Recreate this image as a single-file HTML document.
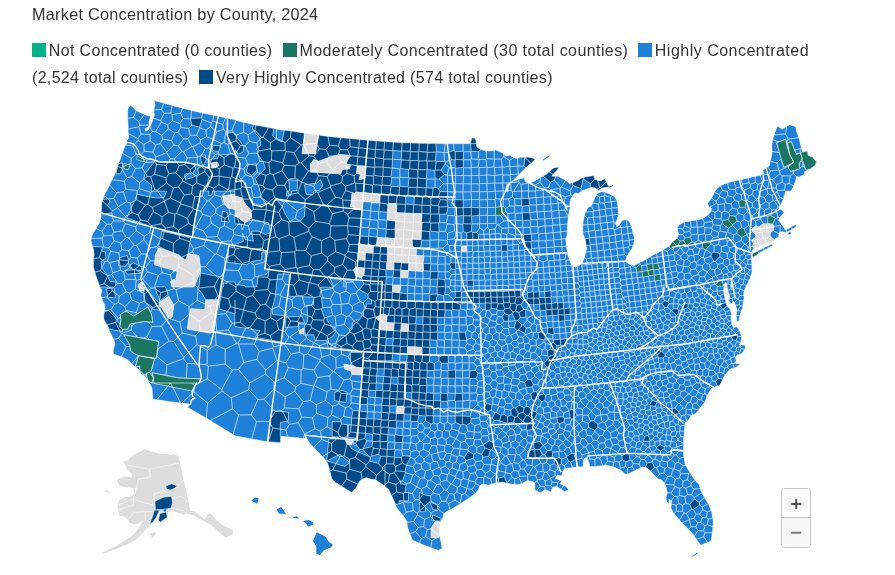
<!DOCTYPE html>
<html lang="en"><head><meta charset="utf-8"><title>Market Concentration by County, 2024</title>
<style>
html,body{margin:0;padding:0;background:#fff;}
body{width:895px;height:575px;position:relative;overflow:hidden;font-family:"Liberation Sans",sans-serif;color:#333;}
.t{position:absolute;white-space:nowrap;line-height:1;}
.title{left:32px;top:6.4px;font-size:16.2px;letter-spacing:0.29px;}
.lg{font-size:16px;}
.sw{position:absolute;width:14px;height:14px;}
.zc{position:absolute;left:781px;top:488px;width:28px;height:58px;border:1px solid #c8c8c8;border-radius:4px;background:#fff;overflow:hidden;}
.zc div{position:absolute;left:0;width:28px;height:27.6px;}
.zc .p{top:0;background:#fff;border-bottom:1px solid #c8c8c8;}
.zc .m{top:28.6px;height:30px;background:#f7f7f7;}
</style></head><body>
<svg width="895" height="575" viewBox="0 0 895 575" style="position:absolute;left:0;top:0">
<g stroke="#fff" stroke-width="0.36" stroke-linejoin="round">
<path fill="#1e80d6" d="M391.8,177.6 390.6,185.8 391,186.4 399.5,186.7 399.9,186.4 399.6,177.7ZM399.9,177.5 399.9,168.9 392,168 392,168 390.9,176.7 391.8,177.6 399.6,177.7ZM401.5,159.9 401.5,159.8 392.5,159.3 392,168 399.9,168.9 400.6,168.4ZM401.6,151 392.8,150.6 392.8,150.7 392.5,159.2 392.5,159.3 401.5,159.8ZM408.6,177.6 399.9,177.5 399.6,177.7 399.9,186.4 408.1,186.9 409,178.1ZM400.6,168.4 399.9,168.9 399.9,177.5 408.6,177.6 408.9,169.5ZM426.6,179.1 426,187.8 426,187.9 433,188.2 435.1,187.3 434.9,179.1ZM435.2,178.8 435,170.2 427.3,169.5 427,169.8 426.3,178.8 426.6,179.1 434.9,179.1ZM435.1,187.3 438.4,188.8 443.4,183.7 439,178.9 435.2,178.8 434.9,179.1ZM436.2,151.8 435.9,152.1 435.6,161.1 436,161.4 444.4,161.5 444.1,152.6ZM436.2,151.8 444.1,152.6 444.2,152.5 445,143.7 435.8,143.6ZM444.4,161.5 444.9,162 451.6,159.7 448.5,152.4 444.2,152.5 444.1,152.6ZM448.5,152.4 453.9,150.5 453.6,143.8 447.3,143.8 445,143.7 444.2,152.5ZM361.9,210.1 353.7,209.1 361.6,210 361.4,215.3ZM360.8,227.3 359.9,235.7 360.3,236.2 368.5,236.7 368.7,236.6 369.4,228.2 369,227.7ZM369.9,219.3 361.3,218.6 360.6,227.1 360.8,227.3 369,227.7 370.1,219.6ZM370.6,211 370.4,210.8 362,210 361.9,210.1 361,218.2 361.3,218.6 369.9,219.3ZM362.7,201.6 362,210 370.4,210.8 371.5,202.9 370.8,202ZM368.7,236.6 377.2,237.2 377.7,228.8 369.4,228.2ZM369,227.7 369.4,228.2 377.7,228.8 378.2,228.4 378.1,220.2 370.1,219.6ZM378.1,220.2 378.6,219.7 378.8,211.7 370.6,211 369.9,219.3 370.1,219.6ZM371.5,202.9 370.4,210.8 370.6,211 378.8,211.7 379,211.5 379.7,203ZM377.7,228.8 377.2,237.2 377.4,237.5 385.6,237.9 385.8,237.7 386.5,229.3 386.3,229 378.2,228.4ZM378.2,228.4 386.3,229 387,220.3 378.6,219.7 378.1,220.2ZM378.8,211.7 378.6,219.7 387,220.3 387.1,220.1 387.7,212.2 387.6,212.1 379,211.5ZM405.6,204.2 413.8,204.7 414.1,204.5 414.3,197 408,194.7 405.6,196.6ZM429.9,240.2 429.7,240 421.6,240.1 420.8,246.9 423.7,249 430,247.4ZM431,248.4 438.1,248.3 438.4,248 438.5,239.9 438.5,239.8 429.9,240.2 430,247.4ZM438.5,239.8 438.6,231.9 430.2,231 429.6,231.6 429.7,240 429.9,240.2ZM438.4,248 442.8,248.4 447.6,243.8 447,240.4 438.5,239.9ZM438.5,239.9 447,240.4 447.5,239.7 447.4,233.2 445.4,231.3 439,231.4 438.6,231.9 438.5,239.8ZM445.4,231.3 447.3,223.8 446.4,222.9 439.4,222.3 438.7,222.9 439,231.4ZM446.4,222.9 448,215.5 446.5,213.9 439,214.1 439.4,222.3ZM447.5,239.7 454.6,238.9 456.1,232.6 454.4,231 447.4,233.2ZM392.6,284.9 393.3,277.4 393,277 386.1,276.9 385.6,284.4 392.5,284.9ZM385.9,276.7 386.1,276.9 393,277 393.6,269.9 386.6,269.2 385.9,269.8ZM400.4,277.8 393.3,277.4 392.6,284.9 400.4,285.1ZM399.8,292.7 400,293.1 407.2,293.8 407.5,293.5 407.8,285.6 400.7,285.5ZM407.8,285.6 407.8,285.6 408.4,278.2 408,277.8 400.5,277.7 400.4,277.8 400.4,285.1 400.7,285.5ZM414.7,293.7 414.6,293.6 407.5,293.5 407.2,293.8 407.2,300.8 414.5,301.1ZM407.8,285.6 407.8,285.6 407.5,293.5 414.6,293.6 414.9,286.3ZM415.3,278.2 408.4,278.2 407.8,285.6 414.9,286.3 415.3,286 415.8,278.7ZM415.8,271 408.5,270.5 408.3,270.6 408,277.8 408.4,278.2 415.3,278.2ZM415.5,302.1 422.1,300.5 422.4,293.9 414.7,293.7 414.5,301.1ZM422.4,293.9 422.4,293.9 422.2,286.7 415.3,286 414.9,286.3 414.6,293.6 414.7,293.7ZM415.3,286 422.2,286.7 422.7,286.1 422.8,278.7 415.8,278.7ZM422.8,278.7 423,278.5 422.8,271.5 415.9,270.9 415.8,271 415.3,278.2 415.8,278.7ZM423.7,249 420.8,246.9 416.5,248.4 416.1,255.6 416.2,255.7 423.5,255.6ZM422.1,300.5 424,302.1 429.8,301.3 429.9,294.3 429.4,293.8 422.4,293.9 422.4,293.9ZM429.4,293.8 430.1,286.3 422.7,286.1 422.2,286.7 422.4,293.9ZM423,278.5 422.8,278.7 422.7,286.1 430.1,286.3 430.2,286.2 430.2,278.9 430.1,278.8ZM430.7,271.8 430.1,271.1 423.5,270.8 422.8,271.5 423,278.5 430.1,278.8ZM423,263.4 423.2,263.7 430.7,263.7 430.6,256.4 423.9,256ZM430.6,256.4 430.8,256.2 431,248.4 430,247.4 423.7,249 423.5,255.6 423.9,256ZM437.2,286.9 430.2,286.2 430.1,286.3 429.4,293.8 429.9,294.3 437.3,294.2ZM430.2,286.2 437.2,286.9 437.2,286.8 437.9,279.1 437.8,279 430.2,278.9ZM430.8,263.8 430.1,271.1 430.7,271.8 437.8,271.5 437.8,264.4 437.6,264.2ZM430.7,263.7 430.8,263.8 437.6,264.2 438,256.3 430.8,256.2 430.6,256.4ZM438,256.3 438.3,256.1 438.1,248.3 431,248.4 430.8,256.2ZM437.8,279 437.9,279.1 444.8,279.6 445.4,279 445.2,271.8 445.2,271.8 438,271.7ZM437.8,264.4 437.8,271.5 438,271.7 445.2,271.8 445.2,264ZM438.3,256.1 438,256.3 437.6,264.2 437.8,264.4 445.2,264 445.2,263.9 445.1,256.6ZM446.8,255 446.9,254.4 442.8,248.4 438.4,248 438.1,248.3 438.3,256.1 445.1,256.6ZM448.5,294.7 451.5,291.8 448.5,286.7 445.3,286.7 444.7,294.5ZM445.3,286.7 448.5,286.7 450.3,285.9 450.8,279.9 449.2,279 445.4,279 444.8,279.6 445.2,286.6ZM449.2,279 451.6,274.5 448.5,271.7 445.2,271.8 445.4,279ZM445.2,263.9 445.2,264 445.2,271.8 445.2,271.8 448.5,271.7 451.5,268.9 449.4,264.1ZM445.2,263.9 449.4,264.1 451,263.1 450.7,257.2 446.8,255 445.1,256.6ZM392.9,345.8 393.4,338.6 393,338.1 386,338 385.7,345.5 392.9,345.9ZM392.4,361.1 399.6,361.1 400.1,353.9 392.8,353.2 392.6,353.4 391.9,360.7ZM406.8,361.9 407.4,354.3 407.3,354.1 400.1,353.8 400.1,353.9 399.6,361.1 400.1,361.7ZM416,324.3 423,324.6 423.1,316.7 416.3,316.7 416.2,316.8 415.5,323.8ZM436.9,355.1 429.6,355.4 429.4,361.7 434.1,363.5 439.1,360.5 439.2,357.2ZM436.9,355.1 436.5,347.6 429.7,347.4 429.6,347.5 429.1,354.9 429.6,355.4ZM430,339.6 429.7,339.8 429.7,347.4 436.5,347.6 437.1,347 437,340.2ZM444.4,347.5 437.1,347 436.5,347.6 436.9,355.1 439.2,357.2 444.1,354.4 444.4,347.6ZM437.6,339.7 437,340.2 437.1,347 444.4,347.5 444.5,340ZM444.7,332.5 444.4,332.3 437.6,332.2 437.6,339.7 444.5,340 445,339.6ZM437.5,324.8 437.4,332.1 437.6,332.2 444.4,332.3 444.9,325 444.5,324.5ZM444.8,317.5 444.6,317.3 437.5,317.1 437.4,324.7 437.5,324.8 444.5,324.5ZM451.6,347.5 444.4,347.6 444.1,354.4 448.2,356.1 451.6,354.6ZM451.7,347.4 451.8,340.1 451.6,339.9 445,339.6 444.5,340 444.4,347.5 444.4,347.6 451.6,347.5ZM452.3,332.5 452,332.2 444.7,332.5 445,339.6 451.6,339.9ZM444.4,332.3 444.7,332.5 452,332.2 451.7,325.1 444.9,325ZM444.9,325 451.7,325.1 452.1,324.7 451.9,317.6 444.8,317.5 444.5,324.5ZM445,309.7 445,309.8 444.6,317.3 444.8,317.5 451.9,317.6 452.1,317.4 451.6,310ZM453.3,299.7 448.5,294.7 444.7,294.5 443.4,295.6 444,301.5 445,302.5 452.3,302 453,301.4ZM451.7,347.4 451.6,347.5 451.6,354.6 455.1,356.1 459.1,354.4 458.8,347.7ZM459.4,340.2 451.8,340.1 451.7,347.4 458.8,347.7 458.9,347.6ZM458.9,332.5 452.3,332.5 451.6,339.9 451.8,340.1 459.4,340.2 459.4,340.1ZM451.7,325.1 452,332.2 452.3,332.5 458.9,332.5 459.1,332.4 459.2,325 459.2,324.9 452.1,324.7ZM451.9,317.6 452.1,324.7 459.2,324.9 459.3,317.3 459,317.1 452.1,317.4ZM452.1,317.4 459,317.1 459.2,309.9 452.3,309.5 451.6,310ZM458.8,347.7 459.1,354.4 462.1,356 466.4,354.4 467.1,351.5 464.8,347.7 458.9,347.6ZM466.4,340.1 459.4,340.1 459.4,340.2 458.9,347.6 464.8,347.7 467.2,343.5ZM466.3,324.9 459.2,325 459.1,332.4 465.1,332.3 467.4,330.2 467.3,325.7ZM459.3,317.3 459.2,324.9 459.2,325 466.3,324.9 465.9,317.4ZM467.2,316.2 466.1,310.2 460.2,308.9 459.2,309.9 459,317.1 459.3,317.3 465.9,317.4ZM404.6,392.4 404.2,399.1 404.5,399.5 411.8,400 411.9,399.9 411.9,392.4ZM417.5,421.6 419,423.5 422.2,423.6 425.5,420.8 425.8,415.9 418.7,415.3ZM433.6,393.4 433.7,393.3 433.7,385.4 433.6,385.3 426.7,385.4 426.6,392.8ZM426.7,385.4 433.6,385.3 434.1,378.1 426.8,377.5 426.3,378 426.7,385.4ZM427.1,370.3 427,370.4 426.8,377.5 434.1,378.1 434.4,377.9 433.9,370.3ZM437,424.2 440.1,422.3 440.2,416.1 440.2,416.1 433.1,415.9 433,422.9ZM432.9,415.7 433.1,415.9 440.2,416.1 440.3,408.6 433.4,408.4ZM433.7,393.3 433.6,393.4 433.4,400.5 433.5,400.6 440.5,401 440.8,393.3 440.7,393.1ZM440.9,385.9 433.7,385.4 433.7,393.3 440.7,393.1ZM441.2,378.3 440.7,377.8 434.4,377.9 434.1,378.1 433.6,385.3 433.7,385.4 440.9,385.9 441.2,385.6ZM434,370.1 433.9,370.3 434.4,377.9 440.7,377.8 441.3,370.4 440.9,370ZM434.1,363.5 434,370.1 440.9,370 441.5,363.1 439.1,360.5ZM440.2,416.1 440.1,422.3 444.2,424.1 447.6,422.1 447.8,416.1ZM447.5,408.8 440.3,408.5 440.3,408.6 440.2,416.1 440.2,416.1 447.8,416.1 448,415.9ZM440.6,401.1 440.3,408.5 447.5,408.8 448.2,408.1 447.6,401.1ZM440.8,393.3 447.5,393.6 448,393.1 448,385.9 441.2,385.6 440.9,385.9 440.7,393.1ZM448,385.9 448.4,385.6 448.3,378 448.2,378 441.2,378.3 441.2,385.6ZM448.1,370.9 441.3,370.4 440.7,377.8 441.2,378.3 448.2,378ZM447.9,363.1 441.5,363.1 440.9,370 441.3,370.4 448.1,370.9 448.5,370.5ZM455.2,416 448,415.9 447.8,416.1 447.6,422.1 451.9,424.6 455.3,422.3 455.3,416.1ZM448.2,408.1 447.5,408.8 448,415.9 455.2,416 455.4,408.2 455.4,408.2ZM455,400.4 447.9,400.8 447.6,401.1 448.2,408.1 455.4,408.2 455.5,400.9ZM447.5,393.6 447.9,400.8 455,400.4 455.4,393.4 448,393.1ZM455.4,393.4 455.4,393.4 455.2,385.9 455.2,385.9 448.4,385.6 448,385.9 448,393.1ZM448.4,385.6 455.2,385.9 455.5,378 448.3,378ZM455.3,363.2 455,362.9 448.3,362.8 447.9,363.1 448.5,370.5 455.2,370.1ZM448.2,356.1 448.3,362.8 455,362.9 455.1,356.1 451.6,354.6ZM462.4,416.1 462.5,416 462.8,408.4 462.7,408.4 455.4,408.2 455.2,416 455.3,416.1ZM455.4,408.2 455.4,408.2 462.7,408.4 462.7,400.9 462.6,400.8 455.5,400.9ZM462.1,393.4 462.4,393.1 462.2,385.6 455.2,385.9 455.4,393.4ZM455.2,385.9 455.2,385.9 462.2,385.6 462.5,385.3 462.3,378.2 455.6,377.9 455.5,378ZM455.6,377.9 462.3,378.2 462.5,378 462.5,370.5 462.3,370.3 455.4,370.3ZM455.3,363.2 455.2,370.1 455.4,370.3 462.3,370.3 462.4,362.9 462.3,362.7ZM459.1,354.4 455.1,356.1 455,362.9 455.3,363.2 462.3,362.7 462.1,356ZM462.8,408.4 462.5,416 469.9,416.5 471.8,410.5 471.7,410.3 469.6,408.4ZM462.8,408.4 469.6,408.4 470,400.6 469.7,400.3 462.7,400.9 462.7,408.4ZM462.7,400.9 469.7,400.3 469.6,393.2 469.4,393 462.4,393.1 462.1,393.4 462.6,400.8ZM469.3,385.8 462.5,385.3 462.2,385.6 462.4,393.1 469.4,393ZM469.9,378.2 469.5,377.8 462.5,378 462.3,378.2 462.5,385.3 469.3,385.8 469.5,385.6ZM469.1,370.2 462.5,370.5 462.5,378 469.5,377.8 469.9,370.9ZM462.4,362.9 462.3,370.3 462.5,370.5 469.1,370.2 469.2,362.9ZM462.1,356 462.3,362.7 462.4,362.9 469.2,362.9 469.2,362.9 469.1,356.8 466.4,354.4ZM469.6,408.4 471.7,410.3 477.9,404.4 477.8,402.5 476.3,400.8 470,400.6ZM469.6,393.2 469.7,400.3 470,400.6 476.3,400.8 477.7,394.6 476.1,392.8ZM469.5,385.6 469.3,385.8 469.4,393 469.6,393.2 476.1,392.8 477.4,386.4 477.1,385.7ZM478.1,381.4 476,378.4 469.9,378.2 469.5,385.6 477.1,385.7ZM469.2,362.9 469.1,370.2 469.9,370.9 475.4,370.4 476.8,366.5 473.6,362.9 469.2,362.9ZM469.1,356.8 469.2,362.9 473.6,362.9 476.7,358.3 474.6,355.3ZM350.5,432.1 348.3,434.2 349,425 351.1,425.2 347.3,424.8 347.6,435 345.2,437.3 341.9,437.2 339.5,436.3 344.4,438.1ZM351.6,418.1 343.7,416.3 340.6,418.9 341.3,424.1 351.1,425.2 351.4,425 351.6,418.1ZM355,439.1 355,438.4 357.6,438.4 358,432.8 357.9,432.6 350.5,432.1 356.7,432.5 356.5,438 348.1,437.5 348.3,434.2 347.5,435 347.6,435 347.6,437.5 345.2,437.3 344.4,438.1 347.4,441.9 345.2,439.2 353.1,439.6 352.2,442.7 354,443.1 354,439.1ZM360.4,404.5 359.9,403.9 351.2,403 349,406.5 353.1,410.6 359.4,411.1ZM360.5,396.9 351,396 351.2,403 359.9,403.9ZM361.4,389.6 361.3,389.6 352.8,388.8 349.8,394.1 351,396 360.5,396.9 360.9,396.7ZM361.7,382 351.7,381.2 352.8,388.8 361.3,389.6 361.9,382.3ZM351.8,374.5 350,378.9 351.7,381.2 361.7,382 362.5,374.8ZM361.2,367.8 362.7,368 362.8,367.9 362.9,367.5ZM363.2,357.2 363.2,364.1 363.8,357.7ZM350.7,365.4 350.8,365.5 352.3,365.8 355.4,367.1 356.3,367.2 352.3,364.9 351.4,362.6 351.1,362.7ZM367.2,411.8 367.3,411.8 367.4,404.4 360.4,404.5 359.4,411.1 359.5,411.2ZM366.6,440.7 363,448.9 372.1,446.5 372.6,441.6 372.3,441.2ZM365.5,433.5 364.8,438.4 366.6,440.7 372.3,441.2 372.7,434.1ZM366.6,418.8 366.7,418.9 373.9,419.1 374,419 374.1,412.1 374.1,412 367.3,411.8 367.2,411.8ZM374.1,412 374.8,404.9 374.6,404.7 367.5,404.2 367.4,404.4 367.3,411.8ZM374.6,404.7 375.1,397.6 368.5,396.8 367.5,397.7 367.5,404.2ZM368.5,396.8 375.1,397.6 375.5,397.3 375.9,390.5 375.9,390.5 368.6,390.1ZM381.3,419.6 381.6,412.5 374.1,412.1 374,419ZM374.8,404.9 374.1,412 374.1,412.1 381.6,412.5 381.8,412.3 382,405.3 381.9,405.2ZM382.6,398 375.5,397.3 375.1,397.6 374.6,404.7 374.8,404.9 381.9,405.2 382.7,398.2ZM375.9,390.5 375.9,390.5 382.8,390.6 383,383.7 376.4,382.8 376,383.2ZM376.4,376.1 376.4,382.8 383,383.7 383.1,383.6 383.9,376.5 376.6,375.9ZM377.4,368.8 377.2,369 376.6,375.9 383.9,376.5 384,376.4 384.4,368.7ZM387.1,449.5 394.4,449.3 394.8,442.3 394.8,442.3 387.7,442ZM387.7,442 394.8,442.3 395,435.3 387.9,434.6 387.9,434.6 387.3,441.5ZM395.9,428.1 388.7,427.6 387.9,434.6 395,435.3 395.5,434.9ZM389.2,412.7 396.3,413.3 396.9,406.2 396.5,405.8 389.5,405.7 389.4,405.8ZM390.5,383.8 397.5,384.6 398.2,384 398.1,377 391.2,376.9 390.9,377.1ZM394.6,457.6 401.2,457.5 402.5,455.7 401.8,450 394.8,449.7 394.2,457.1ZM402.3,442.6 394.8,442.3 394.4,449.3 394.8,449.7 401.8,450 402.3,449.4 402.4,442.7ZM396,427.9 395.9,428.1 395.5,434.9 402.6,435.7 403,428.4ZM396.2,420.7 396,427.9 403,428.4 403.6,428 403.6,421.1ZM410.5,443 402.4,442.7 402.3,449.4 409.1,449.4ZM410.8,442.7 411,436.3 410.4,435.7 402.9,436 402.3,442.6 402.4,442.7 410.5,443ZM410.4,435.7 410.3,428.8 403.6,428 403,428.4 402.6,435.7 402.9,436ZM403.6,421.1 403.6,421.1 403.6,428 410.3,428.8 410.5,428.6 411,421.2 410.8,421.1ZM411,414.6 410.8,414.3 404,413.8 403.6,421.1 410.8,421.1ZM417.2,435.6 419.2,432.3 416.8,428.5 410.5,428.6 410.3,428.8 410.4,435.7 411,436.3ZM410.5,428.6 416.8,428.5 419,423.5 417.5,421.6 411,421.2ZM438.4,188.8 440,191.7 447.4,191.8 447.5,191.7 447.5,183.8 443.4,183.7ZM443.4,183.7 447.5,183.8 447.7,183.6 447.5,175.3 447.1,175 444.4,174.6 439,178.9ZM454.8,215.7 448,215.5 446.4,222.9 447.3,223.8 454.1,224.7 455.1,223.7 455.3,216.1ZM455.2,207.8 455,207.6 447.9,207.5 446.5,213.9 448,215.5 454.8,215.7ZM455,199.7 447.3,199.7 446.9,200 447.2,206.7 447.9,207.5 455,207.6ZM455.1,199.7 455.4,192 447.5,191.7 447.4,191.8 447.3,199.7 455,199.7ZM455.4,192 455.3,183.6 447.7,183.6 447.5,183.8 447.5,191.7 455.4,192ZM455.6,175.5 447.5,175.3 447.7,183.6 455.3,183.6 455.3,183.6 455.6,175.5ZM455.6,168 455.2,167.6 449.2,167.8 447.1,175 447.5,175.3 455.6,175.5ZM455.2,159.7 451.6,159.7 444.9,162 445.2,163.5 449.2,167.8 455.2,167.6ZM461.2,232.8 463.3,231.5 462.9,224.3 455.1,223.7 454.1,224.7 454.4,231 456.1,232.6ZM455.3,216.1 455.1,223.7 462.9,224.3 463.4,223.7 463.7,215.8 463.4,215.6ZM463.2,200 463,191.9 455.4,192 455.4,192 455.1,199.7 463.1,200.1ZM455.3,183.6 455.4,192 463,191.9 463.1,191.9 463.2,183.8 455.3,183.6ZM463.4,175.6 463.4,175.6 455.6,175.5 455.3,183.6 463.2,183.8 463.2,183.7ZM463.4,175.6 463.5,167.8 463.1,167.4 455.6,168 455.6,175.5 455.6,175.5ZM453.9,150.5 455.3,151.8 463,151.3 463.1,143.8 453.6,143.8ZM471.4,199.6 463.2,200 463.1,200.1 463.1,207.7 463.2,207.8 471.3,207.4 471.4,207.4 471.5,199.7ZM471,191.9 463.1,191.9 463,191.9 463.2,200 471.4,199.6ZM463.2,183.7 463.2,183.8 463.1,191.9 471,191.9 471.2,191.6 471.2,184ZM471.3,175.7 463.4,175.6 463.2,183.7 471.2,184 471.3,183.9ZM471.3,175.7 471.3,175.6 471.2,167.8 463.5,167.8 463.4,175.6 463.4,175.6ZM470.7,159.8 463.2,159.8 463.2,159.8 463.1,167.4 463.5,167.8 471.2,167.8 471.4,167.5ZM470.9,151.7 463.5,151.8 463.2,159.8 470.7,159.8 471.4,159.1ZM463,151.3 463.5,151.8 470.9,151.7 471.2,151.3 470.9,143.7 470.6,143.4 470.5,143.8 463.1,143.8ZM472.8,232.6 476.5,232.7 479.6,227.8 479.5,223.9 471.9,223.8 471.8,224 471.3,231.6ZM471.9,223.8 479.5,223.9 479.8,223.7 479.4,215.4 479.3,215.2 471.5,216ZM471.5,199.7 471.4,207.4 479.1,207.9 479.6,207.4 479.6,199.8 479.2,199.5ZM479.5,191.9 479.3,191.7 471.2,191.6 471,191.9 471.4,199.6 471.5,199.7 479.2,199.5ZM479.2,183.8 471.3,183.9 471.2,184 471.2,191.6 479.3,191.7ZM479.5,183.5 479,175.5 471.3,175.6 471.3,175.7 471.3,183.9 479.2,183.8ZM471.4,167.5 471.2,167.8 471.3,175.6 479,175.5 479.1,175.4 479,167.7 478.4,167.2ZM478.6,159.3 471.4,159.1 470.7,159.8 471.4,167.5 478.4,167.2 478.9,159.6ZM471.2,151.3 470.9,151.7 471.4,159.1 478.6,159.3 478.7,151.4ZM479.8,223.7 479.5,223.9 479.6,227.8 483.8,230.8 487.5,227 487.4,223.7ZM487.5,215.5 487.3,215.3 479.4,215.4 479.8,223.7 487.4,223.7 487.5,223.5ZM479.4,215.4 487.3,215.3 487.6,207.6 479.6,207.4 479.1,207.9 479.3,215.2ZM479.6,207.4 487.6,207.6 487.7,207.4 487.3,199.7 479.6,199.8ZM479.6,199.8 487.3,199.7 487.6,199.4 487.4,191.9 487.1,191.6 479.5,191.9 479.2,199.5ZM487.1,191.6 486.9,183.6 479.5,183.5 479.2,183.8 479.3,191.7 479.5,191.9ZM487,183.4 486.8,175.1 479.1,175.4 479,175.5 479.5,183.5 486.9,183.6ZM486.8,175 487,167.5 486.8,167.3 479,167.7 479.1,175.4 486.8,175.1ZM478.9,159.6 478.4,167.2 479,167.7 486.8,167.3 486,159.4ZM478.7,151.4 478.6,159.3 478.9,159.6 486,159.4 486.6,158.8 486.2,150.9 480.7,149.5ZM497.2,224.6 496.1,223.5 487.5,223.5 487.4,223.7 487.5,227 489.4,229.7 495.1,229ZM487.5,215.5 487.5,223.5 496.1,223.5 495.9,215.4ZM487.6,207.6 487.3,215.3 487.5,215.5 495.9,215.4 495.9,215.3 495.6,207.4 495.6,207.4 487.7,207.4ZM487.3,199.7 487.7,207.4 495.6,207.4 495.1,199.5 487.6,199.4ZM495.1,199.5 495.7,198.8 495.3,191.3 495.2,191.2 487.4,191.9 487.6,199.4ZM495.2,191.2 494.7,183.1 487,183.4 486.9,183.6 487.1,191.6 487.4,191.9ZM494.7,183.1 494.7,175.5 486.8,175 486.8,175.1 487,183.4 494.7,183.1ZM494.9,175.3 494.4,167.4 493.9,167 487,167.5 486.8,175 494.7,175.5ZM486.8,167.3 487,167.5 493.9,167 494.4,159.1 494.3,159 486.6,158.8 486,159.4ZM494.3,159 494.2,150.5 492.3,151.1 487.2,151.1 486.2,150.9 486.6,158.8ZM498.5,224.9 503.9,220.9 500.5,215.1 495.9,215.3 495.9,215.4 496.1,223.5 497.2,224.6ZM495.6,207.4 495.6,207.4 503.2,206.6 503.3,199.1 495.7,198.8 495.1,199.5ZM503.3,199.1 503.4,199.1 503.1,190.9 503.1,190.9 495.3,191.3 495.7,198.8ZM495.3,191.3 503.1,190.9 502.7,183 494.7,183.1 494.7,183.1 495.2,191.2ZM502.7,183 502.8,182.9 502.7,175 502.5,174.7 494.9,175.3 494.7,175.5 494.7,183.1ZM502.3,167.1 494.4,167.4 494.9,175.3 502.5,174.7ZM502.3,167.1 501.3,159.1 494.4,159.1 493.9,167 494.4,167.4 502.3,167.1ZM494.3,159 494.4,159.1 501.3,159.1 503.7,156.7 503.9,154.4 502.3,152.8 495.6,150 494.2,150.5ZM509.7,206 508.7,198.9 503.4,199.1 503.3,199.1 503.2,206.6 505.4,208.6ZM508.7,198.9 512.5,196.8 512.5,191.9 511.1,190.6 503.1,190.9 503.4,199.1ZM502.7,183 503.1,190.9 503.1,190.9 511.1,190.6 510.7,182.8 502.8,182.9ZM502.8,182.9 510.7,182.8 510.8,182.7 510.8,182.5 510.6,182.6 510.8,182.5 510.1,174.9 502.7,175ZM502.7,175 510.1,174.9 510.4,174.6 509.9,166.5 509.8,166.3 502.3,167.1 502.3,167.1 502.5,174.7ZM509.8,166.3 509.5,160.3 503.7,156.7 501.3,159.1 502.3,167.1ZM510.7,182.8 511.1,190.6 512.5,191.9 513.7,191.5 519.1,182.6 518.5,181.8 510.8,182.7ZM510.8,182.5 513.3,180.2 517.2,176.3 518.9,174.7 518.3,174.1 510.4,174.6 510.1,174.9ZM510.8,182.7 518.5,181.8 519.1,179.1 515.7,180.4 510.8,182.5ZM510.4,174.6 518.3,174.1 517.7,166.3 517.7,166.3 509.9,166.5ZM509.5,160.3 509.8,166.3 509.9,166.5 517.7,166.3 517.7,158.6 517.4,158.7 514,157.8 513.8,157.7ZM524,165.9 517.7,166.3 518.3,174.1 518.9,174.7 521.9,171.6 526.1,167.4ZM517.7,166.3 517.7,166.3 524,165.9 525,157.5 525,157.3 520.7,157.3 517.7,158.6ZM455.4,297.4 455.2,291.7 455.2,291.6 451.5,291.8 448.5,294.7 453.3,299.7ZM450.3,285.9 448.5,286.7 451.5,291.8 455.2,291.6 454.9,286ZM450.3,285.9 454.9,286 455,285.8 455.5,280.5 455.1,280 450.8,279.9ZM455.1,280 455.3,274.5 451.6,274.5 449.2,279 450.8,279.9ZM455.4,274.3 455,269.2 451.5,268.9 448.5,271.7 451.6,274.5 455.3,274.5ZM451,263.1 455.3,263.1 455.6,262.8 455.4,257.1 455.3,257 450.7,257.2ZM450.7,257.2 455.3,257 455.3,251.4 449.9,251.2 446.9,254.4 446.8,255ZM455.3,251.4 455.4,251.3 455.6,245.6 455.6,245.6 449.3,245.5 449.9,251.2ZM455.6,245.6 455.7,240 454.6,238.9 447.5,239.7 447,240.4 447.6,243.8 449.3,245.5ZM461.2,291.4 461.2,286.2 455,285.8 454.9,286 455.2,291.6 455.2,291.7ZM461.2,286.2 461.3,286.1 461.3,280.4 461.1,280.2 455.5,280.5 455,285.8ZM455.1,280 455.5,280.5 461.1,280.2 461,274.6 460.9,274.4 455.4,274.3 455.3,274.5ZM455,269.2 455.4,274.3 460.9,274.4 461.3,269 461,268.7 455.5,268.7ZM455.3,263.1 455.5,268.7 461,268.7 461.2,263.3 461,263 455.6,262.8ZM455.6,262.8 461,263 461.4,257.4 461,257 455.4,257.1ZM461,257 461.4,251.7 461.3,251.6 455.4,251.3 455.3,251.4 455.3,257 455.4,257.1ZM455.6,245.6 455.4,251.3 461.3,251.6 461.5,246 461.3,245.8ZM455.7,240 455.6,245.6 455.6,245.6 461.3,245.8 461.4,240.1 461.2,239.9ZM461.2,232.8 456.1,232.6 454.6,238.9 455.7,240 461.2,239.9ZM461.4,303.1 460.1,304.4 460.2,308.9 466.1,310.2 467,309.4 467.5,303.4 467.1,302.9ZM467.3,297.4 461.3,297.4 461.4,303.1 467.1,302.9ZM467.3,297.4 467.3,291.7 461.4,291.7 461.2,297.3 461.3,297.4 467.3,297.4ZM467.2,286 461.3,286.1 461.2,286.2 461.2,291.4 461.4,291.7 467.3,291.7 467.4,291.6 467.3,286.1ZM466.9,280.2 461.3,280.4 461.3,286.1 467.2,286 467.2,280.5ZM466.9,274.6 461,274.6 461.1,280.2 461.3,280.4 466.9,280.2ZM461.3,269 460.9,274.4 461,274.6 466.9,274.6 467.1,274.4 466.7,269ZM466.9,263.3 461.2,263.3 461,268.7 461.3,269 466.7,269 466.9,268.8ZM461,263 461.2,263.3 466.9,263.3 467.2,262.9 467.1,257.6 461.4,257.4ZM467.1,257.6 467.2,257.4 467,251.8 461.4,251.7 461,257 461.4,257.4ZM461.3,245.8 461.5,246 466.9,245.8 467,245.7 466.9,239.9 461.4,240.1ZM461.4,240.1 466.9,239.9 466.9,239.8 466.9,232.8 463.3,231.5 461.2,232.8 461.2,239.9ZM474.4,310.1 473.3,309.1 467,309.4 466.1,310.2 467.2,316.2 472.1,316.6 475,312.6ZM473.3,309.1 472.9,303.4 467.5,303.4 467,309.4ZM467.4,291.6 473.2,291.6 473.4,285.9 467.3,286.1ZM466.9,274.6 466.9,280.2 467.2,280.5 472.9,280.2 473,274.6 472.7,274.3 467.1,274.4ZM466.7,269 467.1,274.4 472.7,274.3 472.9,268.7 466.9,268.8ZM472.9,268.7 472.9,268.6 472.7,263.4 467.2,262.9 466.9,263.3 466.9,268.8ZM473,263.1 473.1,257.5 472.7,257.1 467.2,257.4 467.1,257.6 467.2,262.9 472.7,263.4ZM472.9,251.8 472.5,251.4 467.1,251.7 467,251.8 467.2,257.4 472.7,257.1ZM472.5,251.4 472.5,245.9 472.5,245.8 467,245.7 466.9,245.8 467.1,251.7ZM466.9,239.9 467,245.7 472.5,245.8 472.5,240 466.9,239.8ZM472.9,303.4 473.3,309.1 474.4,310.1 479.3,306.9 479.3,303.4 473.2,303.1ZM473.2,291.6 473.3,291.7 479.1,291.7 479.2,291.6 479.2,285.8 479.2,285.8 473.4,285.8 473.4,285.9ZM473.4,285.8 479.2,285.8 479.1,280.4 478.8,280 472.9,280.2ZM472.9,280.2 478.8,280 478.9,274.4 478.8,274.3 473,274.6 472.9,280.2ZM473,274.6 478.8,274.3 479,268.8 478.9,268.8 472.9,268.6 472.9,268.7 472.7,274.3ZM472.9,268.6 478.9,268.8 478.8,263.3 478.6,263.1 473,263.1 472.7,263.4ZM478.6,263.1 478.7,257.3 473.1,257.5 473,263.1ZM478.7,257.3 478.7,257.2 478.4,251.7 478.2,251.5 472.9,251.8 472.7,257.1 473.1,257.5ZM478.2,251.5 478.3,245.7 472.5,245.9 472.5,251.4 472.9,251.8ZM478.3,245.7 478.1,240.2 472.7,239.9 472.5,240 472.5,245.8 472.5,245.9 478.3,245.7ZM485.3,303 479.4,303.2 479.3,303.4 479.3,306.9 482.8,309.8 485.4,309.6ZM484.9,285.7 479.2,285.8 479.2,291.6 484.9,291.7 485.2,291.4 485,285.9ZM479.1,280.4 479.2,285.8 479.2,285.8 484.9,285.7 485.1,280.2 484.8,279.9ZM478.9,274.4 478.8,280 479.1,280.4 484.8,279.9 484.4,274.8ZM485,274.1 484.5,268.7 479,268.8 478.8,274.3 478.9,274.4 484.4,274.8ZM478.9,268.8 479,268.8 484.5,268.7 484.6,268.6 484.5,262.8 478.8,263.3ZM484.1,257.3 478.7,257.2 478.7,257.3 478.6,263.1 478.8,263.3 484.5,262.8 484.7,262.6ZM484.4,257 484.2,251.4 478.4,251.7 478.7,257.2 484.1,257.3ZM484.2,251.4 484.2,251.3 483.7,245.7 478.3,245.7 478.3,245.7 478.2,251.5 478.4,251.7ZM484,245.5 484,240 478.4,239.8 478.1,240.2 478.3,245.7 483.7,245.7ZM484,234.2 483.9,234.2 478.4,234.4 478.4,239.8 484,240 484.1,239.9ZM483.8,230.8 479.6,227.8 476.5,232.7 478.4,234.4 483.9,234.2ZM485,285.9 485.2,291.4 490.8,291.7 491,291.5 490.8,285.7ZM490.9,280.1 490.6,279.8 485.1,280.2 484.9,285.7 485,285.9 490.8,285.7 490.9,285.6ZM484.8,279.9 485.1,280.2 490.6,279.8 490.8,274.6 490.3,274.1 485,274.1 484.4,274.8ZM485,274.1 490.3,274.1 490.5,268.5 490.3,268.3 484.6,268.6 484.5,268.7ZM484.7,262.6 484.5,262.8 484.6,268.6 490.3,268.3 490.1,262.8ZM484.4,257 484.1,257.3 484.7,262.6 490.1,262.8 490.2,262.7 490.6,257.1 490.1,256.7ZM490.1,251.3 489.8,251 484.2,251.3 484.2,251.4 484.4,257 490.1,256.7ZM489.8,245.5 484,245.5 483.7,245.7 484.2,251.3 489.8,251ZM484.1,239.9 484,240 484,245.5 489.8,245.5 489.9,245.4 489.6,239.8ZM489.6,234.3 489.3,234.1 484,234.2 484.1,239.9 489.6,239.8 489.9,239.6ZM489.4,229.7 487.5,227 483.8,230.8 483.9,234.2 484,234.2 489.3,234.1ZM490.9,285.6 490.8,285.7 491,291.5 496.9,291.2 496.9,285.8ZM497.1,285.5 496.7,280.1 490.9,280.1 490.9,285.6 496.9,285.8ZM496.8,279.9 496.4,274 490.8,274.6 490.6,279.8 490.9,280.1 496.7,280.1ZM490.3,274.1 490.8,274.6 496.4,274 496.6,273.8 496.2,268.4 490.5,268.5ZM490.1,262.8 490.3,268.3 490.5,268.5 496.2,268.4 496.3,268.3 496.2,262.8 490.2,262.7ZM496.1,256.8 490.6,257.1 490.2,262.7 496.2,262.8 496.3,262.7 496.1,256.8ZM495.9,251.2 495.8,251 490.1,251.3 490.1,256.7 490.6,257.1 496.1,256.8ZM495.6,245.3 489.9,245.4 489.8,245.5 489.8,251 490.1,251.3 495.8,251 495.6,245.4ZM489.6,239.8 489.9,245.4 495.6,245.3 495.6,239.6 489.9,239.6ZM495.6,239.6 495.7,239.6 495.2,233.8 489.6,234.3 489.9,239.6ZM495.1,229 489.4,229.7 489.3,234.1 489.6,234.3 495.2,233.8 495.3,233.6ZM496.9,291.2 496.9,291.3 502.8,291.3 502.8,285.4 502.8,285.4 497.1,285.5 496.9,285.8ZM502.8,285.4 502.9,279.9 502.4,279.4 496.8,279.9 496.7,280.1 497.1,285.5ZM502.4,279.4 502.2,274 496.6,273.8 496.4,274 496.8,279.9ZM496.3,268.3 496.2,268.4 496.6,273.8 502.2,274 502.3,273.9 502.4,268.1 502.3,268ZM496.3,262.7 496.2,262.8 496.3,268.3 502.3,268 502,262.4ZM496.1,256.8 496.3,262.7 502,262.4 502.1,262.4 501.9,257.1 501.6,256.8ZM501.8,251.1 501.5,250.9 495.9,251.2 496.1,256.8 496.1,256.8 501.6,256.8ZM495.6,245.4 495.8,251 495.9,251.2 501.5,250.9 501.4,245.3ZM501,239.2 495.7,239.6 495.6,239.6 495.6,245.3 495.6,245.4 501.4,245.3 501.4,245.2 501,239.2ZM500.9,233.7 495.3,233.6 495.2,233.8 495.7,239.6 501,239.2ZM501.4,233.2 501.8,228.2 498.5,224.9 497.2,224.6 495.1,229 495.3,233.6 500.9,233.7ZM508.8,291 508.5,285.7 502.8,285.4 502.8,291.3 502.9,291.5 508.7,291.1ZM508.5,285.7 509,285.1 508.5,279.5 508.4,279.4 502.9,279.9 502.8,285.4 502.8,285.4ZM508.3,273.8 508.3,273.8 502.3,273.9 502.2,274 502.4,279.4 502.9,279.9 508.4,279.4ZM502.4,268.1 502.3,273.9 508.3,273.8 508,268ZM507.8,262.4 502.1,262.4 502,262.4 502.3,268 502.4,268.1 508,268 508.1,267.9ZM502.1,262.4 507.8,262.4 508.1,262.1 507.4,256.5 501.9,257.1ZM501.9,257.1 507.4,256.5 507.5,256.3 507.1,250.9 501.8,251.1 501.6,256.8ZM501.4,245.2 507,244.9 507,239.4 506.8,239.2 501,239.2ZM506.8,239.2 506.9,234.4 501.4,233.2 500.9,233.7 501,239.2 501,239.2ZM514.6,290.8 515.1,290.2 514.5,285 509,285.1 508.5,285.7 508.8,291ZM514.7,284.7 514.7,279.4 514.4,279.2 508.5,279.5 509,285.1 514.5,285ZM514.4,279.2 514,273.5 508.3,273.8 508.4,279.4 508.5,279.5ZM508.1,267.9 508,268 508.3,273.8 508.3,273.8 514,273.5 514.1,273.4 513.9,267.7 513.8,267.7ZM507.8,262.4 508.1,267.9 513.8,267.7 513.8,262 513.5,261.7 508.1,262.1ZM507.4,256.5 508.1,262.1 513.5,261.7 513.6,256.4 513.3,256.1 507.5,256.3ZM513.3,256.1 512.9,250.7 507.3,250.7 507.1,250.9 507.5,256.3ZM507.3,250.7 512.9,250.7 513.2,250.3 512.7,245 507.1,245.1ZM507,239.4 507,244.9 507.1,245.1 512.7,245 512.9,244.7 512.6,239.2ZM507,239.4 512.6,239.2 514.9,236.8 515.1,235.6 508.3,233 506.9,234.4 506.8,239.2ZM514.7,284.7 514.5,285 515.1,290.2 520.7,290.4 520.8,290.3 520.8,284.8 520.7,284.6ZM520.3,278.9 520.1,278.7 514.7,279.4 514.7,284.7 520.7,284.6ZM514.7,279.4 520.1,278.7 519.7,273.3 514.1,273.4 514,273.5 514.4,279.2ZM514.1,273.4 519.7,273.3 520,273 519.5,267.6 513.9,267.7ZM513.8,267.7 513.9,267.7 519.5,267.6 519.9,267.2 519.4,261.9 513.8,262ZM513.8,262 519.4,261.9 519.7,261.6 519.1,256.1 518.8,255.8 513.6,256.4 513.5,261.7ZM512.9,250.7 513.3,256.1 513.6,256.4 518.8,255.8 518.9,250.4 518.6,250.1 513.2,250.3ZM512.9,244.7 512.7,245 513.2,250.3 518.6,250.1 518.6,244.5ZM519.9,243 514.9,236.8 512.6,239.2 512.9,244.7 518.6,244.5ZM520.7,290.4 520.7,295.3 527.3,293.8 527.7,292.5 526.5,290.4 520.8,290.3ZM520.8,290.3 526.5,290.4 527.6,286.5 526,284.3 520.8,284.8ZM520.8,284.8 526,284.3 527.3,279.6 526.1,278.5 520.3,278.9 520.7,284.6ZM526.1,278.5 525.7,272.9 525.6,272.8 520,273 519.7,273.3 520.1,278.7 520.3,278.9ZM519.5,267.6 520,273 525.6,272.8 525.3,267 519.9,267.2ZM519.9,267.2 525.3,267 525.4,267 525.3,261.5 525.1,261.3 519.7,261.6 519.4,261.9ZM519.7,261.6 525.1,261.3 524.9,255.7 519.1,256.1ZM518.8,255.8 519.1,256.1 524.9,255.7 524.9,255.6 524.6,250.1 518.9,250.4ZM518.6,250.1 518.9,250.4 524.6,250.1 525.5,249.1 523.1,242.3 519.9,243 518.6,244.5ZM531.5,279.1 532.6,273.9 531.4,272.4 531.3,272.3 525.7,272.9 526.1,278.5 527.3,279.6ZM525.3,267 525.6,272.8 525.7,272.9 531.3,272.3 531.2,267 531.2,267 525.4,267ZM525.3,261.5 525.4,267 531.2,267 531,261.1ZM524.9,255.7 525.1,261.3 525.3,261.5 531,261.1 531,261.1 530.8,255.6 524.9,255.6ZM524.6,250.1 524.9,255.6 530.8,255.6 532,254.1 531.5,248.9 525.5,249.1ZM531.2,267 531.3,272.3 531.4,272.4 537.8,267.9 537.8,267.7 537,266.6ZM531.2,267 531.2,267 537,266.6 537.4,261.1 531,261.1 531,261.1ZM532,254.1 530.8,255.6 531,261.1 537.4,261.1 538.7,259.9 538.9,256.4ZM506.9,234.4 508.3,233 508.4,227.9 501.8,228.2 501.4,233.2ZM508,220.8 507.9,220.6 503.9,220.9 498.5,224.9 501.8,228.2 508.4,227.9 508.6,227.7ZM500.5,215.1 503.9,220.9 507.9,220.6 507.8,213.3 505.7,211.4ZM515.8,234.8 515.2,228 508.6,227.7 508.4,227.9 508.3,233 515.1,235.6ZM515.1,220.3 508,220.8 508.6,227.7 515.2,228 515.6,227.6 515.3,220.5ZM515.3,213.3 514.9,213 507.8,213.3 507.9,220.6 508,220.8 515.1,220.3ZM505.7,211.4 507.8,213.3 514.9,213 514.6,205.9 509.7,206 505.4,208.6ZM514.6,205.9 514.8,205.7 514.7,198.8 512.5,196.8 508.7,198.9 509.7,206ZM523.1,242.3 523.8,241.6 523.6,234.9 523.1,234.4 515.8,234.8 515.1,235.6 514.9,236.8 519.9,243ZM515.6,227.6 515.2,228 515.8,234.8 523.1,234.4 523.1,227.5 522.9,227.2ZM515.3,220.5 515.6,227.6 522.9,227.2 522.7,220.5ZM522.8,220.4 522.3,213 522.1,212.9 515.3,213.3 515.1,220.3 515.3,220.5 522.7,220.5ZM522.2,206.1 522,205.8 514.8,205.7 514.6,205.9 514.9,213 515.3,213.3 522.1,212.9ZM521.9,198.6 521.8,198.4 514.7,198.8 514.8,205.7 522,205.8ZM521.8,198.4 521.6,191.2 521.5,191.1 513.7,191.5 512.5,191.9 512.5,196.8 514.7,198.8ZM521.5,191.1 521.1,184.3 519.1,182.6 513.7,191.5ZM530.2,227.2 523.1,227.5 523.1,234.4 523.6,234.9 530.9,234.2 531,234.1ZM522.9,227.2 523.1,227.5 530.2,227.2 530.6,226.7 530.2,219.9 522.8,220.4 522.7,220.5ZM529.7,212.8 529.9,212.6 529.1,205.5 522.2,206.1 522.1,212.9 522.3,213ZM528.6,198.4 528.5,191 528.4,190.8 521.6,191.2 521.8,198.4 521.9,198.6ZM521.1,184.3 521.5,191.1 521.6,191.2 528.4,190.8 528.5,183.3ZM518.5,181.8 519.1,182.6 521.1,184.3 528.5,183.3 528.7,183 525.1,181.8 524.3,177.9 520.4,178.7 519.1,179.1ZM538.8,247.8 531.6,248.7 531.5,248.9 532,254.1 538.9,256.4 539.9,255.2 539.1,248ZM538.6,240.9 531.7,240.8 530.9,241.8 531.6,248.7 538.8,247.8ZM538.8,240.8 538.7,233.8 538.1,233.2 531,234.1 530.9,234.2 531.7,240.8 538.6,240.9ZM530.6,226.7 530.2,227.2 531,234.1 538.1,233.2 538,226.9 537.8,226.6ZM530.4,219.7 530.2,219.9 530.6,226.7 537.8,226.6 537.3,219.5ZM537.7,219.1 537.1,211.8 536.8,211.6 529.9,212.6 529.7,212.8 530.4,219.7 537.3,219.5ZM529.1,205.5 529.9,212.6 536.8,211.6 536.4,204.9 529.5,205ZM536.4,204.9 536.6,204.7 536.1,197.5 528.7,198.4 529.5,205ZM536.1,197.5 536.1,197.5 535.4,191.1 528.5,191 528.6,198.4 528.7,198.4ZM535.3,185.2 530.7,182.9 529.8,183.4 528.7,183 528.5,183.3 528.4,190.8 528.5,191 535.4,191.1 535.7,190.7ZM539.9,255.2 538.9,256.4 538.7,259.9 543,262.1 547.5,260.1 546.9,254.6ZM539.9,255.2 546.9,254.6 547,254.5 546.7,247.6 546.6,247.5 539.1,248ZM546.6,247.5 546.1,240.7 538.8,240.8 538.6,240.9 538.8,247.8 539.1,248ZM546.1,240.7 546.3,240.4 545.8,233.4 545.7,233.3 538.7,233.8 538.8,240.8ZM538.7,233.8 545.7,233.3 545.2,225.9 538,226.9 538.1,233.2ZM537.8,226.6 538,226.9 545.2,225.9 545.2,225.9 544.7,219 537.7,219.1 537.3,219.5ZM544.7,219 544.8,218.9 544.3,211.5 544.1,211.4 537.1,211.8 537.7,219.1ZM537.1,211.8 544.1,211.4 544,204.2 543.9,204.2 536.6,204.7 536.4,204.9 536.8,211.6ZM536.6,204.7 543.9,204.2 543.5,197.2 543.4,197.1 536.1,197.5 536.1,197.5ZM535.4,191.1 536.1,197.5 543.4,197.1 543.1,190 535.7,190.7ZM543.1,190 544.6,188.2 540,182.1 535.3,185.2 535.7,190.7ZM547,254.5 553.7,254.1 554.6,253.3 554,247.1 546.7,247.6ZM546.7,247.6 554,247.1 554.3,246.6 553.7,240 546.3,240.4 546.1,240.7 546.6,247.5ZM553.8,239.9 553.3,232.6 553.2,232.6 545.8,233.4 546.3,240.4 553.7,240ZM545.7,233.3 545.8,233.4 553.2,232.6 552.4,225.9 545.2,225.9 545.2,225.9ZM545.2,225.9 552.4,225.9 553,225.1 552.2,218.4 551.9,218.2 544.8,218.9 544.7,219ZM551.9,218.2 551.8,211.2 551.6,211 544.3,211.5 544.8,218.9ZM544.3,211.5 551.6,211 550.7,204 544,204.2 544.1,211.4ZM550.7,204 550.8,203.9 550.7,196.7 543.5,197.2 543.9,204.2 544,204.2ZM543.4,197.1 543.5,197.2 550.7,196.7 551.5,195.8 551,190 548.4,187.5 544.6,188.2 543.1,190ZM554.6,253.3 559.3,254 562.3,252 561.9,246.7 561.8,246.5 554.3,246.6 554,247.1ZM561.8,246.5 561.5,239.2 553.8,239.9 553.7,240 554.3,246.6ZM553.8,239.9 561.5,239.2 561.5,239.1 560.3,232 553.3,232.6ZM560.3,232 560.6,231.7 560,224.8 560,224.8 553,225.1 552.4,225.9 553.2,232.6 553.3,232.6ZM559.4,217.7 552.2,218.4 553,225.1 560,224.8ZM559.4,217.7 558.8,210.6 558.5,210.3 551.8,211.2 551.9,218.2 552.2,218.4 559.4,217.7ZM558.2,203.3 558.1,203.3 550.8,203.9 550.7,204 551.6,211 551.8,211.2 558.5,210.3ZM550.7,196.7 550.8,203.9 558.1,203.3 557.4,197 551.5,195.8ZM565.9,254 567.5,253.5 566.5,248 566.3,246.1 561.9,246.7 562.3,252ZM561.5,239.1 561.5,239.2 561.8,246.5 561.9,246.7 566.3,246.1 565.7,239.6 565.9,238.7ZM565.9,238.7 567,235 567.2,231.2 560.6,231.7 560.3,232 561.5,239.1ZM560,224.8 560.6,231.7 567.2,231.2 567.3,226.4 567.6,223.9ZM560,224.8 567.6,223.9 568.1,218.6 568.3,217 559.4,217.7 559.4,217.7 560,224.8ZM559.4,217.7 568.3,217 568.4,216.5 564.8,210.1 558.8,210.6ZM564.8,210.1 567.1,205.7 564.1,202.7 558.2,203.3 558.5,210.3 558.8,210.6ZM526.2,300.4 527.9,298.4 527.3,293.8 520.7,295.3 520,296.9 523.5,300.6ZM528.8,304.6 526.3,309.6 533,311.9 534.1,310.6 533.8,304.8 533.6,304.7ZM532.9,286.2 532.9,286.1 527.6,286.5 526.5,290.4 527.7,292.5 533,292.1ZM527.6,286.5 532.9,286.1 532.8,280.2 531.5,279.1 527.3,279.6 526,284.3ZM540.2,310.4 534.1,310.6 533,311.9 533.1,315.4 535.2,317.4 540,317.1 540.4,316.6ZM539.8,304.2 533.8,304.8 534.1,310.6 540.2,310.4 540.2,310.4ZM538.4,286.3 532.9,286.2 533,292.1 533.5,292.5 539.1,291.7 539.2,291.7ZM538.8,285.8 538.4,279.8 538.4,279.8 532.8,280.2 532.9,286.1 532.9,286.2 538.4,286.3ZM538.4,279.8 538,273.7 537.9,273.6 532.6,273.9 531.5,279.1 532.8,280.2ZM537.8,267.9 531.4,272.4 532.6,273.9 537.9,273.6ZM547.4,327.8 546.6,322.4 541.4,322.4 540,324.5 542.5,328.5ZM540.4,316.6 540,317.1 541.4,322.4 546.6,322.4 547.1,321.8 546.4,316.1ZM546.5,315.9 545.9,310.1 540.2,310.4 540.2,310.4 540.4,316.6 546.4,316.1ZM539.1,291.7 539.3,297.9 545.2,297.5 544.5,291.5 539.2,291.7ZM544.5,291.5 544.6,291.5 544.7,285.6 544.4,285.4 538.8,285.8 538.4,286.3 539.2,291.7ZM538.4,279.8 538.8,285.8 544.4,285.4 543.9,279.5ZM538,273.7 538.4,279.8 538.4,279.8 543.9,279.5 544.1,279.2 543.8,273.3ZM537.8,267.7 537.8,267.9 537.9,273.6 538,273.7 543.8,273.3 543.9,273.2 543.3,267.5ZM538.7,259.9 537.4,261.1 537,266.6 537.8,267.7 543.3,267.5 543.5,267.3 543,262.1ZM553,327.6 553,321.4 553,321.4 547.1,321.8 546.6,322.4 547.4,327.8 547.6,328ZM547.1,321.8 553,321.4 552.5,315.4 552.3,315.3 546.5,315.9 546.4,316.1ZM544.6,291.5 550.7,291.1 550.1,285.2 550,285.1 544.7,285.6ZM543.9,279.5 544.4,285.4 544.7,285.6 550,285.1 549.7,279.2 544.1,279.2ZM544.1,279.2 549.7,279.2 550.1,278.8 549.4,272.9 543.9,273.2 543.8,273.3ZM549,266.9 548.9,266.8 543.5,267.3 543.3,267.5 543.9,273.2 549.4,272.9 549.4,272.9ZM547.5,260.1 543,262.1 543.5,267.3 548.9,266.8 548.7,261.1ZM559.7,333.5 553.9,333.6 552.9,334.7 552.8,338.9 553.4,339.9 560.2,339.2ZM559.7,333.5 559.5,327.4 559.2,327.2 553.5,328 553.9,333.6 559.7,333.5ZM558.8,321.3 553,321.4 553,327.6 553.5,328 559.2,327.2ZM552.5,315.4 553,321.4 553,321.4 558.8,321.3 558.9,321.2 558.4,314.8 558.3,314.8ZM557.2,302.6 557,297 551,297 550.8,297.2 551.4,303.5ZM557.1,296.9 556.8,291 556.4,290.6 550.8,291.2 551,297 557,297ZM550.8,291.2 556.4,290.6 556.2,284.8 556,284.6 550.1,285.2 550.7,291.1ZM550.1,285.2 556,284.6 555.6,278.7 550.1,278.8 549.7,279.2 550,285.1ZM549.4,272.9 549.4,272.9 550.1,278.8 555.6,278.7 555.6,278.6 555.3,272.6 554.7,272.2ZM554.6,266.7 549,266.9 549.4,272.9 554.7,272.2ZM548.7,261.1 548.9,266.8 549,266.9 554.6,266.7 554.8,266.4 553.9,260.5ZM546.9,254.6 547.5,260.1 548.7,261.1 553.9,260.5 554.2,260.2 553.7,254.1 547,254.5ZM561.5,345.4 561.6,350.9 564.9,351.5 567.6,349.5 565.4,345.1ZM560.5,339.4 566.3,338.7 565.7,332.9 559.7,333.5 559.7,333.5 560.2,339.2ZM565.8,332.9 565.3,327.1 559.5,327.4 559.7,333.5 565.7,332.9ZM558.9,321.2 558.8,321.3 559.2,327.2 559.5,327.4 565.3,327.1 565.4,326.9 564.5,320.7ZM557.6,303 563.3,302.7 563.4,302.5 562.7,296.7 557.1,296.9 557,297 557.2,302.6ZM562.1,290.4 556.8,291 557.1,296.9 562.7,296.7 563.1,296.3ZM556.2,284.8 556.4,290.6 556.8,291 562.1,290.4 562.4,290.1 561.6,284.5ZM561.1,278.1 555.6,278.6 555.6,278.7 556,284.6 556.2,284.8 561.6,284.5 562.1,283.9 561.1,278.2ZM555.6,278.6 561.1,278.1 561.1,272.1 560.9,271.9 555.3,272.6ZM555.3,272.6 560.9,271.9 560.3,266 554.8,266.4 554.6,266.7 554.7,272.2ZM554.8,266.4 560.3,266 560.3,266 560,260.1 554.2,260.2 553.9,260.5ZM560,260.1 560.1,259.9 559.3,254 554.6,253.3 553.7,254.1 554.2,260.2ZM566.8,343.3 572.2,344.3 572.5,343.9 572.5,338.4 572.3,338.2 566.4,338.7ZM566.3,338.7 566.4,338.7 572.3,338.2 571.8,332.4 565.8,332.9 565.7,332.9ZM571.8,332.4 572.1,331.9 571.2,326.3 565.4,326.9 565.3,327.1 565.8,332.9ZM570.7,320.3 564.7,320.5 564.5,320.7 565.4,326.9 571.2,326.3 571.4,326.1 570.7,320.4ZM564.7,320.5 570.7,320.3 570.4,314.4 570.2,314.2 564.5,314.7 564.4,314.8ZM564,308.8 569.6,308.1 569.1,302.2 569,302.1 563.4,302.5 563.3,302.7 563.6,308.5ZM562.7,296.7 563.4,302.5 569,302.1 568.8,295.9 568.5,295.7 563.1,296.3ZM562.4,290.1 562.1,290.4 563.1,296.3 568.5,295.7 568,289.7 567.9,289.6ZM567.5,283.6 562.1,283.9 561.6,284.5 562.4,290.1 567.9,289.6 567.5,283.7ZM561.1,278.2 562.1,283.9 567.5,283.6 567.5,277.8 567.3,277.6ZM566.5,271.9 561.1,272.1 561.1,278.1 561.1,278.2 567.3,277.6ZM560.9,271.9 561.1,272.1 566.5,271.9 566.8,271.6 565.9,265.6 560.3,266 560.3,266ZM560.3,266 565.9,265.6 566.1,265.3 566,260.4 565,259.3 560.1,259.9 560,260.1ZM560.1,259.9 565,259.3 565.9,254 562.3,252 559.3,254ZM572.5,338.4 572.5,343.9 577.8,344.1 578.2,339.3 576.8,338.1ZM572.3,338.2 572.5,338.4 576.8,338.1 578.3,332.2 577.8,331.8 572.1,331.9 571.8,332.4ZM577.2,325.5 571.4,326.1 571.2,326.3 572.1,331.9 577.8,331.8 577.5,325.7ZM571.4,326.1 577.2,325.5 577.1,319.7 577,319.6 570.7,320.4ZM577,319.6 576.1,313.8 570.4,314.4 570.7,320.3 570.7,320.4ZM576.1,313.8 576.4,313.4 575.4,307.7 569.8,308.3 570.2,314.2 570.4,314.4ZM575.7,307.4 574.9,301.8 569.1,302.2 569.6,308.1 569.8,308.3 575.4,307.7ZM569,302.1 569.1,302.2 574.9,301.8 575.1,301.6 574.4,295.4 568.8,295.9ZM568,289.7 568.5,295.7 568.8,295.9 574.4,295.4 574.4,295.3 573.9,289.2 573.9,289.2ZM567.5,283.7 567.9,289.6 568,289.7 573.9,289.2 573.5,283.6ZM573.8,283.2 573,277.3 567.5,277.8 567.5,283.6 567.5,283.7 573.5,283.6ZM567.5,277.8 573,277.3 573.2,277.1 572.6,271.2 572.1,270.8 566.8,271.6 566.5,271.9 567.3,277.6ZM565.9,265.6 566.8,271.6 572.1,270.8 571.9,265.3 566.1,265.3ZM566,260.4 566.1,265.3 571.9,265.3 572,265.2 571,263.9 569.4,259.9ZM577.5,325.7 577.8,331.8 578.3,332.2 581,332.4 583.3,329.7 582.3,325.4ZM582,319.3 577.1,319.7 577.2,325.5 577.5,325.7 582.3,325.4 582.9,324.8 582.2,319.4ZM577.1,319.7 582,319.3 581.8,313.6 581,313 576.4,313.4 576.1,313.8 577,319.6ZM581.7,308.3 580.2,306.9 575.7,307.4 575.4,307.7 576.4,313.4 581,313ZM575.1,301.6 574.9,301.8 575.7,307.4 580.2,306.9 581.4,303 579.6,301ZM580.8,297.6 579,295 574.4,295.3 574.4,295.4 575.1,301.6 579.6,301ZM580.4,292.3 578.6,288.9 573.9,289.2 574.4,295.3 579,295ZM573.9,289.2 573.9,289.2 578.6,288.9 579.9,286.9 577.9,282.9 573.8,283.2 573.5,283.6ZM577.9,282.9 579.1,281.5 578.1,276.7 573.2,277.1 573,277.3 573.8,283.2ZM577.4,270.6 572.6,271.2 573.2,277.1 578.1,276.7 578.4,276.3 577.7,270.8ZM571.9,265.3 572.1,270.8 572.6,271.2 577.4,270.6 577.5,266.6 576.1,267.3 573.2,266.7 572,265.2ZM582.9,324.8 582.3,325.4 583.3,329.7 588.4,330.1 587.8,324.5ZM582.2,319.4 582.9,324.8 587.8,324.5 588,324.2 587.1,318.9 586.8,318.7ZM586.6,313.3 586.5,313.2 581.8,313.6 582,319.3 582.2,319.4 586.8,318.7ZM586.2,307.9 581.7,308.3 581,313 581.8,313.6 586.5,313.2 586.3,307.9ZM581.4,303 580.2,306.9 581.7,308.3 586.2,307.9 585.5,302.7ZM584.9,297.4 580.8,297.6 579.6,301 581.4,303 585.5,302.7 585.6,302.6ZM584.5,291.9 580.4,292.3 579,295 580.8,297.6 584.9,297.4 585.1,297.3 584.8,292ZM584.2,286.7 583.8,286.3 579.9,286.9 578.6,288.9 580.4,292.3 584.5,291.9ZM583.8,286.3 583.7,281.3 579.1,281.5 577.9,282.9 579.9,286.9ZM583,275.8 578.4,276.3 578.1,276.7 579.1,281.5 583.7,281.3 583.7,281.3 583.1,275.8ZM582.8,270.5 582.5,270.3 577.7,270.8 578.4,276.3 583,275.8ZM577.4,270.6 577.7,270.8 582.5,270.3 581.9,265 580.9,264.3 579.4,265.6 577.5,266.6ZM588.4,330.1 588.7,330.4 590,330.5 593.4,328.1 592.9,323.6 592.8,323.6 588,324.2 587.8,324.5ZM588,324.2 592.8,323.6 592.6,318.3 592.4,318.1 587.1,318.9ZM587.1,318.9 592.4,318.1 591.8,313.1 586.6,313.3 586.8,318.7ZM586.5,313.2 586.6,313.3 591.8,313.1 591.9,313 591.1,307.4 586.3,307.9ZM585.5,302.7 586.2,307.9 586.3,307.9 591.1,307.4 591.3,307.3 590.7,302 590.6,301.9 585.6,302.6ZM590.6,301.9 590.2,296.9 585.1,297.3 584.9,297.4 585.6,302.6ZM584.8,292 585.1,297.3 590.2,296.9 590.3,296.6 589.5,291.7ZM589.8,291.3 589,286.2 584.2,286.7 584.5,291.9 584.8,292 589.5,291.7ZM589.1,286.1 588.5,280.8 583.7,281.3 583.7,281.3 583.8,286.3 584.2,286.7 589,286.2ZM583.1,275.8 583.7,281.3 588.5,280.8 588.5,280.8 587.9,275.6ZM587.3,269.9 582.8,270.5 583,275.8 583.1,275.8 587.9,275.6 588.3,275.2 587.5,270ZM587.3,269.9 587,264.7 581.9,265 582.5,270.3 582.8,270.5ZM581.9,265 587,264.7 587.3,264.4 586.4,258.9 584.3,257.8 583.6,259.7 581.9,263.4 580.9,264.3ZM597.5,317.9 592.6,318.3 592.8,323.6 592.9,323.6 597.5,323.4 598.2,322.6ZM596.8,312.2 591.9,313 591.8,313.1 592.4,318.1 592.6,318.3 597.5,317.9 597.9,317.5 597.3,312.5ZM591.3,307.3 591.1,307.4 591.9,313 596.8,312.2 596.7,307.1 596.4,306.8ZM591.3,307.3 596.4,306.8 596,301.5 590.7,302ZM595.4,296.2 595.3,296.2 590.3,296.6 590.2,296.9 590.6,301.9 590.7,302 596,301.5 596.1,301.4ZM594.6,290.8 589.8,291.3 589.5,291.7 590.3,296.6 595.3,296.2ZM594,285.5 589.1,286.1 589,286.2 589.8,291.3 594.6,290.8 594.7,290.7ZM594.3,285.2 593.5,280.2 588.5,280.8 588.5,280.8 589.1,286.1 594,285.5ZM588.3,275.2 587.9,275.6 588.5,280.8 593.5,280.2 593.8,279.8 593,274.9 593,274.8ZM587.5,270 588.3,275.2 593,274.8 592.4,269.4ZM592.4,269.4 591.7,264.3 587.3,264.4 587,264.7 587.3,269.9 587.5,270 592.4,269.4ZM592.3,263.7 591.9,258.1 591.5,257.8 586.4,258.9 587.3,264.4 591.7,264.3ZM602.8,322.5 603.4,321.9 602.9,317.3 597.9,317.5 597.5,317.9 598.2,322.6ZM603,317.2 602.3,311.8 597.3,312.5 597.9,317.5 602.9,317.3ZM602.6,311.5 601.6,306.5 601.5,306.5 596.7,307.1 596.8,312.2 597.3,312.5 602.3,311.8ZM596,301.5 596.4,306.8 596.7,307.1 601.5,306.5 601.3,301.2 601,301 596.1,301.4ZM595.4,296.2 596.1,301.4 601,301 600.6,295.6 600.2,295.3ZM599.8,290.2 599.7,290.1 594.7,290.7 594.6,290.8 595.3,296.2 595.4,296.2 600.2,295.3ZM599.7,290.1 599.1,284.9 594.3,285.2 594,285.5 594.7,290.7ZM593.8,279.8 593.5,280.2 594.3,285.2 599.1,284.9 599.1,284.9 598.7,279.5ZM593.8,279.8 598.7,279.5 598.9,279.3 598.1,274 598,273.9 593,274.9ZM593,274.8 593,274.9 598,273.9 597.5,268.8 592.4,269.4 592.4,269.4ZM597.5,268.8 597.5,268.8 597.1,263.9 592.3,263.7 591.7,264.3 592.4,269.4ZM608.7,319.9 608.3,316.6 608,316.4 603,317.2 602.9,317.3 603.4,321.9 606.7,322.3ZM608,316.4 607.3,311.2 602.6,311.5 602.3,311.8 603,317.2ZM607.5,311 607.2,305.8 607.1,305.8 601.6,306.5 602.6,311.5 607.3,311.2ZM607.1,305.8 606.2,300.5 601.3,301.2 601.5,306.5 601.6,306.5ZM601,301 601.3,301.2 606.2,300.5 606.3,300.4 605.5,295.1 600.6,295.6ZM600.6,295.6 605.5,295.1 605.6,294.9 605,289.6 599.8,290.2 600.2,295.3ZM605,289.6 605,289.6 604.6,284.7 604,284.2 599.1,284.9 599.1,284.9 599.7,290.1 599.8,290.2ZM598.7,279.5 599.1,284.9 604,284.2 603.8,279 603.7,278.9 598.9,279.3ZM598.9,279.3 603.7,278.9 603.3,273.5 598.1,274ZM598.1,274 603.3,273.5 603.4,273.5 602.6,268.4 597.5,268.8 597.5,268.8 598,273.9ZM602.6,268.4 602.6,268.4 602.1,263.7 598.5,262.4 597.1,263.9 597.5,268.8ZM612.4,321.6 614.4,320.4 613.7,315.9 613.3,315.6 608.3,316.6 608.7,319.9ZM613.3,315.6 612.7,310.7 607.5,311 607.3,311.2 608,316.4 608.3,316.6ZM612,305.2 607.2,305.8 607.5,311 612.7,310.7 612.8,310.7 612.2,305.4ZM611.5,299.8 611.4,299.7 606.3,300.4 606.2,300.5 607.1,305.8 607.2,305.8 612,305.2ZM606.3,300.4 611.4,299.7 610.8,294.4 605.6,294.9 605.5,295.1ZM610.8,294.4 610.8,294.4 610.3,289.2 610.2,289.2 605,289.6 605,289.6 605.6,294.9ZM605,289.6 610.2,289.2 609.8,283.9 609.5,283.7 604.6,284.7ZM604.6,284.7 609.5,283.7 608.7,278.7 603.8,279 604,284.2ZM608.7,278.7 608.8,278.6 608.3,273 603.4,273.5 603.3,273.5 603.7,278.9 603.8,279ZM606.6,267.7 602.6,268.4 602.6,268.4 603.4,273.5 608.3,273 608.3,273 607.9,268.7ZM607.1,263.3 605.1,262 602.1,263.7 602.6,268.4 606.6,267.7ZM613.7,315.9 618.6,314.8 618.1,310.1 617.9,309.9 612.8,310.7 612.7,310.7 613.3,315.6ZM612.2,305.4 612.8,310.7 617.9,309.9 617.3,304.8 617.1,304.7ZM616.4,299.3 616.4,299.3 611.5,299.8 612,305.2 612.2,305.4 617.1,304.7ZM616.2,294.1 615.8,293.8 610.8,294.4 610.8,294.4 611.4,299.7 611.5,299.8 616.4,299.3ZM610.3,289.2 610.8,294.4 615.8,293.8 615.4,288.6 615.3,288.6ZM614.7,283.3 614.6,283.2 609.8,283.9 610.2,289.2 610.3,289.2 615.3,288.6ZM609.8,283.9 614.6,283.2 614.1,277.9 613.9,277.8 608.8,278.6 608.7,278.7 609.5,283.7ZM608.3,273 608.8,278.6 613.9,277.8 613.1,272.6 608.3,273ZM608.3,273 613.1,272.6 613.3,272.3 612.9,267.6 612.4,267 607.9,268.7ZM623.3,309.6 622.9,309.3 618.1,310.1 618.6,314.8 619.5,315.5 623.6,314.2ZM617.9,309.9 618.1,310.1 622.9,309.3 622.3,304.1 617.3,304.8ZM617.3,304.8 622.3,304.1 622.5,303.9 621.7,298.9 616.4,299.3 617.1,304.7ZM621.7,298.9 622.9,297.2 622.9,297.2 621.2,293.4 616.2,294.1 616.4,299.3 616.4,299.3ZM615.8,293.8 616.2,294.1 621.2,293.4 622.1,291 620.7,288.1 615.4,288.6ZM615.4,288.6 620.7,288.1 621.5,285.6 620,282.8 614.7,283.3 615.3,288.6ZM620.8,280 619.1,277.1 614.1,277.9 614.6,283.2 614.7,283.3 620,282.8ZM613.1,272.6 613.9,277.8 614.1,277.9 619.1,277.1 620,274 618.7,271.9 613.3,272.3ZM618.7,271.9 619.4,268.5 618.7,267.4 612.9,267.6 613.3,272.3ZM628.1,313.4 625.4,309.2 623.3,309.6 623.6,314.2 624.7,314.9ZM627.4,308.1 624.5,303.7 622.5,303.9 622.3,304.1 622.9,309.3 623.3,309.6 625.4,309.2ZM624.5,303.7 627.2,302.5 622.9,297.2 621.7,298.9 622.5,303.9ZM630.5,313.2 630.6,313.2 630.2,308 630,307.8 627.4,308.1 625.4,309.2 628.1,313.4ZM629.3,302.2 627.2,302.5 624.5,303.7 627.4,308.1 630,307.8ZM629.4,302.1 628.4,296.3 622.9,297.2 622.9,297.2 627.2,302.5 629.3,302.2ZM628.4,296.3 628.4,296.2 627.7,290.6 622.1,291 621.2,293.4 622.9,297.2ZM627.2,284.8 627,284.7 621.5,285.6 620.7,288.1 622.1,291 627.7,290.6 627.8,290.5ZM626.2,279.2 620.8,280 620,282.8 621.5,285.6 627,284.7ZM625.5,273.6 620,274 619.1,277.1 620.8,280 626.2,279.2 626.2,279.1ZM624.7,267.8 619.4,268.5 618.7,271.9 620,274 625.5,273.6 625.7,273.3 624.9,267.9ZM624.7,267.8 623.9,261.6 618.7,262 618.7,262.1 618.7,267.4 619.4,268.5ZM635.8,313.9 636.6,312.8 635.9,307.3 635.8,307.3 630.2,308 630.6,313.2ZM630.2,308 635.8,307.3 635,301.4 635,301.4 629.4,302.1 629.3,302.2 630,307.8ZM635,301.4 634.4,295.8 634.1,295.5 628.4,296.2 628.4,296.3 629.4,302.1ZM627.8,290.5 627.7,290.6 628.4,296.2 634.1,295.5 633.8,289.9 633.5,289.7ZM632.9,284.2 632.6,284 627.2,284.8 627.8,290.5 633.5,289.7ZM626.2,279.1 626.2,279.2 627,284.7 627.2,284.8 632.6,284 631.8,278.4ZM632,278.1 631.1,272.9 630.9,272.7 625.7,273.3 625.5,273.6 626.2,279.1 631.8,278.4ZM624.9,267.9 625.7,273.3 630.9,272.7 630.5,266.7ZM631.4,265.6 631.4,264.8 628.8,263.9 625.5,261.4 625.9,259.9 623.9,261.6 624.7,267.8 624.9,267.9 630.5,266.7ZM635.8,313.9 635.9,314.7 639.8,318.6 642.7,316.2 642.3,312.1 636.6,312.8ZM642.3,312.1 642.4,312.1 641.3,306.5 635.9,307.3 636.6,312.8ZM641.3,306.5 641.6,306.1 640.9,300.8 640.9,300.8 635,301.4 635.8,307.3 635.9,307.3ZM635,301.4 640.9,300.8 640,295 634.4,295.8 635,301.4ZM634.1,295.5 634.4,295.8 640,295 640.1,294.8 639.1,289.2 633.8,289.9ZM633.8,289.9 639.1,289.2 639.1,289.2 638.6,283.3 638.2,283.1 632.9,284.2 633.5,289.7ZM637.6,278 637.2,277.7 632,278.1 631.8,278.4 632.6,284 632.9,284.2 638.2,283.1ZM636.8,271.9 631.1,272.9 632,278.1 637.2,277.7ZM636.8,271.9 636.8,271.9 636.1,268.2 631.4,265.6 630.5,266.7 630.9,272.7 631.1,272.9ZM648.4,315.5 646.6,311.5 642.4,312.1 642.3,312.1 642.7,316.2 645.9,317.7ZM642.4,312.1 646.6,311.5 647.7,309.9 647,305.9 641.6,306.1 641.3,306.5ZM647.4,305.4 646.3,299.8 640.9,300.8 641.6,306.1 647,305.9ZM640.1,294.8 640,295 640.9,300.8 640.9,300.8 646.3,299.8 646.5,299.6 645.4,294.1ZM639.1,289.2 640.1,294.8 645.4,294.1 645.4,294 644.7,288.4 639.1,289.2ZM644.7,288.4 645,288 643.9,282.7 638.6,283.3 639.1,289.2ZM638.6,283.3 643.9,282.7 643.9,282.7 643.1,276.9 642.9,276.7 637.6,278 638.2,283.1ZM642.9,276.7 642.1,271.6 642,271.5 636.8,271.9 636.8,271.9 637.2,277.7 637.6,278ZM653.6,308.5 652.9,304.5 647.4,305.4 647,305.9 647.7,309.9 651.9,310.4ZM653,304.3 652.1,299.1 651.8,298.9 646.5,299.6 646.3,299.8 647.4,305.4 652.9,304.5ZM651.3,293.3 651.1,293.1 645.4,294 645.4,294.1 646.5,299.6 651.8,298.9ZM651.1,293.1 650.4,287.8 650.3,287.7 645,288 644.7,288.4 645.4,294ZM643.9,282.7 645,288 650.3,287.7 649.8,281.7 649.4,281.5 643.9,282.7ZM649.4,281.5 648.5,276.2 643.1,276.9 643.9,282.7ZM647.8,270.5 647.9,270.4 646.8,264.9 641.6,265.6 642,271.5 642.1,271.6ZM640,264.4 641.6,265.6 646.8,264.9 647.1,264.5 646.1,259.4 645.6,259.7 639.4,262.8ZM658.1,298.2 657.7,297.9 652.1,299.1 653,304.3 658.9,303.5ZM657.7,297.9 656.8,292.7 651.3,293.3 651.8,298.9 652.1,299.1ZM656.8,292.7 657.2,292.2 656,286.8 650.4,287.8 651.1,293.1 651.3,293.3ZM655,281 654.9,280.9 649.8,281.7 650.3,287.7 650.4,287.8 656,286.8 656.1,286.7ZM649.4,281.5 649.8,281.7 654.9,280.9 654.4,275.4 654.1,275.2 648.8,275.7 648.5,276.2ZM651.8,258.1 650.1,256.9 646.1,259.4 647.1,264.5 652.3,263.7ZM662,303.7 664.6,300.9 663.2,297 658.1,298.2 658.9,303.5 659.1,303.7ZM663.4,296.5 662.5,291.7 657.2,292.2 656.8,292.7 657.7,297.9 658.1,298.2 663.2,297ZM662.6,291.5 661.7,285.7 661.6,285.7 656.1,286.7 656,286.8 657.2,292.2 662.5,291.7ZM661.6,285.7 660.6,280.1 655,281 656.1,286.7ZM658.8,269 653.6,269.7 654.1,275.2 654.4,275.4 659.9,274.4ZM658.1,262.9 656.9,257.4 651.8,258.1 652.3,263.7 652.7,264 657.9,263.2ZM651.8,258.1 656.9,257.4 657.1,257.1 656.5,253.4 652.3,255.5 650.1,256.9ZM668.3,290.4 662.6,291.5 662.5,291.7 663.4,296.5 669.2,295.6 669.5,291.4ZM667.5,285 667.1,284.7 661.7,285.7 662.6,291.5 668.3,290.4ZM661.7,285.7 667.1,284.7 666.3,279.4 660.8,279.8 660.6,280.1 661.6,285.7ZM660.8,279.8 666.3,279.4 666.7,279 665.9,273.8 665.3,273.4 660.1,274.5ZM665.3,273.4 664.6,267.7 659.1,268.4 658.8,269 659.9,274.4 660.1,274.5ZM664.6,267.7 664.6,267.7 663.7,261.9 663.5,261.8 658.1,262.9 657.9,263.2 659.1,268.4ZM663.5,261.8 662.7,256.4 662.5,256.2 657.1,257.1 656.9,257.4 658.1,262.9ZM657.1,257.1 662.5,256.2 661.7,250.4 659,252.2 656.5,253.4ZM672.8,283.8 667.5,285 668.3,290.4 669.5,291.4 672.6,290.6 674.3,284.8ZM666.7,279 666.3,279.4 667.1,284.7 667.5,285 672.8,283.8 672,278.6ZM665.9,273.8 666.7,279 672,278.6 672.4,278 671,272.6ZM665.9,273.8 671,272.6 671.2,272.2 669.9,266.9 664.6,267.7 664.6,267.7 665.3,273.4ZM669,261.1 663.7,261.9 664.6,267.7 669.9,266.9 669.9,266.8 669.2,261.2ZM668.3,255.4 668.1,255.3 662.7,256.4 663.5,261.8 663.7,261.9 669,261.1ZM663.1,249.6 662.4,250 661.7,250.4 662.5,256.2 662.7,256.4 668.1,255.3 667.4,251.5ZM677,277.3 672.4,278 672,278.6 672.8,283.8 674.3,284.8 675.5,284.7 679.2,280.2ZM671,272.6 672.4,278 677,277.3 678.3,272.6 676.6,271.3 671.2,272.2ZM669.9,266.9 671.2,272.2 676.6,271.3 675.9,265.6 669.9,266.8ZM669.9,266.8 675.9,265.6 676.7,264.5 676.4,261.7 674.6,260.4 669.2,261.2ZM674.6,260.4 673.7,254.6 668.3,255.4 669,261.1 669.2,261.2ZM675,253 672.9,249.3 670.3,248.5 667.4,251.5 668.1,255.3 668.3,255.4 673.7,254.6ZM590.9,251.6 590.9,251.5 585.8,252.2 585.3,254.7 584.3,257.8 586.4,258.9 591.5,257.8ZM590.1,244.9 586.2,245.3 586.6,248.8 585.8,252.2 590.9,251.5ZM582.8,232.2 582.8,232.9 584.9,238.7 589.3,238.2 589.6,237.8 588.4,231.5ZM587.7,224.7 582.9,225 582.8,226.2 582.8,232.2 588.4,231.5 588.5,231.4ZM587.7,224.7 587.8,224.6 587.5,218.1 584.5,215.8 583.6,219.5 582.9,225ZM597.1,263.9 598.5,262.4 598.1,257.8 598,257.7 591.9,258.1 592.3,263.7ZM591.9,258.1 598,257.7 597.5,251.1 590.9,251.6 591.5,257.8ZM590.9,251.6 597.5,251.1 597.6,251 596.4,244 590.2,244.8 590.1,244.9 590.9,251.5ZM595.9,237.2 589.6,237.8 589.3,238.2 590.2,244.8 596.4,244 596.5,244 595.9,237.2ZM594.7,230.4 588.5,231.4 588.4,231.5 589.6,237.8 595.9,237.2 595.2,230.8ZM594.7,230.4 594.3,224.2 587.8,224.6 587.7,224.7 588.5,231.4ZM587.5,218.1 587.8,224.6 594.3,224.2 594.5,224 593.3,217.3ZM587.5,218.1 593.3,217.3 593.4,217.1 593.2,211.7 585.7,211.9 585.3,212.8 584.5,215.8ZM605.1,262 604.7,257 598.1,257.8 598.5,262.4 602.1,263.7ZM603.5,250.2 597.6,251 597.5,251.1 598,257.7 598.1,257.8 604.7,257 604.8,256.9 604,250.4ZM596.5,244 596.4,244 597.6,251 603.5,250.2 603,243.3ZM595.9,237.2 596.5,244 603,243.3 603.1,243.1 602.2,236.6 602.2,236.6ZM601.6,230 601.5,229.8 595.2,230.8 595.9,237.2 595.9,237.2 602.2,236.6ZM600.3,223.4 594.5,224 594.3,224.2 594.7,230.4 595.2,230.8 601.5,229.8ZM600.3,223.3 599.9,216.9 593.4,217.1 593.3,217.3 594.5,224 600.3,223.4ZM599,210 593.7,211 593.2,211.7 593.4,217.1 599.9,216.9 600.1,216.7ZM593.7,211 599,210 599.2,209.8 598.3,204 592.7,203 591.5,205.4ZM611.1,256.5 604.8,256.9 604.7,257 605.1,262 607.1,263.3 611.9,262.5ZM609.9,249.3 604,250.4 604.8,256.9 611.1,256.5 611.3,256.4 610.3,249.6ZM603,243.3 603.5,250.2 604,250.4 609.9,249.3 609.4,242.8 603.1,243.1ZM603.1,243.1 609.4,242.8 609.6,242.6 609,236.1 608.6,235.9 602.2,236.6ZM602.2,236.6 608.6,235.9 607.8,229 607.8,229 601.6,230 602.2,236.6ZM607.1,222.7 606.9,222.5 600.3,223.3 600.3,223.4 601.5,229.8 601.6,230 607.8,229ZM606,215.9 600.1,216.7 599.9,216.9 600.3,223.3 606.9,222.5 606.3,216.1ZM605.2,209.4 599.2,209.8 599,210 600.1,216.7 606,215.9ZM605.2,209.4 605.6,208.9 604.6,203.1 599.4,203 598.3,204 599.2,209.8ZM612.9,267.6 618.7,267.4 618.7,262.1 612.1,262.7 612.4,267ZM611.3,256.4 611.1,256.5 611.9,262.5 612.1,262.7 618.7,262.1 618.7,262 617.5,255.3ZM611.3,256.4 617.5,255.3 617.6,255.2 617,248.7 610.3,249.6ZM617,248.7 617.1,248.5 615.8,242.2 609.6,242.6 609.4,242.8 609.9,249.3 610.3,249.6ZM615.1,235 609,236.1 609.6,242.6 615.8,242.2 616.1,241.8ZM609,236.1 615.1,235 615.1,234.9 614.2,229.6 613,228.6 607.8,229 608.6,235.9ZM607.8,229 613,228.6 614,222.1 613.4,221.7 607.1,222.7 607.8,229ZM606.3,216.1 606.9,222.5 607.1,222.7 613.4,221.7 612.5,215.1 612.5,215.1ZM611.4,208.4 605.6,208.9 605.2,209.4 606,215.9 606.3,216.1 612.5,215.1ZM611.4,208.4 611.8,208 611.1,201.7 611,201.7 605,202.6 604.6,203.1 605.6,208.9ZM604.5,195.5 604.2,195.9 605,202.6 611,201.7 610.4,197.4ZM624.5,254.7 617.6,255.2 617.5,255.3 618.7,262 623.9,261.6 625.9,259.9 626.3,258 627,256.6ZM617.6,255.2 624.5,254.7 623.4,247.9 623.2,247.8 617.1,248.5 617,248.7ZM615.8,242.2 617.1,248.5 623.2,247.8 622.7,240.9 622.3,240.6 616.1,241.8ZM622.3,240.6 622,234.5 621.5,234.1 615.1,234.9 615.1,235 616.1,241.8ZM614.2,229.6 615.1,234.9 621.5,234.1 621,227.6 620.7,227.4ZM612.5,215.1 613.4,221.7 614,222.1 616.1,222.1 617.1,219.5 618.5,214.5 618.4,214.2ZM611.8,208 611.4,208.4 612.5,215.1 612.5,215.1 618.4,214.2 618,207.8 617.9,207.7ZM611.1,201.7 611.8,208 617.9,207.7 617.1,201.1 617.1,201ZM610.4,197.4 611,201.7 611.1,201.7 617.1,201 614.6,196.9 612,195.3ZM623.4,247.9 624.5,254.7 627,256.6 628.8,253 630.3,250.8 628.3,247.1ZM623.2,247.8 623.4,247.9 628.3,247.1 629.7,245 628.9,240.6 622.7,240.9ZM622.7,240.9 628.9,240.6 629.2,240.2 628.2,233.7 622,234.5 622.3,240.6ZM622,234.5 628.2,233.7 628.2,233.6 627.4,226.9 627.1,226.7 621,227.6 621.5,234.1ZM620.7,227.4 621,227.6 627.1,226.7 626.2,219.5 622.1,220.8 619.7,224.4ZM629.2,240.2 628.9,240.6 629.7,245 633,245.5 633.9,243 634.1,239.3ZM628.2,233.6 628.2,233.7 629.2,240.2 634.1,239.3 634.2,237.9 633.1,233ZM627.4,226.9 628.2,233.6 633.1,233 633,232.9 631.4,227 631.1,226.3ZM627.1,226.7 627.4,226.9 631.1,226.3 629.7,222 626.3,219.5 626.2,219.5ZM299.4,352.3 291.1,354.2 285.9,362.8 288.3,367.6 301.1,370 303.1,368.5 303.8,355ZM215.6,320.7 214,331.4 211.7,332.3 215.5,332.9 216.9,331.3ZM289.2,194.8 290.9,194.4 292,191 297,191 297.8,180.5 288.6,179.6 289.5,191 287.3,191ZM184.9,164.6 185.6,162.9 193.9,164.2 194.6,166 197.4,163.6 197.1,157.4 187.3,158ZM492.6,339 497.5,341.3 499.3,339.6 499.2,333.2 496.6,332.3 492.3,335ZM540.1,406.2 538.2,406.7 535.8,411.5 536.9,413.5 542.4,414.7 542.8,414.6 543.7,413.2 543.2,408.4ZM189.3,314.2 180,322.2 182.2,333 195.4,336 199.9,330.7 199.5,331.2 187.2,328.9 189.6,314.4ZM174,159.2 179.1,165.5 176.8,162.6 185.6,162.9 185.6,162.9 187.3,158 183.6,152 181.8,151.5ZM607.5,461.2 613.9,462.1 614.7,461.3 614.2,457.3 609.1,455 606.9,456.2ZM196.1,228.1 189.5,241.7 193.5,248.7 203.8,245.5 207,237.1 203.4,230.8ZM263.9,222.2 264.6,223.4 269,224.7 268.5,222.8 264,221.8 266.3,209.9ZM675.3,479.2 679.4,477.8 680.7,473.8 679.6,471.1 673.9,468.9 673.1,469.3 670.9,475.9ZM193.9,226.3 193.6,227.9 192.5,235.5 196.1,228.1 195.6,227.3 188.7,223.5ZM191.8,237 179,234.1 179.1,235.2 190.6,237.9 190.2,240.1 189.5,241.7ZM649.1,447.1 649.7,446.4 649.5,441 643.9,441.2 642.7,442.4 643,443.9 647.6,447.4ZM793.2,173.6 790.1,175.9 789.1,183.4 793.5,185.9 793.9,184.7 795.6,180.5 796.4,176.5ZM352.9,310.5 349.3,315.8 355.9,322.5 354.3,320.9 355.1,320.1 359,320.1 362.4,315.8 361.9,313.4ZM533.4,332.8 536.4,332.1 536.5,325.1 533.9,323.7 532.1,324.2 530.1,327.6 532.1,332.1ZM395.1,504.1 395.4,504.7 403.2,502.5 403.8,501.8 403.4,493.5 403.8,500.8 399.2,500.8 398.8,503.7 395.9,504.6 391.7,495.8ZM216,344.9 225.2,349.3 236.8,343.3 228.3,330 216.9,331.3 215.5,332.9ZM245.2,145.8 242.9,145.7 243.7,146.8 242.8,152.2 238.4,154 236.8,151.9 235,154.9 236.5,157 245.5,158.2 248.7,153.5ZM332.8,406.3 325.5,400.6 316.2,404.7 316.6,413.5 327.9,417.4 331.4,415ZM522.7,459.7 519.5,454.8 516.3,454.1 515.6,454.6 513.7,462.6 518.9,463.5ZM412.5,502.4 413.2,510.5 417.2,513.1 419.4,511.1 419.4,502.5 421.2,502.5 424.3,506.2 419.1,499.8 415.1,499.7ZM200.2,143 205.4,148.3 208.5,148 213.7,139.8 213.6,139.7 206.6,136.5 200.6,139.9ZM504.4,376 511.7,379.2 512.9,378.2 513,372.3 509.3,370.9 504.4,375.8ZM126.2,346.8 129.9,346.2 129.4,344 123.9,334.8 137.6,337.4 138.9,339 131.3,330 121.4,333.7 118.5,338.3ZM740.1,267.5 738.9,269.7 741.3,273.6 744.4,273.5 744.6,268ZM364.9,308.3 361.9,313.4 362.4,315.8 367.8,319 363.6,316.5 363.6,311 365.4,309.1 365.4,308.4ZM282.2,279.1 269.8,279.8 277,279.4 276.1,287 276.1,287 275.5,294.1 270.4,293 280.3,295 285.5,284ZM770.3,161.1 769.6,165.4 767.7,166.9 770.4,170.9 778.8,170 777.1,163.1ZM661.1,407.7 656.4,408.2 655.7,410.3 657.2,413.2 660.4,413.1 662.1,410.8 661.8,408.4ZM426.3,435.7 427,435.8 430.9,430.4 429.7,427.9 424.8,428.1 422.5,432.1ZM776.7,184.8 782.2,182.1 782,175.8 780.1,173.8 772.3,179.7ZM193,282.5 194.9,284.7 193.9,287 182.5,287 176.1,289.8 178.7,300.8 189,306.5 197.2,300.3 198,288.1ZM173.9,144.9 166.8,152.1 166.7,152.8 170.6,158.7 174,159.2 181.8,151.5 178.3,146ZM245.4,174.9 243.8,169.1 234.3,167.3 239.9,168.4 240,168.7 238.4,173.8 240,178.8 241.1,179.5 240.5,180.2ZM600.6,414.7 596.2,415.9 594,420.8 597.9,424.4 602.3,421.8ZM236.7,135.1 231.9,130.8 225.9,131.2 224.1,142.7 227.7,144.3 236,140.7 230,143.3 228.5,141.5 227.6,133.4 229,133.2 228.8,132.7 230,133 233,132.5 234.2,134.2 235,134.4 235,135.2 236.5,137.1ZM149.8,232.6 160.8,239.2 160.4,239 162.1,231.2 164.3,231.7 165.4,228 164.7,230.4 152,227 150.8,226.6ZM499.2,333.2 501.1,332.5 503.2,328.6 500.9,324.6 497.1,324.1 494.9,327.3 496.6,332.3ZM626.6,420.5 621.8,424.8 621.8,425.1 626.7,429.4 629.9,425.2ZM315.2,183.2 307.6,184.3 301.5,182 313.7,186.5 318.7,175.6ZM222.7,124.3 223.4,129.4 225.9,131.2 231.9,130.8 236,120.1 235,119.8 225.9,117.9ZM303.8,355 303.1,368.5 313.9,370 319.9,361.1 319.9,359.8 307.5,354ZM458.2,470.4 452.2,468.1 449.6,469.9 448.8,473.7 455.2,476.5ZM250.3,234.1 247.5,237.4 247.3,246.1 247.4,240.1 253.4,241.3 252.3,234.3 259.7,234.9ZM285.1,331.7 288.8,337 289.6,337 298.6,330.9 298.9,323.6 298.5,323.1 297.8,326.4 287.6,327.1 290.9,320.9ZM657.2,430.7 653.7,430.1 652.1,433.8 654.4,436.3 656.8,436 658.3,432.5ZM758.8,253.5 760.4,252.2 764.5,250.1 763.2,248.3 758.7,250.5 757.4,251.2ZM710.1,328 706.5,331.3 707.1,332.8 710.5,334 712.2,333.1 713,329.6ZM644.4,459.5 647.1,463.2 651.8,462.2 653,459.9 648.8,455.2 647.6,455.3ZM180.9,127.3 179.9,123.5 172.3,120.8 167.6,124.9 168.4,128.8 174.7,133 177.9,132.2ZM223.4,204.1 228.2,205.5 225.4,204.7 224.1,202.7 222.4,196 231.3,194.8 233.3,201.3 230.1,191 226.6,191 227.9,189.8 221,196.7ZM154.2,287.9 158.4,275.2 147.3,271.9 142.7,279.1 151.2,288.2ZM327.1,426.8 338,432.2 332.2,429.3 332.2,421.5 341.1,422 340.6,418.9 331.4,415 327.9,417.4ZM576.6,459.7 575.6,459.2 570.6,461.9 572.4,467.5 576.9,466.8 578,466.8ZM597.5,377.9 602.4,378.7 604.4,376.2 600.5,372.5 597.4,374 596.5,376.5ZM626.2,392.1 627.3,392.6 631.1,391.1 631.7,388.3 629.5,385.5 625.6,387.7ZM611.6,324.8 612.7,326.5 615.2,327.1 617.5,325 616.7,321.3 614.4,320.4 612.4,321.6ZM314,343 306.4,338.2 299.5,344.1 299.4,352.3 303.8,355 307.5,354ZM303.1,368.5 301.1,370 300.9,383.3 313.6,386.1 314.1,385.8 317.4,377.4 313.9,370ZM119.5,258 126.9,255.5 128.5,260.1 131,257.3 128.9,250.9 121.9,249.6 118.9,252.9ZM424.7,519.3 430.6,516.5 431.1,513.1 425.2,507.6 425.2,511.7 419.4,511.7 419.4,511.1 424.3,506.6 417.2,513.1 417.5,514.9ZM728.4,342.7 730.4,342.6 732.7,339.7 731.5,336.8 730.1,336.2 726.8,337.7 726.2,340.2ZM513.8,421.7 507.8,423.3 510.4,428.8 513.6,429.4 517.3,425.6ZM147.9,204.5 149.6,196.9 155.4,198 162.8,198 164.6,200.6 157.7,191 152.8,191 154.9,189.8 150.6,192.3ZM207.3,350.2 207.1,364.8 208.3,366.2 225.1,364.1 225.2,349.3 216,344.9ZM708.9,370 713.6,370.5 715.8,365.3 711.1,363.8 708.1,369.1ZM436.5,445.8 437.9,452.5 444.5,451.2 444.9,445.5 437.7,444.7ZM594.7,459.6 597,457.8 594.2,451 588.8,452.8 589.7,459ZM586.4,394.5 585.6,397.5 589.4,401.2 591,401 594.1,396.8 594.1,396.8 589.8,392.7ZM659.9,440.3 654.9,441.9 654.7,445.6 656.5,447.2 660.1,444.7 659.9,440.3ZM543.6,374.5 548.6,374.8 551.1,371 548.3,367.2 546.4,366.8 542.3,372ZM563.1,441.8 563,442.8 566.7,447.6 569.4,447.5 572.6,443.9 566.2,439 566.1,439ZM675.5,340.1 675.3,335.4 671.9,334.3 671.2,334.6 669.6,338.8 671.4,342ZM137.6,337.4 141.9,338.2 138.9,339 146.9,336.9 152,326.6 147,319.9 148.5,321.8 143.7,321.4 135,323 131.9,325.9 131.3,330ZM180.5,402.8 181.9,403 193.9,391.9 194.4,385.5 194.2,387.6 192.6,391 172.6,387.1ZM238.6,270.6 242.1,279.3 251.7,280.1 254.9,276.7 254.2,265 249.2,261.5 250.4,262.3 246.7,264.7 242.1,264.1 242.5,263.3ZM535.7,475.7 537.5,479.8 542.3,478.9 544.3,472.2 543.2,471.3 537.6,471.8ZM704.3,258.6 705.3,262.5 709.6,264.4 713.8,261 711.1,256.1ZM692.6,249.6 694.1,254.5 698.1,254.1 700.2,248.9 695.5,246.8ZM495.4,380.1 492.7,380.1 489.5,384.1 492.6,388.7 496.1,389.1 498.1,383.6ZM177.9,132.2 174.7,133 171.5,140.5 173.9,144.9 178.3,146 183.7,138.9ZM350.6,294.3 345.9,291.2 339.8,293.6 341.4,304.3 348.6,303.4ZM781.4,158.4 779.3,152.6 772.1,151.4 772.1,153.7 770.5,160.4 770.3,161.1 777.1,163.1ZM132.7,146 136.3,154.2 141.1,154.5 144.1,151.2 143.9,144.5 138.1,140.5ZM430.6,516.5 432.3,518.3 432.8,515 441.1,518.4 440.3,520.9 434.5,520.7 435.3,521.5 440.6,521.9 442.8,517.5 443.6,513.5 437.6,508.6 431.1,513.1ZM438.2,509.1 437,510.8 435.3,510.2 437.6,508.6ZM141.9,338.2 149.6,339.7 151.1,341.3 146.9,336.9ZM158.2,348.8 157.7,348.3 156.7,355.3ZM224.1,142.7 225.9,131.2 223.4,129.4 216.4,131.8 213.6,139.7 213.7,139.8 221.3,143.5ZM129.7,293 131.5,299.7 139.6,303.3 144,301.4 144.8,293.8 144.4,297.9 143.7,295.4 143.9,293.4 135.3,289ZM802.4,162.2 800.9,160.9 799,163.7 799.7,168.1 803.1,166.1ZM789.4,165.7 789.4,165.9 793.9,162 789.5,164.4 789.8,160.7ZM793.3,171.8 799.2,168.4 797.4,169.4 792.6,170.7ZM667.4,307 664.9,307.7 663.9,309.5 666,313.9 669.2,313.4 671.2,310.7ZM591.2,354.3 595,355.6 596.8,353.8 596.8,351.2 592.9,349.5 590.9,351.6ZM483.7,477.7 484.9,476.6 485.3,473.2 481.9,469.3 476.9,469.9 475.3,472.8 477.5,477.3ZM679.4,519.8 681.6,522.6 682,522.9 689.2,519.7 689.5,519.3 686.3,513.3 684,512.8ZM263.9,222.2 264,221.8 253.4,219.5 252.2,219.8 252.4,220.5ZM94.6,272.3 94.7,273.1 96.7,278.1 95,272.2ZM582.8,415.2 588,415.3 591.3,411.6 591.3,410.5 585.9,406.5 585.5,406.5 582.5,409.3 582.5,414.9ZM227.7,144.3 224.1,142.7 221.3,143.5 217.8,154 219.9,155.2 229.6,154.2 230.6,153.7ZM551.4,410.9 556.6,412.7 559.8,409.7 559.9,407.6 555.3,405.3 551.1,408.6ZM741.9,186.5 744.6,190.1 750.1,187.7 750.4,184.1 749,182.7 742.6,184.1ZM624,447.4 626.4,443.1 624,439.5 618.9,441.3 618.1,443.9 620.6,447.6ZM109.6,262.5 119.3,260.5 119.7,259.9 118.9,252.9 110.5,251.1 107.3,261.2ZM728.2,280.2 729.3,279.1 727,274 723.5,274.4 723.1,279.2ZM100.2,270.9 107.7,275.8 111.9,274.5 112.9,272.8 109.6,262.5 107.3,261.2 104.9,261.6ZM101.7,267.9 101.8,268.1 106.8,274.8 107.1,275.4 100.2,270.9ZM270.4,423.8 271,418.3 269.1,421.5ZM285.8,430 289.3,424.5 284,414.2 287.5,420.9 280.2,422.4 280.2,429.1ZM282,410.4 275.1,411.6 277.8,411.2 282.7,411.7ZM221.7,389.7 207.3,378.8 194.4,385.5 193.9,391.9 207.6,403 222,390.9ZM689.1,248.9 687.2,245.2 686.3,244.9 681.2,248.2 683.9,252.8 686.3,253ZM231.2,397.8 248.8,389.7 249.6,383 238.5,369.5 232.4,370 221.7,389.7 222,390.9ZM678.7,412.9 681.5,415.7 684.9,415.1 685.9,414 686.1,409.5 685,408.4 683,408.1 678.7,411.6ZM256.6,142.9 258.9,151 258,147.7 261,145.3 260.2,139 261.7,137.4ZM526.4,400.9 526.7,406.4 529.6,407.4 534,403.6 533.7,400.2 531.8,399ZM276.5,138.3 270.5,142.8 275.9,138.7 277.7,140.2 281.9,141.9 282.1,141.1 285.1,142.5ZM720.9,365.9 724.2,360.7 723.5,359.3 720.9,358 717.2,359.7 716.8,364.9 719.8,366.2ZM721.9,212.5 718,210.7 714.9,212 714.8,218.3 721.1,219ZM278.6,329.7 282.8,331 281.3,342 271.6,340.2 273.5,346.8 284.5,344.4 288.8,337 285.1,331.7ZM663.2,323.1 666.6,319.5 664.8,315.6 661.7,316.1 660.1,318.1 662,322.6ZM723,328.3 724.5,323.7 724.3,323.6 720.5,323.3 718.9,326.3 721,329ZM121.4,333.7 120,331 116.8,330.6 109.3,328.9 107.1,324.9 115.5,322.3 106.5,325.1 106.8,325.5 109.3,330.2 111.8,335.6 113.8,339.5 118.5,338.3ZM786.3,142.8 787.2,147 787.5,147.7 788.7,148.6 787.6,142.8 791.4,141.9 793.9,148.6 794.6,150.3 800.2,148.7 801.2,147.6 800.6,145.3 799,138.6 798.6,137.6 788.2,139.1 785.2,144.9ZM413.1,466.5 415.3,472.1 421.8,468.6 421.3,464.1 415.8,462.8ZM705.6,346.4 705.5,342.8 702.8,341.6 700.8,342.3 700.1,347.8 700.9,348.9ZM510,352.4 512.6,351.4 514.2,347.7 510.8,343.6 507.3,344.2 508.3,351.8ZM570,205.3 569.7,202.9 570.8,199 572.4,196.1 570.8,194.9 565.3,197 564.1,202.7 567.1,205.7ZM257.8,335.3 257.3,334.7 260.1,330.6 251.8,329.2ZM406.3,465.3 404.9,471.7 405.4,472.6 413,474.8 414.7,473.9 415.3,472.1 413.1,466.5ZM669.9,426.7 669.7,421.9 668.1,421 664.2,422.1 665,427.7 667.2,428.5 668.8,428.1ZM595.1,449.6 594.2,451 597,457.8 599.6,458 603.3,455 602.3,450.8 597.7,448.6ZM698.1,254.1 701.6,257.6 703.2,257.7 705.5,249.8 702.4,248.1 700.2,248.9ZM548.2,439.4 541.7,435.9 541.5,436 540.1,441.7 543,445.3 543.2,445.3 547.6,442.6ZM304.7,434.1 315,428.8 312.5,417.8 301.7,417.1 298.1,422.7ZM720.9,299 719.6,300.8 720.6,303.8 726.2,302.9 725.4,300 725.2,299.1ZM612.2,357.7 618,356.2 617.5,352.8 614,351.4 612.1,352.8 611.9,357.4ZM687.8,494.6 685.7,488.2 682.6,486.9 679.8,488.3 679.6,495.5 685,496.8ZM510.5,473.6 505.7,472.7 504.1,476.7 506.9,482.9 512.1,477.4ZM325.5,400.6 327,391.7 314.1,385.8 313.6,386.1 310.3,400.5 316.2,404.7ZM707.9,289.1 710.2,288.1 711,285.9 706.7,281.2 703.8,283.7 703.7,287.2ZM336.4,439.1 343.9,439.1 346,441.7 347,443.6 344.8,439.1 345.2,439.2 344.4,438.1 339.5,436.3ZM344.1,456 342.1,456.2 339.7,454.2 338,455.1 331.8,450.9 340,456.5ZM653,459.9 655,459.1 656.4,455.2 653.8,452 651.8,451.9 648.8,455.2ZM417.2,435.6 420.1,441.2 421.5,441.5 426.3,435.7 422.5,432.1 419.2,432.3ZM150.6,247.7 143.8,239.9 136.5,245.4 141.3,253.9 146.5,254ZM579.2,384.6 576.3,380 575.4,380 571.4,384.4 575.8,387.5ZM125,223.5 124,221.2 113.6,220.9 111,224.2 114,232.1 122.2,231ZM201.2,155.7 210.6,161.1 209.8,160.6 209.9,159.5 211.9,159.3 215.2,154.6 208.5,148 205.4,148.3ZM201.5,155.3 205,155 205.7,158.3 201.2,155.7ZM224.6,258.4 225.8,270 238.6,270.6 242.1,264.1 235,263.1 235,260.6 235,260.6 235,263.1 227.5,262.2 228,259.6 228.2,256.7 233.8,254.3ZM616.8,340.9 618.5,338.7 618.1,336.1 614.6,335 612.2,337.9 616.1,341.1ZM168.3,318.1 161.6,307.4 166.8,310.8 159.4,306 160.4,310.5 152.9,308.8 152.3,308.4 147,319.9 150.5,312.4 151.2,313.8 152.9,322.2 148.5,321.8 152,326.6 161.5,326.2ZM598.3,346.4 596.2,344.5 595.1,344.6 592.7,347.5 592.9,349.5 596.8,351.2 598.5,349.6ZM716.5,203.2 716.1,201.2 711.3,198.2 710.1,200.2 707.6,203.6 709.3,206.9 709.7,207.2ZM739.3,304.8 739.9,300.7 737.9,299.1 737.8,299.1 734.4,302.8 735.5,305.1ZM212.8,121.1 222.7,124.3 225.9,117.9 218.2,116.3 213.8,115.4ZM780.3,225.7 774,226.1 773.1,230.7 779,233.8 779.2,232.4 780.1,232.1ZM578.4,435.3 581.7,438.5 584.6,438.2 587.3,435.5 585.8,429.8 583,429.5 578.7,433.1ZM688.4,366.5 683.5,368.8 683.4,369.1 685.9,373.5 689.9,373.6 691.6,370.6ZM284.5,201.9 285.7,201.4 285.8,201.3 282.2,200.8ZM289.2,194.8 284.4,185.4 287.3,191 287,191 286.1,196 288.6,196 287.3,198.4ZM713.1,342.3 711.3,343.9 711.1,347 713.1,348.2 716.6,347.4 717.3,343.9 716.7,343ZM169,341.1 158.2,348.8 156.5,356.1 167,364.8 183.5,358.6 183.6,357.3 173.7,341.5ZM352.4,350 341.1,348.2 341.5,354.3 348.2,356.7ZM465.2,493.5 461.8,494.6 460.2,503.2 460.4,503.5 462.1,502.5 468.8,498.3 469.2,497.9ZM481.4,408.3 484.3,407.9 486.5,403.7 484.9,400.1 477.8,402.5 477.9,404.4ZM316.2,404.7 310.3,400.5 303,401.7 298.9,408.9 301.7,417.1 312.5,417.8 316.6,413.5ZM655.3,406.3 656.4,408.2 661.1,407.7 660.8,403.4 657.2,401.7 656.9,401.8ZM640.5,380.4 641.2,379.2 639.9,375.8 635.6,375.4 634.1,380 634.6,381.3ZM226,313.7 232,323.5 240.4,322.2 235,323 235,307.8 243.5,309.9 235,307.8 235,313.8 227.5,311.4 230.6,306.7ZM313.9,370 317.4,377.4 329.7,375.8 333.2,371.7 319.9,361.1ZM160.7,120.6 161.4,122 167.6,124.9 172.3,120.8 172.1,114.6 170.7,113 164.1,113.3ZM166.7,152.8 166.8,152.1 160.1,143.6 155.7,144.9 153.1,152.1 155.8,157ZM721.2,251.9 721.5,246.9 718.6,244.5 714.1,245.7 714,252.1 719.6,253.5ZM574.5,410.2 576.7,415 582.5,414.9 582.5,409.3 577.5,407.7ZM156.8,246.7 150.6,247.7 146.5,254 150.3,260.8 159.6,261.1 154.9,260.9 155.4,254.7 158.2,249 162.7,256.6ZM183.6,152 187.3,158 197.1,157.4 197.5,157 192.8,146.7 191.8,146.5ZM173.4,252.6 165.4,249.7 158.7,246.3 159.9,240.9 160.8,239.2 156.8,246.7 158.2,249 158.7,248 165.4,250 173.4,253.3 173.4,254.7 173.4,243.3ZM528.7,343.2 530.9,345.8 536.5,345.8 536,340.3 532.6,338.7 530.1,339.7ZM256.4,421.5 251.1,414.9 238.6,415 233.1,434.6 235,435.8 251.9,438.9ZM254.4,344 238.6,344 243.7,362.4 256.8,359.4 259.2,351.5ZM483.9,464.4 490.5,464.7 491,464.2 491.8,459.6 488.4,456.5 483.1,456.9 481.7,460.8ZM466.5,438.5 465.1,434 459.2,432.8 455.9,438.6 455.9,438.6 461,442.4 465.1,441.2ZM650,409.8 645.8,410.5 645.4,413.8 648.7,415.8 651.1,415.1 651.3,411.3ZM255,290.7 253.9,287 256.8,287 258.3,276.8 267.9,277.3 254.9,276.7 251.7,280.1ZM611.9,367.9 608.5,365.1 605,367.6 604.8,368.7 607,371.5 610.5,371.5ZM509.1,392.2 503.9,390 501.8,391.2 501.8,398 504,398.7 508.5,395.9ZM130.9,163.2 135.5,168.4 142,167.8 144.9,162.7 143.9,160.5 144.3,161.5 140.3,160.7 137,159.5 137,155.7 141.1,158.3 143.2,159 141.1,154.5 136.3,154.2 131.2,158.3ZM607.5,461.2 606.9,456.2 603.3,455 599.6,458 602.8,465.5 604.7,465.2ZM475.7,461.8 474.6,465.1 476.9,469.9 481.9,469.3 483.9,464.4 481.7,460.8ZM100.9,295.4 101.7,297.8 106.5,297 112.1,290.9 107.5,295.9 106.8,288.7 110.9,288.2 104.2,283.8 109.1,287 99.8,287 99.7,287 101.8,290.4ZM119.2,296.3 126.2,291.9 122.2,283.3 117.5,283.3 112,288.9 112.9,288 114.3,287.8 114.8,292.9ZM328.6,442.2 328.8,439.1 336.4,439.1 331.6,443.5 338.7,437 332.2,436.6 332.2,429.3 327.1,426.8 320.3,431.1 321.7,439.5ZM497.8,356 502.2,358.7 503.4,358.3 505.1,352.7 501.6,350.3 497.6,352.2ZM243.7,362.4 238.5,369.5 249.6,383 265.5,374 265.6,370 256.8,359.4ZM254.4,344 259.2,351.5 272.8,348.1 273.5,346.8 270.3,335.7 271.6,340.2 256.9,337.5ZM149.8,232.6 151,225.8 150.8,226.6 139,222.2 140.5,220.1 135.7,226.9 136.3,230.8 144.2,236.3ZM647.8,343.2 645.5,341.4 641.5,344.7 642.6,346.8 645.9,347.7 647.8,346ZM676.2,454.9 674.3,455 671,459.6 675.4,463.4 678.2,462.3 679.4,458.3ZM498,466.4 498.2,470.7 505.6,472.4 506.2,465.8 501.1,463.3ZM341.2,304.5 332.6,304.6 330.8,307 332.6,315.2 335.1,316.5 341.4,313.7ZM572.6,443.9 573.4,443.7 574.5,436.9 570.8,435 566.2,439ZM181.9,403 190.6,403.9 187.6,407.3 206.2,418.1 207.6,403 193.9,391.9ZM154.5,358.7 151.2,370.8 147.8,372.9 149.5,372.5 153.7,378.3 153.4,378.9 165.8,377.5 153.9,378.9 154,378.3 152,372.8 165.9,375.5 167,364.8 156.5,356.1 156.2,358.2 152.9,357.7 156.5,356.1 152.8,357.8 149.1,366.8 152.6,358.4ZM151.2,379.2 147.7,379.6 146.3,373.9 146.2,373.9 145.1,376.6 147.6,379.6ZM734.8,283.8 735,283.5 732.2,278.7 729.3,279.1 728.2,280.2 728,283.8 731,285.2ZM622.9,350.9 619.5,350.6 617.5,352.8 618,356.2 618.4,356.5 623.5,355.3 624.4,352.7ZM467.3,325.7 467.4,330.2 472.1,332.7 475,331.4 476.1,327.2 472.5,324.1ZM703.8,536.8 696.4,539.3 697.6,541 700.9,545.2 704.3,543.5 707.5,542.3ZM653,358.8 652.8,359.2 654.6,363.1 658.2,362.5 658.9,357.7 658.2,357ZM419.2,451.7 423.2,449.4 423.7,443.9 421.5,441.5 420.1,441.2 415.8,444.1 416.9,450.3ZM788.2,139.1 785.5,133.9 774.2,134.9 773,138.6 772.8,139.6 778.6,142.1 785.6,139.4 786.3,142.8ZM170.6,158.7 166.7,152.8 155.8,157 154.8,161.7 154.8,161.8 155.4,161.2 158.7,162 167.9,162.3 165.7,165.4ZM149.5,383 152,388 152.9,398.9 157,399.6 167.9,386.1 154.5,383.5 153.8,383 152.9,383 153.9,378.9 148.3,379.6 153.4,378.9 151.2,383 147.8,380ZM182.2,333 173.7,341.5 183.6,357.3 197,344.6 195.4,336ZM541.5,354.9 547.8,356 548,350.6 544.8,348.8 542.1,349.9ZM139.3,318.8 137,314.2 147.8,307.1 150.5,312.4 152.7,307.4 152.3,308.4 146.2,303.8 145.8,302.6 144,301.4 139.6,303.3 136.2,312.7ZM716.6,347.4 718.2,349 722.7,348.2 723.4,346.6 721.9,343.9 717.3,343.9ZM669.8,459.8 671,459.6 674.3,455 671,451.2 667.3,452.5 666.3,454.9ZM116.7,192.8 123.4,191.8 125.5,189.1 124.4,181.3 112.2,179.6 110.1,183.8 109.6,185ZM135.5,279.6 125.4,279.4 122.2,283.3 126.2,291.9 129.7,293 135.3,289 136.2,280.2ZM254.2,265 264.9,261.9 265.9,252.4 265.7,252.2 261.8,252.2 261.8,259.7 251.8,261.4 250.4,262.3ZM344.8,466.5 349.6,462.8 349.7,469.4 349.5,462.4 342.1,456.2 340,456.5 336,463.8ZM523.2,325 527.1,320.3 526.9,318.1 525.8,317.2 520.2,317.2 517.5,320.6 522.2,325ZM309,228.3 299.4,221.2 300.4,221.2 304.5,216.1 305.2,206.8 304.7,206.5 297.3,210.9 295.3,218.2ZM445.8,501.3 441.8,501.2 437.7,505.3 437.6,508.6 437.6,506 439.5,507.5 438.2,509.1 443.6,513.5 443.7,513.4 447.8,510.8 450,509.8 448.5,503.5ZM761.2,216.7 764.4,215 764.5,210.2 760.4,207.2 756.9,209.4 756.5,212.6ZM266.8,441.7 268.2,441.8 272.9,428 269.1,421.5 256.4,421.5 251.9,438.9ZM268.6,440.7 270.4,423.8 272.9,428ZM108.6,248.1 103.2,246.8 102.6,247.1 101.4,250.8 105.1,252.2 105.9,258 102.7,260.2 99.2,257.9 104.9,261.6 107.3,261.2 110.5,251.1ZM661.6,380.9 660.2,380.1 657,381.3 656.1,384.9 659.6,388.4 662.9,385.5ZM152,326.6 146.9,336.9 149.6,339.7 158.7,341.5 157.7,348.3 151.1,341.3 158.2,348.8 169,341.1 161.5,326.2ZM743.8,279.5 739.4,278.6 737.9,282.4 741.2,284.9 743.4,284.1ZM617.5,369.1 614.2,367.1 611.9,367.9 610.5,371.5 612.3,374.4 613.7,374.8 617.4,371.9ZM232.5,408.8 231.2,397.8 222,390.9 207.6,403 206.2,418.1 210.3,420.5ZM332.9,288.4 333.1,287 333.1,287 320.5,287 321.1,290.6ZM465.4,462.1 465.8,460.5 464.3,457.2 459.6,455.4 457.1,456.9 456.5,461.8 459.8,464.4ZM496.6,389.7 495.3,396.8 500.1,398.7 501.8,398 501.8,391.2ZM577.5,451 579.8,451.3 583.6,447.1 579.9,443 575.2,444.4ZM294.8,391.2 295.8,387 284.1,377.8 274.1,382 273.9,389.2 285.2,396.8ZM735.6,270.8 738.9,269.7 740.1,267.5 739.4,265.5 735.2,264 733,265.4 733.9,270.3ZM520.7,469 518.4,471.3 519.4,476.3 527.5,476.1 528.2,474.9 523.9,469ZM680.4,419.5 681.5,415.7 678.7,412.9 674,416.1 674.3,417.6 679.1,420.2ZM659.8,330.1 659.4,331.8 661.2,335.5 664,336.2 666.4,332.8 666.1,331.1 662.9,329ZM149,125 139.7,125.3 138.9,126.7 141,134 150,134.4 152.3,131.5 150,127.1 149.5,128.2 147,131 145,130.5 145.3,128.5 147.3,127.7 149.1,125.3ZM517.3,425.6 513.6,429.4 515.5,434.6 515.9,434.8 519.6,434.3 521.9,430.1 518.4,425.5ZM504.1,376.3 497.8,376.5 495.4,380.1 498.1,383.6 503.2,383.1ZM344.3,366.6 343.9,364.1 350.6,365.4 346.6,366.1 350.7,365.4 351.1,362.7 348.2,356.7 341.5,354.3 335.8,357.8 336.2,368ZM606.5,327.7 607.9,324.8 606.7,322.3 603.4,321.9 602.8,322.5 602.9,327.1ZM637.3,345.8 641.1,344.5 639.5,340.5 637.6,340 635,341.6 634.6,342.9ZM230.8,240.9 234.8,248 235,248.1 235,244.6 243.4,241.3 242.9,236.4 234,234.6ZM247.5,237.4 243.9,236.6 245.1,239.6 247.4,240.1ZM455.5,477.6 461.1,479.9 463.3,478.7 463,471.7 459.1,470.1 458.2,470.4 455.2,476.5ZM728.1,219.4 729.9,215.6 728.5,212.4 724.8,211.2 721.9,212.5 721.1,219 722.6,221ZM597.1,440.5 593.3,440.5 590.9,443.6 595.1,449.6 597.7,448.6 599.3,443.3ZM439.9,459.2 437.7,452.8 431.1,454.6 433.2,461.3 437.3,461.9ZM328.5,342.5 319.6,345.7 321.9,357.1 330.2,354.7 331,346.8 331,347.1 328,347 327.5,342.9 328.4,342.5 328.8,344 331.2,345.2 331.3,344.3ZM766.9,189.1 767.5,188.5 769.9,179.9 762.5,180.6 761.2,183.2 766.3,188.9ZM554.2,180.2 560.6,187.5 561.3,187.1 565.4,180.5 562.6,178.7 557.9,176.3 555.7,176.3ZM130.5,203.2 126.6,201.8 118.1,206.6 117.7,207.7 125.4,216.6 128.3,214.9 131.3,208.2ZM190.7,118.6 190.9,118.4 191.5,110.5 182.6,108.2 180.7,113.2 183,118.7ZM420.1,441.2 417.2,435.6 411,436.3 410.8,442.7 415.8,444.1ZM305.8,324.3 307.9,320.5 307.6,315.6 301.7,313.3 300.1,316.4 302,316.3 304.5,323 298.7,322.2 298.5,323.1 297.5,321.6 298.9,323.6 310.7,324.7ZM786.1,232.2 789.2,230.9 792.4,229.1 790.8,227.1 788.1,228.9 786.5,229.4ZM450.1,436.1 449.2,431.3 444.3,430.1 442.3,431.3 441.9,437.2 445.9,439.6ZM690.3,237.3 692,241.6 694.9,242.7 698.3,240.3 698.3,234.7 697.7,234.2 691.6,234.6ZM672.2,414.9 672.4,408.4 672.3,408.4 668.6,408.8 666.5,412.8 667.1,414.9 668,415.5ZM162.3,272.8 170.2,274.8 179,266.8 174.7,270.7 160.9,266.6ZM450.9,483.9 446.6,490.2 449.2,493.6 453.9,494.2 456.8,492 457.3,487.5 451.5,483.8ZM508.3,436.2 506.7,434.9 500.8,439.9 502.7,443.6 509.3,441.3ZM459.1,470.1 459.8,464.4 456.5,461.8 452.6,463.3 452.2,468.1 458.2,470.4ZM284.5,407.9 298.9,408.9 303,401.7 294.8,391.2 285.2,396.8ZM233.2,230.4 224.4,225.7 219.7,228.3 217.4,236.5 221.3,241.7 230.8,240.9 234,234.6ZM215.2,154.6 210.6,161.1 211.9,159.3 217.4,158.7 219.1,155.3 219.9,155.2 223.9,157.6 217.8,154ZM439.2,494.7 433.1,493 430.5,496.1 430.8,500.9 437.7,505.3 441.8,501.2ZM664,336.2 661.2,335.5 657.5,338.8 657.8,339.9 662.7,342.5 663.4,342.1 664.8,338.2ZM707.1,271.7 710.3,268.7 709.6,264.4 705.3,262.5 702.3,265.8 703.1,269.5ZM707.5,542.3 711,541 711.8,536 712.2,532.8 704.8,532.7 703.8,536.8ZM714.9,316.9 720.2,315.3 720.4,315 719.4,311.9 716.3,310.5 713.8,314.5 714.8,316.8ZM313.7,186.5 316.2,191.9 315.8,191 318.8,191 323,185.5 320.5,179.6 317.1,183 315.2,183.2ZM582.2,455 579.8,451.3 577.5,451 573.7,453.7 575.6,459.2 576.6,459.7 581.7,458.3ZM676,328.6 674.3,328.3 672.6,329.1 671.9,334.3 675.3,335.4 678.2,333.9 678.4,331.9ZM595.1,344.6 592.4,341.8 588.5,343.2 588.2,343.7 589,345.9 592.7,347.5ZM313.8,447.5 320.5,454.2 322.6,456.6 327.5,453.6 328.6,442.2 331.6,443.5 321.7,439.5 313.7,447.4ZM619.6,469.7 620.5,470.1 625.5,474.3 627.7,473.8 627.6,468 625.5,466.5 620.5,468.2ZM636.5,406.4 639.2,406.7 641.7,404.1 641.4,401.8 637.8,400.8 635.9,402.9ZM248,134.8 249.3,141.3 256.6,142.9 260.2,139 260.1,138.6 255.9,133.5 254.1,130.8 255,130.3ZM685.9,373.5 683.4,369.1 678.5,372.2 680,377.1 683.4,377.6ZM648,363.6 644.4,364.6 643.7,366.3 645.8,370 649.6,369.6 649.5,364.9ZM566.5,373 565,371.8 560.6,372.5 559.8,373.5 561.6,378.3 562.6,378.6 566.4,376.2ZM637.1,422.2 634.3,422.5 632.5,425 635.1,429.2 637,429.2 639,427.7 639,423.8ZM513,372.3 512.9,378.2 518.8,378.9 520.6,374.8 517.2,369.9 517,369.9ZM126.4,237.6 120.7,242.9 121.9,249.6 128.9,250.9 133.9,245.2 128.7,238ZM129.7,293 126.2,291.9 119.2,296.3 118.4,302.5 125,306.6 131.5,299.7ZM333.8,371.5 333.2,371.7 329.7,375.8 331,389.2 338.6,390.4 343.9,379.9ZM725.4,202.9 725,198.8 719.7,196.5 716.1,201.2 716.5,203.2 718,204.5 724.5,203.8ZM131.2,158.3 122.3,153.3 120.2,159.5 117.7,165.4 117.4,166.4 121,167.6 130.9,163.2ZM117.8,166.5 118.5,163.7 122.2,162.9 122.5,166.9 121,167.6ZM123.9,166.3 123.9,163.7 127.9,164.6ZM628.7,332.7 625,332.6 623.6,335 624.7,338.1 629.8,335.9ZM125.4,279.4 135.5,279.6 134.7,273.5 126.9,274 125.2,270.6 134.3,269.9 134.2,269.5 129.6,267.8 123.4,271.6ZM116.7,192.8 109.6,185 106.8,191 106.5,191 103.4,196.9 102.8,199.3 102.9,199.3 105.1,196 107.9,198.8 104.9,199.1 113.8,198.3ZM581,332.4 583.2,335.2 587.4,334.3 588.7,330.4 588.4,330.1 583.3,329.7ZM259.8,161.2 256.3,165.5 257.4,172.3 266.1,175.4 260.5,173.4 265.2,168.7 263.5,162 263.2,161.7ZM470.6,473.4 475.3,472.8 476.9,469.9 474.6,465.1 468,466.4 467.1,470.1ZM340.9,393.2 338.7,403.8 345.3,407.6 349,406.5 351.2,403 351,396 349.8,394.1ZM346.8,393.8 345.9,402.3 339.2,401.3 340.9,393.2ZM537.6,471.8 543.2,471.3 542.6,463.9 540.8,463.2 534.4,466.9ZM205.7,299.6 202.3,293.7 198,288.7 198,288.1 197.2,300.3 210.2,306.5 215.1,299.6ZM205.3,304.2 205.7,300.4 214.7,300.2 210.2,306.5ZM131,257.3 128.1,260.6 129.6,267.8 131.8,268.6 130.2,264.7 133.6,263.1 139.4,266 139.5,265.9 137.2,258.1ZM199.9,264.7 200.3,268 201.2,267ZM192.5,251.7 187.7,254.2 186.8,256.9 185.3,260.3 181.8,257.2 181.3,257.5 185.2,260.5 188,254 188.3,253.9 194.3,254.8ZM483.8,388.3 484.7,391.2 489.2,392.2 492.6,388.7 489.5,384.1 486.6,384.2ZM273.9,389.2 274.1,382 265.5,374 249.6,383 248.8,389.7 257.9,399.5 264.1,399.2ZM348.3,444.4 352.3,449.2 357.3,451.7 358.2,452.1 355.2,457.4 359.8,449.3 356.8,445.1 355,445.1 355,445 354,445 354,443.1 355.4,443.3 347.4,441.9 352.2,442.7 351.5,445 347.3,444.2ZM536.9,481 537.5,479.8 535.7,475.7 528.4,474.8 528.2,474.9 527.5,476.1 527.8,480.4 532.5,481.5 534.2,482.7ZM596.8,351.2 596.8,353.8 601.2,355.7 603.1,352.6 602.5,350.6 598.5,349.6ZM473.2,458.3 475.7,461.8 481.7,460.8 483.1,456.9 481.7,454.4 476.6,452.5 473.6,454.3ZM470.6,422.5 466.5,425.2 467.7,431 474.2,431.9 474.8,425.7ZM498,466.4 501.1,463.3 500.9,461.3 495.5,457.8 491.8,459.6 491,464.2ZM451.9,445.5 455.9,438.6 455.9,438.6 450.1,436.1 445.9,439.6 446.4,444.1ZM779.4,152.5 776.8,142.8 778.6,142.1 785.2,144.9 772.8,139.6 771.8,145.3 772.1,151.4 779.3,152.6ZM235,191 235,191 235,189.6 229.9,190.4 233.3,201.3 240,201.9 235,201.5 235,196ZM235,189.6 235,191 230.1,191 229.9,190.4ZM231.3,194.8 235,194.4 235,201.5 233.3,201.3ZM165.8,377.5 165.9,375.5 178.8,378 186,378.3 170.6,382.9 186.3,378.2 187,363.3 183.5,358.6 167,364.8ZM688.5,280.6 684,279 681.8,280.6 683.1,286.6 683.7,286.9 688.9,285.3ZM172.1,114.6 180.7,113.2 182.6,108.2 175.5,106.4 172.1,105.5 170.7,113ZM260.2,196.9 266.6,204 274.6,197.4 268.3,202.6 261.8,197.7 261.2,195.1ZM409.9,456.4 410.5,457.5 414.5,459.1 419.4,455 419.2,451.7 416.9,450.3 411,451.7ZM636.5,387.5 631.7,388.3 631.1,391.1 633.4,393.4 637.8,391.7ZM649.8,321.6 646.3,321.5 645.9,325.4 648.9,327.7 650.9,327.1 651.6,325.3ZM700.7,376.3 699.6,383 700.9,384.1 705.6,381.9 705.9,377 702.6,375.6ZM746.6,234.7 752.5,231.8 752.6,228.1 748.6,225.6 744.1,228.7 746.5,234.7ZM133.9,245.2 136.5,245.4 143.8,239.9 144.2,236.3 136.3,230.8 128.7,238ZM586.4,369.8 584,366.8 581.9,366.7 580.6,371.7 584.3,373.6 585.1,373.4ZM162.8,198 163.8,198 167.1,191 157.7,191 157.1,190.2ZM477.8,373.4 476,378.4 478.1,381.4 483.7,380.2 485,376.5 482.7,373ZM636.7,442.5 632.4,440 629.7,443.2 631.5,446.9 635.7,447.5ZM217.4,236.5 207,237.1 203.8,245.5 214.8,254.2 216.5,253.9 221.3,241.7ZM651.6,319.7 655.3,320.4 657,318.1 655.2,314.8 652.7,314.4 650.8,315.9ZM689.8,504.4 685.7,503.1 682.7,505 682.7,511.3 684,512.8 686.3,513.3 691.9,509ZM664,348.2 661.9,344.8 658.1,346.6 657.8,348.3 660.7,351.6 661.9,351.5ZM225,218.4 228,215.9 229.1,222 224.7,221.5 224.4,225.7 233.2,230.4 238.6,224.1 235,223.7 235,216.1 235,215.3 237.3,215.9 230.4,214ZM523,337.2 523.4,342.6 524.9,343.8 528.7,343.2 530.1,339.7 525.2,335ZM744.4,273.5 745.3,274.2 746.7,274 749.9,270 745.7,267.3 744.6,268ZM557.5,392.2 556.6,394 558.7,399.1 560.6,399.6 563.6,398.5 564.8,395.3 563,391.8ZM501.8,346.8 506.6,343.9 504.9,340.1 499.3,339.6 497.5,341.3 497.5,343.8ZM502.3,446.3 502.7,443.6 500.8,439.9 497.7,438.4 493,442.5 493.7,446.2 501.2,447.2ZM518.9,463.5 513.7,462.6 511.8,463.6 513.8,470.6 518.4,471.3 520.7,469ZM600.7,363.6 598.6,367.8 601,370.5 604.8,368.7 605,367.6 601.5,363.6ZM133.4,117.4 136.4,110.7 135.3,110.1 132.8,107.1 130.6,105.4 128.2,108.1 127.7,112.6 127.7,118.4ZM315.7,340.6 315.4,340.6 313.8,334.8 306.6,334.8 311.6,327.7 305.9,335.8 306.4,338.2 314,343 314.5,342.9ZM704.1,330.2 704.1,330.2 706.5,331.3 710.1,328 709.2,325 707.6,324.5 704.6,326.4ZM660.2,380.1 660.1,375 656.1,374.1 653.3,376.1 653.5,379 657,381.3ZM661.9,432.8 663.3,428.4 659.3,427 657.2,430.7 658.3,432.5ZM635,341.6 631.6,337.6 628.7,342 632.1,344.3 634.6,342.9ZM627.6,468 632.2,466.7 633.2,463.4 632,461 630,460.1 625.9,461.7 625.5,466.5ZM426.6,486.2 432.9,491.7 436.7,484.7 430.6,480.2 428,480.9ZM424.3,506.2 424.3,506.6 431.1,513.1 435.3,510.2 432.8,509.2 430.2,502.5 435.3,504.1 437.6,506 437.7,505.3 430.8,500.9ZM631.7,368.3 627.6,365.1 627.3,365.2 624.8,370.8 628.9,372.2ZM532.1,465.5 532.8,458.4 528.5,456.8 524.2,460 527.2,465.1ZM665.1,441.2 666.3,440.2 666.1,435.2 663.4,434.7 659.8,439.1 659.9,440.3 659.9,440.3ZM335.1,329.8 334.3,330.5 335.6,332.2 331.4,337.3 327.8,338.7 327.3,335.9 328.5,342.5 331.3,344.3 335.7,343.5 339.1,335ZM739.7,315.9 739.8,315 741.1,311.7 738.2,310.2 737.1,310.3 737.2,310.4 736.3,315.5ZM686.3,513.3 689.5,519.3 693.8,518.3 696.1,514 693.1,509.4 691.9,509ZM758,184.3 755.3,182.6 750.4,184.1 750.1,187.7 753.2,190.8 757.1,189.7ZM744.1,252.1 741.2,248.5 737.9,248.6 736.5,252.7 740.1,255.6 744,253.8ZM667.5,388.8 666.1,386.2 662.9,385.5 659.6,388.4 659.5,389.1 660.6,391.2 663.3,392.6 666.9,391.1ZM543.6,374.5 542.3,372 539.6,371 534.6,374.1 534.6,376.5 539.8,380 541.8,379.3ZM220.9,296.7 222.4,287 223.3,287 223.5,283.1 227.1,283.6 227.4,282.1 222.1,279.1 220.8,287 221.6,287 219.7,296.3ZM688.5,280.6 688.9,285.3 689.9,286 695.9,284.7 696.5,282.9 691.7,278.1ZM729,189.5 735.2,189.5 736.1,187.9 733.8,181.3 733.6,181.3 727.5,183.1ZM282.2,279.1 283.7,274 277.7,274 277,279.4ZM732.4,208 731.1,204.1 725.4,202.9 724.5,203.8 724.8,211.2 728.5,212.4ZM460.3,485.6 466.8,488.3 469,480.6 468.4,479.8 463.3,478.7 461.1,479.9ZM654.4,436.3 652.6,439.9 654.9,441.9 659.9,440.3 659.8,439.1 656.8,436ZM685.1,324.1 684.6,321.7 681.8,320 681.3,320.1 678.7,323 679.4,325.5 682.6,327ZM698.3,234.7 704.5,234 704.8,227.9 703.6,226.4 697.7,227.3 697.7,234.2ZM461,442.4 455.9,438.6 451.9,445.5 453.4,448.2 459.6,448.7ZM474.6,355.3 476.7,358.3 478.9,358.6 482.8,355.8 483,355 480.4,350.8 475.3,351.6ZM145.8,302.6 144.4,297.9 144,301.4 152.7,307.4ZM154.2,287.9 151.2,288.2 147.7,291.3 148.7,292 158.7,302.9 159.2,304.9 159.1,305.8 159.8,299.2 157.1,293.7 155.9,289.2 160.6,292.7ZM205.5,266.7 214.8,254.2 203.8,245.5 193.5,248.7 192.5,251.7 201.2,267ZM194.3,254.8 199,255.5 199.9,264.7ZM521.9,430.1 526.4,429.7 527,424.2 522.8,421.1 522.5,421.2 518.4,425.5ZM523.2,356.3 524,358.1 530.3,358.6 531.1,353 529,351.2 526.8,351.2ZM687.2,335.9 687.5,338.4 692.2,340.1 694.1,336.3 692.7,333.8 690.8,333.3ZM248.8,389.7 231.2,397.8 232.5,408.8 238.6,415 251.1,414.9 257.9,399.5ZM675.4,359.8 674.6,362.2 677,365.3 681.2,365.1 682.3,362 679.3,358.7ZM691,526.8 695.9,526.6 697.9,522.9 693.8,518.3 689.5,519.3 689.2,519.7ZM413.5,521.5 418.1,527.5 423.6,526.5 424.7,519.3 417.5,514.9ZM302.3,296.7 295.3,296.4 291.9,299.6 292.6,306.8 301.1,310.3 304.6,306ZM563.3,360.6 567.2,362.8 570.2,360.9 570.8,359.2 568.7,356.5 566,356.1 563.4,358ZM123.4,191.8 126.6,201.8 130.5,203.2 134.7,200.8 135.3,199.4 136.9,194.5 137.2,190.6 125.5,189.1ZM443.5,459.2 439.9,459.2 437.3,461.9 439.2,467.3 440.7,468.1 444.9,466.2 446.2,462ZM561.1,489.2 564.8,491.6 568.5,489.4 566,486.5 563.7,485.6ZM691.4,385.7 685.9,386.8 685.1,390.7 688.3,393.9 689.3,394 693.1,388.6 692.2,386.1ZM734.1,293.5 734.2,293.3 733.5,290.2 730.9,289.1 728,290.4 728,290.9 729,294.2ZM208.7,200.8 214.7,195 213.6,188.4 214,191 212.4,191 211.5,195.2 208.2,195.2 209,191 205.7,191 208.1,185.9 206.8,185.3 205.7,187.2 203.6,190.4 204.6,186.2 202.2,196.1 207.3,200.8ZM694.3,499.1 694,497.5 691.6,494.9 687.8,494.6 685,496.8 685.7,503.1 689.8,504.4ZM444.9,445.5 446.4,444.1 445.9,439.6 441.9,437.2 437.8,439 437.7,444.7ZM616.4,437.7 618.9,441.3 624,439.5 624.4,438.1 621.6,433.6 618.8,432.9ZM689.8,231.4 690.4,228.2 684.8,225.9 682.7,229.1 684.1,232.3ZM541.5,436 541.7,435.9 542.4,433.9 541.3,429.9 536,427.7 535.3,428 534.2,429.5 534.7,434.9ZM174.2,288.7 176.1,289.8 193,282.5 182.5,287 173.8,287 171.9,280.7 176.3,278.1 177.2,271.4 174.7,270.7 170.2,274.8ZM614,398.4 611.1,402.9 611.2,403.4 615,405.7 618,404.7 617.9,398.6 617.5,398.3ZM618.8,432.9 621.6,433.6 626.7,429.6 626.7,429.4 621.8,425.1 616.9,429.6 616.9,429.7ZM440.9,481.8 439.8,483.9 444.2,490 446.6,490.2 450.9,483.9 446.6,480.2ZM191.8,146.5 192.8,146.7 200.2,143 200.6,139.9 196.5,135.2 190.4,135.3 187.8,138.8ZM284.1,377.8 288.3,367.6 285.9,362.8 277,360.6 265.6,370 265.5,374 274.1,382ZM778.6,207.2 775.9,209.6 778.2,217.6 779.2,217.9 779.2,217.8 781.4,215.8 783.9,212.8 782.2,210.3 778.5,207.8 778.9,207.2ZM207.3,200.8 200.6,211 202.6,214.2 210.5,216.9 215.4,213.1 216.1,208.7 208.7,200.8ZM502.2,358.7 500.4,362.9 503.5,366.8 507.7,366.2 508.4,365.2 508,360.4 503.4,358.3ZM211.3,223.3 219.7,228.3 224.4,225.7 225,218.4 215.4,213.1 210.5,216.9ZM224.7,221.5 221.6,221.2 222,216.8 225,218.4ZM671.1,441.3 670,445.9 671.8,448.4 676.7,447 676.9,446.7 675.9,442.4ZM282.1,141.1 284.4,130.2 276.4,129 276.5,138.3ZM727.8,195.6 727.3,191.7 722.5,190.5 719.2,194.6 719.7,196.5 725,198.8ZM691,322 692.3,321.6 693.5,317.1 690.5,315.8 688,317.5 687.9,319.4ZM532.1,465.5 527.2,465.1 523.9,469 528.2,474.9 528.4,474.8 533,466.6ZM505.1,352.7 503.4,358.3 508,360.4 510.7,358.3 510,352.4 508.3,351.8ZM599.3,196.9 604.2,195.9 604.5,195.5 605,192.3 601.2,191.8 597.8,193.5 596.5,195.2ZM142,167.8 145.6,173.4 151.2,165.4 154.8,161.8 156.5,164.4 154.8,161.7 144.9,162.7ZM299.5,344.1 289.6,337 288.8,337 284.5,344.4 291.1,354.2 299.4,352.3ZM471.8,410.5 469.9,416.5 471.1,418.8 479.2,418 480,415.5 479.1,413ZM445.8,501.3 448.5,503.5 455.2,500.3 453.9,494.2 449.2,493.6ZM597.5,323.4 592.9,323.6 593.4,328.1 596.2,329.1 598.4,327.1ZM549.9,469.6 546.8,472.2 550.7,478.2 555.2,475.7 555,471.7ZM704.8,532.7 712.2,532.8 712.7,529.3 712.8,526.6 707.3,524.7 704.9,525.7 703.6,531ZM201.2,267 193.1,275.1 200.3,268 200.6,271.4 194.9,284.7 198,288.1 197,287 199,287 200.6,273.1 216.2,276.1 205.5,266.7ZM628.7,453.5 630,460.1 632,461 636.9,456.6 634.8,453.3ZM324.5,318.2 326.7,317.4 327.2,320.5 331.2,326.2 324.6,323.9 335.2,327.5 336.2,326.1 335.1,316.5 332.6,315.2ZM102,231.3 106.9,224.3 100.6,218.9 99.2,223.7 96,228.5ZM106.9,224.3 102,231.3 103.7,235.6 112.1,235.5 114,232.1 111,224.2ZM689.8,272.9 690.9,269.7 689,266.8 683.6,266.4 682.1,272 684.2,273.9ZM383.8,485.6 385,486.5 385,484.7ZM722.7,348.2 723.8,351.7 727.5,353.2 729.9,350.4 729.9,349.9 726.6,346.1 723.4,346.6ZM728.5,228.2 727.6,231.9 733.7,235 736.8,233.3 737.5,230.3 732.3,225.3ZM743.9,215.2 744.2,219.5 748.3,221.6 752.4,219 752.3,215.6 747.3,212ZM438.9,476.2 433.9,475.3 430.6,480.2 436.7,484.7 439.8,483.9 440.9,481.8ZM406.2,483.5 402.5,480.8 400.6,481 400.1,484 406.1,484.6ZM715.9,326.3 714.6,323.6 712,322.9 709.2,325 710.1,328 713,329.6 714.3,329.1ZM643.5,399.5 645.9,400 648.9,397.6 647.4,393.6 644.6,393.7 642.5,396.8ZM183.6,357.3 183.5,358.6 187,363.3 207.1,364.8 207.3,350.2 197,344.6ZM743.9,215.2 747.3,212 747.4,210.1 744.8,207.2 739.5,207.2 737.5,209.4 738.2,213.2ZM650.8,354.5 646.7,356.6 646.3,357.7 648.5,360.5 652.8,359.2 653,358.8 651.7,354.9ZM176.1,289.8 174.2,288.7 166.7,290.9 168,294.5 160.4,300.4 159.8,299.2 160.6,292.7 159.3,303.6 159.4,302.4 168.8,296.2 173.6,305 166.8,310.8 178.7,300.8ZM159.1,305.8 166.8,310.8 161.6,307.4 159.3,303.8ZM190.5,171.9 188.4,173.8 185.6,173.8 183.9,175.4 184.6,177.3 182.4,179.3ZM718.4,378.3 722.6,379.4 722.7,379.2 724.4,375.8 725,375 723.5,373.2 719.1,372.3 716.6,373.7ZM335.1,329.8 335.2,327.5 331.2,326.2 334.3,330.5 327.3,335.9ZM707.4,512 706.2,517.3 708.3,518.9 712.7,518.3 711.5,511.7 711,510.5ZM739.8,346.9 741.1,348.6 744.7,349.3 745.7,345.7 742,344.8 740.7,344.9ZM621,417 626.3,418.9 627.4,414.6 624.8,411.8 620.5,412.6ZM512.8,399.9 515.6,398.8 516.1,393.1 510.3,391.5 509.1,392.2 508.5,395.9ZM230.4,214 235,215.3 235,201.5 233.3,201.3 235,201.5 235,209.4 228.8,208.1ZM237.9,343.5 246.2,327.5 245.8,328.2 235,326.4 235,323 232,323.5 228.3,330 236.8,343.3ZM683.4,377.6 680,377.1 676.7,379.9 676.5,381.4 679.8,384.9 683.7,384.3 685.1,380ZM674.6,260.4 676.4,261.7 680.9,258.4 680.7,256 675.6,253 675,253 673.7,254.6ZM729.6,248 735.5,245.6 735.9,242.8 732.9,239.6 727.4,241.1 726.8,245.1ZM700.4,369 696.3,370.8 697.2,375.2 700.7,376.3 702.6,375.6 702.9,370ZM314.5,342.9 319.6,345.7 327.5,342.9 327.2,340.6 315.7,340.6 320,332ZM328.5,342.5 327.8,338.7 327.2,339 328.4,342.5ZM485,376.5 489.8,376 491.8,371.7 488.9,368.5 484.3,369.4 482.7,373ZM628.5,402.4 624.9,405.8 626.5,408.6 629.6,408.7 631.3,406.8 630.5,402.9ZM737.7,336.7 735.9,340.3 736.8,341.7 740.5,342.5 741.5,337.8 741.2,336.4ZM551.1,408.6 555.3,405.3 554.7,401.8 551.7,400.3 547.9,402.8 548,406ZM553.8,354.8 556.5,357.3 559.9,355.6 560.4,351.8 555.5,350.1 554.4,350.6ZM608.6,419.2 613.4,421 614.6,420.2 614.3,412.2 614.2,412.1 609.4,412 607.4,414.7ZM674.8,426.5 675.5,430.7 676.9,431.7 679.2,431.5 679.8,431 680.2,426 677.8,424.2 676.1,424.7ZM705.8,368.5 702.9,370 702.6,375.6 705.9,377 708.3,376 708.9,370 708.1,369.1ZM475.8,483.7 472,489.4 475.1,493.6 475.5,493.2 478.8,489.1 479.7,485.7ZM313.7,186.5 307.6,184.3 304.5,184.7 305.4,191 305.4,191 306.2,194.4 311.7,195 313.2,194 313.8,191 315.8,191ZM559.9,427.8 556.1,430.6 556.2,432.2 558.7,434.7 563,433.7 564.6,430.4 564.4,429.8ZM161.5,326.2 169,341.1 173.7,341.5 182.2,333 180,322.2 168.3,318ZM628.7,431.6 632.8,431.7 635.1,429.2 632.5,425 629.9,425.2 626.7,429.4 626.7,429.6ZM137.9,138.7 141,134 138.9,126.7 128.2,129.1 128.2,132.7 128.4,133.6ZM722.5,190.5 727.3,191.7 729,189.5 727.5,183.1 725.2,183.8 721,185.5 720.5,185.9ZM673.1,469.3 673.9,468.9 675.4,463.4 671,459.6 669.8,459.8 667.5,462.2 667.5,467ZM120.7,242.9 114.1,240.8 108.6,248.1 110.5,251.1 118.9,252.9 121.9,249.6ZM153.5,118.3 152.9,120.1 151.2,124.3 150,127.1 152.3,131.5 155.7,131.4 161.4,122 160.7,120.6ZM520.1,381.5 518.8,378.9 512.9,378.2 511.7,379.2 510.9,384 511.7,385.1 517.4,386.1ZM568.7,356.5 570.7,352.8 568.8,349.7 567.6,349.5 564.9,351.5 566,356.1ZM721.9,273.1 721.5,270.5 717.3,267.9 714.5,269.8 715.4,275.7 716.4,276ZM686.1,409.5 685.9,414 691,415.6 692.5,414.9 691.4,409.4ZM431.7,445.6 428.8,451.8 429.7,454 431.1,454.6 437.7,452.8 437.9,452.5 436.5,445.8ZM218.6,151.4 212.4,150.3 213.2,145.3 220.1,146.1 219.7,148.3 221.3,143.5 213.7,139.8 208.5,148 215.2,154.6 217.8,154ZM251.7,280.1 242.1,279.3 237.5,284.9 245,285.8 245,287 253.9,287ZM136.6,199.7 136.9,194.5 137,194.4 143.7,195.7 149.6,196.9 150.6,192.3 139.3,188.6 137.2,190.6ZM647.4,393.6 648.5,392.2 647.4,387.8 643.9,386.4 643.9,386.4 642.3,390.9 644.6,393.7ZM206.9,167.6 209.5,165.1 209.8,160.6 205.7,158.3 206,159.5 203.3,166.2 201.3,161.2 200.7,155.9 197.5,157 197.1,157.4 197.4,163.6 201.4,166.7 202.3,166.2ZM556.9,417.6 550.9,418.2 549.7,419.8 550.5,422.5 554,424.4 557.7,422.5ZM106.9,224.3 111,224.2 113.6,220.9 111.5,212.5 101.1,215 100.9,217.8 100.6,218.9ZM635.7,349.7 631.6,346.9 629.1,348.5 628.9,351.4 634.2,352.2ZM445.8,501.3 449.2,493.6 446.6,490.2 444.2,490 439.2,494.7 441.8,501.2ZM628.7,342 628,342.1 625.7,345.9 629.1,348.5 631.6,346.9 632.1,344.3ZM501.7,369.7 504.4,375.8 509.3,370.9 507.7,366.2 503.5,366.8ZM527.5,476.1 519.4,476.3 518.9,477.3 521.6,483.4 522.4,483.2 527.5,480.3 527.8,480.4ZM421.3,464.1 421.8,468.6 425.5,471.2 430.2,469.4 430.1,464.1 424.1,461.2ZM596.6,383 598.3,383.9 602.8,381.9 602.4,378.7 597.5,377.9ZM609.3,381.2 607.7,383.5 609.9,387.4 615.2,386.2 615.2,383.8 613.1,381.2ZM661,374.2 666.1,374.6 667.5,370.8 665.2,368.3 661.1,369ZM184.6,177.3 185.6,179.6 193.9,177.1 195.9,175.8 190.5,171.9 192.5,173.3 192.3,173.8 188.4,173.8ZM346.5,282.6 352.8,281.7 353.6,280.7 344.8,279.8 344.8,281.1 343.9,280.4 343.9,279.8 343.1,279.7 342.6,279.3ZM585.1,373.4 584.3,373.6 582.2,378 583.9,380.5 585.8,380.8 588.1,379 587.9,375ZM306.6,334.8 305.4,334.8 304.5,326.4 305.8,324.3 298.9,323.6 298.6,330.9 299.5,331.5 299.5,330.6 303.7,328.1 304,333.9 303.2,333.9 303,333.8 305.9,335.8ZM292.6,306.8 291.9,299.6 281.1,296.4 278.9,306.4 286.2,312.3ZM773.1,200.7 772,195.5 768,193.6 764.6,197.5 766,201.8 769.1,203.2ZM679.8,488.3 674.9,486.7 671.3,492.9 674.3,496.5 677.7,496.8 679.6,495.5ZM490.7,396.8 485,399.7 484.9,400.1 486.5,403.7 491.9,404.7 492.8,404.1 492.9,397.7ZM146.5,254 141.3,253.9 137.2,258.1 139.5,265.9 145.6,267.5 150.3,260.8ZM126.2,346.8 121.2,356.7 125.2,358.2 128.9,360.7 131.7,363.9 139.5,354.6 138.6,355.7 131.1,351.5 129.9,346.2 135.9,345.3ZM251.9,199.1 253.3,197.5 251.1,187.5 246.5,187.2 247.6,191 247.6,191 249.2,197.7 249.8,199.1ZM256.3,165.5 259.8,161.2 257.6,153.2 248.7,153.5 245.5,158.2 247.5,164ZM251.3,164.6 255.9,163.7 256.2,165.4ZM282.2,279.1 285.5,284 289.1,284.5 289.5,274 283.7,274 285,269.3ZM759.9,196.5 764.6,197.5 768,193.6 766.9,189.1 766.3,188.9 759.5,191.5ZM698.1,392 703.2,394.4 704.9,393.9 705,388.8 701.2,386.5 697.8,391ZM558.4,384.9 558.3,380.4 554.4,378.4 551.1,379.5 550.8,380.3 554.6,387.1 555.4,387.3ZM249.8,199.1 251.8,203.6 252.5,203.7 251.9,199.1 242.7,199.2ZM769.4,207.8 772.1,210 775.9,209.6 778.6,207.2 774.6,201.2 773.1,200.7 769.1,203.2ZM585.8,380.8 583.9,380.5 580.5,384.7 583.3,388 587.3,386.7 587.8,385.4ZM598.8,360.2 599.1,361.9 600.7,363.6 601.5,363.6 605.6,360.8 605.4,358.7 601.5,356.7ZM699,502.4 699.6,505.1 702.2,506.9 708.2,503.7 704.3,497.5ZM519.3,443.3 519.5,445.1 524.7,448.3 528.1,443 525.4,438.5 523.5,438.5ZM683.4,465.7 679.6,471.1 680.7,473.8 688.9,473.4 689.9,472.5 688.4,470.1 685.5,465.2ZM481.5,318.1 479.4,313.9 475,312.6 472.1,316.6 473.8,319.8 480.6,320ZM707.6,317.9 711.3,319.5 714.8,316.8 713.8,314.5 710.8,313.5 708,315.6 707.6,317.8ZM634.1,380 635.6,375.4 634.8,374.2 629.7,374.2 628.6,377.5ZM597.3,390.5 593.9,389.1 590.3,391.1 589.8,392.7 594.1,396.8 597.6,392.4ZM645.9,347.7 642.6,346.8 640.2,351 641.1,352.7 644.9,352.7 646.5,350.7ZM304.6,306 301.1,310.3 301.7,313.3 312,317.2 307.6,315.6 307.1,305.9 311.8,305.7ZM676.5,381.4 676.7,379.9 672.5,376.4 667.9,378 667.7,378.8 668.8,382.1 673,383.8ZM522.3,362.1 523.8,365 529.1,364.4 531.1,359.6 530.3,358.6 524,358.1ZM616.9,429.6 613,424.5 607.1,427.9 606.6,429.8 610.5,432.7 616.9,429.7ZM678.5,372.2 683.4,369.1 683.5,368.8 681.2,365.1 677,365.3 674.6,370.7ZM691.8,377.3 689.3,380.1 691.4,385.7 692.2,386.1 696.5,382.7 694,377.6ZM536,427.7 541.3,429.9 544.4,426.3 543,423.2 539.4,421.9ZM429.8,443.4 431.7,445.6 436.5,445.8 437.7,444.7 437.8,439 435.1,437.2 430.6,438.8ZM723.2,309 725.6,312.2 730.3,310 730,309.1 727.1,305.7ZM368.2,298.1 368.1,294.3 359.5,289.6 358.4,289.9 356,293.1 360,301.6 363.1,302.6ZM153.1,152.1 144.1,151.2 141.1,154.5 143.9,160.5 143.2,159 147,160.4 146.7,162 144.3,161.5 144.9,162.7 154.8,161.7 155.8,157ZM349.5,329.4 344.2,324.5 336.2,326.1 335.2,327.5 335.1,329.8 339.1,335 346,335.6 345.7,335.5 349.7,331.5ZM628.1,436.3 632.2,438.7 634.4,436 632.8,431.7 628.7,431.6ZM594.9,430.2 588.6,427.4 585.8,429.8 587.3,435.5 591.2,436 594.9,431.7ZM196.5,135.2 199.9,127.9 199.5,127.1 191.8,125 188.6,128.6 190.4,135.3ZM610.5,371.5 607,371.5 604.7,376.1 608.2,377.8 612.3,374.4ZM125.2,311.7 126.1,311.3 133.6,316.3 137,314.2 136.2,312.7 126,310.5ZM131.9,325.9 139.3,318.8 135,323 130.2,323.9 130,324.3ZM350.9,352.4 361.9,352.7 361.8,352.5 353.3,348.5ZM358.6,351 352.4,350 353.3,348.5ZM348.2,356.7 351.1,362.7 351.4,362.6 350.6,360.7 350.6,352.8ZM720.1,296 724,293.5 723.5,290.9 723.5,290.7 717,291 717.7,294.8ZM615.3,386.3 615.2,386.2 609.9,387.4 608.9,390.1 611.3,393.4 615.5,391.5ZM578.3,395.8 580.9,399.3 585.6,397.5 586.4,394.5 582.6,390.9 578.9,392.5ZM767.5,188.5 766.9,189.1 768,193.6 772,195.5 777,191.9 777.4,190.5 776.1,188ZM533.9,323.7 535.2,317.4 533.1,315.4 526.9,318.1 527.1,320.3 532.1,324.2ZM657.6,327.9 659.8,330.1 662.9,329 664,324.5 663.2,323.1 662,322.6 657.4,324.6ZM731.1,204.1 734.3,200.2 733.5,197.3 727.8,195.6 725,198.8 725.4,202.9ZM577.6,372.7 578.9,377.6 582.2,378 584.3,373.6 580.6,371.7ZM580.9,188.5 573.2,185.4 570,190.8 570.8,194.9 572.4,196.1 572.8,195.4 575.2,192.8 578.3,193.5 581.4,191.2 582.2,190.9ZM731.1,357.8 734.4,356.7 734.1,352.4 729.9,350.4 727.5,353.2 727.5,353.8ZM540.8,463.2 538.5,458 535.2,457.2 532.8,458.4 532.1,465.5 533,466.6 534.4,466.9ZM669.1,303.7 667.4,307 671.2,310.7 671.8,310.6 673.6,308.8 673.1,303.9ZM102.1,238 91.5,238.4 90.9,240.4 92.5,246.3 92.7,246.6 102.6,247.1 103.2,246.8ZM666.1,386.2 668.8,382.1 667.7,378.8 661.6,380.9 662.9,385.5ZM468.9,446.6 467.8,449.8 468.3,451.2 473.6,454.3 476.6,452.5 476.9,447.2 473.7,444.7ZM594.4,370.3 595.8,368 593.9,364.3 592.9,363.9 590.2,365.4 589.8,369 591.8,370.9ZM727.5,353.8 727.5,353.2 723.8,351.7 720.3,354.4 720.9,358 723.5,359.3ZM669.1,350.6 664.9,354.6 665,355.9 668.8,357.7 672.4,355.8ZM531,370.8 526.5,372.3 525.6,374 527.9,379.3 530.9,379.6 534.6,376.5 534.6,374.1ZM256.8,359.4 265.6,370 277,360.6 272.8,348.1 259.2,351.5ZM161.4,109.6 163.8,103.2 154.2,100.5 155.1,105.1 153.8,109.8ZM488,435.6 489.3,440.7 493,442.5 497.7,438.4 497.1,435.5 494,433.1 489.1,434ZM555.2,475.7 550.7,478.2 550.5,478.7 552.1,482.1 557.6,482.7 560.2,480.2 556.8,479 555.1,479 556.3,476.3ZM633.4,319.4 635.9,314.7 635.8,313.9 630.6,313.2 630.5,313.2 629.8,319.1ZM590,330.5 593.5,334 596.9,332.6 596.2,329.1 593.4,328.1ZM670.2,297.1 667.8,301.5 669.1,303.7 673.1,303.9 673.3,303.7 674,298ZM602.4,395.4 603.2,395.2 604.9,390.7 603,388.4 599.5,388.2 597.3,390.5 597.6,392.4ZM490.1,320 496,321.8 498,316.7 496.3,314.4 492,314.9 489.7,318.9ZM662.2,417.1 667.1,414.9 666.5,412.8 662.1,410.8 660.4,413.1ZM723.5,285.9 724,286.3 724.3,284.3 725.6,282 726.7,283.7 726.9,284.6 728,283.8 728.2,280.2 723.1,279.2 721.8,280.4ZM127.9,164.6 130.2,165.1 128.2,169.6 123.9,168.7 123.9,166.3 122.5,166.9 122.7,168.7 122.3,169.6 127.1,177.7 131.8,176.5 135.5,168.4 130.9,163.2ZM750,240 746.6,234.7 746.5,234.7 741.8,237.3 741.2,240.5 744.5,244.1 745.7,244.2ZM691.4,483 691,485.7 693.9,489.1 700.3,488.5 699.2,484.9 695.4,480.4ZM465.2,493.5 469.2,497.9 475.1,493.6 472,489.4 466.9,488.5ZM439.2,467.3 432.3,470.7 433.9,475.3 438.9,476.2 441.7,473.1 440.7,468.1ZM671.4,342 669.6,338.8 664.8,338.2 663.4,342.1 668.5,344.2 671.4,342ZM230.6,153.7 223.9,157.6 229.6,154.2 231.8,154ZM236.5,157 235,154.9 235,154.9 235,157.3 236.3,157.9ZM511.7,379.2 504.4,376 504.1,376.3 503.2,383.1 504.5,384.4 510.9,384ZM707.5,360.2 706.9,358.8 702.8,356.3 699.3,357.8 700.4,362.6 704.4,363.1ZM149,125 149.1,124.7 148.7,121.8 150,118.5 150,115.9 147.8,115.9 144.6,114.5 138.9,121.5 139.7,125.3ZM155.7,131.4 161.8,135.5 168.4,128.8 167.6,124.9 161.4,122ZM443.4,295.6 437.5,294.3 435.6,301.7 438,303.4 444,301.5ZM638.7,413.2 639.1,413.1 640.9,409.7 639.2,406.7 636.5,406.4 635.4,407.4 635.3,411.1ZM700.5,302.1 700.7,299.8 698.3,296.7 694.3,298.3 694.8,302.1 699.5,303.2ZM570.2,371.9 571.4,368.1 567,366.3 565.3,367.5 565,371.8 566.5,373ZM516.1,393.1 518.8,391.2 519.1,390 517.4,386.1 511.7,385.1 510.3,391.5ZM578.9,423.6 579.3,423.6 582.3,421.2 582.8,415.2 582.5,414.9 576.7,415 574.1,418.7ZM457.3,487.5 456.8,492 461.8,494.6 465.2,493.5 466.9,488.5 466.8,488.3 460.3,485.6ZM488.8,425.9 492.5,425.4 494,420.2 492.3,418 488.5,417.8 486.3,421.4ZM741.4,194.7 744.3,192.4 744.6,190.1 741.9,186.5 736.1,187.9 735.2,189.5 736.3,193.3ZM578.8,358.6 576.5,360.3 576.5,363.5 578.7,365.3 580.3,365.4 582.2,360.4ZM680.4,419.5 679.1,420.2 677.8,424.2 680.2,426 684.8,425.2 685,423.2 685.8,422.4ZM475.4,370.4 477.8,373.4 482.7,373 484.3,369.4 481.4,364.9 476.8,366.5ZM605.4,358.7 605.6,360.8 608.5,363.1 612.3,360.6 612.2,357.7 611.9,357.4 607.5,356.7ZM174,159.2 170.6,158.7 167.9,162.3 176.8,162.6ZM705.3,312.5 706.7,309.8 705.1,307.2 702.1,307.8 701.1,312.2 701.8,313.2ZM623.4,323.1 622.8,320.9 619.9,319.4 616.7,321.3 617.5,325 620.2,325.8ZM712.3,229.7 710.4,234.3 713.1,237.6 717.9,237 718.7,232.2ZM219.1,308.8 220.9,296.7 228.6,298.8 217.8,295.8 214.7,300.2 219.1,300.1 217.4,308.8 216.5,314.7 226,313.7 227.5,311.4ZM219.7,296.3 219.1,299.6 215.1,299.6 217.8,295.8ZM772.3,179.7 780.1,173.8 779.5,170.6 778.8,170 770.4,170.9 769,174.9 770.5,179.4ZM642,361.1 644.4,364.6 648,363.6 648.5,360.5 646.3,357.7 643,358.8ZM212.8,121.1 213.8,115.4 202.7,113.1 201.5,118 202,119.4 211.2,122.8ZM714.5,269.8 710.3,268.7 707.1,271.7 707.1,272.3 712.4,277.3 715.4,275.7ZM537.3,346.6 544.2,341.8 544,340 538.8,338.4 536,340.3 536.5,345.8ZM350,378.9 343.9,379.9 338.6,390.4 340.9,393.2 339.2,391.2 342.3,390.5 346.9,392.2 346.8,393.8 349.8,394.1 352.8,388.8 351.7,381.2ZM546.4,366.8 543.8,363 542.8,362.8 537.8,365.9 539.6,371 542.3,372ZM650.9,327.1 653.3,329.5 657.6,327.9 657.4,324.6 656.1,323.7 651.6,325.3ZM632.5,425 634.3,422.5 632.4,418.8 626.8,419.8 626.6,420.5 629.9,425.2ZM479.1,326.3 476.1,327.2 475,331.4 478.8,334.3 482.6,332 482.7,329.1ZM676.7,447 671.8,448.4 671,451.2 674.3,455 676.2,454.9 678.6,451.3ZM404.9,492.4 408.5,492.8 408.5,500.8 403.8,500.8 403.8,501.8 412.5,502.4 415.1,499.7 412.2,493.3ZM745.7,267.3 746.4,264.8 742.1,261.3 742,261.3 739.4,265.5 740.1,267.5 744.6,268ZM638.9,361.7 637.7,365.1 639.6,367.7 643.7,366.3 644.4,364.6 642,361.1ZM714,252.1 714.1,245.7 711,243.8 705.8,249.7 711.7,253.6ZM257.4,172.3 252.6,177 254,184.1 263.1,185.7 258.1,184.8 255.1,178.8 260.1,173.8 260.5,173.4ZM202.6,214.2 195.6,227.3 196.1,228.1 203.4,230.8 211.3,223.3 210.5,216.9ZM178.4,230 179,234.1 177.2,233.7 164.7,230.4 162.3,238.6 164.3,231.7 179.1,235.2 179.5,238.3ZM612.2,357.7 612.3,360.6 615,362.8 618.6,361.7 619.2,360.5 618.4,356.5 618,356.2ZM519.3,400.7 519.3,405.4 524,407.8 526.7,406.4 526.4,400.9 523.4,398.6ZM641.6,385.1 643.9,386.4 643.9,386.4 647.3,380.8 646.1,378.9 641.2,379.2 640.5,380.4ZM751.4,254 745.6,255.4 745.9,258.1 748.2,259.5 751.3,258.9 751.2,258 751.5,254.2ZM352.1,306.2 360,301.6 356,293.1 350.6,294.3 348.6,303.4ZM685.7,349.6 689.4,346.6 689.3,345.3 684.9,341.6 682.6,345.2 685.2,349.4ZM517.2,369.9 523.3,366.4 523.8,365 522.3,362.1 516.4,361.5 514.8,365 517,369.9ZM672.4,355.8 668.8,357.7 668.7,363 670.2,363.6 674.6,362.2 675.4,359.8 672.7,355.9ZM195.6,227.3 202.6,214.2 200.6,211 193.4,208.9 197,210 195.6,216.1 193.9,226.3ZM162.3,272.8 158.4,275.2 154.2,287.9 155.9,289.2 155.4,287 165.4,287 166.7,290.9 160.6,292.7 174.2,288.7 173.8,287 172.1,287 170.5,281.5 171.9,280.7 170.2,274.8ZM248.3,225.9 250.3,234.1 252.3,234.3 251.8,231.2 258.5,231.2 260.8,232.4 264.6,223.4 263.9,222.2 252.4,220.5ZM610.5,432.7 611.1,437.8 616.4,437.7 618.8,432.9 616.9,429.7ZM564.4,429.8 564.6,430.4 570.1,431.7 573.1,428.2 569.9,424.2 566.3,424.7ZM359.8,449.3 358.2,452.1 369.1,456.7 370.1,457.6 369.7,461.2 370.1,457.2 362.7,449.2ZM602.6,403.6 599.4,402.1 595.2,405.3 595,407.2 600.5,410.4 603.8,407.1ZM606.2,343.3 607.1,339.3 603.5,337.4 601.7,341.6 603,344.1ZM231.9,130.8 236.7,135.1 243.6,132.3 243.7,122.2 243.7,122.4 235.9,120.4ZM528.5,456.8 527.6,451.2 525.1,449.6 519.5,454.8 522.7,459.7 524.2,460ZM563.2,416.7 563.8,413.1 559.8,409.7 556.6,412.7 557.2,417.3ZM781.7,224.4 780.5,222.8 778.5,220.3 779.2,217.9 778.2,217.6 775.3,218.4 772.5,224 774,226.1 780.3,225.7ZM125,306.6 118.4,302.5 114,304.5 111.1,309.7 118.1,318.3 121.8,317.2 126,310.5ZM120.7,317.5 120.2,314.7 124.4,312.1 125.2,311.7 121.8,317.2ZM721.1,219 714.8,218.3 712.4,220.2 712.1,221.4 713.1,224.7 720.2,225.6 722.2,223.5 722.6,221ZM415.7,531.7 421.3,538.6 425.6,536.5 427.2,529.5 423.6,526.5 418.1,527.5ZM131.2,158.3 136.3,154.2 132.7,146 125.9,144.9 125.2,146.1 122.7,152 122.3,153.3ZM606.6,429.8 604.7,430.7 602.5,435.3 606.1,439.8 610.2,439 611.1,437.8 610.5,432.7ZM620.4,367.5 617.5,369.1 617.4,371.9 621.8,375.2 622.1,375.1 624.7,370.8ZM477.8,402.5 484.9,400.1 485,399.7 482.4,394.4 477.7,394.6 476.3,400.8ZM643,443.9 642.7,442.4 639.4,441.3 636.7,442.5 635.7,447.5 636.6,448.7 640,449ZM480.5,439.4 483.2,444.8 483.3,444.8 489.3,440.7 488,435.6 482.2,435.9ZM280.3,295 275.5,294.1 275.2,297.1 271.9,308.8 271.9,309 271.2,309.2 278.9,306.4 281.1,296.4ZM571.2,392.2 570.7,394.8 572.3,397.3 578.3,395.8 578.9,392.5 575.8,389.7ZM216.5,253.9 224.6,258.4 228.2,256.7 228.9,246.8 234.8,248 230.8,240.9 221.3,241.7ZM714.9,212 718,210.7 718,204.5 716.5,203.2 709.7,207.2 711.8,208.6 711,210.5ZM577.3,403.3 580.5,400.9 580.9,399.3 578.3,395.8 572.3,397.3 571.7,401.1 572.1,401.5ZM472.1,316.6 467.2,316.2 465.9,317.4 466.3,324.9 467.3,325.7 472.5,324.1 473.8,319.8ZM599.5,388.2 598.3,383.9 596.6,383 593.3,383.8 593.9,389.1 597.3,390.5ZM657.8,418.7 656.3,414.9 652.1,415.8 653,419.6 656.7,420.1ZM744.6,279 748.9,280.4 750.2,277.8 750.6,276.4 746.7,274 745.3,274.2ZM139.6,182.7 131.8,176.5 127.1,177.7 124.4,181.3 125.5,189.1 137.2,190.6 139.3,188.6ZM511.2,403.3 513.4,407.8 515.3,408.1 519.3,405.4 519.3,400.7 515.6,398.8 512.8,399.9ZM489.2,341.6 490.4,346.1 494.2,347.1 497.5,343.8 497.5,341.3 492.6,339ZM696.1,262.3 697.2,264.6 702.3,265.8 705.3,262.5 704.3,258.6 703.2,257.7 701.6,257.6ZM550.9,485.6 545.2,485.7 544.5,486.5 545,489.5 545.1,489.4 550.9,491.7 552.3,487.9ZM648.8,336.8 651.5,339.1 655.3,337.4 654.7,334 653,332.7 649.8,333.7 648.6,336ZM531.4,410.9 535.8,411.5 538.2,406.7 534,403.6 529.6,407.4ZM701,349.5 703.6,352.4 707.6,351.9 708.3,348.2 705.6,346.4 700.9,348.9ZM332.9,288.4 320.9,290.6 321.1,290.6 322.1,296.2 322.9,297.9 321.4,297.7 330.3,298.6 334.5,291.6ZM666.1,331.1 669.4,327.9 668.6,325.5 664,324.5 662.9,329ZM604.9,383.7 603,388.4 604.9,390.7 608.9,390.1 609.9,387.4 607.7,383.5ZM251.1,414.9 256.4,421.5 269.1,421.5 275.1,411.6 271,418.3 271,418.2 272.7,410.7 274.4,410.8 264.1,399.2 257.9,399.5ZM171.5,140.5 162.6,139 160.1,143.6 166.8,152.1 173.9,144.9ZM559,451.8 559.6,451.2 558.7,446.5 554.8,444.6 552.2,446 551,450.2 552.7,452.1ZM295.3,218.2 297.3,210.9 285.7,201.4 284.5,201.9 278.8,212.5 282.1,206.4 285.3,214.5 289.9,221.3 288.7,222ZM504.9,456.1 500.9,461.3 501.1,463.3 506.2,465.8 510.8,463.4 506.6,455.9ZM482.8,309.8 479.3,306.9 474.4,310.1 475,312.6 479.4,313.9ZM622.1,375.1 621.8,375.2 619.5,378.5 619.9,380.7 622.4,382.8 626.6,380.7 627.1,378.5ZM621.3,329.3 619.2,331.1 619.7,334.4 623.6,335 625,332.6 623.8,329.8ZM568.6,382.1 564.9,382.7 563.1,385.8 564.5,388.7 568.5,388.7 571.2,384.4ZM713.8,261 709.6,264.4 710.3,268.7 714.5,269.8 717.3,267.9 717.7,264.4 715.2,261.2ZM703.8,283.7 706.7,281.2 706.7,281.2 704.3,276.8 699.9,276.7 698.7,281.7ZM490,364.5 488.9,368.5 491.8,371.7 495.5,371.2 496.4,370.2 495.8,363.9 495,363.3ZM437.8,430 437,424.2 433,422.9 431.1,424 429.7,427.9 430.9,430.4 434.9,431.9ZM104.9,261.6 102.7,260.2 100.9,261.4 101.7,267.9ZM93.4,258.3 93,259.7 93.4,266.4 94,258.3ZM94.6,272.3 100.2,270.9 95,272.2 93.4,266.4ZM563.6,398.5 560.6,399.6 561.2,406.3 565.5,405.8 567.2,401.9ZM598.8,360.2 595.2,358.1 592.4,360.5 592.9,363.9 593.9,364.3 599.1,361.9ZM491.8,459.6 495.5,457.8 496.5,454 492,449.4 490.4,450 488.4,456.5ZM498.6,478.2 504.1,476.7 505.7,472.7 505.6,472.4 498.2,470.7 495.3,474 495.3,474.5ZM597.7,427.2 594.9,430.2 594.9,431.7 599.5,435.9 602.5,435.3 604.7,430.7ZM702.8,341.6 703.3,337 700.6,335.2 699.8,335.2 698.1,336.7 698.4,341.2 700.8,342.3ZM692.7,333.8 694.1,336.3 698.1,336.7 699.8,335.2 697.6,330.8 695.5,330.5ZM602.6,403.6 603.8,407.1 607.4,408 611.2,403.4 611.1,402.9 606.6,399.7ZM678.4,331.9 678.2,333.9 681,336 684.7,334.3 684.5,330.3 683.1,329.2ZM774.6,239.9 775.5,238.3 778.5,237.1 779,233.8 773.1,230.7 770.2,232.4 770.1,235.9ZM741.2,240.5 735.9,242.8 735.5,245.6 737.9,248.6 741.2,248.5 744.5,244.1ZM494.2,347.1 495.2,350.8 497.6,352.2 501.6,350.3 501.8,346.8 497.5,343.8ZM463.3,478.7 468.4,479.8 470.6,473.4 467.1,470.1 463,471.7ZM458.5,431.1 459.2,432.8 465.1,434 467.7,431 466.5,425.2 462.4,424.1 460.9,424.8ZM656.9,401.8 657.2,401.7 658.3,397.7 657.3,396.1 654.5,395 651.2,398.3 652.1,400.6ZM599.6,458 597,457.8 594.7,459.6 595.1,466.5 595.3,466.5 602.8,465.5ZM684.9,415.1 681.5,415.7 680.4,419.5 685.8,422.4 686.9,421.4ZM666,313.9 664.8,315.6 666.6,319.5 669.7,320 671.3,317.3 669.2,313.4ZM459.1,470.1 463,471.7 467.1,470.1 468,466.4 465.4,462.1 459.8,464.4ZM741.7,199.6 741.4,194.7 736.3,193.3 733.5,197.3 734.3,200.2 738.6,201.8ZM730.4,342.6 733.2,346 734.8,346 736.8,341.7 735.9,340.3 732.7,339.7ZM570.1,431.7 570.8,435 574.5,436.9 578.4,435.3 578.7,433.1 574,428.1 573.1,428.2ZM678.3,304 678.8,304.6 682,305.2 684.3,303 683.5,299.5 681.2,298.5 678.9,299.6ZM583,429.5 585.8,429.8 588.6,427.4 588.6,423.3 582.3,421.2 579.3,423.6ZM608.7,344.9 611.1,343.1 610.1,338.4 607.1,339.3 606.2,343.3ZM486.1,334.4 484.7,340.2 484.8,340.3 489.2,341.6 492.6,339 492.3,335 489.2,333.3ZM583.2,178.6 580.9,188.5 582.2,190.9 587.7,188.5 590.4,187.7 590.2,183.8ZM534.7,360.2 536.9,365.5 537.8,365.9 542.8,362.8 539.4,356.6 538.9,356.6ZM161.8,135.5 155.7,131.4 152.3,131.5 150,134.4 150.2,140.9 155.7,144.9 160.1,143.6 162.6,139ZM674.6,297.7 676.4,292.8 672.6,290.6 669.5,291.4 669.2,295.6 670.2,297.1 674,298ZM190.9,118.4 201.5,118 202.7,113.1 196.4,111.8 191.5,110.5ZM704.1,330.2 704.6,326.4 701.4,324.3 699.4,325.7 699.6,328.9ZM519.6,434.3 515.9,434.8 515.5,440.6 519.3,443.3 523.5,438.5ZM550.5,478.7 545.1,480.9 545.2,485.7 550.9,485.6 552.1,482.1ZM650.6,374.6 646.9,376.1 646.1,378.9 647.3,380.8 650.1,381.6 653.5,379 653.3,376.1ZM593.7,376.8 591.5,379.8 593.1,383.7 593.3,383.8 596.6,383 597.5,377.9 596.5,376.5ZM706.2,304.4 711.3,305.7 713.2,303.2 709.4,299.6 707.2,300.3 706,303.8ZM644.5,334.7 642.4,336.8 642.4,338.1 645.4,340.5 648.8,336.8 648.6,336ZM542.5,328.5 540,324.5 536.5,325.1 536.4,332.1 538.2,332.8 541,331.9ZM642.4,451.5 640,449 636.6,448.7 634.8,453.3 636.9,456.6 639.2,457.1ZM676.4,511.3 674,513.4 677.5,517.5 679.4,519.8 684,512.8 682.7,511.3ZM603.9,348.3 608.3,348.5 608.9,347.7 608.7,344.9 606.2,343.3 603,344.1 602.8,344.7ZM634.7,355.2 636.4,356.6 640.1,355.2 641.1,352.7 640.2,351 636.3,349.5 635.7,349.7 634.2,352.2ZM539.8,380 538,384.2 540.2,387.7 542.9,388.3 545.9,386.6 546.5,382.7 541.8,379.3ZM706.5,331.3 704.1,330.2 700.6,335.2 703.3,337 705.5,336.4 707.1,332.8ZM104.7,310.8 104.3,312.1 108.5,310.5 114.3,316.3 116.9,320.2 118.1,318.3 111.1,309.7ZM103.4,315.5 103.8,317.9 104.3,312.4ZM104.3,320.5 106.5,325.1 107.1,324.9 104.1,319.4ZM736.2,351 739.6,352.5 741.1,348.6 739.8,346.9 736.5,347.5ZM680.9,436.6 678,438.8 677.9,440 683.5,443.3 683.5,440 683.8,436.9ZM484.7,340.2 478.7,337.5 475.6,340.2 475.8,343.4 481.8,345.7 484.8,340.3ZM602.3,450.8 603.3,455 606.9,456.2 609.1,455 611,448.7 610.9,448.4 606.2,447.1ZM540,324.5 541.4,322.4 540,317.1 535.2,317.4 533.9,323.7 536.5,325.1ZM586.8,363.8 590.2,365.4 592.9,363.9 592.4,360.5 589.5,359 586.3,361.2ZM563.7,451.3 566.8,456.2 572.1,453.2 569.4,447.5 566.7,447.6ZM642.8,422.6 643.5,419.6 643,418.9 638.5,418.3 637.1,422.2 639,423.8ZM589.5,359 592.4,360.5 595.2,358.1 595,355.6 591.2,354.3 589.2,356.1ZM479.1,413 480,415.5 486.5,414.6 487.5,411.4 484.3,407.9 481.4,408.3ZM152.4,357.7 138.6,355.7 138.6,355.7 131.7,363.9 131.9,364.1 135.3,367.1 138.6,356 152.6,358.4 152.8,357.8 139.5,354.6ZM139.5,370 141.1,374.1 144.5,375.8 145.1,376.6 149.1,366.8 146.2,373.9 144.5,375 140.3,370.8 139.5,365.8 135.3,367.1ZM336.2,368 333.8,371.5 343.9,379.9 350,378.9 351.8,374.5 351.7,372.8 350.6,370.8 344.8,369.1 344.3,366.6ZM338,455.1 326.8,460.9 336,463.8 332.7,469.8 340,456.5ZM322.6,456.6 326.3,460.9 328.8,466.8 326.8,460.9 327.5,453.6 331.8,450.9ZM704.4,222.7 703.6,226.4 704.8,227.9 711.8,228 713.1,224.7 712.1,221.4ZM562.7,471.8 564.3,468.5 565.2,468.4 564.4,465.8 561.3,464 557.4,465.9 557.2,469.6ZM651.8,462.2 654.5,467.5 656.5,467.7 659.7,465.5 660.2,461.7 655,459.1 653,459.9ZM135.5,168.4 131.8,176.5 139.6,182.7 147.4,176.3 142,167.8ZM144,179 143.7,178.8 145.3,173.8 145.6,173.4 147.4,176.3ZM402.5,480.8 406.2,483.5 410.3,482.7 413,474.8 405.4,472.6ZM682.7,505 678.8,503.7 676.1,505.2 676.4,511.3 682.7,511.3ZM718.6,244.5 721.5,246.9 726.8,245.1 727.4,241.1 725.1,238.6 719.7,239ZM720.2,225.6 720.2,231 726.7,232.5 727.6,231.9 728.5,228.2 722.2,223.5ZM491,356.7 490.3,353.9 488.2,352.5 483,355 482.8,355.8 487,360.7ZM487,361 490,364.5 495,363.3 494.4,358.3 491,356.7 487,360.7ZM673.9,484.9 675.3,479.2 670.9,475.9 667.7,476.6 664.5,483.3 665.3,484.4ZM777.4,190.5 784.5,190.1 785.3,184.4 782.2,182.1 776.7,184.8 776.1,188ZM680.6,248.1 678.3,245.3 675.9,245.2 672.9,249.3 675,253 675.6,253ZM680.2,426 679.8,431 684.3,431.2 684.8,425.2ZM803.1,166.1 805.3,168.5 803.1,162 803.1,161.8 811.7,156.7 802.4,162.2ZM807.4,170.6 808.2,170.4 810.7,168.7 806.9,170.1ZM506.2,465.8 505.6,472.4 505.7,472.7 510.5,473.6 513.8,470.6 511.8,463.6 510.8,463.4ZM481,321.3 487.6,324.7 490.1,320 489.7,318.9 485.3,316.8 481.5,318.1 480.6,320ZM552.8,338.9 544.9,338.8 544,340 544.2,341.8 545.6,343.8 550.6,344.4 553.1,342.2 553.4,339.9ZM710.1,309.9 710.8,313.5 713.8,314.5 716.3,310.5 716,309.9 711.5,308.3ZM698.3,274.6 698.4,272.6 695.3,268.9 690.9,269.7 689.8,272.9 692,276.6ZM735.2,264 735.5,259.9 733.4,258 729.1,259.3 729.9,264.6 733,265.4ZM585.7,447 583.6,447.1 579.8,451.3 582.2,455 588.8,452.7ZM349.5,329.4 352.3,326.4 352.3,323 354.3,320.9 349.3,315.8 346.4,316.5 344.2,324.5ZM304.7,206.5 313.8,211.6 305.2,206.8 305.4,203.6 304.9,203.5 305.1,199.7ZM305.1,199.7 311.7,195 312.9,195.2 313.2,194 316.2,191.9ZM301.1,310.3 292.6,306.8 286.2,312.3 286.1,315.5 287.6,317.1 300.1,316.4 297.5,321.6 301.7,313.3ZM537.9,398.3 533.7,400.2 534,403.6 538.2,406.7 540.1,406.2 541.7,401.6ZM415.7,531.7 418.1,527.5 413.5,521.5 407,522.4 407.6,527.6 409.9,533.6ZM695.5,316.3 696.9,317.1 701.5,314.9 701.8,313.2 701.1,312.2 697.4,311.2 695.6,312.7ZM736.8,276.3 738.6,277 741.3,273.6 738.9,269.7 735.6,270.8ZM253.3,197.5 260.2,196.9 264.9,188.4 261.2,195.1 260.1,191 260.1,191 258.5,185.5 258.1,184.8 254,184.1 251.1,187.5ZM449.6,469.9 444.9,466.2 440.7,468.1 441.7,473.1 447.5,474.6 448.8,473.7ZM490.2,470.6 495.3,474 498.2,470.7 498,466.4 491,464.2 490.5,464.7ZM526.4,429.7 521.9,430.1 519.6,434.3 523.5,438.5 525.4,438.5 527.8,435.7 526.9,430.1ZM113.8,198.3 107.9,198.8 110.1,201.1 107.1,205.6 112.3,210.9 117.7,207.7 118.1,206.6ZM499,406.5 498.1,405.2 492.8,404.1 491.9,404.7 491.1,410.1 495,412.7 496.3,412.4ZM709.3,384.2 709.6,386.7 711.5,388.5 711.8,388 717.6,386.1 715.4,381.5 712.5,380.8ZM699.5,305.9 702.1,307.8 705.1,307.2 706.2,304.4 706,303.8 700.5,302.1 699.5,303.2ZM690.9,310.7 691,310.6 693.8,306.8 692.9,304.2 689.2,303.5 688.1,304.2 687.7,307.4ZM676.7,264.5 675.9,265.6 676.6,271.3 678.3,272.6 682.1,272 683.6,266.4 683.5,266.3ZM565.5,405.8 561.2,406.3 559.9,407.6 559.8,409.7 563.8,413.1 569,410.6 569.2,410.3ZM789.4,165.7 779.5,170.6 780.1,173.8 782,175.8 790.1,175.9 793.2,173.6 793.3,171.8ZM792.6,170.7 790.6,171.3 788.1,167.1 789.4,165.9ZM220.3,276.9 222.4,277.3 222.1,279.1 219.7,277.7 235.9,286.9 242.1,279.3 238.6,270.6 225.8,270ZM227.4,282.1 227.5,281.5 235,282.3 235,284.6 237.5,284.9 235.9,286.9ZM160.7,120.6 164.1,113.3 161.4,109.6 153.8,109.8 153.7,110.1 154.5,115.1 153.5,118.3ZM683.5,266.3 683.6,266.4 689,266.8 690.8,262.5 687.5,259.2 684.2,260.5ZM648.9,327.7 647.6,330.4 649.8,333.7 653,332.7 653.3,329.5 650.9,327.1ZM704.4,363.1 700.4,362.6 699.3,363.9 700.4,369 702.9,370 705.8,368.5ZM341.1,348.2 335.6,347.3 331,347.1 330.2,354.7 335.8,357.8 341.5,354.3 341,346.7ZM336.3,343.8 335.7,343.5 331.3,344.3 331,346.8 331.2,345.2 335.6,347.3ZM724.2,360.7 720.9,365.9 724.5,368.1 727.5,367.3 728,365.3 725.2,361ZM678.9,299.6 681.2,298.5 681,294 677.9,292.3 676.4,292.8 674.6,297.7ZM760.5,218.9 755.5,220.9 756,225.9 759.2,227 763.3,223.6ZM122.2,283.3 125.4,279.4 123.4,271.6 120.4,270.3 112.9,272.8 111.9,274.5 117.5,283.3ZM108.6,248.1 114.1,240.8 112.1,235.5 103.7,235.6 102.1,238 103.2,246.8ZM120.4,270.3 123.4,271.6 129.6,267.8 128.1,260.6 128.4,262.1 125.2,266.4 119.9,265.7 119.3,260.5ZM544.4,426.3 547.3,427 550.5,422.5 549.7,419.8 546.6,419.5 543,423.2ZM278.9,306.4 271.9,309 272.7,314.7 284.9,315.5 284.8,316.2 286.1,315.5 286.2,312.3ZM244,224.8 248.3,225.9 252.4,220.5 250.3,212.7 251.7,217.9 252.2,219.8 246.9,221.4 245.1,222.8 244.8,222.7ZM637.1,398 637.8,400.8 641.4,401.8 643.5,399.5 642.5,396.8 638.9,396ZM679.6,495.5 677.7,496.8 678.8,503.7 682.7,505 685.7,503.1 685,496.8ZM715,297.3 715.7,300.2 719.6,300.8 720.9,299 720.1,296 717.7,294.8ZM629.1,348.5 625.7,345.9 624.4,346.2 622.9,350.9 624.4,352.7 628.3,352.1 628.9,351.4ZM690.3,402.2 687.7,402.6 685,408.4 686.1,409.5 691.4,409.4 692.4,408.4 692.6,404ZM671.4,500.7 671.6,500.8 671.4,504.1 676.1,505.2 678.8,503.7 677.7,496.8 674.3,496.5ZM735.6,216.4 736.8,221 740.5,222.2 744.2,219.5 743.9,215.2 738.2,213.2ZM634,331.2 636.4,329.1 633.4,325.1 631.1,325.4 629.5,328.1 630.2,330.4ZM554.6,459.2 559,457.8 559,451.8 552.7,452.1 552.2,457.3ZM448.8,473.7 447.5,474.6 446.6,480.2 450.9,483.9 451.5,483.8 455.5,477.6 455.2,476.5ZM139.7,125.3 138.9,121.5 133.4,117.4 127.7,118.4 127.7,118.5 128.2,125.2 128.2,129.1 138.9,126.7ZM458.5,431.1 451.9,428.9 449.2,431.3 450.1,436.1 455.9,438.6 459.2,432.8ZM658.4,310.1 659.1,303.7 658.9,303.5 653,304.3 652.9,304.5 653.6,308.5ZM513.6,429.4 510.4,428.8 506.2,433.2 506.7,434.9 508.3,436.2 515.5,434.6ZM509.1,327.5 508.3,321.5 508.2,321.4 504,321.1 500.9,324.6 503.2,328.6 508.3,328.4ZM170.7,113 172.1,105.5 163.8,103.2 161.4,109.6 164.1,113.3ZM691,310.6 690.9,310.7 690.1,311.9 690.5,315.8 693.5,317.1 695.5,316.3 695.6,312.7ZM707.6,324.5 709.2,325 712,322.9 711.3,319.5 707.6,317.9 706.2,321.7ZM475.8,343.4 475.6,340.2 471.5,337.9 466.6,339.9 466.4,340.1 467.2,343.5 473.2,346.3ZM723.5,285.9 717.3,286.2 717,291 717,291 723.5,290.7 724,286.3ZM534.6,376.5 530.9,379.6 533.3,384.8 538,384.2 539.8,380ZM735.9,287.7 739.9,289.1 741.2,284.9 737.9,282.4 735,283.5 734.8,283.8ZM700.3,407.7 703.4,403.9 704.4,402.4 700.9,399.5 698.1,399.7 696.4,403.1ZM559.3,367.3 556.1,367.2 553.5,371 556.1,373.8 559.8,373.5 560.6,372.5ZM600.5,410.4 595,407.2 591.3,410.5 591.3,411.6 596.2,415.9 600.6,414.7 600.6,414.7ZM510.8,343.6 513.1,340.5 510.6,335.4 509.5,335 506.6,336.3 504.9,340.1 506.6,343.9 507.3,344.2ZM245.4,174.9 252.6,177 257.4,172.3 256.3,165.5 256.2,165.4 256.8,170.4 251.8,175.4 246.7,172.1 247.6,165.4 251.3,164.6 247.5,164 243.8,169.1ZM211.2,122.8 202,119.4 199.5,127.1 199.9,127.9 205.9,130 210.8,126.7ZM696.1,514 699.6,514 702.7,509.8 702.2,506.9 699.6,505.1 693.1,509.4ZM689.3,345.3 689.4,346.6 693.1,348.8 695.8,346.5 695.3,342.6 692.6,341.3ZM756.8,199.2 752,194.6 748.8,195.8 747.6,200.7 752.3,203 756.7,199.6ZM430.2,469.4 425.5,471.2 424.1,477.8 428,480.9 430.6,480.2 433.9,475.3 432.3,470.7ZM416.8,486.9 421.3,489 426.6,486.2 428,480.9 424.1,477.8 420.3,478.4 416.7,486.7ZM349.5,329.4 349.8,332 349.7,331.5 352.3,328.9 352.3,326.4 355.9,322.5ZM746.3,285.6 747,284.3 748.9,280.4 744.6,279 743.8,279.5 743.4,284.1ZM419,423.5 416.8,428.5 419.2,432.3 422.5,432.1 424.8,428.1 422.2,423.6ZM755.3,182.6 755.2,176.4 752,177.1 748.4,178 749,182.7 750.4,184.1ZM565.3,197 570.8,194.9 570,190.8 561.3,187.1 560.6,187.5 560.1,188.2 560.3,194.4ZM509.3,370.9 513,372.3 517,369.9 514.8,365 508.4,365.2 507.7,366.2ZM616.1,330.2 615.2,327.1 612.7,326.5 610.5,329.6 611.3,331.8 613.8,332.6ZM691.7,278.1 696.5,282.9 698.7,281.7 699.9,276.7 698.3,274.6 692,276.6ZM573.4,443.7 575.2,444.4 579.9,443 581.7,438.5 578.4,435.3 574.5,436.9ZM657,381.3 653.5,379 650.1,381.6 651.4,385.7 652.3,386.1 656.1,384.9ZM536.9,481 540.3,486.1 544.5,486.5 545.2,485.7 545.1,480.9 542.3,478.9 537.5,479.8ZM678.7,345.5 682.6,345.2 684.9,341.6 684.9,341.6 681,339.1 677.8,341.1ZM276.5,321.1 284.8,316.2 282.8,331 285.1,331.7 287.6,327.1 285.3,327.2 286.1,317.2 287.6,317.1 290.9,320.9 286.1,315.5ZM517.5,354.7 519,354.2 520.2,349.4 517.7,346.9 514.2,347.7 512.6,351.4ZM746.4,264.8 747.4,264.2 748.2,259.5 745.9,258.1 742.1,261.3ZM701.9,288.7 697.4,288.3 696,291.1 698.9,295 702.5,293.4ZM501.8,398 500.1,398.7 498.1,405.2 499,406.5 503.8,407.4 506.1,403.4 504,398.7ZM702.2,506.9 702.7,509.8 707.4,512 711,510.5 708.5,504.1 708.2,503.7ZM484.8,340.3 481.8,345.7 482.2,346.9 487.7,348.6 490.4,346.1 489.2,341.6ZM744.1,252.1 744,253.8 745.6,255.4 751.4,254 751.6,252.9 747.8,249.7ZM341.4,304.3 341.2,304.5 341.4,313.7 346.4,316.5 349.3,315.8 352.9,310.5 352.1,306.2 348.6,303.4ZM643.5,399.5 641.4,401.8 641.7,404.1 645.1,405.8 647.5,404.1 645.9,400ZM614.3,412.2 614.6,420.2 618.1,420.2 621,417 620.5,412.6 620.3,412.5ZM557.6,482.7 557.2,486.8 561.1,489.2 563.7,485.6 560.1,484 561.5,480.7 560.2,480.2ZM669.9,426.7 668.8,428.1 671.7,431.6 675.5,430.7 674.8,426.5ZM556.9,345.7 555.5,350.1 560.4,351.8 561.6,350.9 561.5,345.4 560.8,344.8ZM304.7,434.1 298.1,422.7 289.3,424.5 285.8,430 287.6,436.8 303.4,438.2ZM525.1,449.6 527.6,451.2 534.4,449.2 533.4,443.2 528.1,443 524.7,448.3ZM669.7,320 670.7,322.3 673.8,323 675.5,322 675.5,316.8 671.3,317.3ZM511.1,410.1 504.8,409.2 503.6,414.3 507.6,416.7 511.1,415ZM631.6,337.1 634.5,335.1 634,331.2 630.2,330.4 628.7,332.7 629.8,335.9ZM107.7,275.8 107.5,276.2 110.1,281.5 116,282.3 115.5,285.4 113.8,287 109.1,287 112,288.9 117.5,283.3 111.9,274.5ZM491.8,371.7 489.8,376 492.7,380.1 495.4,380.1 497.8,376.5 495.5,371.2ZM698.3,296.7 698.9,295 696,291.1 692.5,292.1 692.6,297.3 694.3,298.3ZM188.6,128.6 191.8,125 190.7,118.6 183,118.7 179.9,123.5 180.9,127.3ZM693.9,489.1 691.6,494.9 694,497.5 701.9,492.7 700.9,490.7 700.3,488.5ZM238.6,415 232.5,408.8 210.3,420.5 210.7,420.7 233.1,434.6ZM504,321.1 502,316.9 498,316.7 496,321.8 497.1,324.1 500.9,324.6ZM723.9,334.2 720.4,330.6 718.1,332.1 717.7,333.7 721,336.7 723.9,334.7ZM361.8,352.5 364.1,349.2 362.4,351.6 358.6,351ZM526.8,351.2 529,351.2 530.9,345.8 528.7,343.2 524.9,343.8 524,348.7ZM494.9,327.3 497.1,324.1 496,321.8 490.1,320 487.6,324.7 487.8,325.8 489.4,327.4ZM650,409.8 651.3,411.3 655.7,410.3 656.4,408.2 655.3,406.3 650.8,405.8ZM735.6,216.4 738.2,213.2 737.5,209.4 732.4,208 728.5,212.4 729.9,215.6ZM473.7,444.7 476.9,447.2 483.2,444.8 480.5,439.4 474.3,439.6ZM500.1,420.9 498.4,426.9 502.2,429.5 506.9,423.2ZM529.1,364.4 523.8,365 523.3,366.4 526.5,372.3 531,370.8 531.7,367.7ZM713,329.6 712.2,333.1 715.4,335.3 717.7,333.7 718.1,332.1 714.3,329.1ZM525.1,449.6 524.7,448.3 519.5,445.1 515.5,448.8 516.3,454.1 519.5,454.8ZM232.4,370 225.1,364.1 208.3,366.2 207.3,378.8 221.7,389.7ZM724.8,211.2 724.5,203.8 718,204.5 718,210.7 721.9,212.5ZM644,430 641.8,434.3 644.4,436.4 648,435.5 648.8,434.2 647.3,430.7ZM465.4,462.1 468,466.4 474.6,465.1 475.7,461.8 473.2,458.3 465.8,460.5ZM613.8,347.9 614.7,346.8 613.8,343.8 611.1,343.1 608.7,344.9 608.9,347.7ZM640.1,355.2 636.4,356.6 636.3,359.3 638.9,361.7 642,361.1 643,358.8ZM650.2,370 649.6,369.6 645.8,370 644.2,372.7 646.9,376.1 650.6,374.6ZM739.3,330.4 739.1,330 737.2,327.1 734.4,327.3 732.4,330.2 735.3,333.2ZM670.5,435 666.4,435 666.1,435.2 666.3,440.2 671.1,441.3 672.1,436.7ZM766,201.8 760.7,205.1 760.4,207.2 764.5,210.2 769.4,207.8 769.1,203.2ZM150.3,260.8 145.6,267.5 147.3,271.9 158.4,275.2 162.3,272.8 159.6,261.1 160.9,266.6 154.5,264.7 154.9,260.9ZM406.2,483.5 404.9,492.4 412.2,493.3 416.8,486.9 416.7,486.7 410.3,482.7ZM653,419.6 650.7,422 654.3,425.2 657.5,424.1 656.7,420.1ZM222.4,211.1 227.5,212.8 228,215.9 230.4,214 228.2,205.5 228.8,208.1 227.5,207.8 225.4,204.7 223.4,204.1 216.1,208.7 215.4,213.1 222,216.8ZM517.5,354.7 515.4,359.3 516.4,361.5 522.3,362.1 524,358.1 523.2,356.3 519,354.2ZM636.8,335.9 639.1,334.7 639.7,331.8 637,329.1 636.4,329.1 634,331.2 634.5,335.1ZM431.9,540.7 425.6,536.5 421.3,538.6 419.3,543.1 426.1,546 430.8,547.6ZM651.8,347.5 647.8,346 645.9,347.7 646.5,350.7 649.7,351.4 652.1,348.6ZM136.5,245.4 133.9,245.2 128.9,250.9 131,257.3 137.2,258.1 141.3,253.9ZM358.4,289.9 352.8,281.7 346.5,282.6 345.9,291.2 350.6,294.3 356,293.1ZM671.2,310.7 669.2,313.4 671.3,317.3 675.5,316.8 676.5,315.9 676.6,315.5 671.8,310.6ZM199.7,196.3 199,201.1 197,210 200.6,211 207.3,200.8 202.2,196.1ZM725.1,238.6 727.4,241.1 732.9,239.6 733.7,235 727.6,231.9 726.7,232.5ZM725.3,313.9 726.6,316 731.1,315.4 731.3,313 730.3,310 725.6,312.2ZM305.9,335.8 303.2,333.9 299.5,333.9 299.5,331.5 303,333.8 298.6,330.9 289.6,337 299.5,344.1 306.4,338.2ZM652.9,428.6 649.6,428.2 647.3,430.7 648.8,434.2 652.1,433.8 653.7,430.1ZM683,408.1 685,408.4 687.7,402.6 683.6,399.4 679.6,403.5ZM674.8,347.4 671.4,342 668.5,344.2 667.9,348.2 669.1,349.8 674.2,348.4ZM659.5,474.1 656.5,467.7 654.5,467.5 650.6,471 650.6,471 655.7,476.8 656.8,477.8ZM648.8,455.2 651.8,451.9 649.1,447.1 647.6,447.4 644.4,451.6 647.6,455.3ZM714.6,284.1 711,285.9 710.2,288.1 713,291.3 717,291 717.3,286.2 715.9,284.4ZM724.2,360.7 725.2,361 730.5,359.2 731.1,357.8 727.5,353.8 723.5,359.3ZM701.4,324.3 704.6,326.4 707.6,324.5 706.2,321.7 701.8,321.7ZM639.6,367.7 637.7,365.1 634.4,365.3 632.5,368.2 635.5,371.1 639.1,369.6ZM429.8,443.4 423.7,443.9 423.2,449.4 428.8,451.8 431.7,445.6ZM639.4,441.3 638.5,435.9 634.4,436 632.2,438.7 632.4,440 636.7,442.5ZM500.4,452.4 504.9,456.1 506.6,455.9 508,454.4 508.1,449.2 502.3,446.3 501.2,447.2ZM693.7,359 692.4,358.1 686.8,359.9 686.5,360.5 688.9,364.8 693.9,363.5ZM205.9,130 206.6,136.5 213.6,139.7 216.4,131.8 210.8,126.7ZM490.4,346.1 487.7,348.6 488.2,352.5 490.3,353.9 495.2,350.8 494.2,347.1ZM740.9,179.8 733.8,181.3 736.1,187.9 741.9,186.5 742.6,184.1ZM533.3,436.3 533.9,442.5 540.1,441.7 541.5,436 534.7,434.9ZM688.9,473.4 680.7,473.8 679.4,477.8 683.1,481.1 687.3,479.8ZM686.8,359.9 692.4,358.1 691.6,353.5 687.6,353.2 685.6,356.2ZM268.9,162.5 263.2,161.7 258.5,155.3 257.8,152.8 258.9,151 257.6,153.2 259.8,161.2ZM545.2,334.9 547.7,333 547.6,328 547.4,327.8 542.5,328.5 541,331.9ZM664.1,447.1 664,448.5 667.3,452.5 671,451.2 671.8,448.4 670,445.9 665.2,446.1ZM729.9,349.9 733.2,346 730.4,342.6 728.4,342.7 726.6,346.1ZM611,448.7 609.1,455 614.2,457.3 618.2,453.2 618,452.5ZM481.6,364.5 481.4,364.9 484.3,369.4 488.9,368.5 490,364.5 487,361ZM338.7,403.8 332.8,406.3 331.4,415 340.6,418.9 343.7,416.3 345.3,407.6ZM576.3,380 579.2,384.6 580.5,384.7 583.9,380.5 582.2,378 578.9,377.6ZM682,305.2 678.8,304.6 677.4,309 678.7,310.6 683.4,309.2ZM511.2,446.9 515.5,448.8 519.5,445.1 519.3,443.3 515.5,440.6 510.8,442.4ZM453.4,448.2 451.9,445.5 446.4,444.1 444.9,445.5 444.5,451.2 446.4,453.2 450.9,453.7ZM602.8,322.5 598.2,322.6 597.5,323.4 598.4,327.1 601.8,327.9 602.9,327.1ZM106.5,297 101.7,297.8 102.6,300.4 105.1,305.4 104.8,310.5 104.7,310.8 111.1,309.7 114,304.5ZM696.9,317.1 695.5,316.3 693.5,317.1 692.3,321.6 695.4,323.3 698,319.9ZM737.5,209.4 739.5,207.2 738.6,201.8 734.3,200.2 731.1,204.1 732.4,208ZM662.5,456 661.7,460.7 667.5,462.2 669.8,459.8 666.3,454.9ZM644.4,451.6 642.4,451.5 639.2,457.1 641,459.3 644.4,459.5 647.6,455.3ZM208.3,366.2 207.1,364.8 187,363.3 186.3,378.2 186.4,378.3 200.6,378.8 199,383 196.4,383 195.5,385 194.4,385.5 207.3,378.8ZM615.5,391.5 611.3,393.4 611.1,394.5 614,398.4 617.5,398.3 618.1,392.9ZM756.7,199.6 752.3,203 752.5,206.9 756.9,209.4 760.4,207.2 760.7,205.1ZM120.4,270.3 119.9,265.7 118.5,265.6 119.1,260.5 119.3,260.5 109.6,262.5 112.9,272.8ZM655.2,314.8 658.8,311 658.8,310.7 658.4,310.1 653.6,308.5 651.9,310.4 652.7,314.4ZM500.4,362.9 495.8,363.9 496.4,370.2 501.7,369.7 503.5,366.8ZM727.5,367.3 729.6,369.8 730.2,369.1 734.1,367.9 733,363.9 732,363.4 728,365.3ZM190.4,135.3 188.6,128.6 180.9,127.3 177.9,132.2 183.7,138.9 187.8,138.8ZM611.1,394.5 611.3,393.4 608.9,390.1 604.9,390.7 603.2,395.2 606.3,397.7ZM571.7,401.1 567.2,401.9 565.5,405.8 569.2,410.3 571.1,409.6 572.1,401.5ZM626.6,380.7 622.4,382.8 622.3,386.1 625.6,387.7 629.5,385.5 629.6,384.7ZM683,234.6 684.9,238.1 690.3,237.3 691.6,234.6 689.8,231.4 684.1,232.3ZM368.2,298.1 363.1,302.6 364.9,308.3 373.5,309.4 365.4,308.4 365.4,307.2 366,307.2 366.4,304.1 371.6,304.1 371.6,299.8ZM782,175.8 782.2,182.1 785.3,184.4 789.1,183.4 790.1,175.9ZM743.4,284.1 741.2,284.9 739.9,289.1 740,289.3 744.3,290.7 745,288.5 746.3,285.6ZM682.6,327 679.4,325.5 676,328.6 678.4,331.9 683.1,329.2ZM594.7,459.6 589.7,459 588,460.6 589,462.6 590,466.5 595.1,466.5ZM542.4,414.7 536.9,413.5 534.5,418.8 539.2,421.6ZM667.5,388.8 672.8,387.9 673,383.8 668.8,382.1 666.1,386.2ZM613.9,462.1 607.5,461.2 604.7,465.2 605.4,465.1 613,466.6ZM684.2,273.9 682.1,272 678.3,272.6 677,277.3 679.2,280.2 681.8,280.6 684,279ZM715,297.3 711.2,295.9 709.4,299.6 713.2,303.2 713.4,303.1 715.7,300.2ZM750.1,187.7 744.6,190.1 744.3,192.4 748.8,195.8 752,194.6 753.2,190.8ZM624.4,346.2 621.8,344.5 620.1,344.8 618.3,347 619.5,350.6 622.9,350.9ZM620.5,468.2 619,462.1 614.7,461.3 613.9,462.1 613,466.6 613.8,466.8 619.6,469.7ZM660.3,454.1 662.5,456 666.3,454.9 667.3,452.5 664,448.5 660.5,450.9ZM183.7,138.9 178.3,146 181.8,151.5 183.6,152 191.8,146.5 187.8,138.8ZM494.4,358.3 495,363.3 495.8,363.9 500.4,362.9 502.2,358.7 497.8,356ZM495.3,474 490.2,470.6 485.3,473.2 484.9,476.6 490.8,478.9 495.3,474.5ZM717.1,320.8 714.9,316.9 714.8,316.8 711.3,319.5 712,322.9 714.6,323.6ZM722.8,308.9 719.4,311.9 720.4,315 725.3,313.9 725.6,312.2 723.2,309ZM544.5,486.5 540.3,486.1 536.5,491 540.9,492.7 545,489.5ZM546.3,462.6 542.6,463.9 543.2,471.3 544.3,472.2 546.8,472.2 549.9,469.6 550.1,465.5ZM515.6,398.8 519.3,400.7 523.4,398.6 523.6,396.4 518.8,391.2 516.1,393.1ZM659.3,427 658.3,424.5 657.5,424.1 654.3,425.2 652.9,428.6 653.7,430.1 657.2,430.7ZM543.2,445.3 543,445.3 539.5,449.4 542.3,454.6 544.7,454.7 547.6,450.7ZM518.6,337 516.4,340.5 518.7,343.6 523.4,342.6 523,337.2ZM717,291 717,291 713,291.3 711.1,295.5 711.2,295.9 715,297.3 717.7,294.8ZM427.2,529.5 425.6,536.5 431.9,540.7 436.7,537.7 431.1,537.7 431.1,529.4 430.5,529ZM534.8,352.4 531.1,353 530.3,358.6 531.1,359.6 534.7,360.2 538.9,356.6ZM480.1,432.3 482.2,435.9 488,435.6 489.1,434 487,428.5 482.3,428.5ZM295.3,218.2 289.9,221.3 290.3,222 299.4,221.2ZM708.3,338.9 707.4,341.8 711.3,343.9 713.1,342.3 712.5,338.9 710.4,338ZM703.8,536.8 704.8,532.7 703.6,531 698,530.6 694.3,536.1 696.4,539.3ZM588.2,343.7 588.5,343.2 587.3,339.7 582.9,339 583,344.4 583,344.5ZM734.2,293.3 734.1,293.5 734.3,296.8 737.8,299.1 737.9,299.1 740,295.4 738.4,293ZM506.7,434.9 506.2,433.2 502.5,430.8 497.1,435.5 497.7,438.4 500.8,439.9ZM719.2,194.6 722.5,190.5 720.5,185.9 717.7,188 715.2,191 714.6,192.2ZM618.4,356.5 619.2,360.5 624.4,360.2 625.4,358.6 623.5,355.3ZM723.8,259.7 727.4,258.3 727.3,253.2 721.2,251.9 719.6,253.5 719.9,256.6ZM424,458.9 419.4,455 414.5,459.1 415.8,462.8 421.3,464.1 424.1,461.2ZM466.5,438.5 465.1,441.2 468.9,446.6 473.7,444.7 474.3,439.6 473.5,438.5ZM484.9,476.6 483.7,477.7 483.7,484.2 488.9,484.9 491.8,484 490.8,478.9ZM136.3,230.8 135.7,226.9 125,223.5 122.2,231 126.4,237.6 128.7,238ZM709.3,353.7 713.1,353.9 713.1,348.2 711.1,347 708.3,348.2 707.6,351.9ZM406.2,512.2 403.2,502.5 395.4,504.7 398.4,510 403.3,515.7ZM332.6,304.6 330.3,298.6 321.4,297.7 322.4,307.8 330.8,307ZM695.8,324.4 695.4,323.3 692.3,321.6 691,322 689,325.5 689.8,327.5 694,327.6ZM651.4,385.7 647.4,387.8 648.5,392.2 653.2,391.7 653.4,391.3 652.3,386.1ZM762.5,180.6 769.9,179.9 770.5,179.4 769,174.9 761.6,173.8 761.3,175.1 760.4,175.3ZM551,435.6 550.8,437.5 555.2,440.1 558,438.7 558.7,434.7 556.2,432.2ZM645.8,410.5 644.8,409.4 640.9,409.7 639.1,413.1 643.6,415.1 645.4,413.8ZM707.2,300.3 704.7,298 700.7,299.8 700.5,302.1 706,303.8ZM547.5,458.5 546.3,462.6 550.1,465.5 554.2,463.7 554.6,459.2 552.2,457.3ZM676.9,431.7 675.4,436.3 678,438.8 680.9,436.6 679.2,431.5ZM757.1,189.7 753.2,190.8 752,194.6 756.8,199.2 759.9,196.5 759.5,191.5ZM631.6,412.9 631.4,413.3 633.2,416.9 637.5,416.4 638.7,413.2 635.3,411.1ZM639,427.7 637,429.2 639.7,434.7 641.8,434.3 644,430 643.2,428.7ZM510.6,335.4 516.2,332.6 516.9,330.5 514.2,327.5 509.1,327.5 508.3,328.4 509.5,335ZM659.5,474.1 663.9,472.9 664.9,468.5 659.7,465.5 656.5,467.7ZM643,327 645.9,325.4 646.3,321.5 646.2,321.4 642.1,321.7 640.2,325.5ZM338.6,390.4 331,389.2 327,391.7 325.5,400.6 332.8,406.3 338.7,403.8 339.2,401.3 334.7,400.6 334.7,392.2 339.2,391.2ZM626.6,380.7 629.6,384.7 634.5,381.4 634.6,381.3 634.1,380 628.6,377.5 627.1,378.5ZM715.2,261.2 717.7,264.4 722.9,263.2 723.8,259.7 719.9,256.6ZM660.6,391.2 659.5,389.1 653.4,391.3 653.2,391.7 654.5,395 657.3,396.1ZM403.2,502.5 406.2,512.2 413.2,510.5 412.5,502.4 403.8,501.8ZM344.8,281.1 344.8,287 343.9,287 343.9,280.4 342.6,279.3 342.4,279.3 333.1,287 332.9,288.4 334.5,291.6 339.8,293.6 345.9,291.2 346.5,282.6ZM798.6,137.6 796.4,131 795.6,126.8 789.7,124.8 786.7,126.6 785.5,133.9 788.2,139.1ZM687.2,297.4 689.2,298.4 692.6,297.3 692.5,292.1 690.6,291.1 686.3,293ZM581.7,458.3 576.6,459.7 578,466.8 582.8,466.8 583.6,460.1ZM550,412.7 543.7,413.2 542.8,414.6 546.6,419.5 549.7,419.8 550.9,418.2ZM695.7,396.4 698.1,399.7 700.9,399.5 703.2,394.4 698.1,392ZM124,221.2 125.4,216.6 117.7,207.7 112.3,210.9 111.5,212.5 113.6,220.9ZM563.6,398.5 567.2,401.9 571.7,401.1 572.3,397.3 570.7,394.8 564.8,395.3ZM432.9,491.7 426.6,486.2 421.3,489 422.8,494.8 430.5,496.1 433.1,493ZM144.6,114.5 142,113.4 136.4,110.7 133.4,117.4 138.9,121.5ZM136.2,280.2 135.3,289 144.8,293.8 151.2,288.2 142.7,279.1ZM143.9,293.4 144.5,288.7 147.7,291.3 144.8,293.8ZM137.8,287 138.6,284 142.8,281.5 142.8,287 144.5,287 143.7,291.2 139.5,290.4 138.6,287ZM585.5,406.5 585.9,406.5 589.4,401.2 585.6,397.5 580.9,399.3 580.5,400.9ZM624.4,438.1 624,439.5 626.4,443.1 629.7,443.2 632.4,440 632.2,438.7 628.1,436.3ZM660.8,403.4 661.1,407.7 661.8,408.4 666.2,406.7 666.3,403.3 664.1,401.6ZM449.6,461.4 451.3,454.5 450.9,453.7 446.4,453.2 443.5,459.2 446.2,462ZM574.8,353.1 570.7,352.8 568.7,356.5 570.8,359.2 572.9,358.6 575.2,353.9ZM654.6,363.1 652.8,359.2 648.5,360.5 648,363.6 649.5,364.9 653.9,364.1ZM670.8,401.8 672.3,408.4 672.4,408.4 674.9,408.2 678.2,403.5 675,400.2 671.3,401.1ZM513.1,340.5 516.4,340.5 518.6,337 516.2,332.6 510.6,335.4ZM543.2,408.4 543.7,413.2 550,412.7 551.4,410.9 551.1,408.6 548,406ZM668.1,421 669.7,421.9 672.4,421.1 674.3,417.6 674,416.1 672.2,414.9 668,415.5ZM642.8,422.6 644.8,425.1 648.1,424.7 649.7,422.2 647.5,419.6 643.5,419.6ZM609.4,412 607.4,408 603.8,407.1 600.5,410.4 600.6,414.7 607.4,414.7ZM459.6,455.4 464.3,457.2 468.3,451.2 467.8,449.8 459.8,448.9ZM694.9,242.7 692,241.6 687.2,245.2 689.1,248.9 692.6,249.6 695.5,246.8ZM683.1,481.1 679.4,477.8 675.3,479.2 673.9,484.9 674.9,486.7 679.8,488.3 682.6,486.9ZM551,190 560.1,188.2 560.6,187.5 554.2,180.2 550.3,182.2 548.4,187.5ZM688.3,393.9 683.6,398.9 683.6,399.4 687.7,402.6 690.3,402.2 691.9,396.6 689.3,394ZM608.2,377.8 609.3,381.2 613.1,381.2 614.8,377.2 613.7,374.8 612.3,374.4ZM684,222.5 681.6,223.7 678.3,225.4 677.7,228.4 682.7,229.1 684.8,225.9ZM561,362.5 560.8,366 565.3,367.5 567,366.3 567.2,362.8 563.3,360.6ZM530.1,339.7 532.6,338.7 533.4,332.8 532.1,332.1 525.3,334.9 525.2,335ZM650.7,422 649.7,422.2 648.1,424.7 649.6,428.2 652.9,428.6 654.3,425.2ZM590.2,365.4 586.8,363.8 584,366.8 586.4,369.8 589.8,369ZM697.7,234.2 697.7,227.3 697.3,227.1 691.3,227.4 690.4,228.2 689.8,231.4 691.6,234.6ZM741.8,237.3 736.8,233.3 733.7,235 732.9,239.6 735.9,242.8 741.2,240.5ZM656.8,436 659.8,439.1 663.4,434.7 661.9,432.8 658.3,432.5ZM535.3,428 536,427.7 539.4,421.9 539.2,421.6 534.5,418.8 532.2,419.4 530.9,422.7ZM565.4,345.1 567.6,349.5 568.8,349.7 571.9,347 572.2,344.3 566.8,343.3ZM717.9,237 713.1,237.6 710.6,242.9 711,243.8 714.1,245.7 718.6,244.5 719.7,239ZM506.9,423.2 502.2,429.5 502.5,430.8 506.2,433.2 510.4,428.8 507.8,423.3 507.3,423.1ZM632.5,361.7 634.4,365.3 637.7,365.1 638.9,361.7 636.3,359.3ZM718.7,232.2 717.9,237 719.7,239 725.1,238.6 726.7,232.5 720.2,231ZM707.3,524.7 708.3,518.9 706.2,517.3 702.5,517.7 700.5,522.3 704.9,525.7ZM335.1,316.5 336.2,326.1 344.2,324.5 346.4,316.5 341.4,313.7ZM659.9,363.9 659.8,368 661.1,369 665.2,368.3 666.3,363.8 663.8,362.5ZM513.8,470.6 510.5,473.6 512.1,477.4 514.9,478.7 518.9,477.3 519.4,476.3 518.4,471.3ZM676.4,396.4 680,395.5 681,391.7 678.5,388.9 674.4,389.7 673.6,393.4ZM729.1,259.3 727.4,258.3 723.8,259.7 722.9,263.2 725.6,266.7 726.6,266.9 729.9,264.6ZM692.2,340.1 687.5,338.4 684.9,341.6 684.9,341.6 689.3,345.3 692.6,341.3ZM316.6,413.5 312.5,417.8 315,428.8 320.3,431.1 327.1,426.8 327.9,417.4ZM551,349.1 550.6,344.4 545.6,343.8 544.8,348.8 548,350.6ZM735.5,245.6 729.6,248 729.4,251.2 734.2,253.8 736.5,252.7 737.9,248.6ZM542.8,362.8 543.8,363 548.4,358.5 548.4,356.7 547.8,356 541.5,354.9 539.4,356.6ZM643.2,428.7 644,430 647.3,430.7 649.6,428.2 648.1,424.7 644.8,425.1ZM525.8,388 526.2,387.3 524.8,382.5 520.1,381.5 517.4,386.1 519.1,390ZM585.5,354.6 586.8,350.2 586.6,349.8 583.4,348.5 580.9,350.2 581.2,353.8 584.4,355.1ZM749.9,270 752,269.8 751.7,264.7 751.7,264.6 747.4,264.2 746.4,264.8 745.7,267.3ZM122.2,231 114,232.1 112.1,235.5 114.1,240.8 120.7,242.9 126.4,237.6ZM780.1,197.6 783.3,198.6 784.7,194.4 785.5,191.3 784.5,190.1 777.4,190.5 777,191.9ZM575.8,350 571.9,347 568.8,349.7 570.7,352.8 574.8,353.1ZM139.5,265.9 136.6,267.9 139.4,266 142,267.3 141.1,270.6 134.4,269.4 134.2,269.5 135.5,279.6 136.2,280.2 142.7,279.1 147.3,271.9 145.6,267.5ZM134.3,269.9 135.3,269.8 141.1,273.1 134.7,273.5ZM492.3,335 496.6,332.3 494.9,327.3 489.4,327.4 489.2,333.3ZM680.7,351.7 678,346.4 674.8,347.4 674.2,348.4 675.7,353.1 679.9,353.5ZM749,182.7 748.4,178 742,179.6 740.9,179.8 742.6,184.1ZM446.4,453.2 444.5,451.2 437.9,452.5 437.7,452.8 439.9,459.2 443.5,459.2ZM667.7,476.6 663.9,472.9 659.5,474.1 656.8,477.8 658.2,479 661.5,479.8 664.5,483.3ZM413.2,510.5 406.2,512.2 403.3,515.7 403.4,515.9 406.8,520.9 407,522.4 413.5,521.5 417.5,514.9 417.2,513.1ZM740,289.3 738.4,293 740,295.4 743.9,295.5 743.7,292.8 744.3,290.7ZM671.3,401.1 675,400.2 676.4,396.4 673.6,393.4 669.7,394.6 668.9,396.9ZM598.3,204 599.4,203 599.3,196.9 596.5,195.2 595.3,196.9 592.8,202.7 592.7,203ZM725.6,266.7 721.5,270.5 721.9,273.1 723.5,274.4 727,274 729,271.9 726.6,266.9ZM678.7,310.6 678.3,313.8 683.8,315.1 684.1,314.9 684.8,312.9 683.5,309.3 683.4,309.2ZM189.8,242.3 188.1,253 187.7,254.2 181.8,257.2 178.8,254.7 173.4,252.6 173.4,253.3 178.8,255.5 181.3,257.5 178.5,258.9 192.5,251.7 193.5,248.7ZM489.1,434 494,433.1 495.1,427.6 492.5,425.4 488.8,425.9 487,428.5ZM197.2,300.3 189,306.5 189.3,314.2 199.2,321 189.6,314.4 190.6,308.8 204.8,309.6 205.3,304.2ZM206.9,167.6 209,168.2 210.1,170 209.4,168.2 209.5,165.1 210.7,164 205,169.4ZM212.4,175.4 212.1,174.9 211.8,176.8 211.9,176.8ZM697.4,311.2 697,307.8 693.8,306.8 691,310.6 695.6,312.7ZM622.8,320.9 623.4,323.1 624.8,323.8 628.8,322.4 629.6,319.3 625.5,317.8ZM627.7,451.4 624,447.4 620.6,447.6 618,452.5 618.2,453.2 622,455.8 627.9,452.7ZM618.1,336.1 618.5,338.7 623,339.8 624.5,338.9 624.7,338.1 623.6,335 619.7,334.4ZM234.3,167.3 236.3,157.9 237.3,158.3 240,163.6 239.6,167 239.9,168.4 243.8,169.1 247.5,164 245.5,158.2 236.5,157ZM658.1,346.6 661.9,344.8 662.7,342.5 657.8,339.9 655.6,343.7ZM716.4,276 715.4,275.7 712.4,277.3 712.1,278 714.6,284.1 715.9,284.4 719.2,280.2ZM430.8,547.6 433.6,548.5 438.6,550.2 442,548.5 441.1,542.7 439.5,536 439.5,535.9 439,536.2 439,537.7 436.7,537.7 438.6,536.5 431.9,540.7ZM598.1,341 601.7,341.6 603.5,337.4 603.5,337.4 598.8,336.2 597.1,338.7ZM539.4,356.6 541.5,354.9 542.1,349.9 537.4,346.8 534.8,352.4 538.9,356.6ZM628.3,352.1 624.4,352.7 623.5,355.3 625.4,358.6 629.4,358.1 629.9,357.1ZM480.7,421.6 479.2,418 471.1,418.8 470.6,422.5 474.8,425.7 479.8,424.1ZM721.5,246.9 721.2,251.9 727.3,253.2 729.4,251.2 729.6,248 726.8,245.1ZM659.9,363.9 658.2,362.5 654.6,363.1 653.9,364.1 655.2,369 659.8,368ZM613.4,421 613,424.5 616.9,429.6 621.8,425.1 621.8,424.8 618.1,420.2 614.6,420.2ZM611.1,437.8 610.2,439 612.8,445.1 618.1,443.9 618.9,441.3 616.4,437.7ZM500.4,452.4 496.5,454 495.5,457.8 500.9,461.3 504.9,456.1ZM544.7,454.7 542.3,454.6 538.5,458 540.8,463.2 542.6,463.9 546.3,462.6 547.5,458.5ZM714.9,212 711,210.5 710.1,212.8 707.6,215.3 712.4,220.2 714.8,218.3ZM618.1,392.9 617.5,398.3 617.9,398.6 622.9,398.6 623.3,393.4 620.4,392ZM615.2,383.8 615.2,386.2 615.3,386.3 620.9,387.1 622.3,386.1 622.4,382.8 619.9,380.7ZM627.3,365.2 627.6,365.1 631.1,361.3 629.4,358.1 625.4,358.6 624.4,360.2 625.3,363.9ZM561.6,378.3 558.3,380.4 558.4,384.9 563.1,385.8 564.9,382.7 562.6,378.6ZM673.9,370.9 672.5,376.4 676.7,379.9 680,377.1 678.5,372.2 674.6,370.7ZM285.5,284 280.3,295 281.1,296.4 291.9,299.6 296.8,295 295.3,296.4 289,296.2 289,287 289.1,284.5 293.6,285ZM492.6,388.7 489.2,392.2 490.7,396.8 492.9,397.7 495.3,396.8 496.6,389.7 496.1,389.1ZM667.7,378.8 667.9,378 666.1,374.6 661,374.2 660.1,375 660.2,380.1 661.6,380.9ZM282,410.4 284.5,407.9 285.2,396.8 273.9,389.2 264.1,399.2 275.1,411.6 274.4,410.8 277.8,411.2ZM678.2,333.9 675.3,335.4 675.5,340.1 677.8,341.1 681,339.1 681,336ZM639.7,434.7 637,429.2 635.1,429.2 632.8,431.7 634.4,436 638.5,435.9ZM769,174.9 770.4,170.9 767.7,166.9 765.4,168.7 762.4,170.4 761.6,173.8ZM692.4,408.4 698.4,410 699.2,409 700.3,407.7 696.4,403.1 692.6,404ZM96,228.5 95.9,228.7 92.5,234.6 91.5,238.4 102.1,238 103.7,235.6 102,231.3ZM297.3,210.9 304.7,206.5 304.9,203.5 285.8,201.3 287.3,198.4 285.7,201.4ZM289.2,194.8 288.6,196 290.3,196 290.9,194.4 297.9,192.7ZM514.2,327.5 516.2,320.8 515.6,320.5 508.3,321.5 509.1,327.5ZM604.8,368.7 601,370.5 600.5,372.5 604.4,376.2 604.7,376.1 607,371.5ZM706.2,304.4 705.1,307.2 706.7,309.8 710.1,309.9 711.5,308.3 711.3,305.7ZM624.8,370.8 627.3,365.2 625.3,363.9 620.8,365.7 620.4,367.5 624.7,370.8ZM588.1,379 591.5,379.8 593.7,376.8 591,373.8 587.9,375ZM143.8,239.9 150.6,247.7 156.8,246.7 160.8,239.2 149.8,232.6 144.2,236.3ZM698.5,357.4 697.2,352.9 693.4,351.7 691.6,353.5 692.4,358.1 693.7,359ZM710.5,334 710.4,338 712.5,338.9 715.2,337.2 715.4,335.3 712.2,333.1ZM664.1,401.6 666.3,403.3 670.8,401.8 671.3,401.1 668.9,396.9 664,398ZM712.4,277.3 707.1,272.3 704.3,276.8 706.7,281.2 712.1,278ZM674.3,496.5 671.3,492.9 667.3,492.8 666.1,497.4 666.6,501.6 668.6,504 668.8,503.9 669.1,499.1 671.4,500.7ZM629.6,384.7 629.5,385.5 631.7,388.3 636.5,387.5 636.9,386.7 634.5,381.4ZM342.4,279.3 342.1,279.6 329.7,278.1 333.7,286.5ZM239,223.6 233.2,230.4 234,234.6 243.4,236.5 242.9,236.4 242.6,233.5 243.9,236.6 247.5,237.4 250.3,234.1 248.3,225.9ZM244,224.8 242.2,229.8 241.7,224.5 238.6,224.1 239,223.6ZM657.8,418.7 656.7,420.1 657.5,424.1 658.3,424.5 663.5,421.8 661.8,418.1ZM132.1,212.6 131.3,208.2 131.9,206.9 134.7,200.8 130.5,203.2ZM583,344.4 578.1,344.3 577.8,348.9 580.9,350.2 583.4,348.5 583,344.5ZM606.1,439.8 602.5,435.3 599.5,435.9 597.1,440.5 599.3,443.3 604.5,442.8ZM620.9,387.1 615.3,386.3 615.5,391.5 618.1,392.9 620.4,392ZM726.2,317.6 723.9,319.1 724.3,323.6 724.5,323.7 725.6,323.8 728.9,320.9ZM717.5,306.2 716,309.9 716.3,310.5 719.4,311.9 722.8,308.9 720,305.3ZM610.1,338.4 610.2,338.2 608.9,334.2 605.5,333.2 604.7,333.5 603.5,337.4 603.5,337.4 607.1,339.3ZM705.6,235 705.5,240.6 710.6,242.9 713.1,237.6 710.4,234.3ZM550.1,465.5 549.9,469.6 555,471.7 557.2,469.6 557.4,465.9 554.2,463.7ZM472,489.4 475.8,483.7 474.9,481.8 469,480.6 466.8,488.3 466.9,488.5ZM490.8,478.9 491.8,484 496.4,482.7 498.4,482.5 498.6,478.2 495.3,474.5ZM274.6,197.4 282.2,200.8 276.9,200.2 281.9,206.1 282.1,206.4 284.5,201.9ZM726.2,317.6 726.6,316 725.3,313.9 720.4,315 720.2,315.3 721.2,318.2 723.9,319.1ZM653.2,391.7 648.5,392.2 647.4,393.6 648.9,397.6 651.2,398.3 654.5,395ZM739.6,258.9 740.1,255.6 736.5,252.7 734.2,253.8 733.4,258 735.5,259.9ZM492,314.9 489.1,310.2 486.4,310.2 485.3,316.8 489.7,318.9ZM579.9,443 583.6,447.1 585.7,447 588.3,444 584.6,438.2 581.7,438.5ZM556.6,394 557.5,392.2 555.4,387.3 554.6,387.1 549.8,389.1 549.4,394.3 551.1,395.5ZM618,404.7 620.5,405.7 622.5,405 623.3,398.9 622.9,398.6 617.9,398.6ZM555.2,440.1 554.8,444.6 558.7,446.5 563,442.8 563.1,441.8 558,438.7ZM683.7,286.9 683.1,286.6 679.2,287.8 677.9,292.3 681,294 684.8,292.3ZM533.8,391.6 536.3,392 540.2,387.7 538,384.2 533.3,384.8 532.1,386.7ZM567.2,362.8 567,366.3 571.4,368.1 571.8,367.9 573.1,364.5 570.2,360.9ZM785.3,145.9 787.5,147.7 789.7,154.5 788.7,148.6 791.7,151.1ZM561.3,187.1 570,190.8 573.2,185.4 572.6,182.8 569.7,183.4 567.3,181.8 565.4,180.5ZM731.2,272 729,271.9 727,274 729.3,279.1 732.2,278.7 733.1,277.5ZM238.6,344 237.9,343.5 236.8,343.3 225.2,349.3 225.1,364.1 232.4,370 238.5,369.5 243.7,362.4ZM523.6,396.4 523.4,398.6 526.4,400.9 531.8,399 530.9,394.2 527.3,393.2ZM276.5,138.3 276.4,128.9 273.5,128.5 272.7,136.1 275.9,138.7ZM542.4,433.9 541.7,435.9 548.2,439.4 550.8,437.5 551,435.6 548.3,432.1ZM571.1,409.6 574.5,410.2 577.5,407.7 577.3,403.3 572.1,401.5ZM713.4,303.1 717.5,306.2 720,305.3 720.6,303.8 719.6,300.8 715.7,300.2ZM224.6,258.4 216.5,253.9 214.8,254.2 205.5,266.7 218.5,278.1 216.2,276.1 220.3,276.9 219.7,277.7 225.8,270ZM676.9,446.7 676.7,447 678.6,451.3 683.5,451.5 683.5,444.8ZM752.3,215.6 756.5,212.6 756.9,209.4 752.5,206.9 747.4,210.1 747.3,212ZM504.5,384.4 503.2,383.1 498.1,383.6 496.1,389.1 496.6,389.7 501.8,391.2 503.9,390ZM701.5,314.9 702.8,317.3 707.6,317.8 708,315.6 705.3,312.5 701.8,313.2ZM435.1,437.2 437.8,439 441.9,437.2 442.3,431.3 437.8,430 434.9,431.9ZM572.5,377 572.9,374.6 570.2,371.9 566.5,373 566.4,376.2 569.2,378.2ZM642.4,336.8 644.5,334.7 643.9,331.1 643.5,330.9 639.7,331.8 639.1,334.7ZM245.4,174.9 241.1,179.5 245.1,182.1 246.5,187.2 241.8,186.9 251.1,187.5 254,184.1 252.6,177ZM690.8,262.5 689,266.8 690.9,269.7 695.3,268.9 697.2,264.6 696.1,262.3 694.8,261.6ZM639,427.7 643.2,428.7 644.8,425.1 642.8,422.6 639,423.8ZM687.5,259.2 690.8,262.5 694.8,261.6 693.7,255.1 688.4,256.1ZM489.4,327.4 487.8,325.8 482.7,329.1 482.6,332 486.1,334.4 489.2,333.3ZM653.8,452 656.6,448.4 656.5,447.2 654.7,445.6 649.7,446.4 649.1,447.1 651.8,451.9ZM772,195.5 773.1,200.7 774.6,201.2 780.1,197.6 777,191.9ZM668.6,325.5 669.4,327.9 672.6,329.1 674.3,328.3 673.8,323 670.7,322.3ZM248,134.8 243.6,132.3 236.7,135.1 236,140.7 236.5,137.1 238.4,139.7 239.1,140.7 240,141.1 242,144.5 242.9,145.7 240.6,145.6 245.2,145.8 249.3,141.3ZM125.4,216.6 124,221.2 125,223.5 135.7,226.9 139,222.2 126.9,217.8 128.3,214.9 132.1,212.6ZM558.7,446.5 559.6,451.2 563.7,451.3 566.7,447.6 563,442.8ZM635.4,407.4 631.3,406.8 629.6,408.7 631.6,412.9 635.3,411.1ZM708.3,376 711.1,377.2 716,373.6 713.6,370.5 708.9,370ZM700.8,342.3 698.4,341.2 695.3,342.6 695.8,346.5 700.1,347.8ZM628,342.1 624.5,338.9 623,339.8 621.8,344.5 624.4,346.2 625.7,345.9ZM487.6,324.7 481,321.3 479.1,326.3 482.7,329.1 487.8,325.8ZM588,415.3 582.8,415.2 582.3,421.2 588.6,423.3 590.5,421.2ZM709.8,361.2 714.2,357.9 713.6,354.2 713.1,353.9 709.3,353.7 706.9,358.8 707.5,360.2ZM707.6,215.3 706.8,216.1 702.6,218.7 702.4,218.7 704.4,222.7 712.1,221.4 712.4,220.2ZM459.6,448.7 453.4,448.2 450.9,453.7 451.3,454.5 457.1,456.9 459.6,455.4 459.8,448.9ZM628.8,322.4 624.8,323.8 625.9,327.5 629.5,328.1 631.1,325.4ZM139.6,303.3 131.5,299.7 125,306.6 126,310.5 136.2,312.7ZM789.1,183.4 785.3,184.4 784.5,190.1 785.5,191.3 785.6,191 790.6,191 792.3,188.8 793.5,185.9ZM736.3,315.5 736.3,315.7 736.8,320.9 737.8,321.5 739.1,320.2 739.7,315.9ZM689.8,272.9 684.2,273.9 684,279 688.5,280.6 691.7,278.1 692,276.6ZM727.8,195.6 733.5,197.3 736.3,193.3 735.2,189.5 729,189.5 727.3,191.7ZM632.8,397.1 628.6,396.7 626.6,399.1 628.5,402.4 630.5,402.9 632.2,401.8ZM637.8,391.7 633.4,393.4 632.9,397 637.1,398 638.9,396 638.1,391.9ZM482.3,428.5 487,428.5 488.8,425.9 486.3,421.4 480.7,421.6 479.8,424.1ZM636.9,456.6 632,461 633.2,463.4 639,464 641,459.3 639.2,457.1ZM680.7,256 683.9,252.8 681.2,248.2 680.6,248.1 675.6,253ZM656.1,374.1 655.2,369.1 650.2,370 650.6,374.6 653.3,376.1ZM643.6,415.1 639.1,413.1 638.7,413.2 637.5,416.4 638.5,418.3 643,418.9ZM675.5,322 678.7,323 681.3,320.1 676.5,315.9 675.5,316.8ZM598.3,346.4 598.5,349.6 602.5,350.6 603.9,348.3 602.8,344.7ZM489.5,384.1 492.7,380.1 489.8,376 485,376.5 483.7,380.2 486.6,384.2ZM690.6,291.1 692.5,292.1 696,291.1 697.4,288.3 695.9,284.7 689.9,286ZM693.1,388.6 689.3,394 691.9,396.6 695.7,396.4 698.1,392 697.8,391ZM734.4,356.7 731.1,357.8 730.5,359.2 732,363.4 733,363.9 734.6,363 736.1,360.7 735.3,357.4 735.4,357.2ZM631.6,337.6 635,341.6 637.6,340 636.8,335.9 634.5,335.1 631.6,337.1ZM429.7,454 428.8,451.8 423.2,449.4 419.2,451.7 419.4,455 424,458.9ZM588.8,452.8 594.2,451 595.1,449.6 590.9,443.6 588.3,444 585.7,447 588.8,452.7ZM254.2,265 254.9,276.7 258.3,276.8 258.5,275.6 266,274.8 268.5,271.4 265.5,268.1 265.7,262.7 264.9,261.9ZM510.8,463.4 511.8,463.6 513.7,462.6 515.6,454.6 508,454.4 506.6,455.9ZM554.6,387.1 550.8,380.3 546.5,382.7 545.9,386.6 549.8,389.1ZM693.1,388.6 697.8,391 701.2,386.5 700.9,384.1 699.6,383 696.5,382.7 692.2,386.1ZM722.8,341 721.9,343.9 723.4,346.6 726.6,346.1 728.4,342.7 726.2,340.2ZM499.3,339.6 504.9,340.1 506.6,336.3 501.1,332.5 499.2,333.2ZM576.5,360.3 572.9,358.6 570.8,359.2 570.2,360.9 573.1,364.5 576.5,363.5ZM684.5,330.3 688.9,329.2 689.8,327.5 689,325.5 685.1,324.1 682.6,327 683.1,329.2ZM668.7,363 666.3,363.8 665.2,368.3 667.5,370.8 671.8,370 670.2,363.6ZM600.6,414.7 600.6,414.7 602.3,421.8 604.6,422.4 608.6,419.2 607.4,414.7ZM525.3,334.9 524.7,333.3 518.6,330 516.9,330.5 516.2,332.6 518.6,337 523,337.2 525.2,335ZM298.1,422.7 301.7,417.1 298.9,408.9 284.5,407.9 282,410.4 284,414.2 282.7,411.7 288.6,412.3 288.3,420.7 287.5,420.9 289.3,424.5ZM632.2,466.7 634.7,470.6 635.6,470.1 640.6,467.6 639,464 633.2,463.4ZM558,438.7 563.1,441.8 566.1,439 563,433.7 558.7,434.7ZM557.4,197 560.3,194.4 560.1,188.2 551,190 551.5,195.8ZM551.7,400.3 551.1,395.5 549.4,394.3 545.5,395.3 544.7,400.6 547.9,402.8ZM152.8,191 151.2,191 152,185.5 144,179 139.6,182.7 139.3,188.6 150.6,192.3ZM575.9,369.5 577.2,372.5 577.6,372.7 580.6,371.7 581.9,366.7 580.3,365.4 578.7,365.3ZM251.9,199.1 253.3,209.2 252.5,203.7 260.1,205.2 266.1,203.5 266.6,204 260.2,196.9 253.3,197.5ZM577.2,372.5 575.9,369.5 571.8,367.9 571.4,368.1 570.2,371.9 572.9,374.6ZM473.2,349 467.1,351.5 466.4,354.4 469.1,356.8 474.6,355.3 475.3,351.6ZM661.7,316.1 664.8,315.6 666,313.9 663.9,309.5 658.8,310.7 658.8,311ZM684.7,334.3 687.2,335.9 690.8,333.3 688.9,329.2 684.5,330.3ZM569.2,378.2 566.4,376.2 562.6,378.6 564.9,382.7 568.6,382.1ZM728.9,320.9 725.6,323.8 728.5,326.8 731.9,323.9 731.7,323.5 731.3,321.1ZM732.2,278.7 735,283.5 737.9,282.4 739.4,278.6 738.6,277 736.8,276.3 733.1,277.5ZM774.6,201.2 778.6,207.2 778.9,207.2 780.9,204.4 783,199.4 783.3,198.6 780.1,197.6ZM645.4,340.5 645.5,341.4 647.8,343.2 651.3,341.7 651.5,339.1 648.8,336.8ZM520.8,304.7 523.6,309.4 525.7,309.9 526.3,309.6 528.8,304.6 526.2,300.4 523.5,300.6ZM486.3,421.4 488.5,417.8 486.5,414.6 480,415.5 479.2,418 480.7,421.6ZM546.5,382.7 550.8,380.3 551.1,379.5 548.6,374.8 543.6,374.5 541.8,379.3ZM711.1,363.8 715.8,365.3 716.8,364.9 717.2,359.7 714.2,357.9 709.8,361.2ZM615,362.8 612.3,360.6 608.5,363.1 608.5,365.1 611.9,367.9 614.2,367.1ZM748.1,247 752.6,246.4 753.4,243.5 751.8,240.3 750,240 745.7,244.2ZM620.2,325.8 617.5,325 615.2,327.1 616.1,330.2 619.2,331.1 621.3,329.3ZM337.6,155.5 337.9,154.8 335.1,155.7 329,156.2ZM593.7,211 591.5,205.4 591.1,206.1 587.8,207.8 585.7,211.9 593.2,211.7ZM534.2,429.5 526.9,430.1 527.8,435.7 533.3,436.3 534.7,434.9ZM636.9,386.7 636.5,387.5 637.8,391.7 638.1,391.9 642.3,390.9 643.9,386.4 641.6,385.1ZM704.4,222.7 702.4,218.7 696.7,220.3 696.6,220.3 697.3,227.1 697.7,227.3 703.6,226.4ZM503.8,407.4 504.8,409.2 511.1,410.1 513.4,407.8 511.2,403.3 506.1,403.4ZM613.8,343.8 614.7,346.8 618.3,347 620.1,344.8 616.8,340.9 616.1,341.1ZM694,327.6 689.8,327.5 688.9,329.2 690.8,333.3 692.7,333.8 695.5,330.5ZM501.6,350.3 505.1,352.7 508.3,351.8 507.3,344.2 506.6,343.9 501.8,346.8ZM559.9,407.6 561.2,406.3 560.6,399.6 558.7,399.1 554.7,401.8 555.3,405.3ZM588.5,343.2 592.4,341.8 593.2,338.3 592.5,337.3 589.1,337.1 587.3,339.7ZM573.4,443.7 572.6,443.9 569.4,447.5 572.1,453.2 573.7,453.7 577.5,451 575.2,444.4ZM549.4,394.3 549.8,389.1 545.9,386.6 542.9,388.3 543.6,394.1 545.5,395.3ZM364,283.9 361.4,277.4 356.5,276.7 352.8,281.7 358.4,289.9 359.5,289.6ZM208.7,200.8 216.1,208.7 223.4,204.1 221,196.7 214.7,195ZM611.2,403.4 607.4,408 609.4,412 614.2,412.1 615,405.7ZM679.6,403.5 683.6,399.4 683.6,398.9 680,395.5 676.4,396.4 675,400.2 678.2,403.5ZM720.6,338.5 717.8,339.5 716.7,343 717.3,343.9 721.9,343.9 722.8,341ZM752.5,206.9 752.3,203 747.6,200.7 746.2,201.4 744.8,207.2 747.4,210.1ZM598.4,327.1 596.2,329.1 596.9,332.6 598,333.2 601.7,331.5 601.8,327.9ZM731.9,298.5 729.4,298 728.7,301 731.3,303.7 733.1,301.9ZM591.3,410.5 595,407.2 595.2,405.3 591,401 589.4,401.2 585.9,406.5ZM679.4,458.3 678.2,462.3 683.4,465.7 685.5,465.2 685,464.3 683.9,457.2ZM643.9,441.2 644.4,436.4 641.8,434.3 639.7,434.7 638.5,435.9 639.4,441.3 642.7,442.4ZM705.9,377 705.6,381.9 709.3,384.2 712.5,380.8 711.1,377.2 708.3,376ZM482.8,355.8 478.9,358.6 481.6,364.5 487,361 487,360.7ZM614.8,377.2 613.1,381.2 615.2,383.8 619.9,380.7 619.5,378.5ZM230.6,153.7 235,154.9 240.6,145.6 236.8,151.9 236,150.8 235,150.3 235,149.5 235,149.5 235,152 233.1,147 233,146.8 230,143.3 227.7,144.3ZM231.8,154 235,153.7 235,154.8 235,154.9ZM593.3,383.8 593.1,383.7 587.8,385.4 587.3,386.7 590.3,391.1 593.9,389.1ZM644.2,372.7 645.8,370 643.7,366.3 639.6,367.7 639.1,369.6 641.7,373ZM411,451.7 416.9,450.3 415.8,444.1 410.8,442.7 410.5,443 409.1,449.4ZM481.9,469.3 485.3,473.2 490.2,470.6 490.5,464.7 483.9,464.4ZM430.1,464.1 433.2,461.3 431.1,454.6 429.7,454 424,458.9 424.1,461.2ZM729.3,332.9 732.3,330.2 728.5,327.1 726.1,329.8 726.5,331.7ZM702.8,356.3 703.6,352.4 701,349.5 697.2,352.9 698.5,357.4 699.3,357.8ZM660.2,461.7 661.7,460.7 662.5,456 660.3,454.1 656.4,455.2 655,459.1ZM717.2,359.7 720.9,358 720.3,354.4 717.9,352.8 713.6,354.2 714.2,357.9ZM675.7,353.1 672.7,355.9 675.4,359.8 679.3,358.7 680.6,355.1 679.9,353.5ZM674.9,408.2 678.7,411.6 683,408.1 679.6,403.5 678.2,403.5ZM708.3,518.9 707.3,524.7 712.8,526.6 713.2,520.9 712.7,518.3ZM592.4,341.8 595.1,344.6 596.2,344.5 598.1,341 597.1,338.7 593.2,338.3ZM683.5,309.3 684.8,312.9 690.1,311.9 690.9,310.7 687.7,307.4ZM461,442.4 459.6,448.7 459.8,448.9 467.8,449.8 468.9,446.6 465.1,441.2ZM701.4,324.3 701.8,321.7 701.3,320.8 698,319.9 695.4,323.3 695.8,324.4 699.4,325.7ZM629.5,328.1 625.9,327.5 623.8,329.8 625,332.6 628.7,332.7 630.2,330.4ZM697.2,375.2 696.3,370.8 694.7,369.9 691.6,370.6 689.9,373.6 691.8,377.3 694,377.6ZM195.4,336 197,344.6 207.3,350.2 216,344.9 215.5,332.9 199.9,330.7 211.7,332.3 209.9,333.1 199.5,331.2ZM726.1,329.8 728.5,327.1 728.5,326.8 725.6,323.8 724.5,323.7 723,328.3ZM477.4,386.4 476.1,392.8 477.7,394.6 482.4,394.4 484.7,391.2 483.8,388.3ZM670.2,363.6 671.8,370 673.9,370.9 674.6,370.7 677,365.3 674.6,362.2ZM127.1,177.7 121,167.6 122.3,169.6 120.2,173.8 116,173.8 117.8,166.5 117.4,166.4 116,171.3 114.3,175.4 112.2,179.6 124.4,181.3ZM265.9,252.4 264.9,261.9 269.4,266.3 265.7,262.7 266,252.4 279.8,250.8ZM752.6,246.4 748.1,247 747.8,249.7 751.6,252.9 751.6,252.9 751.7,252.2 752.9,249.2 754,248.6ZM681,339.1 684.9,341.6 687.5,338.4 687.2,335.9 684.7,334.3 681,336ZM742,261.3 739.6,258.9 735.5,259.9 735.2,264 739.4,265.5ZM520.1,381.5 524.8,382.5 527.9,379.3 525.6,374 520.6,374.8 518.8,378.9ZM677.8,424.2 679.1,420.2 674.3,417.6 672.4,421.1 676.1,424.7ZM664.9,468.5 667.5,467 667.5,462.2 661.7,460.7 660.2,461.7 659.7,465.5ZM671.7,431.6 670.5,435 672.1,436.7 675.4,436.3 676.9,431.7 675.5,430.7ZM563.1,385.8 558.4,384.9 555.4,387.3 557.5,392.2 563,391.8 564.5,388.7ZM639.9,375.8 641.7,373 639.1,369.6 635.5,371.1 634.8,374.2 635.6,375.4ZM653,332.7 654.7,334 659.4,331.8 659.8,330.1 657.6,327.9 653.3,329.5ZM651.8,347.5 652.1,348.6 654.7,349.9 657.8,348.3 658.1,346.6 655.6,343.7 653.6,343.9ZM708,315.6 710.8,313.5 710.1,309.9 706.7,309.8 705.3,312.5ZM597.1,338.7 598.8,336.2 598,333.2 596.9,332.6 593.5,334 592.5,337.3 593.2,338.3ZM237.9,343.5 238.6,344 254.4,344 257.8,335.3 256.9,337.5 255.4,337.3 257.3,334.7 250.1,327.4 251.8,329.2 245.8,328.2ZM657.5,338.8 661.2,335.5 659.4,331.8 654.7,334 655.3,337.4ZM594.1,396.8 594.1,396.8 598.9,399.6 602.4,395.4 597.6,392.4ZM232,323.5 226,313.7 214.9,314.9 216.9,331.3 228.3,330ZM216.5,314.7 215.6,320.7 214.9,314.9ZM699.9,276.7 704.3,276.8 707.1,272.3 707.1,271.7 703.1,269.5 698.4,272.6 698.3,274.6ZM668.8,357.7 665,355.9 663,357.9 663.8,362.5 666.3,363.8 668.7,363ZM560.8,366 561,362.5 556.1,360.3 553.3,362.7 556.1,367.2 559.3,367.3ZM614,351.4 617.5,352.8 619.5,350.6 618.3,347 614.7,346.8 613.8,347.9ZM444.3,430.1 444.2,424.1 440.1,422.3 437,424.2 437.8,430 442.3,431.3ZM480.4,350.8 482.2,346.9 481.8,345.7 475.8,343.4 473.2,346.3 473.2,349 475.3,351.6ZM583.4,348.5 586.6,349.8 589,345.9 588.2,343.7 583,344.5ZM620.3,412.5 620.5,412.6 624.8,411.8 626.5,408.6 624.9,405.8 622.5,405 620.5,405.7ZM741.2,336.4 740.7,333.9 739.3,330.4 735.3,333.2 735.3,334 737.7,336.7ZM620.4,367.5 620.8,365.7 618.6,361.7 615,362.8 614.2,367.1 617.5,369.1ZM719.1,372.3 723.5,373.2 724.5,368.1 720.9,365.9 719.8,366.2ZM673.3,303.7 678.3,304 678.9,299.6 674.6,297.7 674,298ZM682.7,229.1 677.7,228.4 677.5,229.5 678.8,234.6 678.6,234.8 683,234.6 684.1,232.3ZM557.2,417.3 556.6,412.7 551.4,410.9 550,412.7 550.9,418.2 556.9,417.6ZM600.5,372.5 601,370.5 598.6,367.8 595.8,368 594.4,370.3 597.4,374ZM611.3,331.8 610.5,329.6 607,328.7 605.5,333.2 608.9,334.2ZM695.3,342.6 698.4,341.2 698.1,336.7 694.1,336.3 692.2,340.1 692.6,341.3ZM586.3,361.2 589.5,359 589.2,356.1 585.5,354.6 584.4,355.1 583.8,359.9ZM624.7,338.1 624.5,338.9 628,342.1 628.7,342 631.6,337.6 631.6,337.1 629.8,335.9ZM726.6,316 726.2,317.6 728.9,320.9 731.3,321.1 730.8,318.3 731.1,315.4ZM474.3,439.6 480.5,439.4 482.2,435.9 480.1,432.3 474.3,432 473.5,438.5ZM495.2,350.8 490.3,353.9 491,356.7 494.4,358.3 497.8,356 497.6,352.2ZM460.2,503.2 455.2,500.3 448.5,503.5 450,509.8 451.2,509.2 455.4,506.7 460.4,503.5ZM570.4,417.9 569,410.6 563.8,413.1 563.2,416.7 564.4,418.3ZM680.6,355.1 685.6,356.2 687.6,353.2 685.7,349.6 685.2,349.4 680.7,351.7 679.9,353.5ZM689.2,303.5 689.2,298.4 687.2,297.4 683.5,299.5 684.3,303 688.1,304.2ZM697.6,330.8 699.6,328.9 699.4,325.7 695.8,324.4 694,327.6 695.5,330.5ZM570.6,461.9 568.9,461.3 564.4,465.8 565.2,468.4 571.9,467.6 572.4,467.5ZM716.1,201.2 719.7,196.5 719.2,194.6 714.6,192.2 712.7,196 711.3,198.2ZM315,428.8 304.7,434.1 303.4,438.2 305.1,438.3 305.4,435.3 308.7,441.7 313.7,447.4 321.7,439.5 320.3,431.1ZM585.8,380.8 587.8,385.4 593.1,383.7 591.5,379.8 588.1,379ZM207,237.1 217.4,236.5 219.7,228.3 211.3,223.3 203.4,230.8ZM514.9,478.7 514.8,484.2 517.4,484.4 521.6,483.4 518.9,477.3ZM663.4,342.1 662.7,342.5 661.9,344.8 664,348.2 667.9,348.2 668.5,344.2ZM489.1,310.2 492,314.9 496.3,314.4 497.5,310.1 496.8,309 491.2,308.3ZM730.9,289.1 733.5,290.2 735.9,287.7 734.8,283.8 731,285.2ZM610.9,448.4 612.8,445.1 610.2,439 606.1,439.8 604.5,442.8 606.2,447.1ZM473.8,319.8 472.5,324.1 476.1,327.2 479.1,326.3 481,321.3 480.6,320ZM684.8,225.9 690.4,228.2 691.3,227.4 690.5,221.1 690,221.2 685,222 684,222.5ZM508.4,365.2 514.8,365 516.4,361.5 515.4,359.3 510.7,358.3 508,360.4ZM478.8,334.3 475,331.4 472.1,332.7 471.5,337.9 475.6,340.2 478.7,337.5ZM472.1,332.7 467.4,330.2 465.1,332.3 466.6,339.9 471.5,337.9ZM681.8,320 684.6,321.7 687.9,319.4 688,317.5 684.1,314.9 683.8,315.1ZM667.4,251.5 670.3,248.5 669.2,246.2 669.1,246.3 663.1,249.6ZM611.1,402.9 614,398.4 611.1,394.5 606.3,397.7 606.6,399.7ZM594,420.8 596.2,415.9 591.3,411.6 588,415.3 590.5,421.2ZM483.7,477.7 477.5,477.3 474.9,481.8 475.8,483.7 479.7,485.7 479.7,485.7 482.2,484 483.7,484.2ZM444.2,490 439.8,483.9 436.7,484.7 432.9,491.7 433.1,493 439.2,494.7ZM303,401.7 310.3,400.5 313.6,386.1 300.9,383.3 295.8,387 294.8,391.2ZM667.8,301.5 670.2,297.1 669.2,295.6 663.4,296.5 663.2,297 664.6,300.9ZM616.7,321.3 619.9,319.4 619.5,315.5 618.6,314.8 613.7,315.9 614.4,320.4ZM637,329.1 640.2,325.5 635.9,322 635.5,322 633.4,325.1 636.4,329.1ZM533,466.6 528.4,474.8 535.7,475.7 537.6,471.8 534.4,466.9ZM503.8,310.5 497.5,310.1 496.3,314.4 498,316.7 502,316.9 504.5,313.5ZM174.7,133 168.4,128.8 161.8,135.5 162.6,139 171.5,140.5ZM708.3,348.2 711.1,347 711.3,343.9 707.4,341.8 705.5,342.8 705.6,346.4ZM621.6,433.6 624.4,438.1 628.1,436.3 628.7,431.6 626.7,429.6ZM650.1,381.6 647.3,380.8 643.9,386.4 647.4,387.8 651.4,385.7ZM704.3,497.5 704.3,497.4 701.9,492.7 694,497.5 694.3,499.1 699,502.4ZM248,134.8 254.1,130.8 252.6,128.5 253.4,124.8 243.7,122.2 243.6,132.3ZM634.8,374.2 635.5,371.1 632.5,368.2 631.7,368.3 628.9,372.2 629.7,374.2ZM574,428.1 578.9,423.6 574.1,418.7 571.8,419 569.9,424.2 573.1,428.2ZM746.2,201.4 747.6,200.7 748.8,195.8 744.3,192.4 741.4,194.7 741.7,199.6ZM641.2,379.2 646.1,378.9 646.9,376.1 644.2,372.7 641.7,373 639.9,375.8ZM557.2,469.6 555,471.7 555.2,475.7 556.3,476.3 556.8,475.2 561.8,475.7 562.7,471.8 562.7,471.8ZM590.9,351.6 592.9,349.5 592.7,347.5 589,345.9 586.6,349.8 586.8,350.2ZM632.1,344.3 631.6,346.9 635.7,349.7 636.3,349.5 637.3,345.8 634.6,342.9ZM731.2,272 733.1,277.5 736.8,276.3 735.6,270.8 733.9,270.3ZM608.3,348.5 603.9,348.3 602.5,350.6 603.1,352.6 606.8,353.4 608.7,351.4ZM669.7,394.6 673.6,393.4 674.4,389.7 672.8,387.9 667.5,388.8 666.9,391.1ZM575.4,380 576.3,380 578.9,377.6 577.6,372.7 577.2,372.5 572.9,374.6 572.5,377ZM618.1,420.2 621.8,424.8 626.6,420.5 626.8,419.8 626.3,418.9 621,417ZM651.3,341.7 647.8,343.2 647.8,346 651.8,347.5 653.6,343.9ZM691,526.8 689.2,519.7 682,522.9 685,525.6 688.4,529.3 688.5,529.4ZM649.9,404.6 647.5,404.1 645.1,405.8 644.8,409.4 645.8,410.5 650,409.8 650.8,405.8ZM625.9,327.5 624.8,323.8 623.4,323.1 620.2,325.8 621.3,329.3 623.8,329.8ZM631.7,368.3 632.5,368.2 634.4,365.3 632.5,361.7 631.1,361.3 627.6,365.1ZM471.7,410.3 471.8,410.5 479.1,413 481.4,408.3 477.9,404.4ZM415.3,472.1 414.7,473.9 420.3,478.4 424.1,477.8 425.5,471.2 421.8,468.6ZM723.9,334.2 726.5,331.7 726.1,329.8 723,328.3 721,329 720.4,330.6ZM764.5,210.2 764.4,215 767.9,216.6 770.5,215.6 772.1,210 769.4,207.8ZM667.2,428.5 666.4,435 670.5,435 671.7,431.6 668.8,428.1ZM444.2,424.1 444.3,430.1 449.2,431.3 451.9,428.9 451.9,424.6 447.6,422.1ZM540,182.1 544.6,188.2 548.4,187.5 550.3,182.2 543.2,176.1 541.5,177.1 540.7,177.6ZM768.6,247.9 772.5,245.6 771.3,244.3 767.9,245.9ZM606.3,397.7 603.2,395.2 602.4,395.4 598.9,399.6 599.4,402.1 602.6,403.6 606.6,399.7ZM711.1,363.8 709.8,361.2 707.5,360.2 704.4,363.1 705.8,368.5 708.1,369.1ZM477.5,477.3 475.3,472.8 470.6,473.4 468.4,479.8 469,480.6 474.9,481.8ZM319.9,359.8 321.9,357.1 319.6,345.7 314.5,342.9 314,343 307.5,354ZM540.3,486.1 536.9,481 534.2,482.7 535,483.2 535,490.4 536.5,491ZM483.7,380.2 478.1,381.4 477.1,385.7 477.4,386.4 483.8,388.3 486.6,384.2ZM698,530.6 695.9,526.6 691,526.8 688.5,529.4 691.7,532.6 694.2,536 694.3,536.1ZM568.5,388.7 564.5,388.7 563,391.8 564.8,395.3 570.7,394.8 571.2,392.2ZM660.1,444.7 664.1,447.1 665.2,446.1 665.1,441.2 659.9,440.3ZM517.7,346.9 518.7,343.6 516.4,340.5 513.1,340.5 510.8,343.6 514.2,347.7ZM556.1,367.2 553.3,362.7 552.8,362.7 548.3,367.2 551.1,371 553.5,371ZM703.1,269.5 702.3,265.8 697.2,264.6 695.3,268.9 698.4,272.6ZM116.9,320.2 120.1,325 121,319.7 120.7,317.5 118.1,318.3ZM122.7,331.4 120,331 115.5,322.3 121.4,333.7 131.3,330 131.9,325.9 121.8,317.2 130,324.3 127.7,328.9 122.7,329.7 121.8,328.7ZM520.2,349.4 519,354.2 523.2,356.3 526.8,351.2 524,348.7ZM695.9,526.6 698,530.6 703.6,531 704.9,525.7 700.5,522.3 697.9,522.9ZM602.8,381.9 598.3,383.9 599.5,388.2 603,388.4 604.9,383.7ZM114,304.5 118.4,302.5 119.2,296.3 112.1,290.9 114.8,292.9 115.2,297.9 107.6,297.1 107.5,295.9 106.5,297ZM138.1,140.5 143.9,144.5 150.2,140.9 150,134.4 141,134 137.9,138.7ZM556.1,430.6 553.8,428.5 548.9,429.4 548.3,432.1 551,435.6 556.2,432.2ZM632.9,397 632.8,397.1 632.2,401.8 635.9,402.9 637.8,400.8 637.1,398ZM566,356.1 564.9,351.5 561.6,350.9 560.4,351.8 559.9,355.6 563.4,358ZM509.5,335 508.3,328.4 503.2,328.6 501.1,332.5 506.6,336.3ZM687.6,353.2 691.6,353.5 693.4,351.7 693.1,348.8 689.4,346.6 685.7,349.6ZM582.9,339 582.7,338.7 578.2,339.3 577.8,344.1 578.1,344.3 583,344.4ZM634.5,381.4 636.9,386.7 641.6,385.1 640.5,380.4 634.6,381.3ZM734.2,253.8 729.4,251.2 727.3,253.2 727.4,258.3 729.1,259.3 733.4,258ZM640.2,325.5 637,329.1 639.7,331.8 643.5,330.9 643,327 640.2,325.5ZM580.3,365.4 581.9,366.7 584,366.8 586.8,363.8 586.3,361.2 583.8,359.9 582.2,360.4ZM671.3,492.9 674.9,486.7 673.9,484.9 665.3,484.4 665.7,484.9 667.4,492.4 667.3,492.8ZM674.8,347.4 678,346.4 678.7,345.5 677.8,341.1 675.5,340.1 671.4,342 671.4,342ZM623.6,314.2 619.5,315.5 619.9,319.4 622.8,320.9 625.5,317.8 624.7,314.9ZM583.2,335.2 581,332.4 578.3,332.2 576.8,338.1 578.2,339.3 582.7,338.7ZM698.3,240.3 702.5,242.3 705.5,240.6 705.6,235 704.5,234 698.3,234.7ZM611.9,357.4 612.1,352.8 608.7,351.4 606.8,353.4 607.5,356.7ZM686.3,293 690.6,291.1 689.9,286 688.9,285.3 683.7,286.9 684.8,292.3ZM559.9,355.6 556.5,357.3 556.1,360.3 561,362.5 563.3,360.6 563.4,358ZM669.4,327.9 666.1,331.1 666.4,332.8 671.2,334.6 671.9,334.3 672.6,329.1ZM523.6,396.4 527.3,393.2 525.8,388 519.1,390 518.8,391.2ZM433.2,461.3 430.1,464.1 430.2,469.4 432.3,470.7 439.2,467.3 437.3,461.9ZM679.2,280.2 675.5,284.7 679.2,287.8 683.1,286.6 681.8,280.6ZM591.2,436 593.3,440.5 597.1,440.5 599.5,435.9 594.9,431.7ZM646.3,357.7 646.7,356.6 644.9,352.7 641.1,352.7 640.1,355.2 643,358.8ZM604.6,422.4 607.1,427.9 613,424.5 613.4,421 608.6,419.2ZM700.5,522.3 702.5,517.7 699.6,514 696.1,514 693.8,518.3 697.9,522.9ZM732.3,225.3 737.5,230.3 741.6,227.8 740.5,222.2 736.8,221 732.4,224.8ZM567.1,205.7 564.8,210.1 568.4,216.5 568.9,212.3 570.2,206.9 570,205.3ZM604.7,333.5 601.7,331.5 598,333.2 598.8,336.2 603.5,337.4ZM803.1,166.1 793.3,171.8 793.2,173.6 796.4,176.5 796.4,176.3 799,177.1 804,174.6 804.8,171.3 807.4,170.6ZM645.1,405.8 641.7,404.1 639.2,406.7 640.9,409.7 644.8,409.4ZM663.6,397.6 658.3,397.7 657.2,401.7 660.8,403.4 664.1,401.6 664,398ZM565.9,254 565,259.3 566,260.4 569.4,259.9 569.4,259.7 567.7,254.7 567.5,253.5ZM480.4,350.8 483,355 488.2,352.5 487.7,348.6 482.2,346.9ZM547.3,427 544.4,426.3 541.3,429.9 542.4,433.9 548.3,432.1 548.9,429.4ZM575.8,387.5 571.4,384.4 571.2,384.4 568.5,388.7 571.2,392.2 575.8,389.7ZM689.3,380.1 685.1,380 683.7,384.3 685.9,386.8 691.4,385.7ZM427.2,529.5 430.5,529 435.3,521.5 430.6,516.5 424.7,519.3 423.6,526.5ZM434.5,520.7 431.9,520.6 432.3,518.3ZM751.7,264.6 751.3,258.9 748.2,259.5 747.4,264.2ZM277,360.6 285.9,362.8 291.1,354.2 284.5,344.4 273.5,346.8 272.8,348.1ZM671.2,334.6 666.4,332.8 664,336.2 664.8,338.2 669.6,338.8ZM703.3,337 702.8,341.6 705.5,342.8 707.4,341.8 708.3,338.9 705.5,336.4ZM629.9,357.1 629.4,358.1 631.1,361.3 632.5,361.7 636.3,359.3 636.4,356.6 634.7,355.2ZM581.2,353.8 580.9,350.2 577.8,348.9 575.8,350 574.8,353.1 575.2,353.9 578.7,355.6ZM678.7,323 675.5,322 673.8,323 674.3,328.3 676,328.6 679.4,325.5ZM454.4,231 454.1,224.7 447.3,223.8 445.4,231.3 447.4,233.2ZM791.7,151.1 794.6,150.3 796.4,154.5 800.4,152.9 800.2,148.7ZM713.2,303.2 711.3,305.7 711.5,308.3 716,309.9 717.5,306.2 713.4,303.1ZM786.5,229.4 785.2,229.9 783,226.2 781.7,224.4 780.3,225.7 780.1,232.1 782.2,231.6 785.6,232.4 786.1,232.2ZM566.5,457.3 561.2,459.2 561.3,464 564.4,465.8 568.9,461.3ZM544.8,348.8 545.6,343.8 544.2,341.8 537.3,346.6 537.4,346.8 542.1,349.9ZM474.3,432 474.2,431.9 467.7,431 465.1,434 466.5,438.5 473.5,438.5ZM421.3,489 416.8,486.9 412.2,493.3 415.1,499.7 419.1,499.8 422.8,494.8 419.4,499.4 419.4,492.4 422.6,494.1ZM631.5,446.9 629.7,443.2 626.4,443.1 624,447.4 627.7,451.4ZM660.3,454.1 660.5,450.9 656.6,448.4 653.8,452 656.4,455.2ZM566.1,439 566.2,439 570.8,435 570.1,431.7 564.6,430.4 563,433.7ZM711.1,377.2 712.5,380.8 715.4,381.5 718.4,378.3 716.6,373.7 716,373.6ZM717.9,352.8 720.3,354.4 723.8,351.7 722.7,348.2 718.2,349ZM647.5,419.6 648.7,415.8 645.4,413.8 643.6,415.1 643,418.9 643.5,419.6ZM663.3,392.6 660.6,391.2 657.3,396.1 658.3,397.7 663.6,397.6ZM696.5,282.9 695.9,284.7 697.4,288.3 701.9,288.7 703.7,287.2 703.8,283.7 698.7,281.7ZM561.2,459.2 566.5,457.3 566.8,456.2 563.7,451.3 559.6,451.2 559,451.8 559,457.8ZM455.3,422.3 451.9,424.6 451.9,428.9 458.5,431.1 460.9,424.8ZM762.5,180.6 760.4,175.3 755.2,176.4 755.3,182.6 758,184.3 761.2,183.2ZM625.5,466.5 625.9,461.7 622.3,459.6 619,462.1 620.5,468.2ZM726.8,337.7 723.9,334.7 721,336.7 720.6,338.5 722.8,341 726.2,340.2ZM700.9,399.5 704.4,402.4 705.9,399.8 706.8,395.6 707.2,395 704.9,393.9 703.2,394.4ZM767.9,245.9 765.4,247.1 763.2,248.3 764.5,250.1 767.1,248.8 768.6,247.9ZM517.7,346.9 520.2,349.4 524,348.7 524.9,343.8 523.4,342.6 518.7,343.6ZM663.9,472.9 667.7,476.6 670.9,475.9 673.1,469.3 667.5,467 664.9,468.5ZM692.9,304.2 694.8,302.1 694.3,298.3 692.6,297.3 689.2,298.4 689.2,303.5ZM616.1,330.2 613.8,332.6 614.6,335 618.1,336.1 619.7,334.4 619.2,331.1ZM202.2,196.1 203.6,190.4 203.1,191 200.6,191 199.7,196.3 194.7,196.8ZM767.5,188.5 776.1,188 776.7,184.8 772.3,179.7 770.5,179.4 769.9,179.9ZM671.8,370 667.5,370.8 666.1,374.6 667.9,378 672.5,376.4 673.9,370.9ZM700.1,347.8 695.8,346.5 693.1,348.8 693.4,351.7 697.2,352.9 701,349.5 700.9,348.9ZM503.7,156.7 509.5,160.3 513.8,157.7 509.9,155.3 505.7,156.2 503.9,154.4ZM526.2,328 530.1,327.6 532.1,324.2 527.1,320.3 523.2,325ZM628.6,377.5 629.7,374.2 628.9,372.2 624.8,370.8 624.7,370.8 622.1,375.1 627.1,378.5ZM696.5,382.7 699.6,383 700.7,376.3 697.2,375.2 694,377.6ZM657,318.1 660.1,318.1 661.7,316.1 658.8,311 655.2,314.8ZM178.7,300.8 173.6,305 173.8,305.4 172.1,317.2 169.5,318.5 168.3,318 180,322.2 189.3,314.2 189,306.5ZM691.6,494.9 693.9,489.1 691,485.7 685.7,488.2 687.8,494.6ZM557.7,422.5 554,424.4 553.8,428.5 556.1,430.6 559.9,427.8 559.4,423.6ZM597.9,424.4 597.7,427.2 604.7,430.7 606.6,429.8 607.1,427.9 604.6,422.4 602.3,421.8ZM649.8,333.7 647.6,330.4 643.9,331.1 644.5,334.7 648.6,336ZM639.8,318.6 639.8,318.6 635.9,314.7 633.4,319.4 635.5,322 635.9,322ZM713.1,224.7 711.8,228 712.3,229.7 718.7,232.2 720.2,231 720.2,225.6ZM764.6,197.5 759.9,196.5 756.8,199.2 756.7,199.6 760.7,205.1 766,201.8ZM510.7,358.3 515.4,359.3 517.5,354.7 512.6,351.4 510,352.4ZM649.8,321.6 651.6,325.3 656.1,323.7 655.3,320.4 651.6,319.7ZM554.7,401.8 558.7,399.1 556.6,394 551.1,395.5 551.7,400.3ZM738.2,310.2 740.4,305.8 739.3,304.8 735.5,305.1 735.9,305.9 737.1,310.3ZM639,464 640.6,467.6 642.3,466.8 645.5,467.4 647.1,463.2 644.4,459.5 641,459.3ZM295.8,387 300.9,383.3 301.1,370 288.3,367.6 284.1,377.8ZM552.9,334.7 547.7,333 545.2,334.9 544.9,338.8 552.8,338.9ZM520.6,374.8 525.6,374 526.5,372.3 523.3,366.4 517.2,369.9ZM515.5,448.8 511.2,446.9 508.1,449.2 508,454.4 515.6,454.6 516.3,454.1ZM537.3,346.6 536.5,345.8 530.9,345.8 529,351.2 531.1,353 534.8,352.4 537.4,346.8ZM604.4,376.2 602.4,378.7 602.8,381.9 604.9,383.7 607.7,383.5 609.3,381.2 608.2,377.8 604.7,376.1ZM735.3,334 735.3,333.2 732.4,330.2 732.3,330.2 729.3,332.9 730.1,336.2 731.5,336.8ZM733.1,301.9 733.7,301.3 734.4,302.8 737.8,299.1 734.3,296.8 731.9,298.5ZM623.3,393.4 626.2,392.1 625.6,387.7 622.3,386.1 620.9,387.1 620.4,392ZM640,264.4 639.4,262.8 638.9,263.1 633.9,265.6 631.4,264.8 631.4,265.6 636.1,268.2ZM613,228.6 614.2,229.6 620.7,227.4 619.7,224.4 619.6,224.5 617.1,227 615.4,223.7 616.1,222.1 614,222.1ZM688.4,366.5 688.9,364.8 686.5,360.5 682.3,362 681.2,365.1 683.5,368.8ZM695.4,480.4 694.2,479 692.5,476.8 689.9,472.5 688.9,473.4 687.3,479.8 691.4,483ZM553.5,371 551.1,371 548.6,374.8 551.1,379.5 554.4,378.4 556.1,373.8ZM197.5,157 201.2,155.7 205.4,148.3 200.2,143 192.8,146.7ZM721,336.7 717.7,333.7 715.4,335.3 715.2,337.2 717.8,339.5 720.6,338.5ZM648.4,315.5 645.9,317.7 646.2,321.4 646.3,321.5 649.8,321.6 651.6,319.7 650.8,315.9ZM717.1,320.8 719,321 721.2,318.2 720.2,315.3 714.9,316.9ZM739.9,300.7 743.5,300.6 744.1,298 743.9,295.5 740,295.4 737.9,299.1ZM421.3,538.6 415.7,531.7 409.9,533.6 410.1,534.3 412.7,540.2 418.5,542.7 419.3,543.1ZM601.2,355.7 596.8,353.8 595,355.6 595.2,358.1 598.8,360.2 601.5,356.7ZM525.8,388 527.3,393.2 530.9,394.2 533.8,391.6 532.1,386.7 526.2,387.3ZM410.3,482.7 416.7,486.7 420.3,478.4 414.7,473.9 413,474.8ZM330.2,354.7 321.9,357.1 319.9,359.8 319.9,361.1 333.2,371.7 333.8,371.5 336.2,368 335.8,357.8ZM742.1,261.3 745.9,258.1 745.6,255.4 744,253.8 740.1,255.6 739.6,258.9 742,261.3ZM748.6,225.6 752.6,228.1 756,225.9 755.5,220.9 752.4,219 748.3,221.6ZM651.7,354.9 653,358.8 658.2,357 657.9,354.8 654.9,353.1ZM685.9,386.8 683.7,384.3 679.8,384.9 678.5,388.9 681,391.7 685.1,390.7ZM526.9,318.1 533.1,315.4 533,311.9 526.3,309.6 525.7,309.9 525.8,317.2ZM329.7,375.8 317.4,377.4 314.1,385.8 327,391.7 331,389.2ZM583.8,359.9 584.4,355.1 581.2,353.8 578.7,355.6 578.8,358.6 582.2,360.4ZM213.6,188.4 208.1,185.9 209.9,182.1 211.3,178.4 206.8,185.3 206.8,185.3ZM705,388.8 709.6,386.7 709.3,384.2 705.6,381.9 700.9,384.1 701.2,386.5ZM647.6,447.4 643,443.9 640,449 642.4,451.5 644.4,451.6ZM578.9,392.5 582.6,390.9 583.3,388 580.5,384.7 579.2,384.6 575.8,387.5 575.8,389.7ZM492.9,397.7 492.8,404.1 498.1,405.2 500.1,398.7 495.3,396.8ZM739.9,300.7 739.3,304.8 740.4,305.8 742.8,306.2 743,302.6 743.5,300.6ZM678.6,234.8 677,238 680,241.3 683.8,240.6 684.9,238.1 683,234.6ZM578.7,433.1 583,429.5 579.3,423.6 578.9,423.6 574,428.1ZM676.4,261.7 676.7,264.5 683.5,266.3 684.2,260.5 680.9,258.4ZM515.5,434.6 508.3,436.2 509.3,441.3 510.8,442.4 515.5,440.6 515.9,434.8ZM485.3,316.8 486.4,310.2 485.4,309.6 482.8,309.8 479.4,313.9 481.5,318.1ZM667.1,414.9 662.2,417.1 661.8,418.1 663.5,421.8 664.2,422.1 668.1,421 668,415.5ZM789.5,164.4 783.9,167.4 781.2,158.6 777.1,163.1 778.8,170 779.5,170.6 789.4,165.7ZM663.4,434.7 666.1,435.2 666.4,435 667.2,428.5 665,427.7 663.3,428.4 661.9,432.8ZM590.3,391.1 587.3,386.7 583.3,388 582.6,390.9 586.4,394.5 589.8,392.7ZM128.4,133.6 128.9,137.7 126.9,140.2 127.2,142.8 125.9,144.9 132.7,146 138.1,140.5 137.9,138.7ZM457.1,456.9 451.3,454.5 449.6,461.4 452.6,463.3 456.5,461.8ZM711.8,228 704.8,227.9 704.5,234 705.6,235 710.4,234.3 712.3,229.7ZM663.9,309.5 664.9,307.7 662,303.7 659.1,303.7 658.4,310.1 658.8,310.7ZM766.4,224.1 767.8,223.3 767.9,216.6 764.4,215 761.2,216.7 760.5,218.9 763.3,223.6ZM510.3,391.5 511.7,385.1 510.9,384 504.5,384.4 503.9,390 509.1,392.2ZM723.5,373.2 725,375 726.9,372.5 729.6,369.8 727.5,367.3 724.5,368.1ZM677.9,440 675.9,442.4 676.9,446.7 683.5,444.8 683.5,443.3ZM618.1,443.9 612.8,445.1 610.9,448.4 611,448.7 618,452.5 620.6,447.6ZM717.8,339.5 715.2,337.2 712.5,338.9 713.1,342.3 716.7,343ZM675.4,463.4 673.9,468.9 679.6,471.1 683.4,465.7 678.2,462.3ZM709.4,299.6 711.2,295.9 711.1,295.5 706.9,293.6 704.9,294.6 704.7,298 707.2,300.3ZM552.2,446 547.6,442.6 543.2,445.3 547.6,450.7 551,450.2ZM733,363.9 734.1,367.9 735.3,367.4 740.3,364.4 734.4,363.3 734.6,363ZM626.6,399.1 623.3,398.9 622.5,405 624.9,405.8 628.5,402.4ZM733.5,290.2 734.2,293.3 738.4,293 740,289.3 739.9,289.1 735.9,287.7ZM678.6,451.3 676.2,454.9 679.4,458.3 683.9,457.2 683.5,455 683.5,451.5ZM672.6,290.6 676.4,292.8 677.9,292.3 679.2,287.8 675.5,284.7 674.3,284.8ZM554.8,444.6 555.2,440.1 550.8,437.5 548.2,439.4 547.6,442.6 552.2,446ZM625.5,317.8 629.6,319.3 629.8,319.1 630.5,313.2 628.1,313.4 624.7,314.9ZM728,283.8 726.9,284.6 728,290.4 730.9,289.1 731,285.2ZM636.8,335.9 637.6,340 639.5,340.5 642.4,338.1 642.4,336.8 639.1,334.7ZM736.5,347.5 739.8,346.9 740.7,344.9 739.1,345 740.4,343 740.5,342.5 736.8,341.7 734.8,346ZM500.9,415.6 503.6,414.3 504.8,409.2 503.8,407.4 499,406.5 496.3,412.4ZM618,404.7 615,405.7 614.2,412.1 614.3,412.2 620.3,412.5 620.5,405.7ZM696.4,403.1 698.1,399.7 695.7,396.4 691.9,396.6 690.3,402.2 692.6,404ZM680.9,436.6 683.8,436.9 684.3,431.2 679.8,431 679.2,431.5ZM451.5,483.8 457.3,487.5 460.3,485.6 461.1,479.9 455.5,477.6ZM613.7,374.8 614.8,377.2 619.5,378.5 621.8,375.2 617.4,371.9ZM353.1,410.6 349,406.5 345.3,407.6 343.7,416.3 351.6,418.1ZM424.8,428.1 429.7,427.9 431.1,424 425.5,420.8 422.2,423.6ZM700.2,248.9 702.4,248.1 702.5,242.3 698.3,240.3 694.9,242.7 695.5,246.8ZM577.8,344.1 572.5,343.9 572.2,344.3 571.9,347 575.8,350 577.8,348.9 578.1,344.3ZM728,365.3 732,363.4 730.5,359.2 725.2,361ZM633.4,325.1 635.5,322 633.4,319.4 629.8,319.1 629.6,319.3 628.8,322.4 631.1,325.4ZM685.2,349.4 682.6,345.2 678.7,345.5 678,346.4 680.7,351.7ZM694.9,364.3 694.7,369.9 696.3,370.8 700.4,369 699.3,363.9ZM622,455.8 618.2,453.2 614.2,457.3 614.7,461.3 619,462.1 622.3,459.6ZM663,357.9 658.9,357.7 658.2,362.5 659.9,363.9 663.8,362.5ZM744.6,279 745.3,274.2 744.4,273.5 741.3,273.6 738.6,277 739.4,278.6 743.8,279.5ZM651.3,341.7 653.6,343.9 655.6,343.7 657.8,339.9 657.5,338.8 655.3,337.4 651.5,339.1ZM674.4,389.7 678.5,388.9 679.8,384.9 676.5,381.4 673,383.8 672.8,387.9ZM339.8,293.6 334.5,291.6 330.3,298.6 332.6,304.6 341.2,304.5 341.4,304.3ZM363.1,302.6 360,301.6 352.1,306.2 352.9,310.5 361.9,313.4 364.9,308.3ZM740.4,305.8 738.2,310.2 741.1,311.7 741.5,310.7 742.8,307.2 742.8,306.2ZM679.3,358.7 682.3,362 686.5,360.5 686.8,359.9 685.6,356.2 680.6,355.1ZM589.1,337.1 592.5,337.3 593.5,334 590,330.5 588.7,330.4 587.4,334.3ZM113.8,198.3 118.1,206.6 126.6,201.8 123.4,191.8 116.7,192.8ZM591,401 595.2,405.3 599.4,402.1 598.9,399.6 594.1,396.8ZM496.4,370.2 495.5,371.2 497.8,376.5 504.1,376.3 504.4,376 504.4,375.8 501.7,369.7ZM655.2,369 655.2,369.1 656.1,374.1 660.1,375 661,374.2 661.1,369 659.8,368ZM476.6,452.5 481.7,454.4 485,448.1 483.3,444.8 483.2,444.8 476.9,447.2ZM605.6,360.8 601.5,363.6 605,367.6 608.5,365.1 608.5,363.1ZM669.1,349.8 667.9,348.2 664,348.2 661.9,351.5 664.9,354.6 669.1,350.6ZM590.9,443.6 593.3,440.5 591.2,436 587.3,435.5 584.6,438.2 588.3,444ZM663.3,428.4 665,427.7 664.2,422.1 663.5,421.8 658.3,424.5 659.3,427ZM638.5,418.3 637.5,416.4 633.2,416.9 632.4,418.8 634.3,422.5 637.1,422.2ZM675.4,436.3 672.1,436.7 671.1,441.3 671.1,441.3 675.9,442.4 677.9,440 678,438.8ZM473.2,346.3 467.2,343.5 464.8,347.7 467.1,351.5 473.2,349ZM604.5,442.8 599.3,443.3 597.7,448.6 602.3,450.8 606.2,447.1ZM578.7,355.6 575.2,353.9 572.9,358.6 576.5,360.3 578.8,358.6ZM687.2,297.4 686.3,293 684.8,292.3 681,294 681.2,298.5 683.5,299.5ZM630.5,402.9 631.3,406.8 635.4,407.4 636.5,406.4 635.9,402.9 632.2,401.8ZM689.9,373.6 685.9,373.5 683.4,377.6 685.1,380 689.3,380.1 691.8,377.3ZM728.5,326.8 728.5,327.1 732.3,330.2 732.4,330.2 734.4,327.3 733.3,327.4 731.9,323.9ZM531,370.8 534.6,374.1 539.6,371 537.8,365.9 536.9,365.5 531.7,367.7ZM632.2,466.7 627.6,468 627.7,473.8 628.8,473.5 634.7,470.6ZM690.9,556.9 691.7,556.9 698.1,553.6 696.7,552.4ZM707.2,395 710.1,390.5 711.5,388.5 709.6,386.7 705,388.8 704.9,393.9ZM733,265.4 729.9,264.6 726.6,266.9 729,271.9 731.2,272 733.9,270.3ZM330.8,307 322.4,307.8 321.2,309 324.5,318.2 332.6,315.2ZM311.8,305.7 312,304.8 313.8,304.6 313.8,299.4ZM635.7,447.5 631.5,446.9 627.7,451.4 627.9,452.7 628.7,453.5 634.8,453.3 636.6,448.7ZM699.5,305.9 699.5,303.2 694.8,302.1 692.9,304.2 693.8,306.8 697,307.8ZM216.4,131.8 223.4,129.4 222.7,124.3 212.8,121.1 211.2,122.8 210.8,126.7ZM721.5,270.5 725.6,266.7 722.9,263.2 717.7,264.4 717.3,267.9ZM493.7,446.2 492,449.4 496.5,454 500.4,452.4 501.2,447.2ZM706.9,358.8 709.3,353.7 707.6,351.9 703.6,352.4 702.8,356.3ZM504,398.7 506.1,403.4 511.2,403.3 512.8,399.9 508.5,395.9ZM597.4,374 594.4,370.3 591.8,370.9 591,373.8 593.7,376.8 596.5,376.5ZM613.8,332.6 611.3,331.8 608.9,334.2 610.2,338.2 612.2,337.9 614.6,335ZM628.9,351.4 628.3,352.1 629.9,357.1 634.7,355.2 634.2,352.2ZM612.2,337.9 610.2,338.2 610.1,338.4 611.1,343.1 613.8,343.8 616.1,341.1ZM656.1,323.7 657.4,324.6 662,322.6 660.1,318.1 657,318.1 655.3,320.4ZM536,340.3 538.8,338.4 538.2,332.8 536.4,332.1 533.4,332.8 532.6,338.7ZM652.1,415.8 651.1,415.1 648.7,415.8 647.5,419.6 649.7,422.2 650.7,422 653,419.6ZM689.1,248.9 686.3,253 688.4,256.1 693.7,255.1 694.1,254.5 692.6,249.6ZM514.9,478.7 512.1,477.4 506.9,482.9 506.8,483.1 509,483.7 514.8,484.2ZM733.2,346 729.9,349.9 729.9,350.4 734.1,352.4 736.2,351 736.5,347.5 734.8,346ZM402.3,449.4 401.8,450 402.5,455.7 409.9,456.4 411,451.7 409.1,449.4ZM200.6,139.9 206.6,136.5 205.9,130 199.9,127.9 196.5,135.2ZM547.9,402.8 544.7,400.6 541.7,401.6 540.1,406.2 543.2,408.4 548,406ZM652.7,314.4 651.9,310.4 647.7,309.9 646.6,311.5 648.4,315.5 650.8,315.9ZM702.8,317.3 701.5,314.9 696.9,317.1 698,319.9 701.3,320.8ZM674.2,348.4 669.1,349.8 669.1,350.6 672.4,355.8 672.7,355.9 675.7,353.1ZM715.9,326.3 718.9,326.3 720.5,323.3 719,321 717.1,320.8 714.6,323.6ZM623.3,398.9 626.6,399.1 628.6,396.7 627.3,392.6 626.2,392.1 623.3,393.4 622.9,398.6ZM642.1,321.7 639.8,318.6 635.9,322 640.2,325.5 640.2,325.5ZM118.5,338.3 113.8,339.5 114.3,340.6 114.8,344.8 113.2,350.7 113.5,354 118.5,355.7 121.2,356.7 126.2,346.8ZM652.1,400.6 651.2,398.3 648.9,397.6 645.9,400 647.5,404.1 649.9,404.6ZM435.1,437.2 434.9,431.9 430.9,430.4 427,435.8 430.6,438.8ZM718.1,332.1 720.4,330.6 721,329 718.9,326.3 715.9,326.3 714.3,329.1ZM272.9,428 280.2,429.1 280.2,433.3 280.5,441 280.5,441.3 281.1,436.3 287.6,436.8 285.8,430ZM268.2,441.8 280.2,443.3 280.4,442.5 268.5,441.7 268.6,440.7ZM589.7,459 588.8,452.8 588.8,452.7 582.2,455 581.7,458.3 583.6,460.1 583.6,460.1 585.3,457.6 587,458.4 588,460.6ZM577.5,407.7 582.5,409.3 585.5,406.5 580.5,400.9 577.3,403.3ZM527.2,465.1 524.2,460 522.7,459.7 518.9,463.5 520.7,469 523.9,469ZM649.5,364.9 649.6,369.6 650.2,370 655.2,369.1 655.2,369 653.9,364.1ZM554,424.4 550.5,422.5 547.3,427 548.9,429.4 553.8,428.5ZM569.9,424.2 571.8,419 570.4,417.9 564.4,418.3 563.8,422.1 566.3,424.7ZM684.2,260.5 687.5,259.2 688.4,256.1 686.3,253 683.9,252.8 680.7,256 680.9,258.4ZM339.1,335 335.7,343.5 341,346.7 336.3,343.8 336.4,343.1 345.6,335.6 345.7,335.5ZM676.5,315.9 681.3,320.1 681.8,320 683.8,315.1 678.3,313.8 676.6,315.5ZM641.5,344.7 645.5,341.4 645.4,340.5 642.4,338.1 639.5,340.5 641.1,344.5ZM571.4,384.4 575.4,380 572.5,377 569.2,378.2 568.6,382.1 571.2,384.4ZM740.5,222.2 741.6,227.8 744.1,228.7 748.6,225.6 748.3,221.6 744.2,219.5ZM666.3,440.2 665.1,441.2 665.2,446.1 670,445.9 671.1,441.3 671.1,441.3ZM672.4,421.1 669.7,421.9 669.9,426.7 674.8,426.5 676.1,424.7ZM441.7,473.1 438.9,476.2 440.9,481.8 446.6,480.2 447.5,474.6ZM668.6,325.5 670.7,322.3 669.7,320 666.6,319.5 663.2,323.1 664,324.5ZM711.1,295.5 713,291.3 710.2,288.1 707.9,289.1 706.9,293.6ZM624.4,360.2 619.2,360.5 618.6,361.7 620.8,365.7 625.3,363.9ZM691,485.7 691.4,483 687.3,479.8 683.1,481.1 682.6,486.9 685.7,488.2ZM712.1,278 706.7,281.2 706.7,281.2 711,285.9 714.6,284.1ZM502.7,443.6 502.3,446.3 508.1,449.2 511.2,446.9 510.8,442.4 509.3,441.3ZM693.7,255.1 694.8,261.6 696.1,262.3 701.6,257.6 698.1,254.1 694.1,254.5ZM620.1,344.8 621.8,344.5 623,339.8 618.5,338.7 616.8,340.9ZM606.5,327.7 607,328.7 610.5,329.6 612.7,326.5 611.6,324.8 607.9,324.8ZM631.1,391.1 627.3,392.6 628.6,396.7 632.8,397.1 632.9,397 633.4,393.4ZM601.8,327.9 601.7,331.5 604.7,333.5 605.5,333.2 607,328.7 606.5,327.7 602.9,327.1ZM694.9,364.3 693.9,363.5 688.9,364.8 688.4,366.5 691.6,370.6 694.7,369.9ZM704.9,294.6 702.5,293.4 698.9,295 698.3,296.7 700.7,299.8 704.7,298ZM700.4,362.6 699.3,357.8 698.5,357.4 693.7,359 693.9,363.5 694.9,364.3 699.3,363.9ZM701.8,321.7 706.2,321.7 707.6,317.9 707.6,317.8 702.8,317.3 701.3,320.8ZM688,317.5 690.5,315.8 690.1,311.9 684.8,312.9 684.1,314.9ZM651.3,411.3 651.1,415.1 652.1,415.8 656.3,414.9 657.2,413.2 655.7,410.3ZM673.3,303.7 673.1,303.9 673.6,308.8 677.4,309 678.8,304.6 678.3,304ZM723.1,279.2 723.5,274.4 721.9,273.1 716.4,276 719.2,280.2 721.8,280.4ZM587.3,339.7 589.1,337.1 587.4,334.3 583.2,335.2 582.7,338.7 582.9,339ZM190.3,169.6 194.6,166 195.6,168.7 192.5,173.3 196.7,176.4 195.9,175.8 199,173.8 197.6,168.7 201.4,166.7 205,169.4 197.4,163.6ZM750.6,276.4 752,271.4 752,269.8 749.9,270 746.7,274ZM180.7,113.2 172.1,114.6 172.3,120.8 179.9,123.5 183,118.7ZM264.6,223.4 259.7,234.9 260.8,232.4 265.2,234.6 271,232.9 269,224.7 273.6,226.2ZM603,344.1 601.7,341.6 598.1,341 596.2,344.5 598.3,346.4 602.8,344.7ZM656.3,414.9 657.8,418.7 661.8,418.1 662.2,417.1 660.4,413.1 657.2,413.2ZM766.3,188.9 761.2,183.2 758,184.3 757.1,189.7 759.5,191.5ZM527.8,435.7 525.4,438.5 528.1,443 533.4,443.2 533.9,442.5 533.3,436.3ZM772.1,210 770.5,215.6 775.3,218.4 778.2,217.6 775.9,209.6ZM702.5,517.7 706.2,517.3 707.4,512 702.7,509.8 699.6,514ZM491.1,410.1 487.5,411.4 486.5,414.6 488.5,417.8 492.3,418 495,412.7ZM692.4,408.4 691.4,409.4 692.5,414.9 695.9,413.2 698.4,410ZM563.8,422.1 559.4,423.6 559.9,427.8 564.4,429.8 566.3,424.7ZM750,240 751.8,240.3 755.5,237.2 755.6,234.3 752.5,231.8 746.6,234.7ZM785.5,133.9 786.7,126.6 782.2,129.4 777.5,126 775.5,131 774.2,134.9ZM649.7,351.4 650.8,354.5 651.7,354.9 654.9,353.1 654.7,349.9 652.1,348.6ZM371.2,456.2 370.1,457.2 369.7,461.2 378.4,463.5 380.8,456.3 378.9,454.1ZM656.1,384.9 652.3,386.1 653.4,391.3 659.5,389.1 659.6,388.4ZM257.8,152.8 256.8,148.6 258,147.7 256.6,142.9 249.3,141.3 245.2,145.8 248.7,153.5 257.6,153.2ZM599.1,361.9 593.9,364.3 595.8,368 598.6,367.8 600.7,363.6ZM731.9,298.5 734.3,296.8 734.1,293.5 729,294.2 729.7,296.7 729.4,298ZM532.1,332.1 530.1,327.6 526.2,328 524.7,333.3 525.3,334.9ZM612.4,267 612.1,262.7 611.9,262.5 607.1,263.3 606.6,267.7 607.9,268.7ZM591,373.8 591.8,370.9 589.8,369 586.4,369.8 585.1,373.4 587.9,375ZM626.5,408.6 624.8,411.8 627.4,414.6 631.4,413.3 631.6,412.9 629.6,408.7ZM646.5,350.7 644.9,352.7 646.7,356.6 650.8,354.5 649.7,351.4ZM531.1,359.6 529.1,364.4 531.7,367.7 536.9,365.5 534.7,360.2ZM689,325.5 691,322 687.9,319.4 684.6,321.7 685.1,324.1ZM792.4,229.1 793.1,228.7 796.6,226 795.6,224.7 792.3,226.2 790.8,227.1ZM720.9,299 725.2,299.1 724,293.5 720.1,296ZM474.8,425.7 474.2,431.9 474.3,432 480.1,432.3 482.3,428.5 479.8,424.1ZM427,435.8 426.3,435.7 421.5,441.5 423.7,443.9 429.8,443.4 430.6,438.8ZM564.1,202.7 565.3,197 560.3,194.4 557.4,197 558.1,203.3 558.2,203.3ZM646.2,321.4 645.9,317.7 642.7,316.2 639.8,318.6 639.8,318.6 642.1,321.7ZM666.2,406.7 668.6,408.8 672.3,408.4 670.8,401.8 666.3,403.3ZM565,371.8 565.3,367.5 560.8,366 559.3,367.3 560.6,372.5ZM535.3,185.2 540,182.1 540.7,177.6 536,180.2 530.7,182.9ZM492.5,425.4 495.1,427.6 498.4,426.9 500.1,420.9 499.8,420.4 494,420.2ZM739.6,352.5 736.2,351 734.1,352.4 734.4,356.7 735.4,357.2 737,354.9 740.5,354.2ZM706.9,293.6 707.9,289.1 703.7,287.2 701.9,288.7 702.5,293.4 704.9,294.6ZM685.1,390.7 681,391.7 680,395.5 683.6,398.9 688.3,393.9ZM717.9,352.8 718.2,349 716.6,347.4 713.1,348.2 713.1,353.9 713.6,354.2ZM648.8,434.2 648,435.5 650.1,440.3 652.6,439.9 654.4,436.3 652.1,433.8ZM649.7,446.4 654.7,445.6 654.9,441.9 652.6,439.9 650.1,440.3 649.5,441ZM543,423.2 546.6,419.5 542.8,414.6 542.4,414.7 539.2,421.6 539.4,421.9ZM691.3,227.4 697.3,227.1 696.6,220.3 690.5,221.1ZM755.5,220.9 760.5,218.9 761.2,216.7 756.5,212.6 752.3,215.6 752.4,219ZM589.2,356.1 591.2,354.3 590.9,351.6 586.8,350.2 585.5,354.6ZM701.1,312.2 702.1,307.8 699.5,305.9 697,307.8 697.4,311.2ZM699.8,335.2 700.6,335.2 704.1,330.2 704.1,330.2 699.6,328.9 697.6,330.8ZM707.1,332.8 705.5,336.4 708.3,338.9 710.4,338 710.5,334ZM668.9,396.9 669.7,394.6 666.9,391.1 663.3,392.6 663.6,397.6 664,398ZM157,399.6 168.8,401.4 180.5,402.8 170.6,382.9 172.6,387.1 167.9,386.1 170.5,382.9ZM720.5,323.3 724.3,323.6 723.9,319.1 721.2,318.2 719,321ZM440.9,170.1 444.4,174.6 447.1,175 449.2,167.8 445.2,163.5ZM143.9,144.5 144.1,151.2 153.1,152.1 155.7,144.9 150.2,140.9ZM716,373.6 716.6,373.7 719.1,372.3 719.8,366.2 716.8,364.9 715.8,365.3 713.6,370.5ZM632.4,418.8 633.2,416.9 631.4,413.3 627.4,414.6 626.3,418.9 626.8,419.8ZM552.1,482.1 550.9,485.6 552.3,487.9 552.6,487 556.8,486.5 557.2,486.8 557.6,482.7ZM676.4,511.3 676.1,505.2 671.4,504.1 671.1,508.3 673.3,512.5 674,513.4ZM313.2,297 302.3,296.7 302.2,296 304.6,306 307.1,305.9 307.1,305.4 312,304.8 314.3,297.7ZM607.9,324.8 611.6,324.8 612.4,321.6 608.7,319.9 606.7,322.3ZM452.6,463.3 449.6,461.4 446.2,462 444.9,466.2 449.6,469.9 452.2,468.1ZM221,196.7 226.6,191 214,191 214.7,195ZM685.9,414 684.9,415.1 686.9,421.4 689.2,419 690.9,415.7 691,415.6ZM730.1,336.2 729.3,332.9 726.5,331.7 723.9,334.2 723.9,334.7 726.8,337.7ZM629.7,245 628.3,247.1 630.3,250.8 632.2,248 633,245.5ZM638.9,396 642.5,396.8 644.6,393.7 642.3,390.9 638.1,391.9ZM744.5,244.1 741.2,248.5 744.1,252.1 747.8,249.7 748.1,247 745.7,244.2ZM614,351.4 613.8,347.9 608.9,347.7 608.3,348.5 608.7,351.4 612.1,352.8ZM414.5,459.1 410.5,457.5 406.3,465.3 406.3,465.3 413.1,466.5 415.8,462.8ZM508.2,321.4 508.3,321.5 515.6,320.5 512.2,313.6 508.9,315.2ZM606.8,353.4 603.1,352.6 601.2,355.7 601.5,356.7 605.4,358.7 607.5,356.7ZM604.2,195.9 599.3,196.9 599.4,203 604.6,203.1 605,202.6ZM576.5,363.5 573.1,364.5 571.8,367.9 575.9,369.5 578.7,365.3ZM478.9,358.6 476.7,358.3 473.6,362.9 476.8,366.5 481.4,364.9 481.6,364.5ZM604.5,195.5 610.4,197.4 612,195.3 610.4,194.4 605.4,192.3 605,192.3ZM542.9,388.3 540.2,387.7 536.3,392 538.6,395.5 543.6,394.1ZM449.9,251.2 449.3,245.5 447.6,243.8 442.8,248.4 446.9,254.4ZM542.3,478.9 545.1,480.9 550.5,478.7 550.7,478.2 546.8,472.2 544.3,472.2ZM453.9,494.2 455.2,500.3 460.2,503.2 461.8,494.6 456.8,492ZM711.7,253.6 705.8,249.7 705.5,249.8 703.2,257.7 704.3,258.6 711.1,256.1ZM497.1,435.5 502.5,430.8 502.2,429.5 498.4,426.9 495.1,427.6 494,433.1ZM484.7,391.2 482.4,394.4 485,399.7 490.7,396.8 489.2,392.2ZM482.6,332 478.8,334.3 478.7,337.5 484.7,340.2 486.1,334.4ZM556.1,373.8 554.4,378.4 558.3,380.4 561.6,378.3 559.8,373.5ZM643.9,331.1 647.6,330.4 648.9,327.7 645.9,325.4 643,327 643.5,330.9ZM661.8,408.4 662.1,410.8 666.5,412.8 668.6,408.8 666.2,406.7ZM741.1,348.6 739.6,352.5 740.5,354.2 741.1,354 744.5,349.8 744.7,349.3Z"/>
<path fill="#004b87" d="M346.9,173.4 354,175.7 356.5,173.7 357.2,165.7 357,165.6 350.3,164.7 349.8,168.7 346.9,169.1ZM350.2,155.9 346.1,163 347,164.3 357,165.6 357.9,156.7 357.6,156.4ZM358.6,147.9 350,146.8 347.6,149.8 350.2,155.9 357.6,156.4ZM358.6,147.9 358.7,147.8 359.5,139.5 349.6,138.6 350,146.8ZM363.4,192.7 364.3,184.1 363.9,183.6 355.4,183.3 356.2,192.1ZM354.8,182.9 355.4,183.3 363.9,183.6 364.6,178.8 359,179.6 360.5,174.3 356.5,173.7 354,175.7ZM357,165.6 357.2,165.7 365.4,165.9 366.3,157.9 365.8,157.3 357.9,156.7ZM357.9,156.7 365.8,157.3 367.2,148.7 358.7,147.8 358.6,147.9 357.6,156.4ZM358.7,147.8 367.2,148.7 367.4,148.6 367.8,140.3 367.4,140.2 359.5,139.5ZM372.7,185.1 364.3,184.1 363.4,192.7 363.5,192.9 371.8,193.8 372.2,193.5ZM373.4,176 365.1,175.5 363.9,183.6 364.3,184.1 372.7,185.1 373.4,184.6ZM366.1,166.7 364.7,175 365.1,175.5 373.4,176 374.1,175.4 374.5,167.3ZM374.5,158.5 366.3,157.9 365.4,165.9 366.1,166.7 374.5,167.3 374.7,167.1ZM375.4,149.6 367.4,148.6 367.2,148.7 365.8,157.3 366.3,157.9 374.5,158.5 375.1,157.9ZM367.4,148.6 375.4,149.6 375.6,149.5 376.4,140.9 367.8,140.3ZM381.6,185.3 373.4,184.6 372.7,185.1 372.2,193.5 380.2,194.7 381.3,193.8ZM382.6,176.6 374.1,175.4 373.4,176 373.4,184.6 381.6,185.3 381.9,185ZM374.7,167.1 374.5,167.3 374.1,175.4 382.6,176.6 382.9,176.3 383.2,167.3 383,167.1ZM383.8,159.1 383.4,158.6 375.1,157.9 374.5,158.5 374.7,167.1 383,167.1ZM384.3,150.2 384,149.8 375.6,149.5 375.4,149.6 375.1,157.9 383.4,158.6ZM384.6,141.6 376.4,140.9 375.6,149.5 384,149.8ZM390.6,185.8 381.9,185 381.6,185.3 381.3,193.8 388.3,195 390.2,193.7 391,186.4ZM390.9,176.7 382.9,176.3 382.6,176.6 381.9,185 390.6,185.8 391.8,177.6ZM392,168 383.2,167.3 382.9,176.3 390.9,176.7ZM392.5,159.3 392.5,159.2 383.8,159.1 383,167.1 383.2,167.3 392,168 392,168ZM392.5,159.2 392.8,150.7 384.3,150.2 383.4,158.6 383.8,159.1ZM384,149.8 384.3,150.2 392.8,150.7 392.8,150.6 393.3,142.2 385,141.6 384.6,141.6ZM399.5,186.7 391,186.4 390.2,193.7 397.2,196.1 399.1,194.9ZM392.8,150.6 401.6,151 401.6,151 402.2,142.8 401.8,142.8 393.3,142.2ZM399.9,186.4 399.5,186.7 399.1,194.9 405.6,196.6 408,194.7 408.5,187.4 408.1,186.9ZM410,160.6 409.7,160.4 401.5,159.9 400.6,168.4 408.9,169.5 409.7,168.9ZM410.5,151.6 410.3,151.4 401.6,151 401.6,151 401.5,159.8 401.5,159.9 409.7,160.4ZM401.6,151 410.3,151.4 410.6,143 402.2,142.8ZM408.5,187.4 408,194.7 414.3,197 417.1,195.2 417.3,187.4 417.3,187.4ZM408.1,186.9 408.5,187.4 417.3,187.4 417.5,178.3 409,178.1ZM408.9,169.5 408.6,177.6 409,178.1 417.5,178.3 417.8,178.1 418,169.8 409.7,168.9ZM418,169.8 418.2,169.6 418.8,161 418.4,160.7 410,160.6 409.7,168.9ZM418.4,160.7 418.3,151.8 410.5,151.6 409.7,160.4 410,160.6ZM410.3,151.4 410.5,151.6 418.3,151.8 418.9,151.3 419.2,143.3 418.5,143.3 410.6,143ZM426,187.8 417.3,187.4 417.1,195.2 422.7,197.3 425.7,195.6 426,187.9ZM417.3,187.4 417.3,187.4 426,187.8 426.6,179.1 426.3,178.8 417.8,178.1 417.5,178.3ZM426.3,178.8 427,169.8 418.2,169.6 418,169.8 417.8,178.1ZM418.2,169.6 427,169.8 427.3,169.5 427.1,160.9 426.9,160.7 418.8,161ZM418.4,160.7 418.8,161 426.9,160.7 427.3,152.4 427.2,152.3 418.9,151.3 418.3,151.8ZM418.9,151.3 427.2,152.3 427.7,143.4 419.2,143.3ZM425.7,195.6 430.9,198 432.3,197.2 433,188.2 426,187.9ZM435.6,161.1 427.1,160.9 427.3,169.5 435,170.2 435.2,170.1 436,161.4ZM427.3,152.4 426.9,160.7 427.1,160.9 435.6,161.1 435.9,152.1ZM427.2,152.3 427.3,152.4 435.9,152.1 436.2,151.8 435.8,143.6 435.3,143.6 427.7,143.4ZM439,178.9 444.4,174.6 440.9,170.1 435.2,170.1 435,170.2 435.2,178.8ZM444.9,162 444.4,161.5 436,161.4 435.2,170.1 440.9,170.1 445.2,163.5ZM353.8,207.2 350.6,206.9 351.3,200.5 342.8,200 343.2,211.2 347.7,214.2 353.7,209.1ZM341.5,198.2 342.8,200 351.3,200.5 352.1,192.7 345.6,190.6ZM359.9,235.7 348.3,234.6 346.4,238.6 349.4,244.6 358.2,244.4 359.1,243.6 360.3,236.2ZM347.5,225.8 348.3,234.6 359.9,235.7 360.7,228.2 360.8,227.2 360.6,227.1ZM361,218.2 348.9,217.9 347.5,225.7 347.5,225.8 360.6,227.1 361,222.6 361.2,218.4ZM347.7,214.2 348.9,217.9 361,218.2 361.4,215.3 361.6,210 353.7,209.1ZM368.5,236.7 360.3,236.2 359.1,243.6 366.5,245.5 368.4,244.3ZM376.5,244.6 377.4,237.5 377.2,237.2 368.7,236.6 368.5,236.7 368.4,244.3 373.3,246.1ZM379.7,203 379,211.5 387.6,212.1 387.9,204 379.7,203ZM387.9,204 388.5,203.5 388.3,195 381.3,193.8 380.2,194.7 379.7,203ZM395.2,229.7 395.1,229.6 386.5,229.3 385.8,237.7 394.9,238.5 395,238.4ZM387.1,220.1 387,220.3 386.3,229 386.5,229.3 395.1,229.6 395.6,221.1ZM390.2,193.7 388.3,195 388.5,203.5 396.2,203.6 397.2,196.1ZM396.8,212.7 404.9,212.9 405.5,204.4 396.6,204 396.5,212.4ZM397.2,196.1 396.2,203.6 396.6,204 405.5,204.4 405.6,204.2 405.6,196.6 399.1,194.9ZM413.8,204.7 405.6,204.2 405.5,204.4 404.9,212.9 405,213 413.2,213.6ZM421.6,240.1 421.1,239.6 412.1,239.3 412.4,246.3 416.5,248.4 420.8,246.9ZM421.8,213.4 421.8,205.3 414.1,204.5 413.8,204.7 413.2,213.6 413.2,213.6ZM421.9,205.3 422.7,197.3 417.1,195.2 414.3,197 414.1,204.5 421.8,205.3ZM429.6,231.6 421.5,230.9 421.4,231 421.1,239.6 421.6,240.1 429.7,240ZM429.6,231.6 430.2,231 430.7,223 429.9,222.2 421.9,222.4 421.5,230.9ZM430.7,214.1 430.4,213.9 421.9,213.5 421.5,222 421.9,222.4 429.9,222.2ZM421.9,213.5 430.4,213.9 430.4,205.4 421.9,205.3 421.8,205.3 421.8,213.4ZM430.4,205.4 430.7,205.1 430.9,198 425.7,195.6 422.7,197.3 421.9,205.3ZM439,231.4 438.7,222.9 430.7,223 430.2,231 438.6,231.9ZM439,214.1 438.9,214 430.7,214.1 429.9,222.2 430.7,223 438.7,222.9 439.4,222.3ZM439,207 438.2,205.7 430.7,205.1 430.4,205.4 430.4,213.9 430.7,214.1 438.9,214ZM430.9,198 430.7,205.1 438.2,205.7 440.2,199.6 438.4,197 432.3,197.2ZM433,188.2 432.3,197.2 438.4,197 440,191.7 438.4,188.8 435.1,187.3ZM446.5,213.9 447.9,207.5 447.2,206.7 439,207 438.9,214 439,214.1ZM358.1,253.1 347.9,251.7 345.1,255.3 345.2,256.1 355.5,261.9 357.8,259.9ZM365.1,260.2 357.8,259.9 355.5,261.9 355.6,267.3 364.4,267.9ZM370.4,283.7 371.1,276.3 363.9,275.4 361.4,277.4 364,283.9 369.7,284.4ZM371.1,276.3 371.1,276.3 371.7,268.5 364.6,268.2 363.9,275.4ZM371.7,268.5 371.8,268.5 372.4,261 372.3,260.9 365.1,260.2 365.1,260.2 364.4,267.9 364.6,268.2ZM365.3,252.7 365.1,260.2 372.3,260.9 373.2,253.4 373.1,253.3 365.3,252.7ZM377.8,292.1 377.3,291.6 370.7,291.4 368.1,294.3 368.2,298.1 375,301.4 377.5,299.3ZM378.2,284 370.4,283.7 369.7,284.4 370.7,291.4 377.3,291.6ZM378.4,283.9 378.3,276.7 378.3,276.7 371.1,276.3 371.1,276.3 370.4,283.7 378.2,284ZM378.3,276.7 378.9,269.4 371.8,268.5 371.7,268.5 371.1,276.3ZM372.4,261 371.8,268.5 378.9,269.4 379.3,269 379.7,261.6ZM380.1,253.7 373.2,253.4 372.3,260.9 372.4,261 379.7,261.6 379.9,261.4 380.4,254ZM373.2,253.4 380.1,253.7 380.7,247 376.5,244.6 373.3,246.1 373.1,253.3ZM383.5,313.7 383.7,307.6 375.3,306.6 373.5,309.4 375.3,317.1 375.7,317.4ZM377.5,299.3 375,301.4 375.3,306.6 383.7,307.6 384.3,307 384.7,300ZM385.1,292.2 384.9,292 377.8,292.1 377.5,299.3 384.7,300 385,299.7ZM385.2,284.7 378.4,283.9 378.2,284 377.3,291.6 377.8,292.1 384.9,292ZM385.2,284.7 385.6,284.4 386.1,276.9 385.9,276.7 378.3,276.7 378.4,283.9ZM379.3,269 378.9,269.4 378.3,276.7 378.3,276.7 385.9,276.7 385.9,269.8ZM386.6,269.2 386.9,262 379.9,261.4 379.7,261.6 379.3,269 385.9,269.8ZM379.9,261.4 386.9,262 387.2,261.7 387.4,254.2 380.4,254ZM387.4,254.2 387.5,254.1 387.5,246.7 385.5,245.2 380.7,247 380.1,253.7 380.4,254ZM384.3,307 383.7,307.6 383.5,313.7 387.1,315.7 388.7,315.1 389.7,307.7ZM384.7,300 384.3,307 389.7,307.7 391.8,307 392.2,300.2 392.1,300.1 385,299.7ZM392.1,300.1 392.3,292.3 385.1,292.2 385,299.7ZM392.3,292.3 392.5,292.1 392.5,284.9 385.6,284.4 385.2,284.7 384.9,292 385.1,292.2ZM395.1,309.1 399.2,307.4 399.4,300.7 399.1,300.3 392.2,300.2 391.8,307ZM392.1,300.1 392.2,300.2 399.1,300.3 400,293.1 399.8,292.7 392.5,292.1 392.3,292.3ZM393,277 393.3,277.4 400.4,277.8 400.5,277.7 400.8,270.2 400.7,270.1 393.8,269.8 393.6,269.9ZM401,262.4 394,262.1 394,262.1 393.8,269.8 400.7,270.1 401.4,262.9ZM406.9,301.1 399.4,300.7 399.2,307.4 401.9,309 406.8,307.6ZM407.2,293.8 400,293.1 399.1,300.3 399.4,300.7 406.9,301.1 407.2,300.8ZM400.7,270.1 400.8,270.2 408.3,270.6 408.5,270.5 408.8,263.1 408.8,263.1 401.4,262.9ZM407.2,300.8 406.9,301.1 406.8,307.6 409.3,309.4 415.3,307.7 415.5,302.1 414.5,301.1ZM423.5,270.8 430.1,271.1 430.8,263.8 430.7,263.7 423.2,263.7ZM437.3,294.2 429.9,294.3 429.8,301.3 431.1,302.4 435.6,301.7 437.5,294.3ZM437.8,271.5 430.7,271.8 430.1,278.8 430.2,278.9 437.8,279 438,271.7ZM443.4,295.6 444.7,294.5 445.3,286.7 445.2,286.6 437.2,286.8 437.2,286.9 437.3,294.2 437.5,294.3ZM444.8,279.6 437.9,279.1 437.2,286.8 445.2,286.6ZM377.5,352.7 373.1,352.4 368,358.5 370.5,360.7 377.3,360.4 377.5,360.3 377.7,352.9ZM377.5,352.7 378.2,345 371.7,344.8 369.9,348 373.1,352.4ZM378.4,344.8 378.5,337.8 371.6,337.1 369.4,339.4 371.7,344.8 378.2,345ZM378.8,337.6 379,330 373.1,328.6 370.8,329.5 371.6,337.1 378.5,337.8ZM377.5,360.3 377.3,360.4 377.4,368.8 384.4,368.7 384.5,368.6 384.6,361ZM384.9,352.8 377.7,352.9 377.5,360.3 384.6,361 384.9,360.8 385,352.9ZM385.4,345.7 378.4,344.8 378.2,345 377.5,352.7 377.7,352.9 384.9,352.8ZM386,338 385.8,337.7 378.8,337.6 378.5,337.8 378.4,344.8 385.4,345.7 385.7,345.5ZM379.6,329.7 379,330 378.8,337.6 385.8,337.7 386.3,330.3ZM384.6,361 384.5,368.6 391.2,369.3 392.3,368.5 392.4,361.1 391.9,360.7 384.9,360.8ZM384.9,360.8 391.9,360.7 392.6,353.4 385,352.9ZM392.6,353.4 392.8,353.2 392.9,345.9 385.7,345.5 385.4,345.7 384.9,352.8 385,352.9ZM393,338.1 393.5,330.7 386.5,330.2 386.3,330.3 385.8,337.7 386,338ZM388.7,315.1 387.1,315.7 386.6,322.4 386.8,322.6 394.2,322.9 394.2,322.9 394.4,315.6ZM389.7,307.7 388.7,315.1 394.4,315.6 394.6,315.4 395.1,309.1 391.8,307ZM392.3,368.5 398.4,369.5 399.3,368.8 400.1,361.7 399.6,361.1 392.4,361.1ZM392.8,353.2 400.1,353.9 400.1,353.8 400.5,346.5 400.1,346.1 392.9,345.8 392.9,345.9ZM400.1,346.1 400.7,338.8 400.4,338.6 393.4,338.6 392.9,345.8ZM400.7,331.3 393.6,330.6 393.5,330.7 393,338.1 393.4,338.6 400.4,338.6 400.8,331.3ZM401.5,323.5 401.3,323.3 394.2,322.9 394.2,322.9 393.6,330.6 400.7,331.3ZM394.4,315.6 394.2,322.9 401.3,323.3 402,316 401.9,315.9 394.6,315.4ZM401.9,315.9 401.9,309 399.2,307.4 395.1,309.1 394.6,315.4ZM405.6,369.9 407,368.9 407.2,362.3 406.8,361.9 400.1,361.7 399.3,368.8ZM407.6,346.7 407.4,346.4 400.5,346.5 400.1,353.8 407.3,354.1ZM400.7,338.8 400.1,346.1 400.5,346.5 407.4,346.4 407.6,339.2ZM400.8,331.3 400.4,338.6 400.7,338.8 407.6,339.2 408,338.9 407.9,331.5ZM408.7,324.1 408.5,316.1 402,316 401.3,323.3 401.5,323.5 408.6,324.1ZM408.5,316.1 408.8,315.8 409.3,309.4 406.8,307.6 401.9,309 401.9,315.9 402,316ZM413,370.3 413.4,370 413.5,362.1 407.2,362.3 407,368.9ZM406.8,361.9 407.2,362.3 413.5,362.1 414.7,361.2 414.4,354.7 414.3,354.6 407.4,354.3ZM407.6,339.2 407.4,346.4 407.6,346.7 415,346.8 415,339.5 414.9,339.3 408,338.9ZM408.3,331.2 407.9,331.5 408,338.9 414.9,339.3 415.5,332ZM408.3,331.2 415.5,332 415.8,331.8 416,324.3 415.5,323.8 408.7,324.1 408.6,324.1ZM415.5,323.8 416.2,316.8 408.8,315.8 408.5,316.1 408.7,324.1ZM416.2,316.8 416.3,316.7 416.3,308.7 415.3,307.7 409.3,309.4 408.8,315.8ZM414.4,354.7 414.7,361.2 419.9,362.9 421.8,361.8 422.5,354.9 422.1,354.5ZM422.7,339.5 422.7,339.4 415,339.5 415,346.8 415,346.8 422,347.4 422.4,347ZM414.9,339.3 415,339.5 422.7,339.4 422.6,332.3 415.8,331.8 415.5,332ZM415.8,331.8 422.6,332.3 422.9,332 423.2,324.7 423,324.6 416,324.3ZM423.1,316.7 423.1,316.7 423.5,309.2 423.4,309.1 416.3,308.7 416.3,316.7ZM415.3,307.7 416.3,308.7 423.4,309.1 424,302.1 422.1,300.5 415.5,302.1ZM429.6,355.4 429.1,354.9 422.5,354.9 421.8,361.8 427,363.3 429.4,361.7ZM422.5,354.9 429.1,354.9 429.6,347.5 422.4,347 422,347.4 422.1,354.5ZM429.7,347.4 429.7,339.8 422.7,339.5 422.4,347 429.6,347.5ZM430.4,332.3 422.9,332 422.6,332.3 422.7,339.4 422.7,339.5 429.7,339.8 430,339.6 430.4,332.3ZM430.4,332.3 430,324.5 423.2,324.7 422.9,332ZM423.1,316.7 423.1,316.7 423,324.6 423.2,324.7 430,324.5 430.1,324.4 430.3,317.2ZM430.5,309.5 423.5,309.2 423.1,316.7 430.3,317.2 430.3,317.1ZM430.8,309.3 431.1,302.4 429.8,301.3 424,302.1 423.4,309.1 423.5,309.2 430.5,309.5ZM437.4,332.1 430.4,332.3 430,339.6 437,340.2 437.6,339.7 437.6,332.2ZM430.1,324.4 430,324.5 430.4,332.3 430.4,332.3 437.4,332.1 437.5,324.8 437.4,324.7ZM430.3,317.1 430.3,317.2 430.1,324.4 437.4,324.7 437.5,317.1 437.5,317.1ZM437.6,309.9 430.8,309.3 430.5,309.5 430.3,317.1 437.5,317.1ZM437.6,309.9 437.9,309.6 438,303.4 435.6,301.7 431.1,302.4 430.8,309.3ZM437.5,317.1 444.6,317.3 445,309.8 437.9,309.6 437.6,309.9 437.5,317.1ZM445,309.7 445,302.5 444,301.5 438,303.4 437.9,309.6 445,309.8ZM452.3,309.5 452.3,302 445,302.5 445,309.7 451.6,310ZM452.3,302 452.3,309.5 459.2,309.9 460.2,308.9 460.1,304.4 453,301.4ZM466.6,339.9 465.1,332.3 459.1,332.4 458.9,332.5 459.4,340.1 466.4,340.1ZM405.6,377.1 405.6,377.1 398.4,376.7 398.1,377 398.2,384 405,384.5 405.2,384.4ZM405.6,377.1 405.6,369.9 399.3,368.8 398.4,369.5 398.4,376.7ZM405.2,384.4 405,384.5 404.3,392 404.6,392.4 411.9,392.4 412.1,392.2 411.9,385.2ZM412.4,384.7 412.4,377.1 405.6,377.1 405.2,384.4 411.9,385.2ZM412.4,377.1 412.5,377.1 413,370.3 407,368.9 405.6,369.9 405.6,377.1 405.6,377.1ZM418.7,408.1 412,407.8 410.8,414.3 411,414.6 418.5,415ZM418.9,407.9 418.8,400.2 411.9,399.9 411.8,400 411.2,406.9 412,407.8 418.7,408.1ZM411.9,392.4 411.9,399.9 418.8,400.2 418.9,400.2 419.1,392.4 419,392.3 412.1,392.2ZM412.1,392.2 419,392.3 419.8,385.6 419,384.8 412.4,384.7 411.9,385.2ZM419,384.8 419.7,377.8 419.6,377.7 412.5,377.1 412.4,377.1 412.4,384.7ZM419.6,377.7 419.9,370 419.6,369.7 413.4,370 413,370.3 412.5,377.1ZM414.7,361.2 413.5,362.1 413.4,370 419.6,369.7 419.9,362.9ZM425.8,415.9 426,415.7 425.9,408 425.8,408 418.9,407.9 418.7,408.1 418.5,415 418.7,415.3ZM426.2,400.5 425.8,400.1 418.9,400.2 418.8,400.2 418.9,407.9 425.8,408ZM425.8,400.1 426.1,393.2 419.1,392.4 418.9,400.2ZM419,392.3 419.1,392.4 426.1,393.2 426.6,392.8 426.7,385.4 426.7,385.4 419.8,385.6ZM426.7,385.4 426.3,378 419.7,377.8 419,384.8 419.8,385.6ZM426.3,378 426.8,377.5 427,370.4 419.9,370 419.6,377.7 419.7,377.8ZM421.8,361.8 419.9,362.9 419.6,369.7 419.9,370 427,370.4 427.1,370.3 427,363.3ZM425.5,420.8 431.1,424 433,422.9 433.1,415.9 432.9,415.7 426,415.7 425.8,415.9ZM426,415.7 432.9,415.7 433.4,408.4 433.1,408.1 425.9,408ZM433.1,408.1 433.5,400.6 433.4,400.5 426.2,400.5 425.8,408 425.9,408ZM426.2,400.5 433.4,400.5 433.6,393.4 426.6,392.8 426.1,393.2 425.8,400.1ZM427,363.3 427.1,370.3 433.9,370.3 434,370.1 434.1,363.5 429.4,361.7ZM433.4,408.4 440.3,408.6 440.3,408.5 440.6,401.1 440.5,401 433.5,400.6 433.1,408.1ZM440.5,401 440.6,401.1 447.6,401.1 447.9,400.8 447.5,393.6 440.8,393.3ZM439.1,360.5 441.5,363.1 447.9,363.1 448.3,362.8 448.2,356.1 444.1,354.4 439.2,357.2ZM455.5,378 455.6,377.9 455.4,370.3 455.2,370.1 448.5,370.5 448.1,370.9 448.2,378 448.3,378ZM455.3,422.3 460.9,424.8 462.4,424.1 462.4,416.1 455.3,416.1ZM462.6,400.8 462.1,393.4 455.4,393.4 455.4,393.4 455,400.4 455.5,400.9ZM462.4,424.1 466.5,425.2 470.6,422.5 471.1,418.8 469.9,416.5 462.5,416 462.4,416.1ZM469.5,377.8 469.9,378.2 476,378.4 477.8,373.4 475.4,370.4 469.9,370.9ZM338,432.2 339.5,436.3 341.9,437.2 345.2,437.3 347.6,435 347.3,424.8 341.3,424.1ZM350.5,432.1 351.1,425.2 349,425 348.3,434.2ZM355.4,443.3 357.5,440.5 357.6,438.4 355,438.4 355,439.1 354,439.1 354,443.1ZM350.5,432.1 348.3,434.2 348.1,437.5 356.5,438 356.7,432.5ZM345.2,437.3 347.6,437.5 347.6,435ZM351.1,425.2 350.5,432.1 357.9,432.6 358.7,425.6 351.4,425ZM351.6,418.1 351.4,425 358.7,425.6 358.8,425.5 359.3,418.2 359.2,418.2ZM359.4,411.1 353.1,410.6 351.6,418.1 351.6,418.1 359.2,418.2 359.5,411.2ZM363.2,364.1 363.2,357.2 362.6,356.7 351.4,362.6 352.3,364.9 356.3,367.2 361.2,367.8 362.9,367.5ZM365.5,433.5 365.3,433.3 358,432.8 357.5,440.5 364.8,438.4ZM358.8,425.5 358.7,425.6 357.9,432.6 358,432.8 365.3,433.3 365.8,426.4ZM358.8,425.5 365.8,426.4 366.3,426 366.7,418.9 366.6,418.8 359.3,418.2ZM359.2,418.2 359.3,418.2 366.6,418.8 367.2,411.8 359.5,411.2ZM367.4,404.4 367.5,404.2 367.5,397.7 360.9,396.7 360.5,396.9 359.9,403.9 360.4,404.5ZM361.4,389.6 360.9,396.7 367.5,397.7 368.5,396.8 368.6,390.1 368.4,389.9ZM368.7,382.5 361.9,382.3 361.3,389.6 361.4,389.6 368.4,389.9 369.3,383.2ZM362.5,374.8 361.7,382 361.9,382.3 368.7,382.5 369.3,375.6 362.6,374.7ZM370.2,368 362.8,367.9 362.7,368 362.6,374.7 369.3,375.6 369.4,375.6ZM368,358.5 363.8,357.7 362.8,367.9 370.2,368 370.3,367.9 370.5,360.7ZM373.1,433.7 373.2,426.8 366.3,426 365.8,426.4 365.3,433.3 365.5,433.5 372.7,434.1ZM366.3,426 373.2,426.8 373.4,426.5 373.9,419.1 366.7,418.9ZM369.3,383.2 368.4,389.9 368.6,390.1 375.9,390.5 376,383.2ZM376.4,382.8 376.4,376.1 369.4,375.6 369.3,375.6 368.7,382.5 369.3,383.2 376,383.2ZM377.2,369 370.3,367.9 370.2,368 369.4,375.6 376.4,376.1 376.6,375.9ZM370.3,367.9 377.2,369 377.4,368.8 377.3,360.4 370.5,360.7ZM373.5,448.2 371.2,456.2 378.9,454.1 379.6,449ZM380,441.3 372.6,441.6 372.1,446.5 373.5,448.2 379.6,449 380.2,448.5 380.1,441.5ZM372.3,441.2 372.6,441.6 380,441.3 380.1,434.4 373.1,433.7 372.7,434.1ZM373.1,433.7 380.1,434.4 380.7,433.8 380.9,427.2 380.6,426.8 373.4,426.5 373.2,426.8ZM373.9,419.1 373.4,426.5 380.6,426.8 381.3,419.7 381.3,419.6 374,419ZM375.5,397.3 382.6,398 383,390.8 382.8,390.6 375.9,390.5ZM378.4,463.5 382.2,467.7 386.4,463.9 386.7,456.3 380.8,456.3ZM379.6,449 378.9,454.1 380.8,456.3 386.7,456.3 386.9,456.1 387.1,449.5 380.2,448.5ZM380.1,441.5 380.2,448.5 387.1,449.5 387.1,449.5 387.7,442 387.3,441.5ZM387.9,434.6 380.7,433.8 380.1,434.4 380,441.3 380.1,441.5 387.3,441.5ZM387.9,434.6 387.9,434.6 388.7,427.6 388.4,427.2 380.9,427.2 380.7,433.8ZM380.9,427.2 388.4,427.2 388.8,420.6 388.4,420.1 381.3,419.7 380.6,426.8ZM381.3,419.6 381.3,419.7 388.4,420.1 389,412.9 381.8,412.3 381.6,412.5ZM382,405.3 381.8,412.3 389,412.9 389.2,412.7 389.4,405.8ZM381.9,405.2 382,405.3 389.4,405.8 389.5,405.7 389.7,398.3 382.7,398.2ZM389.7,398.3 389.7,398.3 390.4,391.5 389.9,390.9 383,390.8 382.6,398 382.7,398.2ZM383,390.8 389.9,390.9 390.4,383.8 383.1,383.6 383,383.7 382.8,390.6ZM383.9,376.5 383.1,383.6 390.4,383.8 390.5,383.8 390.9,377.1 384,376.4ZM384.4,368.7 384,376.4 390.9,377.1 391.2,376.9 391.2,369.3 384.5,368.6ZM382.3,469.7 385,471.4 385,465.1 382.2,467.7ZM389.5,474.3 394.2,472.7 395.5,470.8 395.6,466.4 393.6,463.9 386.4,463.9 385,465.1 385,471.4ZM386.7,456.3 386.4,463.9 393.6,463.9 394.6,457.6 394.2,457.1 386.9,456.1ZM386.9,456.1 394.2,457.1 394.8,449.7 394.4,449.3 387.1,449.5 387.1,449.5ZM388.4,427.2 388.7,427.6 395.9,428.1 396,427.9 396.2,420.7 396,420.4 388.8,420.6ZM388.4,420.1 388.8,420.6 396,420.4 396.5,413.5 396.3,413.3 389.2,412.7 389,412.9ZM389.5,405.7 396.5,405.8 396.8,399.1 389.7,398.3 389.7,398.3ZM389.7,398.3 396.8,399.1 396.9,399 397.4,391.5 397.3,391.5 390.4,391.5ZM389.9,390.9 390.4,391.5 397.3,391.5 397.5,384.6 390.5,383.8 390.4,383.8ZM391.2,376.9 398.1,377 398.4,376.7 398.4,369.5 392.3,368.5 391.2,369.3ZM402.9,436 402.6,435.7 395.5,434.9 395,435.3 394.8,442.3 394.8,442.3 402.3,442.6ZM403.8,413.6 396.5,413.5 396,420.4 396.2,420.7 403.6,421.1 403.6,421.1 404,413.8ZM404.2,399.1 396.9,399 396.8,399.1 396.5,405.8 396.9,406.2 403.7,406.2 404.5,399.5ZM397.4,391.5 396.9,399 404.2,399.1 404.6,392.4 404.3,392ZM398.2,384 397.5,384.6 397.3,391.5 397.4,391.5 404.3,392 405,384.5ZM404.3,407 403.8,413.6 404,413.8 410.8,414.3 412,407.8 411.2,406.9ZM404.5,399.5 403.7,406.2 404.3,407 411.2,406.9 411.8,400ZM411,421.2 417.5,421.6 418.7,415.3 418.5,415 411,414.6 410.8,421.1ZM446.9,200 440.2,199.6 438.2,205.7 439,207 447.2,206.7ZM440,191.7 438.4,197 440.2,199.6 446.9,200 447.3,199.7 447.4,191.8ZM455.3,151.8 453.9,150.5 448.5,152.4 451.6,159.7 455.2,159.7 455.4,159.5ZM455.2,207.8 454.8,215.7 455.3,216.1 463.4,215.6 463.2,207.8 463.1,207.7ZM463.1,200.1 455.1,199.7 455,199.7 455,207.6 455.2,207.8 463.1,207.7ZM463.1,167.4 463.2,159.8 455.4,159.5 455.2,159.7 455.2,167.6 455.6,168ZM463.5,151.8 463,151.3 455.3,151.8 455.4,159.5 463.2,159.8 463.2,159.8ZM466.9,232.8 471.3,231.6 471.8,224 463.4,223.7 462.9,224.3 463.3,231.5ZM463.7,215.8 463.4,223.7 471.8,224 471.9,223.8 471.5,216 471.3,215.8ZM471.3,207.4 463.2,207.8 463.4,215.6 463.7,215.8 471.3,215.8ZM471.5,216 479.3,215.2 479.1,207.9 471.4,207.4 471.3,207.4 471.3,215.8ZM470.9,143.7 471.2,151.3 478.7,151.4 480.7,149.5 480.5,149.5 476.8,147 476.3,143.5ZM470.9,143.7 476.3,143.5 475.5,138.6 471.8,137.7 470.6,143.4ZM449.4,264.1 451.5,268.9 455,269.2 455.5,268.7 455.3,263.1 451,263.1ZM461.3,297.4 461.2,297.3 455.4,297.4 453.3,299.7 453,301.4 460.1,304.4 461.4,303.1ZM461.2,297.3 461.4,291.7 461.2,291.4 455.2,291.7 455.4,297.4ZM467.5,303.4 472.9,303.4 473.2,303.1 473.3,297.6 467.3,297.4 467.3,297.4 467.1,302.9ZM467.3,291.7 467.3,297.4 473.3,297.6 473.3,297.6 473.3,291.7 473.2,291.6 467.4,291.6ZM473.4,285.9 473.4,285.8 472.9,280.2 472.9,280.2 467.2,280.5 467.2,286 467.3,286.1ZM466.9,239.8 472.5,240 472.7,239.9 472.8,232.6 471.3,231.6 466.9,232.8ZM473.3,297.6 473.2,303.1 479.3,303.4 479.4,303.2 479.2,297.6 473.3,297.6ZM479.2,297.6 479.2,297.5 479.1,291.7 473.3,291.7 473.3,297.6ZM478.4,234.4 476.5,232.7 472.8,232.6 472.7,239.9 478.1,240.2 478.4,239.8ZM479.4,303.2 485.3,303 485.3,302.9 485.3,297.7 484.9,297.3 479.2,297.5 479.2,297.6ZM484.9,291.7 479.2,291.6 479.1,291.7 479.2,297.5 484.9,297.3ZM489.1,310.2 491.2,308.3 491.1,303.1 485.3,302.9 485.3,303 485.4,309.6 486.4,310.2ZM491.1,297.2 491,297.1 485.3,297.7 485.3,302.9 491.1,303.1 491.3,302.9ZM484.9,291.7 484.9,297.3 485.3,297.7 491,297.1 490.8,291.7 485.2,291.4ZM491.1,303.1 491.2,308.3 496.8,309 498,303.8 497.2,302.8 491.3,302.9ZM497.2,302.8 497.1,297.2 497.1,297.2 491.1,297.2 491.3,302.9ZM490.8,291.7 491,297.1 491.1,297.2 497.1,297.2 496.9,291.3 496.9,291.2 491,291.5ZM498,303.8 502.9,303.5 503.5,302.8 503.1,297.1 503,297 497.1,297.2 497.2,302.8ZM503,297 502.9,291.5 502.8,291.3 496.9,291.3 497.1,297.2 497.1,297.2ZM509.3,302.2 509.3,296.8 509.2,296.7 503.1,297.1 503.5,302.8ZM509.2,296.7 508.7,291.1 502.9,291.5 503,297 503.1,297.1ZM507.1,250.9 507.3,250.7 507.1,245.1 507,244.9 501.4,245.2 501.4,245.3 501.5,250.9 501.8,251.1ZM509.3,302.2 510.9,303.7 514.9,303.1 516.2,297.4 515.1,296.5 509.3,296.8ZM509.3,296.8 515.1,296.5 514.6,290.8 508.8,291 508.7,291.1 509.2,296.7ZM516.2,297.4 520,296.9 520.7,295.3 520.7,290.4 515.1,290.2 514.6,290.8 515.1,296.5ZM525.5,249.1 531.5,248.9 531.6,248.7 530.9,241.8 523.8,241.6 523.1,242.3ZM523.6,234.9 523.8,241.6 530.9,241.8 531.7,240.8 530.9,234.2ZM522.8,220.4 530.2,219.9 530.4,219.7 529.7,212.8 522.3,213ZM528.7,198.4 528.6,198.4 521.9,198.6 522,205.8 522.2,206.1 529.1,205.5 529.5,205ZM526.2,300.4 528.8,304.6 533.6,304.7 533.8,298.2 533.7,298.1 527.9,298.4ZM533,292.1 527.7,292.5 527.3,293.8 527.9,298.4 533.7,298.1 533.5,292.5ZM539,298.2 533.8,298.2 533.6,304.7 533.8,304.8 539.8,304.2 539.8,304.2ZM533.5,292.5 533.7,298.1 533.8,298.2 539,298.2 539.3,297.9 539.1,291.7ZM545.3,303.6 539.8,304.2 539.8,304.2 540.2,310.4 545.9,310.1 546,309.9 545.6,303.8ZM545.2,297.5 539.3,297.9 539,298.2 539.8,304.2 545.3,303.6 545.3,297.6ZM553.5,328 553,327.6 547.6,328 547.7,333 552.9,334.7 553.9,333.6ZM552.3,315.3 551.8,309.5 546,309.9 545.9,310.1 546.5,315.9ZM545.6,303.8 546,309.9 551.8,309.5 552.1,309.2 551.4,303.5ZM550.8,297.2 545.3,297.6 545.3,303.6 545.6,303.8 551.4,303.5 551.4,303.5ZM551,297 550.8,291.2 550.7,291.1 544.6,291.5 544.5,291.5 545.2,297.5 545.3,297.6 550.8,297.2ZM553.4,339.9 553.1,342.2 556.9,345.7 560.8,344.8 560.5,339.4 560.2,339.2ZM558.2,309.3 557.8,309 552.1,309.2 551.8,309.5 552.3,315.3 552.5,315.4 558.3,314.8ZM551.4,303.5 552.1,309.2 557.8,309 557.6,303 557.2,302.6 551.4,303.5ZM560.8,344.8 561.5,345.4 565.4,345.1 566.8,343.3 566.4,338.7 566.3,338.7 560.5,339.4ZM558.9,321.2 564.5,320.7 564.7,320.5 564.4,314.8 558.4,314.8ZM558.4,314.8 564.4,314.8 564.5,314.7 564,308.8 563.6,308.5 558.2,309.3 558.3,314.8ZM563.6,308.5 563.3,302.7 557.6,303 557.8,309 558.2,309.3ZM564.5,314.7 570.2,314.2 569.8,308.3 569.6,308.1 564,308.8ZM590.2,244.8 589.3,238.2 584.9,238.7 585.3,239.6 586.1,244.6 586.2,245.3 590.1,244.9ZM295,178.2 288.1,179.6 284.4,185.4 287.3,191 289.5,191 288.6,179.6 297.8,180.5 297,191 292,191 290.9,194.4 297.9,192.7 301.5,182 301.5,181.9ZM184.9,164.6 190.3,169.6 194.6,166 193.9,164.2 185.6,162.9ZM179.1,165.5 184.9,164.6 185.6,162.9 185.6,162.9 176.8,162.6ZM264,221.8 268.5,222.8 269,224.7 273.6,226.2 281.6,219.6 278.8,212.5 266.3,209.9ZM188.7,223.5 178.4,230 179,234.1 191.8,237 192.5,235.5 193.6,227.9 193.9,226.3ZM179.5,238.3 189.5,241.7 190.2,240.1 190.6,237.9 179.1,235.2ZM527,424.2 526.4,429.7 526.9,430.1 534.2,429.5 535.3,428 530.9,422.7ZM355.9,322.5 357,322.4 359,320.1 355.1,320.1 354.3,320.9ZM262.4,248.1 265.7,252.2 266,252.2 266,252.4 279.8,250.8 279.1,238.8 275.8,236.7 264,240.4ZM391.7,495.8 395.9,504.6 398.8,503.7 399.2,500.8 403.8,500.8 403.4,493.5 396.7,491.8 391.5,495.4ZM240.6,145.6 236.8,151.9 238.4,154 242.8,152.2 243.7,146.8 242.9,145.7ZM424.3,506.6 424.3,506.2 421.2,502.5 419.4,502.5 419.4,511.1ZM365.4,308.4 365.4,309.1 363.6,311 363.6,316.5 367.8,319 375.3,317.1 373.5,309.4ZM269.8,279.8 267.9,289.5 270.4,293 275.5,294.1 276.1,287 276.1,287 277,279.4ZM233,168.2 231.8,176.9 240.5,180.2 241.1,179.5 240,178.8 238.4,173.8 240,168.7 239.9,168.4 234.3,167.3ZM236.5,137.1 235,135.2 235,134.4 234.2,134.2 233,132.5 230,133 228.8,132.7 229,133.2 227.6,133.4 228.5,141.5 230,143.3 236,140.7ZM164.3,231.7 162.1,231.2 160.4,239 160.8,239.2 162.3,238.6ZM165.4,228 161.6,223.8 151,225.8 150.8,226.6 152,227 164.7,230.4ZM318.7,175.6 316.5,172.4 310.4,172.1 310.4,170.9 308.3,171 301.5,181.9 301.5,182 307.6,184.3 315.2,183.2ZM252.3,234.3 253.4,241.3 247.4,240.1 247.3,246.1 251.2,250 262.4,248.1 264,240.4 259.7,234.9ZM287.6,327.1 297.8,326.4 298.5,323.1 297.5,321.6 290.9,320.9ZM328.3,157.8 335.1,155.7 329,156.2ZM525,157.5 530.9,163.3 531.3,163 535,159.5 533.3,158.3 529.1,157.3 525,157.3ZM502,316.9 504,321.1 508.2,321.4 508.9,315.2 504.5,313.5ZM340.4,149.6 337.9,154.8 338.9,154.5 349.8,155.2 347.6,149.8ZM227.9,189.8 226.6,191 230.1,191 229.9,190.4 228.6,189.7ZM338,432.2 341.3,424.1 341.1,422 332.2,421.5 332.2,429.3ZM196.8,183 204.6,186.2 206.8,185.3 209.1,177.1 204.8,171.6 196.7,176.4ZM552.8,362.7 548.4,358.5 543.8,363 546.4,366.8 548.3,367.2ZM319.8,296.1 320.9,290.6 318.2,285 309.6,282.7 309.1,282.9 306.9,293.4 313.2,297 313.8,297.1 313.8,297.4 314.3,297.7ZM119.7,259.9 128.1,260.6 128.5,260.1 126.9,255.5 119.5,258ZM326.9,205.2 323.2,204.4 313.8,211.6 315.3,221.4 329.4,223.6 332.5,213.7ZM424.3,506.6 419.4,511.1 419.4,511.7 425.2,511.7 425.2,507.6ZM154.9,189.8 152.8,191 157.7,191 157.1,190.2ZM147.9,204.5 152.4,207.5 164.4,201 164.6,200.6 162.8,198 155.4,198 149.6,196.9ZM430.5,496.1 422.8,494.8 419.1,499.8 424.3,506.2 430.8,500.9ZM242.5,263.3 242.1,264.1 246.7,264.7 250.4,262.3 249.2,261.5ZM435.3,510.2 437,510.8 438.2,509.1 437.6,508.6ZM434.5,520.7 440.3,520.9 441.1,518.4 432.8,515 432.3,518.3ZM144.8,293.8 143.9,293.4 143.7,295.4 144.4,297.9ZM266.2,209.7 253.3,209.2 251.1,211.7 251.8,217.8 251.7,217.9 252.2,219.8 253.4,219.5 264,221.8 266.3,209.9ZM100.2,270.9 95,272.2 96.7,278.1 98.7,283.2 99.3,285.4 104.2,283.8 107.5,276.2 107.1,275.4ZM223.9,157.6 229.6,154.2 219.9,155.2ZM100.2,270.9 107.1,275.4 106.8,274.8 101.8,268.1 101.7,267.9ZM272.9,428 280.2,429.1 280.2,422.4 287.5,420.9 282.7,411.7 277.8,411.2 275.1,411.6 271,418.3 270.4,423.8ZM309,228.3 308.7,231.2 312,236.9 321.5,240.6 330,236.6 330.9,225.9 329.4,223.6 315.3,221.4ZM270.5,142.8 263,137.2 261.7,137.4 260.2,139 261,145.3 258,147.7 258.9,151 270.2,148.9ZM309.6,265.6 297.2,268.1 299.2,280.1 309.1,282.9 309.6,282.7 313.4,269.4ZM282.1,141.1 281.9,141.9 277.7,140.2 275.9,138.7 270.5,142.8 270.2,148.9 271.7,150.9 285.2,150.3 285.1,142.5ZM531.8,399 533.7,400.2 537.9,398.3 538.6,395.5 536.3,392 533.8,391.6 530.9,394.2ZM278.6,329.7 270.3,335.7 271.6,340.2 281.3,342 282.8,331ZM115.5,322.3 107.1,324.9 109.3,328.9 116.8,330.6 120,331ZM257,317.9 250.1,327.4 251.8,329.2 260.1,330.6 257.3,334.7 257.8,335.3 264.9,333.1 265.2,320.8ZM191.6,193.9 192.6,185.8 182.5,181 178.4,186.8 184.3,195ZM296.2,250.4 305.6,250.4 312,236.9 308.7,231.2 294,237.4ZM376.5,475.1 375.6,479.8 375.8,479.8 380.8,483.2 383.8,485.6 385,484.7 385,479 385,479 385,471.4 382.3,469.7ZM388.5,482.1 389.5,474.3 385,471.4 385,479 385,479 385,484.7ZM247.3,246.1 235.4,249.1 233.8,254.3 242.5,263.3 249.2,261.5 251.2,250ZM235,307.8 235,299.9 235,299.9 235,307.8 243.5,309.9 246.7,297.4 236,291.2 228.6,298.8 230.6,306.7ZM331.6,443.5 331.8,450.9 338,455.1 339.7,454.2 342.1,456.2 344.1,456 347,443.6 346,441.7 343.9,439.1 336.4,439.1ZM201.2,155.7 205.7,158.3 205,155 201.5,155.3ZM210.6,161.1 211.9,159.3 209.9,159.5 209.8,160.6ZM233.8,254.3 228.2,256.7 228,259.6 227.5,262.2 235,263.1 235,260.6 235,260.6 235,263.1 242.1,264.1 242.5,263.3ZM159.1,305.8 152.7,307.4 152.3,308.4 152.9,308.8 160.4,310.5 159.4,306ZM272.6,189.9 274.6,197.4 282.2,200.8 285.8,201.3 288.6,196 286.1,196 287,191 287.3,191 284.4,185.4 277.1,185.3ZM342.7,264.4 345.2,256.1 345.1,255.3 335.6,251.7 327.3,257.2 327.6,260.8 334.8,267.3ZM353.3,348.5 352.6,346.1 346.9,343.6 341,346.7 341.1,348.2 352.4,350ZM243.6,310 243.5,309.9 235,307.8 235,323 240.4,322.2ZM230.6,306.7 227.5,311.4 235,313.8 235,307.8ZM295.3,165.9 284,165.2 282.1,170.8 288.1,179.6 295,178.2ZM170.4,198 164.6,200.6 164.4,201 168.4,212.4 175,214.2 176.6,213.4 180.5,203.9 180.2,202.8ZM173.4,243.3 162.3,238.6 160.8,239.2 159.9,240.9 158.7,246.3 165.4,249.7 173.4,252.6ZM218.9,184.7 227.9,189.8 228.6,189.7 230.4,177.9 219.2,176.2ZM175,214.2 173.7,226.6 178.4,230 188.7,223.5 187.3,218.4 176.6,213.4ZM334.8,267.3 327.6,260.8 319.6,269.7 325.3,277.5 327,277.8 334.2,272.6ZM255,290.7 267.9,289.5 269.8,279.8 267.9,277.3 258.3,276.8 256.8,287 253.9,287ZM301.3,144.8 294.2,152.6 299.3,162.8 301.2,162.9 309.1,155.9 308,153.7 302,153.7 303.2,144.4ZM99.3,285.4 99.7,287 99.8,287 109.1,287 104.2,283.8ZM112.1,290.9 112,288.9 110.9,288.2 106.8,288.7 107.5,295.9ZM112.1,290.9 114.8,292.9 114.3,287.8 112.9,288 112,288.9ZM331.6,443.5 336.4,439.1 328.8,439.1 328.6,442.2ZM339.5,436.3 338,432.2 332.2,429.3 332.2,436.6 338.7,437ZM323.5,320.2 324.5,318.2 321.2,309 315.1,309.6 312,317.2 312.8,319.7ZM257.8,335.3 256.9,337.5 271.6,340.2 270.3,335.7 264.9,333.1ZM271.5,160.1 282.8,162.9 286,151.4 285.2,150.3 271.7,150.9ZM151,225.8 147.6,221.3 140.5,220.1 139,222.2 150.8,226.6ZM693.1,509.4 699.6,505.1 699,502.4 694.3,499.1 689.8,504.4 691.9,509ZM165.7,165.4 167.9,162.3 158.7,162 155.4,161.2 154.8,161.8 156.5,164.4ZM152.7,307.4 145.8,302.6 146.2,303.8 152.3,308.4ZM345.3,186.4 354.8,182.9 354,175.7 346.9,173.4 342.6,176.3 341.8,182.7ZM251.2,250 249.2,261.5 250.4,262.3 251.8,261.4 261.8,259.7 261.8,252.2 265.7,252.2 262.4,248.1ZM332.7,469.8 346.3,473.1 349.7,469.4 349.6,462.8 344.8,466.5 336,463.8ZM349.5,459.3 344.1,456 342.1,456.2 349.5,462.4ZM309,228.3 315.3,221.4 313.8,211.6 305.2,206.8 304.5,216.1 300.4,221.2 299.4,221.2ZM437.6,508.6 438.2,509.1 439.5,507.5 437.6,506ZM272.9,428 270.4,423.8 268.6,440.7ZM327.3,257.2 335.6,251.7 334.8,240.3 330,236.6 321.5,240.6 321.5,253.1ZM99.2,257.9 102.7,260.2 105.9,258 105.1,252.2 101.4,250.8ZM260.5,305 255.1,313 257,317.9 265.2,320.8 270.7,317.9 271.2,309.2 265.6,304.4ZM318.2,285 320.9,290.6 321.1,290.6 320.5,287 333.1,287 333.1,287 327,277.8 325.3,277.5ZM235.4,249.1 247.3,246.1 247.4,240.1 245.1,239.6 243.9,236.6 242.9,236.4 243.4,241.3 235,244.6 235,248.1 234.8,248ZM345.6,190.6 345.3,186.4 341.8,182.7 330.6,186 330.3,187 335.4,197.3 341.5,198.2ZM176.6,213.4 187.3,218.4 193.4,208.9 192.6,207.6 180.5,203.9ZM327.5,342.9 328,347 331,347.1 331.2,345.2 328.8,344 328.4,342.5ZM131.3,208.2 128.3,214.9 132.1,212.6ZM310.7,324.7 312.8,319.7 312,317.2 307.6,315.6 307.9,320.5 305.8,324.3ZM297.5,321.6 298.5,323.1 298.7,322.2 304.5,323 302,316.3 300.1,316.4ZM787.6,234.2 791.9,233.7 789.7,231.7ZM219.9,155.2 219.1,155.3 217.4,158.7 211.9,159.3 210.6,161.1 210.7,164 211.4,164.4 211.5,162.9 217.4,162 219.1,165.4 216.3,167.1 219.3,168.8 224.3,164.9 223.9,157.6ZM330.3,187 330.6,186 327.1,176.7 318.7,175.6 315.2,183.2 317.1,183 320.5,179.6 323,185.5 318.8,191 315.8,191 316.2,191.9 317.8,192.6ZM549.3,155.2 542.3,159.9 543.8,160.3 549.8,156.3ZM331.8,450.9 331.6,443.5 328.6,442.2 327.5,453.6ZM599.8,187.5 597.9,180.4 594.7,179.5 594.7,179.4 590.2,183.8 590.4,187.7 591.6,187.3 595.5,188.1 597.1,189.2ZM409.9,456.4 402.5,455.7 401.2,457.5 402.6,463.1 406.3,465.3 410.5,457.5ZM319.3,148.8 326,149.6 329.4,145.2 328,136.4 318.9,135.2 318.7,135.8 317.1,144.6ZM654.5,467.5 651.8,462.2 647.1,463.2 645.5,467.4 646.4,467.6 650.6,471ZM255,130.3 254.1,130.8 255.9,133.5 260.1,138.6 260.2,139 261.7,137.4ZM275.8,236.7 279.1,238.8 289.6,234.8 288.7,222 281.6,219.6 273.6,226.2ZM122.5,166.9 122.2,162.9 118.5,163.7 117.8,166.5 121,167.6ZM134.3,269.9 125.2,270.6 126.9,274 134.7,273.5ZM107.9,198.8 105.1,196 102.9,199.3ZM370.8,329.5 373.1,328.6 375.9,317.9 375.7,317.4 375.3,317.1 367.8,319 366.4,328ZM269.9,173.6 268.9,162.5 263.2,161.7 263.5,162 265.2,168.7 260.5,173.4 266.1,175.4ZM340.9,393.2 339.2,401.3 345.9,402.3 346.8,393.8ZM243.5,309.9 243.6,310 255.1,313 260.5,305 252.7,295.3 246.7,297.4ZM217.8,295.8 214.3,286.4 198,288.1 198,288.7 202.3,293.7 205.7,299.6 215.1,299.6ZM133.3,269.2 134.4,269.4 139.4,266 133.6,263.1 130.2,264.7 131.8,268.6ZM181.8,257.2 185.3,260.3 186.8,256.9 187.7,254.2ZM344.1,456 349.5,459.3 355.2,457.4 358.2,452.1 357.3,451.7 352.3,449.2 348.3,444.4 347.3,444.2 347,443.6ZM355.4,443.3 354,443.1 354,445 355,445 355,445.1 356.8,445.1ZM235,189.6 235,191 235,191 235,196 241.7,197.7 242.6,199.2 242.7,199.2 240.5,188.7ZM229.9,190.4 230.1,191 235,191 235,189.6ZM261.2,195.1 261.8,197.7 268.3,202.6 274.6,197.4 272.6,189.9 264.9,188.4ZM182.5,181 182.4,179.3 176,172.8 168.9,173.8 166,177.8 166.4,183 173.4,188 178.4,186.8ZM309.1,282.9 299.2,280.1 293.6,285 296.8,295 302.2,296 306.9,293.4ZM157.1,190.2 157.7,191 167.1,191 163.8,198 162.8,198 164.6,200.6 170.4,198 173.4,188 166.4,183ZM347.5,225.7 348.9,217.9 347.7,214.2 343.2,211.2 332.5,213.7 329.4,223.6 330.9,225.9ZM191.6,193.9 184.3,195 180.2,202.8 180.5,203.9 192.6,207.6 194.7,196.8ZM237.6,217.4 235,216.1 235,223.7 238.6,224.1 239,223.6ZM225,218.4 224.7,221.5 229.1,222 228,215.9ZM375.9,317.9 373.1,328.6 379,330 379.6,329.7 380.9,322.3ZM294.2,152.6 301.3,144.8 290.3,137.6 285.1,142.5 285.2,150.3 286,151.4ZM320,332 311.6,327.7 306.6,334.8 313.8,334.8 315.4,340.6 315.7,340.6ZM532.2,419.4 534.5,418.8 536.9,413.5 535.8,411.5 531.4,410.9 528.5,415.5ZM437.6,508.6 437.6,506 435.3,504.1 430.2,502.5 432.8,509.2 435.3,510.2ZM219.1,176 219.2,176.2 230.4,177.9 231.8,176.9 233,168.2 224.3,164.9 219.3,168.8ZM327.3,335.9 327.8,338.7 331.4,337.3 335.6,332.2 334.3,330.5ZM236,291.2 235.9,286.9 227.4,282.1 227.1,283.6 223.5,283.1 223.3,287 222.4,287 220.9,296.7 228.6,298.8ZM219.7,277.7 218.5,278.1 214.3,286.4 217.8,295.8 219.7,296.3 221.6,287 220.8,287 222.1,279.1ZM327.1,176.7 330,173.2 316.5,172.4 318.7,175.6ZM267.9,277.3 269.8,279.8 277,279.4 277.7,274 283.7,274 285,269.3 280.1,264.2 269.4,266.3ZM356.5,341.1 354,334.1 349.8,332 346,335.6 346.9,343.6 352.6,346.1ZM152.7,307.4 159.1,305.8 159.2,304.9 158.7,302.9 148.7,292 147.7,291.3 144.8,293.8 144.4,297.9 145.8,302.6ZM160.6,292.7 155.9,289.2 157.1,293.7 159.8,299.2ZM349.7,469.4 346.3,473.1 346.7,479.1 357.9,484.2 359.9,480.7 362,479.3 361,472.4ZM285,269.3 296,267.4 294.8,251.8 281.6,252.6 280.1,264.2ZM302.2,296 296.8,295 295.3,296.4 302.3,296.7ZM136.6,199.7 136.9,194.5 135.3,199.4 134.7,200.8ZM649.5,441 650.1,440.3 648,435.5 644.4,436.4 643.9,441.2ZM735.9,340.3 737.7,336.7 735.3,334 731.5,336.8 732.7,339.7ZM213.6,188.4 208.1,185.9 205.7,191 209,191 208.2,195.2 211.5,195.2 212.4,191 214,191ZM206.8,185.3 204.6,186.2 203.6,190.4 205.7,187.2 206.8,185.3ZM225,218.4 222,216.8 221.6,221.2 224.7,221.5ZM317.1,144.6 315.4,153.7 308,153.7 309.1,155.9 313.9,156.4 319.3,148.8ZM285.1,142.5 290.3,137.6 291,131.1 290.3,131 276.4,128.9 276.4,129 284.4,130.2 282.1,141.1ZM464.3,457.2 465.8,460.5 473.2,458.3 473.6,454.3 468.3,451.2ZM600.6,187.6 599.8,187.5 597.1,189.2 598.7,190.4 601.5,188.3ZM147.4,176.3 150.7,176.8 154.5,174.2 156.5,164.4 154.8,161.8 151.2,165.4 145.6,173.4ZM218.5,278.1 216.2,276.1 200.6,273.1 199,287 197,287 198,288.1 214.3,286.4ZM324.5,318.2 323.5,320.2 324.6,323.9 331.2,326.2 327.2,320.5 326.7,317.4ZM385,484.7 385,486.5 388.4,489.1 391.5,495.4 396.7,491.8 395.9,484.6 388.5,482.1ZM485,448.1 490.4,450 492,449.4 493.7,446.2 493,442.5 489.3,440.7 483.3,444.8ZM508.9,315.2 512.2,313.6 513,312.1 509.6,308 504.7,309 503.8,310.5 504.5,313.5ZM395.9,484.6 396.7,491.8 403.4,493.5 404.9,492.4 406.1,484.6 400.1,484 400.6,481 400,481ZM160.6,292.7 159.8,299.2 160.4,300.4 168,294.5 166.7,290.9ZM184.9,164.6 179.1,165.5 176,172.8 182.4,179.3 184.6,177.3 183.9,175.4 185.6,173.8 188.4,173.8 190.5,171.9 190.3,169.6ZM502.9,303.5 504.7,309 509.6,308 510.9,303.7 509.3,302.2 503.5,302.8ZM320.5,331.9 327.3,335.9 334.3,330.5 331.2,326.2 324.6,323.9ZM370.8,329.5 366.4,328 363.2,329 362.2,330.8 364.3,339.4 369.4,339.4 371.6,337.1ZM246.2,327.5 240.4,322.2 235,323 235,326.4 245.8,328.2ZM313.4,269.4 309.6,282.7 318.2,285 325.3,277.5 319.6,269.7ZM320,332 315.7,340.6 327.2,340.6 327.5,342.9 328.4,342.5 327.2,339 327.8,338.7 327.3,335.9 320.5,331.9ZM553,174.3 553.2,174 557.2,170.1 558.7,167.2 554,167.7 550.1,170.8 549.1,171.8ZM305.1,199.7 311.7,195 306.2,194.4 305.4,191 305.4,191 304.5,184.7 307.6,184.3 301.5,182 297.9,192.7ZM316.2,191.9 315.8,191 313.8,191 313.2,194ZM327.3,257.2 321.5,253.1 311.2,255.9 309.6,265.6 313.4,269.4 319.6,269.7 327.6,260.8ZM161.6,223.8 162.1,216.8 153.4,211.5 147.6,221.3 151,225.8ZM219.7,148.3 220.1,146.1 213.2,145.3 212.4,150.3 218.6,151.4ZM236,291.2 246.7,297.4 252.7,295.3 255,290.7 253.9,287 245,287 245,285.8 237.5,284.9 235.9,286.9ZM136.6,199.7 145.4,204.8 147.9,204.5 149.6,196.9 143.7,195.7 137,194.4 136.9,194.5ZM554.2,180.2 555.7,176.3 551.7,176.3 553,174.3 549.1,171.8 547,174 543.2,176.1 550.3,182.2ZM205,169.4 206.9,167.6 202.3,166.2 201.4,166.7ZM210.7,164 210.6,161.1 209.8,160.6 209.5,165.1ZM201.2,155.7 200.7,155.9 201.3,161.2 203.3,166.2 206,159.5 205.7,158.3ZM365.7,466.7 376.5,475.1 382.3,469.7 382.2,467.7 378.4,463.5 369.7,461.2 366,464.8ZM182.5,181 192.6,185.8 196.8,183 196.7,176.4 195.9,175.8 193.9,177.1 185.6,179.6 184.6,177.3 182.4,179.3ZM190.5,171.9 188.4,173.8 192.3,173.8 192.5,173.3ZM347.4,270.1 342.6,279.3 343.1,279.7 343.9,279.8 343.9,280.4 344.8,281.1 344.8,279.8 353.6,280.7 356.5,276.7 353.6,270.1ZM311.6,327.7 310.7,324.7 305.8,324.3 304.5,326.4 305.4,334.8 306.6,334.8ZM338.4,146.1 340.8,137.8 332.2,136.9 328,136.4 329.4,145.2ZM240.5,188.7 242.7,199.2 249.8,199.1 249.2,197.7 247.6,191 247.6,191 246.5,187.2 241.8,186.9ZM256.2,165.4 255.9,163.7 251.3,164.6ZM283.7,274 289.5,274 289.1,284.5 293.6,285 299.2,280.1 297.2,268.1 296,267.4 285,269.3ZM513,312.1 515.6,311.2 516.9,304.9 514.9,303.1 510.9,303.7 509.6,308ZM242.7,199.2 242.6,199.2 246.7,206.1 250.9,209.4 251.1,211.7 253.3,209.2 252.5,203.7 251.8,203.6 249.8,199.1ZM265.2,320.8 264.9,333.1 270.3,335.7 278.6,329.7 276.5,321.1 270.7,317.9ZM315.1,309.6 311.8,305.7 307.1,305.9 307.6,315.6 312,317.2ZM495,412.7 492.3,418 494,420.2 499.8,420.4 500.9,415.6 496.3,412.4ZM347.9,251.7 349.4,244.6 346.4,238.6 334.8,240.3 335.6,251.7 345.1,255.3ZM330.9,225.9 330,236.6 334.8,240.3 346.4,238.6 348.3,234.6 347.5,225.8 347.5,225.7ZM349.7,331.5 345.7,335.5 346,335.6 349.8,332ZM516.2,320.8 517.5,320.6 520.2,317.2 518.8,312.5 515.6,311.2 513,312.1 512.2,313.6 515.6,320.5ZM353.3,348.5 352.4,350 358.6,351ZM350.6,352.8 350.6,360.7 351.4,362.6 362.6,356.7 361.9,352.7 350.9,352.4ZM655.3,406.3 656.9,401.8 652.1,400.6 649.9,404.6 650.8,405.8ZM543.6,394.1 538.6,395.5 537.9,398.3 541.7,401.6 544.7,400.6 545.5,395.3ZM524,407.8 519.3,405.4 515.3,408.1 518.6,413.7 523.1,412.2ZM532.1,386.7 533.3,384.8 530.9,379.6 527.9,379.3 524.8,382.5 526.2,387.3ZM121,167.6 122.3,169.6 122.7,168.7 122.5,166.9ZM231.8,154 229.6,154.2 223.9,157.6 224.3,164.9 233,168.2 234.3,167.3 236.3,157.9 235,157.3 235,154.9 235,154.9ZM154.5,174.2 150.7,176.8 154.9,189.8 157.1,190.2 166.4,183 166,177.8ZM273,174.7 277.1,185.3 284.4,185.4 288.1,179.6 282.1,170.8ZM176.8,162.6 167.9,162.3 165.7,165.4 168.9,173.8 176,172.8 179.1,165.5ZM230.6,306.7 228.6,298.8 220.9,296.7 219.1,308.8 227.5,311.4ZM217.8,295.8 215.1,299.6 219.1,299.6 219.7,296.3ZM340.9,393.2 346.8,393.8 346.9,392.2 342.3,390.5 339.2,391.2ZM404.9,492.4 403.4,493.5 403.8,500.8 408.5,500.8 408.5,492.8ZM266.1,175.4 260.5,173.4 260.1,173.8 255.1,178.8 258.1,184.8 263.1,185.7ZM173.7,226.6 165.4,228 164.7,230.4 177.2,233.7 179,234.1 178.4,230ZM162.3,238.6 173.4,243.3 179.5,238.3 179.1,235.2 164.3,231.7ZM330.3,187 317.8,192.6 323.2,204.4 326.9,205.2 335.4,197.3ZM187.3,218.4 188.7,223.5 193.9,226.3 195.6,216.1 197,210 193.4,208.9ZM160.6,292.7 166.7,290.9 165.4,287 155.4,287 155.9,289.2ZM259.7,234.9 260.8,232.4 258.5,231.2 251.8,231.2 252.3,234.3ZM355.2,457.4 366,464.8 369.7,461.2 370.1,457.6 369.1,456.7 358.2,452.1ZM235.9,120.4 243.7,122.4 243.7,122.2 237.6,120.5 235.9,120.3ZM564.4,418.3 563.2,416.7 557.2,417.3 556.9,417.6 557.7,422.5 559.4,423.6 563.8,422.1ZM552.7,452.1 551,450.2 547.6,450.7 544.7,454.7 547.5,458.5 552.2,457.3ZM270.4,293 265.6,304.4 271.2,309.2 271.9,309 271.9,308.8 275.2,297.1 275.5,294.1ZM233.8,254.3 235.4,249.1 234.8,248 228.9,246.8 228.2,256.7ZM642.6,346.8 641.5,344.7 641.1,344.5 637.3,345.8 636.3,349.5 640.2,351ZM320.9,290.6 319.8,296.1 321.4,297.7 322.9,297.9 322.1,296.2 321.1,290.6ZM275.1,411.6 274.4,410.8 272.7,410.7 271,418.2 271,418.3ZM288.7,222 289.9,221.3 285.3,214.5 282.1,206.4 278.8,212.5 281.6,219.6ZM101.7,267.9 100.9,261.4 102.7,260.2 99.2,257.9 94,258.3 93.4,266.4 95,272.2 100.2,270.9ZM630,460.1 628.7,453.5 627.9,452.7 622,455.8 622.3,459.6 625.9,461.7ZM518.6,413.7 515.3,408.1 513.4,407.8 511.1,410.1 511.1,415 514.9,417.2 517.3,416.3ZM481.7,454.4 483.1,456.9 488.4,456.5 490.4,450 485,448.1ZM138.1,214.9 140.5,220.1 147.6,221.3 153.4,211.5 152.4,207.5 147.9,204.5 145.4,204.8ZM528.5,415.5 531.4,410.9 529.6,407.4 526.7,406.4 524,407.8 523.1,412.2 526.4,415.6ZM516.9,304.9 520.8,304.7 523.5,300.6 520,296.9 516.2,297.4 514.9,303.1ZM104.3,312.4 103.8,317.9 104,319 104.1,319.4 107.1,324.9 115.5,322.3 116.9,320.2 114.3,316.3 108.5,310.5 104.3,312.1ZM566.5,457.3 568.9,461.3 570.6,461.9 575.6,459.2 573.7,453.7 572.1,453.2 566.8,456.2ZM717.6,386.1 719.4,385.5 721,383 722.6,379.4 718.4,378.3 715.4,381.5ZM499.8,420.4 500.1,420.9 506.9,423.2 507.3,423.1 507.6,416.7 503.6,414.3 500.9,415.6ZM336,463.8 326.8,460.9 328.8,466.8 329.9,471 332.7,469.8ZM331.8,450.9 327.5,453.6 326.8,460.9 338,455.1ZM147.4,176.3 145.6,173.4 145.3,173.8 143.7,178.8 144,179ZM355.9,322.5 354.3,320.9 352.3,323 352.3,326.4ZM304.9,203.5 305.4,203.6 305.2,206.8 313.8,211.6 323.2,204.4 317.8,192.6 316.2,191.9 313.2,194 312.9,195.2 311.7,195 305.1,199.7ZM290.9,320.9 297.5,321.6 300.1,316.4 287.6,317.1ZM264.9,188.4 263.1,185.7 258.1,184.8 258.5,185.5 260.1,191 260.1,191 261.2,195.1ZM102.9,199.3 102.8,199.5 102.5,200.8 107.1,205.6 110.1,201.1 107.9,198.8ZM219.7,277.7 222.1,279.1 222.4,277.3 220.3,276.9ZM235.9,286.9 237.5,284.9 235,284.6 235,282.3 227.5,281.5 227.4,282.1ZM341,346.7 336.3,343.8 335.6,347.3 341.1,348.2ZM331,347.1 335.6,347.3 331.2,345.2ZM119.7,259.9 119.3,260.5 119.9,265.7 125.2,266.4 128.4,262.1 128.1,260.6ZM496.8,309 497.5,310.1 503.8,310.5 504.7,309 502.9,303.5 498,303.8ZM271.2,309.2 270.7,317.9 276.5,321.1 284.8,316.2 284.9,315.5 272.7,314.7 271.9,309ZM239,223.6 244,224.8 244.8,222.7 238.4,217.8 237.6,217.4ZM251.7,217.9 246.9,221.4 252.2,219.8ZM251.3,164.6 247.6,165.4 246.7,172.1 251.8,175.4 256.8,170.4 256.2,165.4ZM355.9,322.5 352.3,326.4 352.3,328.9 349.7,331.5 349.8,332 354,334.1 362.2,330.8 363.2,329 357,322.4ZM287.6,317.1 286.1,317.2 285.3,327.2 287.6,327.1 290.9,320.9ZM276.5,321.1 278.6,329.7 282.8,331 284.8,316.2ZM522.2,325 517.5,320.6 516.2,320.8 514.2,327.5 516.9,330.5 518.6,330ZM535.2,457.2 534.6,449.4 534.4,449.2 527.6,451.2 528.5,456.8 532.8,458.4ZM301.2,162.9 299.3,162.8 295.3,165.9 295,178.2 301.5,181.9 308.3,171ZM104.2,283.8 109.1,287 113.8,287 115.5,285.4 116,282.3 110.1,281.5 107.5,276.2ZM600.6,187.6 601.5,188.3 601.8,188.1 606.5,187.3 609.6,187.6 613.5,186 612.7,184.9 608.8,186.5 606.5,182.6 606.3,182ZM358.6,351 362.4,351.6 364.1,349.2 362.6,341.1 356.5,341.1 352.6,346.1 353.3,348.5ZM574.1,418.7 576.7,415 574.5,410.2 571.1,409.6 569.2,410.3 569,410.6 570.4,417.9 571.8,419ZM225,218.4 228,215.9 227.5,212.8 222.4,211.1 222,216.8ZM194.7,196.8 192.6,207.6 193.4,208.9 197,210 199,201.1 199.7,196.3ZM299.3,162.8 294.2,152.6 286,151.4 282.8,162.9 284,165.2 295.3,165.9ZM672.4,408.4 672.2,414.9 674,416.1 678.7,412.9 678.7,411.6 674.9,408.2ZM361,472.4 365.7,466.7 366,464.8 355.2,457.4 349.5,459.3 349.5,462.4 349.8,462.6 349.6,462.8 349.7,469.4ZM364,283.9 359.5,289.6 368.1,294.3 370.7,291.4 369.7,284.4ZM268.9,162.5 271.5,160.1 271.7,150.9 270.2,148.9 258.9,151 257.8,152.8 258.5,155.3 263.2,161.7ZM533.9,442.5 533.4,443.2 534.4,449.2 534.6,449.4 539.5,449.4 543,445.3 540.1,441.7ZM514.9,417.2 513.8,421.7 517.3,425.6 518.4,425.5 522.5,421.2 517.3,416.3ZM119.3,260.5 119.1,260.5 118.5,265.6 119.9,265.7ZM548.4,356.7 553.8,354.8 554.4,350.6 551,349.1 548,350.6 547.8,356ZM375,301.4 371.6,299.8 371.6,304.1 366.4,304.1 366,307.2 365.4,307.2 365.4,308.4 373.5,309.4 375.3,306.6ZM346.3,473.1 332.7,469.8 329.9,471 330.5,473.5 331.9,479 335.6,482.4 341.4,486 346.7,479.1ZM506.9,482.9 504.1,476.7 498.6,478.2 498.4,482.5 502.3,482 506.8,483.1ZM301.3,144.8 303.2,144.4 304.5,133.2 291,131.1 290.3,137.6ZM289.6,234.8 294,237.4 308.7,231.2 309,228.3 299.4,221.2 290.3,222 289.9,221.3 288.7,222ZM525.8,317.2 525.7,309.9 523.6,309.4 518.8,312.5 520.2,317.2ZM545.2,334.9 541,331.9 538.2,332.8 538.8,338.4 544,340 544.9,338.8ZM350,146.8 349.6,138.6 345.6,138.2 340.8,137.8 338.4,146.1 340.4,149.6 347.6,149.8ZM339.2,391.2 334.7,392.2 334.7,400.6 339.2,401.3 340.9,393.2ZM343.9,280.4 343.9,287 344.8,287 344.8,281.1ZM671.8,310.6 676.6,315.5 678.3,313.8 678.7,310.6 677.4,309 673.6,308.8ZM144.8,293.8 147.7,291.3 144.5,288.7 143.9,293.4ZM355.5,261.9 345.2,256.1 342.7,264.4 347.4,270.1 353.6,270.1 355.6,267.3ZM406.3,465.3 406.3,465.3 402.6,463.1 395.6,466.4 395.5,470.8 404.9,471.7ZM713.8,261 715.2,261.2 719.9,256.6 719.6,253.5 714,252.1 711.7,253.6 711.1,256.1ZM395.5,470.8 394.2,472.7 400,481 402.5,480.8 405.4,472.6 404.9,471.7ZM162.1,216.8 161.6,223.8 165.4,228 173.7,226.6 175,214.2 168.4,212.4ZM588.6,423.3 588.6,427.4 594.9,430.2 597.7,427.2 597.9,424.4 594,420.8 590.5,421.2ZM134.4,269.4 141.1,270.6 142,267.3 139.4,266ZM134.7,273.5 141.1,273.1 135.3,269.8 134.3,269.9ZM366.4,328 367.8,319 362.4,315.8 357,322.4 363.2,329ZM654.9,353.1 657.9,354.8 660.7,351.6 657.8,348.3 654.7,349.9ZM189.5,241.7 179.5,238.3 173.4,243.3 173.4,252.6 178.8,254.7 181.8,257.2 187.7,254.2 188.1,253 189.8,242.3ZM216.3,167.1 214.9,167.9 211,167.9 211.4,164.4 210.7,164 209.5,165.1 209.4,168.2 210.1,170 209,168.2 206.9,167.6 205,169.4 204.8,171.6 209.1,177.1 211.8,176.8 212.1,174.9 212.4,175.4 211.9,176.8 219.1,176 219.3,168.8ZM234.3,167.3 239.9,168.4 239.6,167 240,163.6 237.3,158.3 236.3,157.9ZM261.7,137.4 263,137.2 268.6,127.6 263.1,126.6 255.8,125.3 255,130.3ZM293.6,285 289.1,284.5 289,287 289,296.2 295.3,296.4 296.8,295ZM277.8,411.2 274.4,410.8 275.1,411.6ZM305.1,199.7 297.9,192.7 290.9,194.4 290.3,196 288.6,196 285.8,201.3 304.9,203.5ZM522.8,421.1 527,424.2 530.9,422.7 532.2,419.4 528.5,415.5 526.4,415.6ZM330.6,186 341.8,182.7 342.6,176.3 338.4,173.6 330,173.2 327.1,176.7ZM333.7,286.5 329.7,278.1 342.1,279.6 342.4,279.3 334.2,272.6 327,277.8 333.1,287ZM239,223.6 238.6,224.1 241.7,224.5 242.2,229.8 244,224.8ZM243.9,236.6 242.6,233.5 242.9,236.4ZM132.1,212.6 138.1,214.9 145.4,204.8 136.6,199.7 134.7,200.8 131.9,206.9 131.3,208.2ZM395.6,466.4 402.6,463.1 401.2,457.5 394.6,457.6 393.6,463.9ZM274.6,197.4 268.3,202.6 268.5,202.7 268,202.9 266.6,204 266.2,209.7 266.3,209.9 278.8,212.5 282.1,206.4 281.9,206.1 276.9,200.2 282.2,200.8ZM516.9,304.9 515.6,311.2 518.8,312.5 523.6,309.4 520.8,304.7ZM297.2,268.1 309.6,265.6 311.2,255.9 305.6,250.4 296.2,250.4 294.8,251.8 296,267.4ZM313.9,156.4 309.1,155.9 301.2,162.9 308.3,171 310.4,170.9 310.4,163.7 313.8,159.5 316.7,160.5ZM270.5,142.8 275.9,138.7 272.7,136.1 273.5,128.5 268.6,127.6 263,137.2ZM218.5,278.1 219.7,277.7 220.3,276.9 216.2,276.1ZM720.6,303.8 720,305.3 722.8,308.9 723.2,309 727.1,305.7 726.7,305.2 726.2,302.9ZM240.5,180.2 241.8,186.9 246.5,187.2 245.1,182.1 241.1,179.5ZM524.7,333.3 526.2,328 523.2,325 522.2,325 518.6,330ZM236,140.7 240.6,145.6 242.9,145.7 242,144.5 240,141.1 239.1,140.7 238.4,139.7 236.5,137.1ZM138.1,214.9 132.1,212.6 128.3,214.9 126.9,217.8 139,222.2 140.5,220.1ZM373.1,352.4 369.9,348 364.1,349.2 361.8,352.5 362.6,356.7 363.8,357.7 368,358.5ZM553.1,342.2 550.6,344.4 551,349.1 554.4,350.6 555.5,350.1 556.9,345.7ZM664.9,354.6 661.9,351.5 660.7,351.6 657.9,354.8 658.2,357 658.9,357.7 663,357.9 665,355.9ZM267.9,277.3 269.4,266.3 265.7,262.7 265.5,268.1 268.5,271.4 266,274.8 258.5,275.6 258.3,276.8ZM669.1,303.7 667.8,301.5 664.6,300.9 662,303.7 664.9,307.7 667.4,307ZM287.5,420.9 288.3,420.7 288.6,412.3 282.7,411.7ZM154.9,189.8 150.7,176.8 147.4,176.3 144,179 152,185.5 151.2,191 152.8,191ZM253.3,209.2 266.2,209.7 266.6,204 266.1,203.5 260.1,205.2 252.5,203.7ZM329.4,145.2 326,149.6 329,156.2 335.1,155.7 337.9,154.8 340.4,149.6 338.4,146.1ZM320,332 320.5,331.9 324.6,323.9 323.5,320.2 312.8,319.7 310.7,324.7 311.6,327.7ZM228.6,189.7 229.9,190.4 235,189.6 235,182.3 235,182.3 235,189.6 240.5,188.7 241.8,186.9 240.5,180.2 231.8,176.9 230.4,177.9ZM230,143.3 233,146.8 233.1,147 235,152 235,149.5 235,149.5 235,150.3 236,150.8 236.8,151.9 240.6,145.6 236,140.7ZM235,154.9 235,154.8 235,153.7 231.8,154ZM267.9,289.5 255,290.7 252.7,295.3 260.5,305 265.6,304.4 270.4,293ZM121,167.6 117.8,166.5 116,173.8 120.2,173.8 122.3,169.6ZM266,252.4 265.7,262.7 269.4,266.3 280.1,264.2 281.6,252.6 279.8,250.8ZM269.9,173.6 266.1,175.4 263.1,185.7 264.9,188.4 272.6,189.9 277.1,185.3 273,174.7ZM257.3,334.7 255.4,337.3 256.9,337.5 257.8,335.3ZM250.1,327.4 246.2,327.5 245.8,328.2 251.8,329.2ZM656.5,447.2 656.6,448.4 660.5,450.9 664,448.5 664.1,447.1 660.1,444.7ZM250.1,327.4 257,317.9 255.1,313 243.6,310 240.4,322.2 246.2,327.5ZM156.5,164.4 154.5,174.2 166,177.8 168.9,173.8 165.7,165.4ZM573.2,185.4 580.9,188.5 583.2,178.6 582.9,177.8 581.4,178.2 578.3,180.2 573.6,182.6 572.6,182.8ZM282.8,162.9 271.5,160.1 268.9,162.5 269.9,173.6 273,174.7 282.1,170.8 284,165.2ZM111.5,212.5 112.3,210.9 102.5,200.8 101.8,203.6 101.3,211.9 101.1,215ZM255,130.3 255.8,125.3 253.4,124.8 252.6,128.5 254.1,130.8ZM362,479.3 362.4,479 366.5,477.5 370.7,479 375.6,479.8 376.5,475.1 365.7,466.7 361,472.4ZM329,156.2 326,149.6 319.3,148.8 313.9,156.4 316.7,160.5 318.8,161.2 325.5,158.7 328.3,157.8ZM115.5,322.3 120,331 122.7,331.4 121.8,328.7 119.9,326.4 120.1,325 116.9,320.2ZM112.1,290.9 107.5,295.9 107.6,297.1 115.2,297.9 114.8,292.9ZM554.2,463.7 557.4,465.9 561.3,464 561.2,459.2 559,457.8 554.6,459.2ZM341.4,486 342.3,486.5 351.5,492.4 355.7,488.2 357.9,484.2 346.7,479.1ZM511.1,415 507.6,416.7 507.3,423.1 507.8,423.3 513.8,421.7 514.9,417.2ZM432.3,518.3 431.9,520.6 434.5,520.7ZM394.2,472.7 389.5,474.3 388.5,482.1 395.9,484.6 400,481ZM548.4,356.7 548.4,358.5 552.8,362.7 553.3,362.7 556.1,360.3 556.5,357.3 553.8,354.8ZM422.6,494.1 419.4,492.4 419.4,499.4 422.8,494.8ZM355.4,183.3 354.8,182.9 345.3,186.4 345.6,190.6 354.6,193.4 356.2,192.1ZM192.6,185.8 191.6,193.9 194.7,196.8 199.7,196.3 200.6,191 203.1,191 203.6,190.4 204.6,186.2 196.8,183ZM296.2,250.4 294,237.4 289.6,234.8 279.1,238.8 279.8,250.8 281.6,252.6 294.8,251.8ZM201.5,118 190.9,118.4 190.7,118.6 191.8,125 199.5,127.1 202,119.4ZM583.2,178.6 590.2,183.8 594.7,179.4 594,175.5 590,176.3 585.3,177.1 582.9,177.8ZM211.9,176.8 211.6,177.4 211.8,176.8 209.1,177.1 206.8,185.3 206.8,185.3 211.3,178.4 209.9,182.1 208.1,185.9 213.6,188.4 218.9,184.7 219.2,176.2 219.1,176ZM311.2,255.9 321.5,253.1 321.5,240.6 312,236.9 305.6,250.4ZM357.5,440.5 355.4,443.3 359.8,449.3 362.7,449.2 363,448.9 366.6,440.7 364.8,438.4ZM354,334.1 356.5,341.1 362.6,341.1 364.3,339.4 362.2,330.8ZM321.2,309 322.4,307.8 322.3,307.1 322.1,306.8 322.3,306.7 321.4,297.7 319.8,296.1 314.3,297.7 313.8,299.4 313.8,304.6 312,304.8 311.8,305.7 315.1,309.6ZM372.1,446.5 363,448.9 362.7,449.2 370.1,457.2 371.2,456.2 373.5,448.2ZM153.4,211.5 162.1,216.8 168.4,212.4 164.4,201 152.4,207.5ZM522.5,421.2 522.8,421.1 526.4,415.6 523.1,412.2 518.6,413.7 517.3,416.3ZM272.9,428 268.6,440.7 268.5,441.7 280.4,442.5 280.4,442 280.5,441 280.2,433.3 280.2,429.1ZM364.3,339.4 362.6,341.1 364.1,349.2 369.9,348 371.7,344.8 369.4,339.4ZM346.9,343.6 346,335.6 345.7,335.5 345.6,335.6 336.4,343.1 336.3,343.8 341,346.7ZM180.2,202.8 184.3,195 178.4,186.8 173.4,188 170.4,198ZM599.8,187.5 600.6,187.6 606.3,182 604.9,178.7 600.2,181 597.9,180.4ZM92.7,246.6 93.7,249.7 94.2,254.7 93.4,258.3 99.2,257.9 102.6,247.1ZM358.2,244.4 349.4,244.6 347.9,251.7 358.1,253.1 359.3,252ZM342.8,200 341.5,198.2 335.4,197.3 326.9,205.2 332.5,213.7 343.2,211.2ZM542.3,454.6 539.5,449.4 534.6,449.4 535.2,457.2 538.5,458ZM201.4,166.7 197.6,168.7 199,173.8 195.9,175.8 196.7,176.4 204.8,171.6 205,169.4ZM190.3,169.6 190.5,171.9 192.5,173.3 195.6,168.7 194.6,166ZM264,240.4 275.8,236.7 273.6,226.2 269,224.7 271,232.9 265.2,234.6 260.8,232.4 259.7,234.9ZM487.5,411.4 491.1,410.1 491.9,404.7 486.5,403.7 484.3,407.9ZM525,157.5 524,165.9 526.1,167.4 526.6,166.9 530.9,163.3ZM258.9,151 258,147.7 256.8,148.6 257.8,152.8ZM342.6,176.3 346.9,173.4 346.9,169.1 342.3,169.6 340.6,173.8 338.4,173.6ZM688.1,304.2 684.3,303 682,305.2 683.4,309.2 683.5,309.3 687.7,307.4ZM342.6,279.3 347.4,270.1 342.7,264.4 334.8,267.3 334.2,272.6 342.4,279.3ZM312,304.8 307.1,305.4 307.1,305.9 311.8,305.7ZM306.9,293.4 302.2,296 302.3,296.7 313.2,297ZM227.9,189.8 218.9,184.7 213.6,188.4 214,191 226.6,191Z"/>
<path fill="#dddddd" d="M346.9,169.1 349.8,168.7 350.3,164.7 347,164.3ZM364.8,177.4 365,175.4 364.7,175 360.5,174.3 359,179.6 364.6,178.8ZM365.4,165.9 357.2,165.7 356.5,173.7 364.7,175 366.1,166.7ZM354,200.6 351.3,200.5 350.6,206.9 353.8,207.2ZM354,200.6 354.1,200.6 354.6,193.4 352.1,192.7 351.3,200.5ZM354.1,200.6 354,200.6 353.7,209.1 361.9,210.1 362,210 362.7,201.6 362.4,201.2ZM363.4,192.7 356.2,192.1 354.6,193.4 354.1,200.6 362.4,201.2 363.5,192.9ZM362.4,201.2 362.7,201.6 370.8,202 371.8,193.8 363.5,192.9ZM380.2,194.7 372.2,193.5 371.8,193.8 370.8,202 371.5,202.9 379.7,203 379.7,203ZM380.7,247 385.5,245.2 385.6,237.9 377.4,237.5 376.5,244.6ZM385.8,237.7 385.6,237.9 385.5,245.2 387.5,246.7 394.1,245.9 394.9,238.5ZM387.7,212.2 387.1,220.1 395.6,221.1 395.9,220.8 396.8,212.7 396.5,212.4ZM387.7,212.2 396.5,212.4 396.6,204 396.2,203.6 388.5,203.5 387.9,204 387.6,212.1ZM403.1,246.6 403.5,239.1 403.5,239 395,238.4 394.9,238.5 394.1,245.9 395.2,247.2 402,247.5ZM403.7,229.8 395.2,229.7 395,238.4 403.5,239ZM395.6,221.1 395.1,229.6 395.2,229.7 403.7,229.8 403.9,229.6 404.5,222 395.9,220.8ZM395.9,220.8 404.5,222 404.6,221.9 405,213 404.9,212.9 396.8,212.7ZM412.4,246.3 412.1,239.3 411.9,239.1 403.5,239.1 403.1,246.6 409.5,248.2ZM403.9,229.6 403.7,229.8 403.5,239 403.5,239.1 411.9,239.1 413,230.8ZM413,230.8 413.2,222 404.6,221.9 404.5,222 403.9,229.6 413,230.8ZM413.2,213.6 413.2,213.6 405,213 404.6,221.9 413.2,222 413.4,221.8ZM421.4,231 413,230.8 413,230.8 411.9,239.1 412.1,239.3 421.1,239.6ZM421.5,230.9 421.9,222.4 421.5,222 413.4,221.8 413.2,222 413,230.8 421.4,231ZM421.5,222 421.9,213.5 421.8,213.4 413.2,213.6 413.4,221.8ZM364.6,268.2 364.4,267.9 355.6,267.3 353.6,270.1 356.5,276.7 361.4,277.4 363.9,275.4ZM365.3,252.7 359.3,252 358.1,253.1 357.8,259.9 365.1,260.2 365.1,260.2ZM366.5,245.5 359.1,243.6 358.2,244.4 359.3,252 365.3,252.7 365.3,252.7ZM373.1,253.3 373.3,246.1 368.4,244.3 366.5,245.5 365.3,252.7ZM393.6,269.9 393.8,269.8 394,262.1 387.2,261.7 386.9,262 386.6,269.2ZM394,262.1 394.5,254.6 394.2,254.2 387.5,254.1 387.4,254.2 387.2,261.7 394,262.1ZM394.1,245.9 387.5,246.7 387.5,254.1 394.2,254.2 395.2,247.2ZM400.4,285.1 392.6,284.9 392.5,284.9 392.5,292.1 399.8,292.7 400.7,285.5ZM401.8,255.2 394.5,254.6 394,262.1 401,262.4ZM402,247.5 395.2,247.2 394.2,254.2 394.5,254.6 401.8,255.2 402.2,254.9ZM408.3,270.6 400.8,270.2 400.5,277.7 408,277.8ZM408.8,263.1 408.5,255.6 402.2,254.9 401.8,255.2 401,262.4 401.4,262.9ZM408.5,255.6 409.1,255.1 409.5,248.2 403.1,246.6 402,247.5 402.2,254.9ZM416,263 408.8,263.1 408.5,270.5 415.8,271 415.9,270.9 416.3,263.3ZM416.2,255.7 416.1,255.6 409.1,255.1 408.5,255.6 408.8,263.1 408.8,263.1 416,263ZM416.5,248.4 412.4,246.3 409.5,248.2 409.1,255.1 416.1,255.6ZM416.3,263.3 415.9,270.9 422.8,271.5 423.5,270.8 423.2,263.7 423,263.4ZM423.5,255.6 416.2,255.7 416,263 416.3,263.3 423,263.4 423.9,256ZM386.6,322.4 380.9,322.3 379.6,329.7 386.3,330.3 386.5,330.2 386.8,322.6ZM387.1,315.7 383.5,313.7 375.7,317.4 375.9,317.9 380.9,322.3 386.6,322.4ZM386.5,330.2 393.5,330.7 393.6,330.6 394.2,322.9 386.8,322.6ZM401.5,323.5 400.7,331.3 400.8,331.3 407.9,331.5 408.3,331.2 408.6,324.1ZM407.4,354.3 414.3,354.6 415,346.8 415,346.8 407.6,346.7 407.3,354.1ZM422,347.4 415,346.8 414.3,354.6 414.4,354.7 422.1,354.5ZM347.4,441.9 352.2,442.7 353.1,439.6 345.2,439.2ZM362.7,368 351.4,366.6 351.8,374.5 362.5,374.8 362.6,374.7ZM351.4,366.6 355.4,367.1 352.3,365.8 350.8,365.5ZM404.3,407 403.7,406.2 396.9,406.2 396.3,413.3 396.5,413.5 403.8,413.6ZM467.1,251.7 466.9,245.8 461.5,246 461.3,251.6 461.4,251.7 467,251.8ZM214.9,314.9 211.7,312.7 199.2,321 199.9,330.7 211.7,332.3 214,331.4 215.6,320.7ZM189.6,314.4 187.2,328.9 199.5,331.2 199.9,330.7 199.2,321ZM193,282.5 182.5,287 193.9,287 194.9,284.7ZM303.6,144.5 316.4,143.3 318.7,135.8 318.8,135.2 305.3,133.3 303.5,144.4ZM315.3,170.9 310.4,170.9 310.4,172.1 316.5,172.4ZM326.6,161.7 332.6,169.8 341.3,162 337.6,155.5 335.1,155.7 328.3,157.8ZM337.6,155.5 341.3,162 346.1,163 350.2,155.9 349.8,155.2 338.9,154.5 337.9,154.8ZM228.2,205.5 233.3,201.3 231.3,194.8 222.4,196 224.1,202.7 225.4,204.7ZM250.3,212.7 251.7,217.9 251.8,217.8 251.1,211.7ZM347.4,441.9 345.2,439.2 344.8,439.1 347,443.6ZM168.3,318 166.8,310.8 161.6,307.4 168.3,318.1ZM158.2,249 155.4,254.7 154.9,260.9 159.6,261.1 162.7,256.6ZM173.4,253.3 165.4,250 158.7,248 158.2,249 162.7,256.6 173.4,254.7ZM303.5,144.4 303.2,144.4 302,153.7 308,153.7 303.6,144.5ZM350.6,365.4 343.9,364.1 344.3,366.6ZM173.4,254.7 162.7,256.6 159.6,261.1 160.9,266.6 174.7,270.7 179,266.8 178.5,258.9ZM216.3,167.1 219.1,165.4 217.4,162 211.5,162.9 211.4,164.4ZM317.1,144.6 318.7,135.8 316.4,143.3ZM214.7,300.2 205.7,300.4 205.3,304.2 210.2,306.5ZM200.3,268 199.9,264.7 194.3,254.8 188.3,253.9 188,254 185.2,260.5 181.3,257.5 178.5,258.9 179,266.8 193.1,275.1ZM347,443.6 347.3,444.2 351.5,445 352.2,442.7 347.4,441.9ZM233.3,201.3 235,201.5 235,194.4 231.3,194.8ZM240,201.9 242.6,199.2 241.7,197.7 235,196 235,201.5ZM237.3,215.9 235,215.3 235,216.1 237.6,217.4ZM332.6,170 332.6,169.8 326.6,161.7 318.4,163 315.3,170.9 316.5,172.4 330,173.2ZM199.9,264.7 199,255.5 194.3,254.8ZM173.8,287 182.5,287 193,282.5 193.1,275.1 179,266.8 174.7,270.7 177.2,271.4 176.3,278.1 171.9,280.7ZM316.4,143.3 303.6,144.5 308,153.7 315.4,153.7 317.1,144.6ZM193.1,275.1 193,282.5 194.9,284.7 200.6,271.4 200.3,268ZM173.6,305 168.8,296.2 159.4,302.4 159.3,303.8 161.6,307.4 166.8,310.8ZM235,201.5 235,215.3 237.3,215.9 242.2,211.5 240,201.9ZM233.3,201.3 228.2,205.5 228.8,208.1 235,209.4 235,201.5ZM766.6,230.6 770.2,232.4 773.1,230.7 774,226.1 772.5,224 767.8,223.3 766.4,224.1ZM759.5,239.9 763.3,238.3 762.1,232.3 760.9,231.8 755.6,234.3 755.5,237.2ZM303.2,333.9 304,333.9 303.7,328.1 299.5,330.6 299.5,331.5ZM240,201.9 242.2,211.5 250.3,212.7 251.1,211.7 250.9,209.4 246.7,206.1 242.6,199.2ZM216.5,314.7 217.4,308.8 219.1,300.1 214.7,300.2 210.2,306.5 211.7,312.7 214.9,314.9ZM171.9,280.7 170.5,281.5 172.1,287 173.8,287ZM344.3,366.6 344.8,369.1 350.6,370.8 351.7,372.8 351.4,366.6 350.8,365.5 350.6,365.4ZM237.3,215.9 237.6,217.4 238.4,217.8 245.1,222.8 251.7,217.9 250.3,212.7 242.2,211.5ZM758.7,243.6 753.4,243.5 752.6,246.4 754,248.6 755.4,248 760.1,246.2ZM154.9,260.9 154.5,264.7 160.9,266.6 159.6,261.1ZM228.2,205.5 225.4,204.7 227.5,207.8 228.8,208.1ZM299.5,331.5 299.5,333.9 303.2,333.9ZM303.5,144.4 305.3,133.3 304.5,133.2 303.2,144.4ZM439,536.2 439,535.3 431.1,529.4 431.1,537.7 436.7,537.7ZM435.3,521.5 430.5,529 439.5,535.7 439.5,527.6 440.3,522.6 440.6,521.9ZM138.6,287 139.5,290.4 143.7,291.2 144.5,287 142.8,287 142.8,281.5 138.6,284 137.8,287ZM173.4,254.7 178.5,258.9 181.3,257.5 178.8,255.5 173.4,253.3ZM205.3,304.2 204.8,309.6 190.6,308.8 189.6,314.4 199.2,321 211.7,312.7 210.2,306.5ZM211.4,164.4 211,167.9 214.9,167.9 216.3,167.1ZM436.7,537.7 439,537.7 439,536.2ZM332.6,170 330,173.2 338.4,173.6ZM316.7,160.5 313.8,159.5 310.4,163.7 310.4,170.9 315.3,170.9 318.4,163ZM762.1,232.3 763.3,238.3 765.2,239.2 770.1,235.9 770.2,232.4 766.6,230.6ZM770.1,235.9 765.2,239.2 766.3,242.7 767,243 770.9,242.7 773.8,241.3 774.6,239.9ZM760.1,246.2 762.1,245.5 763.7,245.1 766.3,242.7 765.2,239.2 763.3,238.3 759.5,239.9 758.7,243.6ZM199.5,331.2 209.9,333.1 211.7,332.3 199.9,330.7ZM214.9,314.9 215.6,320.7 216.5,314.7ZM756,225.9 752.6,228.1 752.5,231.8 755.6,234.3 760.9,231.8 759.2,227ZM326.6,161.7 328.3,157.8 325.5,158.7 318.8,161.2 316.7,160.5 318.4,163ZM767,243 767.3,244.2 768.8,243.8 770.9,242.7ZM767,243 766.3,242.7 763.7,245.1 767.3,244.2ZM166.8,310.8 168.3,318 169.5,318.5 172.1,317.2 173.8,305.4 173.6,305ZM753.4,243.5 758.7,243.6 759.5,239.9 755.5,237.2 751.8,240.3ZM332.6,169.8 332.6,170 338.4,173.6 340.6,173.8 342.3,169.6 346.9,169.1 347,164.3 346.1,163 341.3,162ZM759.2,227 760.9,231.8 762.1,232.3 766.6,230.6 766.4,224.1 763.3,223.6Z"/>
<path fill="#1a7562" d="M503.2,206.6 495.6,207.4 495.9,215.3 500.5,215.1 505.7,211.4 505.4,208.6ZM642,271.5 641.6,265.6 640,264.4 636.1,268.2 636.8,271.9ZM648.5,276.2 648.8,275.7 647.8,270.5 642.1,271.6 642.9,276.7 643.1,276.9ZM648.8,275.7 654.1,275.2 653.6,269.7 653.2,269.4 647.9,270.4 647.8,270.5ZM652.7,264 652.3,263.7 647.1,264.5 646.8,264.9 647.9,270.4 653.2,269.4ZM659.9,274.4 654.4,275.4 654.9,280.9 655,281 660.6,280.1 660.8,279.8 660.1,274.5ZM657.9,263.2 652.7,264 653.2,269.4 653.6,269.7 658.8,269 659.1,268.4ZM772.5,224 775.3,218.4 770.5,215.6 767.9,216.6 767.8,223.3ZM746.5,234.7 744.1,228.7 741.6,227.8 737.5,230.3 736.8,233.3 741.8,237.3ZM135.9,345.3 138.9,339 137.6,337.4 123.9,334.8 129.4,344 129.9,346.2ZM800.2,148.7 800.8,160.8 802.4,162.2 811.7,156.7 808.2,155.3 807.3,151.1 802.3,152 801.2,147.6ZM138.9,339 141.9,338.2 137.6,337.4ZM147,319.9 139.3,318.8 135,323 143.7,321.4 148.5,321.8ZM170.6,382.9 172.6,387.1 192.6,391 194.2,387.6 194.4,385.5 186.4,378.3 186,378.3ZM138.9,339 135.9,345.3 139.5,354.6 152.4,357.7 152.9,357.7 156.5,356.1 156.7,355.3 157.7,348.3 149.6,339.7 141.9,338.2ZM800.8,160.8 790,160.6 789.8,160.7 789.5,164.4 793.9,162 789.4,165.9 792.6,170.7 797.4,169.4 799.7,168.1 799,163.7 800.9,160.9ZM785.2,144.9 785.3,145.9 787.5,147.7 787.2,147 786.3,142.8ZM791.7,151.1 794.6,150.3 793.9,148.6 791.4,141.9 787.6,142.8 788.7,148.6ZM148.5,321.8 152.9,322.2 151.2,313.8 150.5,312.4 147,319.9ZM143.2,159 141.1,158.3 137,155.7 137,159.5 140.3,160.7 144.3,161.5ZM146.2,373.9 146.3,373.9 147.7,379.6 153.4,378.9 153.7,378.3 149.5,372.5 147.8,372.9 151.2,370.8 154.5,358.7 152.6,358.4ZM165.8,377.5 165.9,375.5 152,372.8 154,378.3 153.9,378.9ZM156.5,356.1 152.9,357.7 156.2,358.2 156.5,356.1ZM786.3,142.8 785.6,139.4 778.6,142.1 785.2,144.9ZM165.8,377.5 153.9,378.9 152.9,383 153.8,383 154.5,383.5 167.9,386.1 170.5,382.9ZM147.7,379.6 147.8,380 151.2,383 153.4,378.9ZM139.3,318.8 147,319.9 150.5,312.4 147.8,307.1 137,314.2ZM157.7,348.3 158.7,341.5 149.6,339.7ZM680.6,248.1 681.2,248.2 686.3,244.9 683.8,240.6 680,241.3 678.3,245.3ZM127.9,164.6 123.9,163.7 123.9,166.3ZM785.3,145.9 785.2,144.9 778.6,142.1 776.8,142.8 779.4,152.5ZM165.8,377.5 170.5,382.9 170.6,382.9 186,378.3 178.8,378 165.9,375.5ZM135.9,345.3 129.9,346.2 131.1,351.5 138.6,355.7 139.5,354.6ZM732.4,224.8 736.8,221 735.6,216.4 729.9,215.6 728.1,219.4ZM144.3,161.5 146.7,162 147,160.4 143.2,159ZM121.8,317.2 130,324.3 130.2,323.9 135,323 139.3,318.8 137,314.2 133.6,316.3 126.1,311.3 125.2,311.7ZM123.9,166.3 123.9,168.7 128.2,169.6 130.2,165.1 127.9,164.6ZM121.8,317.2 125.2,311.7 124.4,312.1 120.2,314.7 120.7,317.5ZM683.8,240.6 686.3,244.9 687.2,245.2 692,241.6 690.3,237.3 684.9,238.1ZM139.5,354.6 138.6,355.7 138.6,355.7 152.4,357.7ZM152.6,358.4 138.6,356 135.3,367.1 139.5,365.8 140.3,370.8 144.5,375 146.2,373.9ZM806.9,170.1 810.7,168.7 814.9,165.4 816.6,162 812.4,157 811.7,156.7 803.1,161.8 803.1,162 805.3,168.5ZM789.4,165.9 788.1,167.1 790.6,171.3 792.6,170.7ZM705.5,240.6 702.5,242.3 702.4,248.1 705.5,249.8 705.8,249.7 711,243.8 710.6,242.9ZM194.4,385.5 195.5,385 196.4,383 199,383 200.6,378.8 186.4,378.3ZM788.7,148.6 789.7,154.5 787.5,147.7 785.3,145.9 779.4,152.5 779.7,153.6 781.4,158.4 789.8,160.7 790,160.6 791.7,151.1ZM120.7,317.5 121,319.7 119.9,326.4 122.7,329.7 127.7,328.9 130,324.3 121.8,317.2ZM722.2,223.5 728.5,228.2 732.3,225.3 732.4,224.8 728.1,219.4 722.6,221ZM680,241.3 677,238 676.6,238.8 672.8,241.8 675.9,245.2 678.3,245.3ZM791.7,151.1 790,160.6 800.8,160.8 800.4,152.9 796.4,154.5 794.6,150.3ZM757.4,251.2 753.7,253 752,255 752.9,257.2 756.2,255.5 758.8,253.5ZM670.3,248.5 672.9,249.3 675.9,245.2 672.8,241.8 672.4,242.1 669.2,246.2ZM789.8,160.7 781.4,158.4 781.2,158.6 783.9,167.4 789.5,164.4ZM744.8,207.2 746.2,201.4 741.7,199.6 738.6,201.8 739.5,207.2ZM719.2,280.2 715.9,284.4 717.3,286.2 723.5,285.9 721.8,280.4ZM170.5,382.9 167.9,386.1 172.6,387.1 170.6,382.9Z"/>
<path fill="#1a7562" stroke-width="0.6" d="M779.7,153.7 783.9,167.4 793.9,162 789.7,154.5 787.2,147 785.6,139.4 776.8,142.8ZM789.7,154.5 793.9,162 788.1,167.1 790.6,171.3 799.8,168.7 799,163.7 802.3,158.7 800.6,152.8 796.4,154.5 793.9,148.6 791.4,141.9 787.6,142.8ZM800.6,153.7 803.1,162 806,170.4 810.7,168.7 814.9,165.4 816.6,162 812.4,157 808.2,155.3 807.3,151.1 802.3,152ZM120.2,314.7 121,319.7 119.9,326.4 122.7,329.7 127.7,328.9 130.2,323.9 143.7,321.4 152.9,322.2 151.2,313.8 147.8,307.1 133.6,316.3 126.1,311.3 124.4,312.1ZM129.4,344 131.1,351.5 138.6,355.7 156.2,358.2 158.7,341.5 123.9,334.8ZM135.3,367.1 139.5,365.8 140.3,370.8 144.5,375 151.2,370.8 154.5,358.7 138.6,356ZM147.8,380 151.2,383 153.7,378.3 149.5,372.5 146.2,373.3ZM154,378.3 152.9,383 199,383 200.6,378.8 178.8,378 152,372.8Z"/>
</g>
<g fill="none" stroke="#fff" stroke-width="1.4" stroke-linejoin="round" stroke-linecap="round">
<polyline points="127.7,142.4 132.8,143.6 136.1,147.0 138.3,150.3 139.0,153.7 142.8,156.7 147.3,158.7 152.9,159.5 158.7,161.7 165.4,162.0 175.5,162.0 185.6,162.4 193.9,164.0 202.3,166.2 209.0,168.2"/>
<polyline points="209.0,168.2 212.4,173.8 211.5,178.0 209.0,182.1 205.7,187.2 203.1,191.0"/>
<polyline points="447.3,143.8 448.3,152.0 449.5,160.4 451.2,167.1 452.0,173.8 452.9,182.1 454.5,191.0"/>
<polyline points="509.9,183.5 508.2,186.3 507.3,191.0"/>
<polyline points="739.5,180.5 741.1,186.3 742.8,191.0"/>
<polyline points="766.3,168.7 768.8,177.1 771.3,185.5 772.5,191.0"/>
<polyline points="200.6,191.0 199.0,201.1 195.6,216.1 193.6,227.9 192.3,237.1"/>
<polyline points="454.5,191.0 453.7,196.9 452.0,202.7 456.2,207.8 457.1,239.6"/>
<polyline points="455.4,239.9 521.6,238.8"/>
<polyline points="456.2,239.9 454.5,246.3 456.2,254.7 457.1,258.0 458.7,264.7 461.3,274.8 463.8,287.0"/>
<polyline points="385.0,246.0 430.2,249.2 435.3,250.0 442.0,251.7 448.7,253.3 453.7,256.4 457.1,258.0"/>
<polyline points="505.7,191.0 500.6,201.1 502.3,212.8 509.0,220.3 517.4,228.7 521.6,234.6 521.6,238.8 524.1,244.6 529.1,252.2 535.0,257.2"/>
<polyline points="546.7,191.0 561.8,201.1 566.8,206.9 570.2,206.4"/>
<polyline points="535.0,254.7 566.8,252.7"/>
<polyline points="573.2,267.3 574.4,287.0"/>
<polyline points="582.4,263.4 607.9,261.9 625.5,261.1"/>
<polyline points="607.9,262.2 609.6,287.0"/>
<polyline points="662.4,250.5 666.6,287.0"/>
<polyline points="672.4,247.1 685.0,245.0"/>
<polyline points="685.0,246.3 701.8,243.0 718.5,239.6 728.6,237.9 732.8,243.0 736.1,248.0 735.3,254.7 735.3,261.4 740.3,265.6 742.0,269.8 737.0,273.1 733.6,276.5 731.1,279.8 731.9,287.0"/>
<polyline points="736.6,247.6 750.4,252.7"/>
<polyline points="743.7,191.0 746.2,201.1 749.5,211.1 751.2,218.7 750.4,229.5 749.5,241.3 750.4,249.7"/>
<polyline points="773.0,191.0 776.3,197.7 780.2,205.2"/>
<polyline points="751.2,218.7 763.8,216.1 775.5,211.9 780.5,208.6"/>
<polyline points="751.2,229.9 773.8,227.0"/>
<polyline points="214.0,331.4 210.7,344.0 208.2,347.3 204.8,345.7 200.6,345.7 199.8,354.0 199.0,365.8"/>
<polyline points="463.8,287.0 467.1,293.7 472.1,302.9 476.3,306.3 473.8,310.5 478.8,314.7 480.5,317.2 481.4,363.3 482.2,365.8 483.9,383.0"/>
<polyline points="468.0,290.7 522.4,289.5"/>
<polyline points="482.2,363.3 535.0,361.6"/>
<polyline points="525.8,287.0 522.4,293.7 524.1,298.7 529.1,305.4 532.5,312.1 535.0,317.2"/>
<polyline points="574.4,287.0 576.1,317.2 574.4,323.9 571.0,330.6 571.9,335.6"/>
<polyline points="609.6,287.0 612.9,308.8"/>
<polyline points="571.9,335.6 578.6,333.1 587.0,332.2 593.7,328.1 597.0,329.7 602.0,323.0 607.1,316.3 612.9,309.6 617.1,308.8 622.1,312.1 628.8,314.7 635.6,312.1 640.6,314.7 643.9,318.8 645.6,315.5 650.6,310.5 652.3,305.4 657.3,300.4 662.4,295.4 664.0,290.4 664.0,287.0"/>
<polyline points="643.9,318.8 646.4,325.5 652.3,330.6 658.2,335.6"/>
<polyline points="658.2,335.6 652.3,340.6 645.6,344.8 637.2,349.0"/>
<polyline points="658.2,335.6 667.4,332.2 672.4,328.9 677.5,323.9 679.1,317.2 682.5,308.8 685.0,302.1"/>
<polyline points="549.2,360.7 573.5,356.5 602.0,353.2 637.2,349.3 660.7,346.5 685.0,344.0"/>
<polyline points="535.0,317.2 540.0,320.5 540.9,328.9 545.1,335.6 550.1,342.3 553.4,349.0 556.8,351.5 554.3,357.4 550.9,361.6 547.6,370.8 545.1,383.0"/>
<polyline points="571.9,335.6 566.8,340.6 564.3,345.7 558.5,348.2 556.8,351.5"/>
<polyline points="535.0,362.1 542.5,361.6 541.7,369.1 545.9,369.5"/>
<polyline points="668.2,287.0 669.1,289.5 685.0,287.0"/>
<polyline points="731.0,278.1 733.3,288.3 735.2,298.0"/>
<polyline points="700.0,285.7 705.2,290.9 711.7,296.1 716.3,301.3 717.0,305.2 721.5,303.9"/>
<polyline points="196.4,383.0 192.3,391.4 192.3,395.6 194.8,398.1 191.4,399.8 190.6,403.9"/>
<polyline points="405.4,383.0 405.1,398.1 411.8,400.6 418.5,403.9 425.2,405.6 431.9,406.5 433.6,409.0 438.6,408.1 443.7,412.3 447.8,409.8 452.0,411.5 457.1,412.3 463.8,410.7 472.1,409.8 478.8,411.5 485.6,414.0 489.7,414.8 490.6,424.9 492.3,433.3 493.9,446.7 497.3,453.4 499.0,458.4 497.3,466.8 496.4,479.0"/>
<polyline points="483.9,383.0 484.7,413.5"/>
<polyline points="490.6,424.9 535.0,423.2"/>
<polyline points="574.4,386.4 573.9,424.9 576.1,456.7 576.9,466.8"/>
<polyline points="587.0,458.4 587.8,455.9 627.2,453.4 652.3,454.2 670.7,454.7 671.6,450.0 677.5,449.7 685.0,450.9"/>
<polyline points="496.4,479.0 496.4,482.7"/>
<polyline points="529.8,183.4 537.6,187.3 547.0,190.4 554.8,192.0 560.3,195.1 562.6,201.4 565.8,206.9 567.0,210.0"/>
<polyline points="685.0,344.0 737.0,334.8"/>
<polyline points="523.0,238.3 525.8,247.0 531.0,254.0 537.3,262.7 536.2,269.7 529.3,276.6 525.8,285.3 523.5,293.0"/>
<polyline points="660.4,347.9 653.7,355.1 645.3,361.8 636.9,368.5 628.5,376.0 627.2,379.7"/>
<polyline points="543.2,388.3 551.7,387.8 560.3,387.2 568.8,386.5 577.3,385.8 585.9,385.1 594.4,384.3 602.9,383.4 611.4,382.5 619.9,381.5 628.4,380.5 636.9,379.4 645.4,378.3"/>
<polyline points="642.0,378.2 647.8,375.2 657.0,372.2 672.1,371.0 678.0,375.5 693.9,374.4 704.0,381.9 714.0,387.3"/>
<polyline points="642.8,378.9 642.3,383.6 647.8,388.6 654.5,396.1 660.4,402.8 666.3,407.0 673.8,413.7 678.8,418.8 683.0,423.0"/>
<polyline points="610.1,383.2 615.1,397.0 620.2,413.7 624.4,427.1 623.5,436.0 627.2,453.4"/>
<polyline points="368.0,139.7 366.0,162.8 364.0,186.1 362.1,209.4 360.1,232.8 358.1,256.3 356.1,279.8"/>
<polyline points="275.8,198.9 283.0,200.0 290.2,201.1 297.3,202.1 304.5,203.1 311.7,204.1 318.9,205.0 326.0,205.8 333.2,206.6 340.4,207.4 347.6,208.1 354.8,208.8 362.1,209.4"/>
<polyline points="274.7,205.9 273.1,216.3 271.4,226.8 269.7,237.2 268.0,247.7 266.4,258.2 264.7,268.7"/>
<polyline points="264.7,268.7 274.4,270.2 284.2,271.6 294.0,273.0 303.8,274.3 313.5,275.5 323.4,276.6 333.2,277.7 343.0,278.7 352.8,279.6 362.6,280.4 372.5,281.1 382.3,281.8"/>
<polyline points="382.3,281.8 381.6,293.6 380.8,305.4 380.1,317.2 379.3,329.0 378.6,340.8 377.8,352.6"/>
<polyline points="381.2,299.5 388.7,299.9 396.2,300.4 403.6,300.7 411.1,301.0 418.6,301.3 426.1,301.6 433.6,301.7 441.1,301.9 448.6,302.0 456.1,302.0 463.6,302.1 471.1,302.0"/>
<polyline points="359.1,244.6 365.0,245.1 370.9,245.5 376.8,245.9 382.7,246.3 388.6,246.7 394.5,247.1 400.4,247.4 406.3,247.7 412.2,247.9 418.1,248.1 424.0,248.3 429.9,248.5"/>
<polyline points="363.5,193.0 371.1,193.6 378.7,194.2 386.3,194.7 393.9,195.1 401.6,195.6 409.2,195.9 416.8,196.3 424.5,196.5 432.1,196.8 439.7,196.9 447.4,197.0 455.0,197.1"/>
<polyline points="100.2,212.4 108.5,214.9 116.7,217.3 125.0,219.7 133.2,222.0 141.5,224.3 149.8,226.5 158.1,228.6 166.5,230.7 174.8,232.7 183.2,234.7 191.6,236.6 200.0,238.5 208.4,240.3 216.8,242.0 225.2,243.7 233.6,245.3 242.1,246.9 250.5,248.4 259.0,249.8 267.5,251.2"/>
<polyline points="290.7,272.6 288.4,289.5 286.0,306.5 283.7,323.5 281.3,340.5 279.0,357.5 276.6,374.5 274.3,391.5 271.9,408.5 269.6,425.4 267.3,442.3"/>
<polyline points="212.4,331.5 221.3,333.2 230.1,334.8 239.0,336.4 247.9,337.9 256.8,339.3 265.7,340.7 274.6,342.0 283.5,343.2 292.4,344.4 301.4,345.5 310.3,346.6 319.2,347.6 328.2,348.5 337.2,349.4 346.1,350.2 355.1,351.0 364.1,351.7 373.1,352.3 382.0,352.9 391.0,353.4 400.0,353.8 409.0,354.2 418.0,354.6 427.0,354.8 436.0,355.0 445.0,355.2 454.0,355.3 463.0,355.3 472.0,355.3 481.0,355.2"/>
<polyline points="363.8,351.7 362.7,366.4 361.6,381.1 360.5,395.9 359.4,410.6 358.3,425.3 357.2,440.0"/>
<polyline points="304.6,435.1 309.0,435.6 313.4,436.0 317.8,436.5 322.2,436.9 326.5,437.4 330.9,437.8 335.3,438.2 339.7,438.6 344.1,438.9 348.4,439.3 352.8,439.6 357.2,440.0"/>
<polyline points="363.1,360.5 366.7,360.8 370.3,361.0 373.8,361.3 377.4,361.5 380.9,361.7 384.5,361.9 388.1,362.1 391.6,362.3 395.2,362.5 398.8,362.7 402.3,362.8 405.9,363.0"/>
<polyline points="405.9,363.0 405.6,368.7 405.4,374.5 405.2,380.2 404.9,385.9 404.7,391.6 404.4,397.4"/>
<polyline points="229.2,244.5 226.4,259.0 223.6,273.5 220.8,288.0 218.0,302.5 215.2,317.0 212.4,331.5"/>
<polyline points="153.9,227.5 151.7,236.1 149.5,244.7 147.3,253.3 145.0,261.8 142.8,270.4 140.6,279.0"/>
<polyline points="140.6,279.0 147.3,289.9 154.0,300.7 161.0,311.5 168.0,322.2 175.2,332.9 182.5,343.6 190.0,354.2 197.6,364.8 199.0,365.8 200.6,372.5 201.5,378.3 199.0,383.0"/>
<polyline points="218.2,116.6 216.6,123.9 214.9,131.2 213.3,138.5 211.6,145.9 210.0,153.2 208.3,160.5 209.0,168.2"/>
<polyline points="227.5,118.9 227.2,135.0 230.2,142.2 232.9,149.3 237.3,158.3 240.0,163.6 239.1,170.8 236.5,177.9 235.6,181.9 241.8,180.6 244.5,183.3 247.2,190.4 250.8,199.4 253.4,204.7 261.5,206.9 268.6,203.0 272.2,205.6 274.0,201.2 276.7,199.4"/>
<polyline points="544.1,380.0 542.0,388.3 536.8,396.7 532.6,407.1 531.5,415.5 533.6,423.8 532.6,428.0 536.8,435.3 532.6,442.6 529.4,450.9 527.4,458.2 554.5,458.2 557.6,463.4 560.7,471.8"/>
<polyline points="668.3,290.2 673.5,289.3 678.7,288.4 683.9,287.5 689.1,286.6 694.3,285.6 699.5,284.7 704.6,283.7 709.8,282.6 715.0,281.6 720.2,280.5 725.3,279.5 730.5,278.4"/>
<polyline points="762.8,171.1 763.8,180.5 760.7,188.9 758.6,199.3 759.7,207.7 758.6,216.0"/>
<polyline points="510.6,182.6 507.5,184.5 506.4,188.0 505.7,191.0"/>
</g>
<path fill="#dddddd" d="M110.1,493.3 108.1,490.7 104.1,490.3 106.1,492.3ZM128.2,471.2 132.3,474.2 131.3,477.2 126.2,477.2 124.2,476.2 117.2,479.2 118.2,483.2 120.2,486.3 126.2,487.3 133.3,488.3 134.3,493.3 132.3,496.3 124.2,497.3 119.2,500.3 117.2,505.4 118.2,509.4 124.2,508.8 118.2,510.4 119.2,515.4 123.2,516.4 128.2,519.4 129.2,522.5 134.3,524.5 138.3,523.5 142.9,520.5 141.3,524.1 138.3,528.5 134.7,533.3 130.9,537.1 124.8,540.8 117.8,545 110.7,548.4 103.5,551.8 102.1,554 108.5,551.8 116.6,549 124.6,545.4 132.7,541.4 138.1,537.7 142.7,532.9 145.7,529.3 149,526.5 150.4,524.5 152.4,521.5 154.4,517.4 156.4,513.4 161.4,512.4 159,517.4 158.4,522.5 162.4,521.5 167.5,517.4 167.9,512.4 171.5,510 177.5,512.4 183.6,514.8 186.6,513.4 193.6,515.4 200.6,519.4 205.7,522.1 211.7,525.5 217.7,530.5 221.8,534.5 225.8,538.1 229.8,535.5 233.4,533.5 232.8,530.5 227.8,527.5 221.8,524.5 215.7,519.4 210.7,513.4 207.3,514.8 204.7,519.4 199.6,515.4 194.6,511.4 190,510.4 188.6,502.3 186.6,492.3 183.6,480.2 181.5,470.2 179.9,462.1 178.5,456.5 173.5,454.1 170.5,455.1 165.5,453.7 160.4,454.1 156.4,453.1 149.4,451.1 145.3,449.1 140.3,451.7 133.3,455.1 128.2,460.1 123.2,462.1 126.2,467.2ZM114.8,512.8 112.2,512.4 114.2,515.4ZM156.4,534.1 154.4,531.5 149.8,534.5 152.4,537.5Z"/>
<g fill="none" stroke="#fff" stroke-width="0.5"><polyline points="126.2,465.1 149.4,469.2 169.5,465.1 179.5,463.1"/><polyline points="149.4,469.2 150.4,477.2 138.3,479.2 136.3,488.3 133.3,489.3"/><polyline points="136.3,488.3 133.3,499.3 117.2,505.4"/><polyline points="133.3,499.3 153.4,505.4 155.4,501.3"/><polyline points="153.4,494.3 165.5,489.9"/><polyline points="153.4,494.3 154.4,502.3"/><polyline points="173.5,490.3 183.6,480.2"/><polyline points="172.5,498.3 181.5,496.3 188.6,502.3"/><polyline points="171.5,508.4 183.6,510.4 186.6,513.4"/><polyline points="118.2,509.4 133.3,505.4 133.3,499.3"/><polyline points="128.2,519.4 134.3,512.4 145.3,512.0 145.3,519.4"/><polyline points="145.3,512.0 154.4,511.4"/></g>
<path fill="#004b87" stroke="#fff" stroke-width="0.5" d="M165.9,485.9 171.5,483.8 177.1,485.9 174.5,488.3 170.5,489.9 166.5,489.3ZM155,501.3 163.4,497.3 171.5,496.3 172.5,502.3 171.1,508 163.4,509.4 155.4,510ZM154.4,510 159.4,510 156.4,517.4 152.4,522.5 149.8,524.1 151,520.5 153,515.4ZM159.8,513.4 166.5,512 167.1,517.4 160.4,522.1 158.4,520.5Z"/>
<path fill="#1e80d6" d="M163.4,509.4 163.8,511.4 165.9,511.4 166.5,508.8Z"/>
<path fill="#1e80d6" d="M251.4,500.5 255.1,497.8 258.8,498.3 257.1,503.8ZM276.6,509.2 281.1,507 286.1,513.7 278.9,513.7ZM292.8,517.2 297,516.2 299,518.4 293.7,517.9ZM302.9,520.9 308.7,520.1 312.9,522.2 313.4,524.6 307.9,526.4 306.2,523.4ZM316.8,532.3 325.5,536.8 328.8,541.8 333,544.7 330.5,547.7 323.8,550.2 319.6,555.3 316.3,553.6 316.3,546 312.9,541.3Z"/>
</svg>
<div class="t title" id="title">Market Concentration by County, 2024</div>
<span class="sw" style="left:32px;top:43px;background:#00b388"></span>
<div class="t lg" id="l1" style="left:48.8px;top:43px;letter-spacing:0.35px">Not Concentrated (0 counties)</div>
<span class="sw" style="left:283px;top:43px;background:#1a7562"></span>
<div class="t lg" id="l2" style="left:299.4px;top:43px;letter-spacing:0.41px">Moderately Concentrated (30 total counties)</div>
<span class="sw" style="left:638px;top:43px;background:#1e80d6"></span>
<div class="t lg" id="l3" style="left:654.8px;top:43px;letter-spacing:0.49px">Highly Concentrated</div>
<div class="t lg" id="l3b" style="left:32px;top:69.8px;letter-spacing:0.32px">(2,524 total counties)</div>
<span class="sw" style="left:199px;top:70px;background:#004b87"></span>
<div class="t lg" id="l4" style="left:216px;top:69.8px;letter-spacing:0.33px">Very Highly Concentrated (574 total counties)</div>
<div class="zc"><div class="p"></div><div class="m"></div>
<svg width="28" height="58" style="position:absolute;left:0;top:0"><path d="M9.1 14.9h10.2M14.2 9.8v10.2" stroke="#505050" stroke-width="2" fill="none"/><path d="M9.1 43.8h10.2" stroke="#7a7a7a" stroke-width="2" fill="none"/></svg></div>
</body></html>
